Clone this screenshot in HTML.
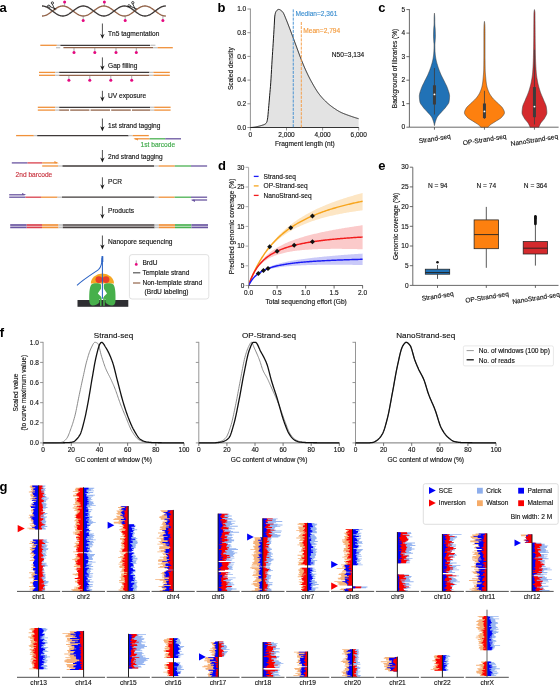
<!DOCTYPE html><html><head><meta charset="utf-8"><title>Figure</title><style>html,body{margin:0;padding:0;background:#fff;overflow:hidden;}svg{display:block;}</style></head><body><svg width="560" height="685" viewBox="0 0 560 685" font-family="Liberation Sans, Arial, sans-serif"><text x="-0.6" y="11.5" font-size="13" font-weight="bold" fill="#000">a</text>
<path d="M42,16 L42.48,16 L42.96,15.97 L43.43,15.91 L43.91,15.83 L44.39,15.72 L44.87,15.59 L45.35,15.43 L45.82,15.25 L46.3,15.05 L46.78,14.82 L47.26,14.58 L47.74,14.31 L48.21,14.03 L48.69,13.73 L49.17,13.42 L49.65,13.09 L50.13,12.76 L50.6,12.41 L51.08,12.06 L51.56,11.7 L52.04,11.33 L52.52,10.97 L52.99,10.6 L53.47,10.24 L53.95,9.88 L54.43,9.53 L54.91,9.18 L55.38,8.85 L55.86,8.53 L56.34,8.21 L56.82,7.92 L57.3,7.64 L57.77,7.38 L58.25,7.14 L58.73,6.91 L59.21,6.72 L59.69,6.54 L60.16,6.39 L60.64,6.26 L61.12,6.15 L61.6,6.08 L62.08,6.03 L62.55,6 L63.03,6 L63.51,6.03 L63.99,6.09 L64.47,6.17 L64.94,6.28 L65.42,6.41 L65.9,6.57 L66.38,6.75 L66.86,6.95 L67.33,7.18 L67.81,7.42 L68.29,7.69 L68.77,7.97 L69.25,8.27 L69.72,8.58 L70.2,8.91 L70.68,9.25 L71.16,9.59 L71.64,9.95 L72.11,10.31 L72.59,10.67 L73.07,11.03 L73.55,11.4 L74.03,11.76 L74.5,12.12 L74.98,12.47 L75.46,12.82 L75.94,13.15 L76.42,13.48 L76.89,13.79 L77.37,14.08 L77.85,14.36 L78.33,14.62 L78.81,14.87 L79.28,15.09 L79.76,15.29 L80.24,15.46 L80.72,15.62 L81.2,15.74 L81.67,15.85 L82.15,15.92 L82.63,15.97 L83.11,16 L83.59,16 L84.06,15.97 L84.54,15.91 L85.02,15.83 L85.5,15.72 L85.98,15.59 L86.45,15.43 L86.93,15.25 L87.41,15.05 L87.89,14.82 L88.37,14.57 L88.84,14.31 L89.32,14.03 L89.8,13.73 L90.28,13.42 L90.76,13.09 L91.23,12.75 L91.71,12.41 L92.19,12.05 L92.67,11.69 L93.15,11.33 L93.62,10.96 L94.1,10.6 L94.58,10.24 L95.06,9.88 L95.54,9.52 L96.01,9.18 L96.49,8.84 L96.97,8.52 L97.45,8.21 L97.93,7.91 L98.4,7.64 L98.88,7.37 L99.36,7.13 L99.84,6.91 L100.32,6.71 L100.79,6.54 L101.27,6.38 L101.75,6.26 L102.23,6.15 L102.71,6.08 L103.18,6.03 L103.66,6 L104.14,6 L104.62,6.03 L105.09,6.09 L105.57,6.17 L106.05,6.28 L106.53,6.41 L107.01,6.57 L107.48,6.75 L107.96,6.96 L108.44,7.18 L108.92,7.43 L109.4,7.69 L109.87,7.98 L110.35,8.27 L110.83,8.59 L111.31,8.91 L111.79,9.25 L112.26,9.6 L112.74,9.95 L113.22,10.31 L113.7,10.67 L114.18,11.04 L114.65,11.4 L115.13,11.77 L115.61,12.13 L116.09,12.48 L116.57,12.82 L117.04,13.16 L117.52,13.48 L118,13.79 L118.48,14.09 L118.96,14.37 L119.43,14.63 L119.91,14.87 L120.39,15.09 L120.87,15.29 L121.35,15.47 L121.82,15.62 L122.3,15.75 L122.78,15.85 L123.26,15.92 L123.74,15.97 L124.21,16 L124.69,15.99 L125.17,15.97 L125.65,15.91 L126.13,15.83 L126.6,15.72 L127.08,15.59 L127.56,15.43 L128.04,15.25 L128.52,15.04 L128.99,14.82 L129.47,14.57 L129.95,14.31 L130.43,14.02 L130.91,13.72 L131.38,13.41 L131.86,13.08 L132.34,12.75 L132.82,12.4 L133.3,12.05 L133.77,11.69 L134.25,11.32 L134.73,10.96 L135.21,10.59 L135.69,10.23 L136.16,9.87 L136.64,9.52 L137.12,9.17 L137.6,8.84 L138.08,8.52 L138.55,8.21 L139.03,7.91 L139.51,7.63 L139.99,7.37 L140.47,7.13 L140.94,6.91 L141.42,6.71 L141.9,6.53 L142.38,6.38 L142.86,6.25 L143.33,6.15 L143.81,6.08 L144.29,6.03 L144.77,6 L145.25,6.01 L145.72,6.03 L146.2,6.09 L146.68,6.17 L147.16,6.28 L147.64,6.42 L148.11,6.57 L148.59,6.76 L149.07,6.96 L149.55,7.19 L150.03,7.43 L150.5,7.7 L150.98,7.98 L151.46,8.28 L151.94,8.59 L152.42,8.92 L152.89,9.26 L153.37,9.6 L153.85,9.96 L154.33,10.32 L154.81,10.68 L155.28,11.05 L155.76,11.41 L156.24,11.77 L156.72,12.13 L157.2,12.48 L157.67,12.83 L158.15,13.16 L158.63,13.49 L159.11,13.8 L159.59,14.09 L160.06,14.37 L160.54,14.63 L161.02,14.87 L161.5,15.09 L161.98,15.29 L162.45,15.47 L162.93,15.62 L163.41,15.75 L163.89,15.85 L164.37,15.93 L164.84,15.97 L165.32,16 L165.8,15.99" fill="none" stroke="#93644a" stroke-width="1.35" />
<path d="M42,6 L42.48,6 L42.96,6.03 L43.43,6.09 L43.91,6.17 L44.39,6.28 L44.87,6.41 L45.35,6.57 L45.82,6.75 L46.3,6.95 L46.78,7.18 L47.26,7.42 L47.74,7.69 L48.21,7.97 L48.69,8.27 L49.17,8.58 L49.65,8.91 L50.13,9.24 L50.6,9.59 L51.08,9.94 L51.56,10.3 L52.04,10.67 L52.52,11.03 L52.99,11.4 L53.47,11.76 L53.95,12.12 L54.43,12.47 L54.91,12.82 L55.38,13.15 L55.86,13.47 L56.34,13.79 L56.82,14.08 L57.3,14.36 L57.77,14.62 L58.25,14.86 L58.73,15.09 L59.21,15.28 L59.69,15.46 L60.16,15.61 L60.64,15.74 L61.12,15.85 L61.6,15.92 L62.08,15.97 L62.55,16 L63.03,16 L63.51,15.97 L63.99,15.91 L64.47,15.83 L64.94,15.72 L65.42,15.59 L65.9,15.43 L66.38,15.25 L66.86,15.05 L67.33,14.82 L67.81,14.58 L68.29,14.31 L68.77,14.03 L69.25,13.73 L69.72,13.42 L70.2,13.09 L70.68,12.75 L71.16,12.41 L71.64,12.05 L72.11,11.69 L72.59,11.33 L73.07,10.97 L73.55,10.6 L74.03,10.24 L74.5,9.88 L74.98,9.53 L75.46,9.18 L75.94,8.85 L76.42,8.52 L76.89,8.21 L77.37,7.92 L77.85,7.64 L78.33,7.38 L78.81,7.13 L79.28,6.91 L79.76,6.71 L80.24,6.54 L80.72,6.38 L81.2,6.26 L81.67,6.15 L82.15,6.08 L82.63,6.03 L83.11,6 L83.59,6 L84.06,6.03 L84.54,6.09 L85.02,6.17 L85.5,6.28 L85.98,6.41 L86.45,6.57 L86.93,6.75 L87.41,6.95 L87.89,7.18 L88.37,7.43 L88.84,7.69 L89.32,7.97 L89.8,8.27 L90.28,8.58 L90.76,8.91 L91.23,9.25 L91.71,9.59 L92.19,9.95 L92.67,10.31 L93.15,10.67 L93.62,11.04 L94.1,11.4 L94.58,11.76 L95.06,12.12 L95.54,12.48 L96.01,12.82 L96.49,13.16 L96.97,13.48 L97.45,13.79 L97.93,14.09 L98.4,14.36 L98.88,14.63 L99.36,14.87 L99.84,15.09 L100.32,15.29 L100.79,15.46 L101.27,15.62 L101.75,15.74 L102.23,15.85 L102.71,15.92 L103.18,15.97 L103.66,16 L104.14,16 L104.62,15.97 L105.09,15.91 L105.57,15.83 L106.05,15.72 L106.53,15.59 L107.01,15.43 L107.48,15.25 L107.96,15.04 L108.44,14.82 L108.92,14.57 L109.4,14.31 L109.87,14.02 L110.35,13.73 L110.83,13.41 L111.31,13.09 L111.79,12.75 L112.26,12.4 L112.74,12.05 L113.22,11.69 L113.7,11.33 L114.18,10.96 L114.65,10.6 L115.13,10.23 L115.61,9.87 L116.09,9.52 L116.57,9.18 L117.04,8.84 L117.52,8.52 L118,8.21 L118.48,7.91 L118.96,7.63 L119.43,7.37 L119.91,7.13 L120.39,6.91 L120.87,6.71 L121.35,6.53 L121.82,6.38 L122.3,6.25 L122.78,6.15 L123.26,6.08 L123.74,6.03 L124.21,6 L124.69,6.01 L125.17,6.03 L125.65,6.09 L126.13,6.17 L126.6,6.28 L127.08,6.41 L127.56,6.57 L128.04,6.75 L128.52,6.96 L128.99,7.18 L129.47,7.43 L129.95,7.69 L130.43,7.98 L130.91,8.28 L131.38,8.59 L131.86,8.92 L132.34,9.25 L132.82,9.6 L133.3,9.95 L133.77,10.31 L134.25,10.68 L134.73,11.04 L135.21,11.41 L135.69,11.77 L136.16,12.13 L136.64,12.48 L137.12,12.83 L137.6,13.16 L138.08,13.48 L138.55,13.79 L139.03,14.09 L139.51,14.37 L139.99,14.63 L140.47,14.87 L140.94,15.09 L141.42,15.29 L141.9,15.47 L142.38,15.62 L142.86,15.75 L143.33,15.85 L143.81,15.92 L144.29,15.97 L144.77,16 L145.25,15.99 L145.72,15.97 L146.2,15.91 L146.68,15.83 L147.16,15.72 L147.64,15.58 L148.11,15.43 L148.59,15.24 L149.07,15.04 L149.55,14.81 L150.03,14.57 L150.5,14.3 L150.98,14.02 L151.46,13.72 L151.94,13.41 L152.42,13.08 L152.89,12.74 L153.37,12.4 L153.85,12.04 L154.33,11.68 L154.81,11.32 L155.28,10.95 L155.76,10.59 L156.24,10.23 L156.72,9.87 L157.2,9.52 L157.67,9.17 L158.15,8.84 L158.63,8.51 L159.11,8.2 L159.59,7.91 L160.06,7.63 L160.54,7.37 L161.02,7.13 L161.5,6.91 L161.98,6.71 L162.45,6.53 L162.93,6.38 L163.41,6.25 L163.89,6.15 L164.37,6.07 L164.84,6.03 L165.32,6 L165.8,6.01" fill="none" stroke="#3f3a39" stroke-width="1.35" />
<line x1="64.6" y1="6" x2="64.6" y2="1.9" stroke="#777" stroke-width="0.6" />
<circle cx="64.6" cy="1.9" r="1.5" fill="#e5087f" />
<line x1="104.4" y1="6" x2="104.4" y2="1.9" stroke="#777" stroke-width="0.6" />
<circle cx="104.4" cy="1.9" r="1.5" fill="#e5087f" />
<line x1="83.2" y1="16" x2="83.2" y2="20.4" stroke="#777" stroke-width="0.6" />
<circle cx="83.2" cy="20.4" r="1.5" fill="#e5087f" />
<line x1="125.2" y1="16" x2="125.2" y2="20.4" stroke="#777" stroke-width="0.6" />
<circle cx="125.2" cy="20.4" r="1.5" fill="#e5087f" />
<line x1="162.9" y1="16" x2="162.9" y2="20.4" stroke="#777" stroke-width="0.6" />
<circle cx="162.9" cy="20.4" r="1.5" fill="#e5087f" />
<g transform="translate(0,0)" stroke="#111" stroke-width="0.8" fill="none"><circle cx="52.4" cy="3.0" r="1.15"/><ellipse cx="48.9" cy="6.2" rx="1.5" ry="0.95" transform="rotate(18 48.9 6.2)"/><path d="M52.4,4.2 L55.0,10.2 M50.3,6.8 L56.4,9.2"/></g>
<g transform="translate(80.4,-0.3)" stroke="#111" stroke-width="0.8" fill="none"><circle cx="52.4" cy="3.0" r="1.15"/><ellipse cx="48.9" cy="6.2" rx="1.5" ry="0.95" transform="rotate(18 48.9 6.2)"/><path d="M52.4,4.2 L55.0,10.2 M50.3,6.8 L56.4,9.2"/></g>
<line x1="102.4" y1="23.5" x2="102.4" y2="35.8" stroke="#333" stroke-width="0.85" />
<path d="M100.2,33.8 L102.4,38.8 L104.6,33.8 L102.4,35.4 Z" fill="#151515" stroke="none" stroke-width="1" />
<text x="108" y="35.91" font-size="6.6" fill="#111" stroke="#111" stroke-width="0.13">Tn5 tagmentation</text>
<line x1="102.4" y1="57.4" x2="102.4" y2="67.4" stroke="#333" stroke-width="0.85" />
<path d="M100.2,65.4 L102.4,70.4 L104.6,65.4 L102.4,67 Z" fill="#151515" stroke="none" stroke-width="1" />
<text x="108" y="67.51" font-size="6.6" fill="#111" stroke="#111" stroke-width="0.13">Gap filling</text>
<line x1="102.4" y1="90.8" x2="102.4" y2="98.6" stroke="#333" stroke-width="0.85" />
<path d="M100.2,96.6 L102.4,101.6 L104.6,96.6 L102.4,98.2 Z" fill="#151515" stroke="none" stroke-width="1" />
<text x="108" y="98.01" font-size="6.6" fill="#111" stroke="#111" stroke-width="0.13">UV exposure</text>
<line x1="102.4" y1="118.5" x2="102.4" y2="128.2" stroke="#333" stroke-width="0.85" />
<path d="M100.2,126.2 L102.4,131.2 L104.6,126.2 L102.4,127.8 Z" fill="#151515" stroke="none" stroke-width="1" />
<text x="108" y="127.91" font-size="6.6" fill="#111" stroke="#111" stroke-width="0.13">1st strand tagging</text>
<line x1="102.4" y1="150" x2="102.4" y2="159.4" stroke="#333" stroke-width="0.85" />
<path d="M100.2,157.4 L102.4,162.4 L104.6,157.4 L102.4,159 Z" fill="#151515" stroke="none" stroke-width="1" />
<text x="108" y="159.11" font-size="6.6" fill="#111" stroke="#111" stroke-width="0.13">2nd strand tagging</text>
<line x1="102.4" y1="177.3" x2="102.4" y2="186.3" stroke="#333" stroke-width="0.85" />
<path d="M100.2,184.3 L102.4,189.3 L104.6,184.3 L102.4,185.9 Z" fill="#151515" stroke="none" stroke-width="1" />
<text x="108" y="184.21" font-size="6.6" fill="#111" stroke="#111" stroke-width="0.13">PCR</text>
<line x1="102.4" y1="206.2" x2="102.4" y2="215.8" stroke="#333" stroke-width="0.85" />
<path d="M100.2,213.8 L102.4,218.8 L104.6,213.8 L102.4,215.4 Z" fill="#151515" stroke="none" stroke-width="1" />
<text x="108" y="212.91" font-size="6.6" fill="#111" stroke="#111" stroke-width="0.13">Products</text>
<line x1="102.4" y1="235.5" x2="102.4" y2="246.5" stroke="#333" stroke-width="0.85" />
<path d="M100.2,244.5 L102.4,249.5 L104.6,244.5 L102.4,246.1 Z" fill="#151515" stroke="none" stroke-width="1" />
<text x="108" y="243.51" font-size="6.6" fill="#111" stroke="#111" stroke-width="0.13">Nanopore sequencing</text>
<line x1="40.3" y1="45.3" x2="56.8" y2="45.3" stroke="#f0913a" stroke-width="1.3" />
<line x1="56.8" y1="45.3" x2="60.4" y2="45.3" stroke="#c4c4c4" stroke-width="1.3" />
<line x1="60.4" y1="45.3" x2="150.2" y2="45.3" stroke="#3f3a39" stroke-width="1.3" />
<line x1="151" y1="45.3" x2="155.4" y2="45.3" stroke="#c4c4c4" stroke-width="1.3" />
<line x1="56" y1="47.7" x2="60.2" y2="47.7" stroke="#c4c4c4" stroke-width="1.3" />
<line x1="63.4" y1="47.7" x2="153.2" y2="47.7" stroke="#93644a" stroke-width="1.3" />
<line x1="153.2" y1="47.7" x2="157.6" y2="47.7" stroke="#c4c4c4" stroke-width="1.3" />
<line x1="157.6" y1="47.7" x2="172.8" y2="47.7" stroke="#f0913a" stroke-width="1.3" />
<line x1="74" y1="47.7" x2="74" y2="52.6" stroke="#777" stroke-width="0.6" />
<circle cx="74" cy="52.6" r="1.5" fill="#e5087f" />
<line x1="94.8" y1="47.7" x2="94.8" y2="52.6" stroke="#777" stroke-width="0.6" />
<circle cx="94.8" cy="52.6" r="1.5" fill="#e5087f" />
<line x1="116" y1="47.7" x2="116" y2="52.6" stroke="#777" stroke-width="0.6" />
<circle cx="116" cy="52.6" r="1.5" fill="#e5087f" />
<line x1="136.3" y1="47.7" x2="136.3" y2="52.6" stroke="#777" stroke-width="0.6" />
<circle cx="136.3" cy="52.6" r="1.5" fill="#e5087f" />
<line x1="39" y1="72.4" x2="55.2" y2="72.4" stroke="#f0913a" stroke-width="1.3" />
<line x1="55.2" y1="72.4" x2="59.2" y2="72.4" stroke="#c4c4c4" stroke-width="1.3" />
<line x1="59.2" y1="72.4" x2="149.4" y2="72.4" stroke="#3f3a39" stroke-width="1.3" />
<line x1="149.4" y1="72.4" x2="153.4" y2="72.4" stroke="#c4c4c4" stroke-width="1.3" />
<line x1="153.4" y1="72.4" x2="169.8" y2="72.4" stroke="#f0913a" stroke-width="1.3" />
<line x1="39" y1="75.3" x2="55.2" y2="75.3" stroke="#f0913a" stroke-width="1.3" />
<line x1="55.2" y1="75.3" x2="59.2" y2="75.3" stroke="#c4c4c4" stroke-width="1.3" />
<line x1="59.2" y1="75.3" x2="149.4" y2="75.3" stroke="#93644a" stroke-width="1.3" />
<line x1="149.4" y1="75.3" x2="153.4" y2="75.3" stroke="#c4c4c4" stroke-width="1.3" />
<line x1="153.4" y1="75.3" x2="169.8" y2="75.3" stroke="#f0913a" stroke-width="1.3" />
<line x1="68.9" y1="75.3" x2="68.9" y2="80.2" stroke="#777" stroke-width="0.6" />
<circle cx="68.9" cy="80.2" r="1.5" fill="#e5087f" />
<line x1="89.8" y1="75.3" x2="89.8" y2="80.2" stroke="#777" stroke-width="0.6" />
<circle cx="89.8" cy="80.2" r="1.5" fill="#e5087f" />
<line x1="110.8" y1="75.3" x2="110.8" y2="80.2" stroke="#777" stroke-width="0.6" />
<circle cx="110.8" cy="80.2" r="1.5" fill="#e5087f" />
<line x1="131.7" y1="75.3" x2="131.7" y2="80.2" stroke="#777" stroke-width="0.6" />
<circle cx="131.7" cy="80.2" r="1.5" fill="#e5087f" />
<line x1="37.8" y1="107.3" x2="55.2" y2="107.3" stroke="#f0913a" stroke-width="1.3" />
<line x1="55.2" y1="107.3" x2="59.2" y2="107.3" stroke="#c4c4c4" stroke-width="1.3" />
<line x1="59.2" y1="107.3" x2="150.2" y2="107.3" stroke="#3f3a39" stroke-width="1.3" />
<line x1="150.2" y1="107.3" x2="154.2" y2="107.3" stroke="#c4c4c4" stroke-width="1.3" />
<line x1="154.2" y1="107.3" x2="170.6" y2="107.3" stroke="#f0913a" stroke-width="1.3" />
<line x1="37.8" y1="110.1" x2="55.2" y2="110.1" stroke="#f0913a" stroke-width="1.3" />
<line x1="55.2" y1="110.1" x2="59.2" y2="110.1" stroke="#c4c4c4" stroke-width="1.3" />
<line x1="59.2" y1="110.1" x2="69" y2="110.1" stroke="#93644a" stroke-width="1.3" />
<line x1="70.2" y1="110.1" x2="89.4" y2="110.1" stroke="#93644a" stroke-width="1.3" />
<line x1="90.6" y1="110.1" x2="110" y2="110.1" stroke="#93644a" stroke-width="1.3" />
<line x1="111.2" y1="110.1" x2="130.8" y2="110.1" stroke="#93644a" stroke-width="1.3" />
<line x1="132" y1="110.1" x2="150.2" y2="110.1" stroke="#93644a" stroke-width="1.3" />
<line x1="150.2" y1="110.1" x2="154.2" y2="110.1" stroke="#c4c4c4" stroke-width="1.3" />
<line x1="154.2" y1="110.1" x2="170.6" y2="110.1" stroke="#f0913a" stroke-width="1.3" />
<line x1="16.1" y1="135.6" x2="33.8" y2="135.6" stroke="#f0913a" stroke-width="1.3" />
<line x1="33.8" y1="135.6" x2="37.2" y2="135.6" stroke="#c4c4c4" stroke-width="1.3" />
<line x1="37.2" y1="135.6" x2="128.6" y2="135.6" stroke="#3f3a39" stroke-width="1.3" />
<line x1="128.6" y1="135.6" x2="132.7" y2="135.6" stroke="#c4c4c4" stroke-width="1.3" />
<line x1="132.7" y1="135.6" x2="148.8" y2="135.6" stroke="#f0913a" stroke-width="1.3" />
<line x1="134.6" y1="138.8" x2="149.6" y2="138.8" stroke="#f0913a" stroke-width="1.3" />
<line x1="149.6" y1="138.8" x2="165.2" y2="138.8" stroke="#4bb152" stroke-width="1.3" />
<line x1="165.2" y1="138.8" x2="181" y2="138.8" stroke="#6a55a0" stroke-width="1.3" />
<path d="M133.4,138.5 L138,138.5 L138,140.6 Z" fill="#f0913a" stroke="none" stroke-width="1" />
<text x="140.6" y="146.91" font-size="6.6" fill="#3aa845" stroke="#3aa845" stroke-width="0.13">1st barcode</text>
<line x1="11.8" y1="162.9" x2="27.5" y2="162.9" stroke="#6a55a0" stroke-width="1.3" />
<line x1="27.5" y1="162.9" x2="42.2" y2="162.9" stroke="#d9414d" stroke-width="1.3" />
<line x1="42.2" y1="162.9" x2="57.2" y2="162.9" stroke="#f0913a" stroke-width="1.3" />
<path d="M58.8,163.2 L54.4,163.2 L54.4,161 Z" fill="#f0913a" stroke="none" stroke-width="1" />
<line x1="42.2" y1="166" x2="58" y2="166" stroke="#f0913a" stroke-width="1.3" />
<line x1="58" y1="166" x2="62.5" y2="166" stroke="#c4c4c4" stroke-width="1.3" />
<line x1="62.5" y1="166" x2="154" y2="166" stroke="#3f3a39" stroke-width="1.3" />
<line x1="154" y1="166" x2="158.6" y2="166" stroke="#c4c4c4" stroke-width="1.3" />
<line x1="158.6" y1="166" x2="174.8" y2="166" stroke="#f0913a" stroke-width="1.3" />
<line x1="174.8" y1="166" x2="191" y2="166" stroke="#4bb152" stroke-width="1.3" />
<line x1="191" y1="166" x2="207.1" y2="166" stroke="#6a55a0" stroke-width="1.3" />
<text x="15.6" y="177.41" font-size="6.6" fill="#c8303c" stroke="#c8303c" stroke-width="0.13">2nd barcode</text>
<line x1="9.2" y1="194.8" x2="24.6" y2="194.8" stroke="#6a55a0" stroke-width="1.3" />
<path d="M26.4,195.1 L22,195.1 L22,192.9 Z" fill="#6a55a0" stroke="none" stroke-width="1" />
<line x1="9.2" y1="197.2" x2="25.5" y2="197.2" stroke="#6a55a0" stroke-width="1.3" />
<line x1="25.5" y1="197.2" x2="41" y2="197.2" stroke="#d9414d" stroke-width="1.3" />
<line x1="41" y1="197.2" x2="57.5" y2="197.2" stroke="#f0913a" stroke-width="1.3" />
<line x1="57.5" y1="197.2" x2="62" y2="197.2" stroke="#c4c4c4" stroke-width="1.3" />
<line x1="62" y1="197.2" x2="154.4" y2="197.2" stroke="#3f3a39" stroke-width="1.3" />
<line x1="154.4" y1="197.2" x2="158.6" y2="197.2" stroke="#c4c4c4" stroke-width="1.3" />
<line x1="158.6" y1="197.2" x2="174.6" y2="197.2" stroke="#f0913a" stroke-width="1.3" />
<line x1="174.6" y1="197.2" x2="191" y2="197.2" stroke="#4bb152" stroke-width="1.3" />
<line x1="191" y1="197.2" x2="207.1" y2="197.2" stroke="#6a55a0" stroke-width="1.3" />
<line x1="192.4" y1="200" x2="207.1" y2="200" stroke="#6a55a0" stroke-width="1.3" />
<path d="M190.6,199.7 L195,199.7 L195,201.9 Z" fill="#6a55a0" stroke="none" stroke-width="1" />
<line x1="10.2" y1="225" x2="26.7" y2="225" stroke="#6a55a0" stroke-width="1.7" />
<line x1="26.7" y1="225" x2="42" y2="225" stroke="#d9414d" stroke-width="1.7" />
<line x1="42" y1="225" x2="58.5" y2="225" stroke="#f0913a" stroke-width="1.7" />
<line x1="58.5" y1="225" x2="62.8" y2="225" stroke="#c4c4c4" stroke-width="1.7" />
<line x1="62.8" y1="225" x2="154.6" y2="225" stroke="#4a4242" stroke-width="1.7" />
<line x1="154.6" y1="225" x2="158.8" y2="225" stroke="#c4c4c4" stroke-width="1.7" />
<line x1="158.8" y1="225" x2="175" y2="225" stroke="#f0913a" stroke-width="1.7" />
<line x1="175" y1="225" x2="191.4" y2="225" stroke="#4bb152" stroke-width="1.7" />
<line x1="191.4" y1="225" x2="208" y2="225" stroke="#6a55a0" stroke-width="1.7" />
<line x1="10.2" y1="227.4" x2="26.7" y2="227.4" stroke="#6a55a0" stroke-width="1.7" />
<line x1="26.7" y1="227.4" x2="42" y2="227.4" stroke="#d9414d" stroke-width="1.7" />
<line x1="42" y1="227.4" x2="58.5" y2="227.4" stroke="#f0913a" stroke-width="1.7" />
<line x1="58.5" y1="227.4" x2="62.8" y2="227.4" stroke="#c4c4c4" stroke-width="1.7" />
<line x1="62.8" y1="227.4" x2="154.6" y2="227.4" stroke="#4a4242" stroke-width="1.7" />
<line x1="154.6" y1="227.4" x2="158.8" y2="227.4" stroke="#c4c4c4" stroke-width="1.7" />
<line x1="158.8" y1="227.4" x2="175" y2="227.4" stroke="#f0913a" stroke-width="1.7" />
<line x1="175" y1="227.4" x2="191.4" y2="227.4" stroke="#4bb152" stroke-width="1.7" />
<line x1="191.4" y1="227.4" x2="208" y2="227.4" stroke="#6a55a0" stroke-width="1.7" />
<rect x="77.5" y="300" width="50.8" height="6.8" fill="#2e2e32" />
<path d="M90.8,283.6 A11.6,10 0 0 1 114,283.6 Z" fill="#f5a623"/>
<circle cx="98.9" cy="279.6" r="3.4" fill="#e8402a" />
<circle cx="106" cy="279.6" r="3.4" fill="#e8402a" />
<path d="M101.0,284.6 C99.6,282.8 93.6,282.6 91.4,284.6 C89.3,287 89.1,295 89.3,301 C89.5,304.3 90.8,305.4 92.8,305.4 C95.6,305.4 98.3,303.9 99.4,302.2 L99.4,299.4 L101.0,298 Z" fill="#47b04b"/>
<path d="M101.0,284.6 C99.6,282.8 93.6,282.6 91.4,284.6 C89.3,287 89.1,295 89.3,301 C89.5,304.3 90.8,305.4 92.8,305.4 C95.6,305.4 98.3,303.9 99.4,302.2 L99.4,299.4 L101.0,298 Z" fill="#47b04b" transform="translate(204.8,0) scale(-1,1)"/>
<path d="M102.4,286.6 L97.8,293.4 L102.4,298 L107,293.4 Z" fill="#fff" stroke="none" stroke-width="1" />
<rect x="100" y="297.4" width="1.6" height="8.4" fill="#47b04b" />
<rect x="103.2" y="297.4" width="1.6" height="8.4" fill="#47b04b" />
<line x1="102.4" y1="256.2" x2="102.4" y2="298.8" stroke="#2a62c4" stroke-width="1.05" />
<path d="M102.1,258 C102,263 101.6,267 98.5,269.6 C94,273 85,278.2 77,285.3" fill="none" stroke="#2a62c4" stroke-width="1.05" />
<line x1="102.4" y1="256.2" x2="102.4" y2="262" stroke="#2a62c4" stroke-width="1.8" />
<rect x="129.4" y="254.6" width="79.4" height="44.4" rx="2.6" fill="#fff" stroke="#d4d4d4" stroke-width="0.7"/>
<line x1="136.25" y1="260.4" x2="136.25" y2="263.2" stroke="#777" stroke-width="0.6" />
<circle cx="136.25" cy="264.4" r="1.4" fill="#e5087f" />
<text x="142.4" y="264.91" font-size="6.6" fill="#111" stroke="#111" stroke-width="0.13">BrdU</text>
<line x1="133" y1="272.8" x2="140.3" y2="272.8" stroke="#555" stroke-width="1.2" />
<text x="142.4" y="274.61" font-size="6.6" fill="#111" stroke="#111" stroke-width="0.13">Template strand</text>
<line x1="133" y1="283" x2="140.3" y2="283" stroke="#93644a" stroke-width="1.2" />
<text x="142.4" y="284.61" font-size="6.6" fill="#111" stroke="#111" stroke-width="0.13">Non-template strand</text>
<text x="144.6" y="294.31" font-size="6.6" fill="#111" stroke="#111" stroke-width="0.13">(BrdU labeling)</text>
<text x="217.6" y="11.6" font-size="13" font-weight="bold" fill="#000">b</text>
<path d="M250.4,127.5 L250.67,127.49 L250.94,127.48 L251.21,127.46 L251.48,127.45 L251.76,127.43 L252.03,127.4 L252.3,127.38 L252.57,127.36 L252.84,127.33 L253.11,127.3 L253.38,127.27 L253.65,127.24 L253.93,127.21 L254.2,127.18 L254.47,127.14 L254.74,127.1 L255.01,127.05 L255.28,127 L255.55,126.95 L255.82,126.89 L256.09,126.84 L256.37,126.78 L256.64,126.72 L256.91,126.65 L257.18,126.59 L257.45,126.53 L257.72,126.46 L257.99,126.4 L258.26,126.34 L258.54,126.27 L258.81,126.21 L259.08,126.14 L259.35,126.07 L259.62,126 L259.89,125.93 L260.16,125.86 L260.43,125.78 L260.7,125.7 L260.98,125.62 L261.25,125.54 L261.52,125.46 L261.79,125.37 L262.06,125.28 L262.33,125.19 L262.6,125.11 L262.87,125.02 L263.15,124.94 L263.42,124.85 L263.69,124.75 L263.96,124.65 L264.23,124.54 L264.5,124.42 L264.77,124.28 L265.04,124.13 L265.31,123.96 L265.59,123.76 L265.86,123.5 L266.13,123.17 L266.4,122.77 L266.67,122.27 L266.94,121.63 L267.21,120.58 L267.48,119.18 L267.76,117.37 L268.03,114.7 L268.3,111.53 L268.57,108.35 L268.84,105.3 L269.11,102.16 L269.38,98.97 L269.65,95.77 L269.92,92.67 L270.2,89.58 L270.47,86.36 L270.74,82.85 L271.01,78.86 L271.28,74.34 L271.55,69.53 L271.82,64.7 L272.09,60.09 L272.37,55.8 L272.64,51.64 L272.91,47.49 L273.18,43.24 L273.45,38.83 L273.72,34.34 L273.99,29.78 L274.26,25.21 L274.53,20.03 L274.81,16.06 L275.08,14.45 L275.35,13.27 L275.62,12.42 L275.89,11.82 L276.16,11.34 L276.43,10.93 L276.7,10.58 L276.98,10.3 L277.25,10.07 L277.52,9.89 L277.79,9.74 L278.06,9.6 L278.33,9.49 L278.6,9.42 L278.87,9.4 L279.14,9.44 L279.42,9.52 L279.69,9.63 L279.96,9.77 L280.23,9.92 L280.5,10.08 L280.77,10.24 L281.04,10.42 L281.31,10.62 L281.59,10.85 L281.86,11.11 L282.13,11.39 L282.4,11.69 L282.67,12.01 L282.94,12.35 L283.21,12.75 L283.48,13.21 L283.75,13.73 L284.03,14.3 L284.3,14.9 L284.57,15.54 L284.84,16.2 L285.11,16.87 L285.38,17.54 L285.65,18.22 L285.92,18.88 L286.2,19.53 L286.47,20.18 L286.74,20.84 L287.01,21.52 L287.28,22.21 L287.55,22.9 L287.82,23.6 L288.09,24.31 L288.36,25.02 L288.64,25.73 L288.91,26.45 L289.18,27.16 L289.45,27.87 L289.72,28.58 L289.99,29.29 L290.26,30 L290.53,30.72 L290.81,31.43 L291.08,32.15 L291.35,32.88 L291.62,33.6 L291.89,34.32 L292.16,35.05 L292.43,35.78 L292.7,36.5 L292.97,37.23 L293.25,37.96 L293.52,38.7 L293.79,39.43 L294.06,40.17 L294.33,40.91 L294.6,41.65 L294.87,42.39 L295.14,43.13 L295.42,43.88 L295.69,44.62 L295.96,45.36 L296.23,46.1 L296.5,46.84 L296.77,47.57 L297.04,48.31 L297.31,49.04 L297.58,49.77 L297.86,50.5 L298.13,51.24 L298.4,51.97 L298.67,52.71 L298.94,53.44 L299.21,54.17 L299.48,54.9 L299.75,55.63 L300.03,56.35 L300.3,57.06 L300.57,57.77 L300.84,58.47 L301.11,59.17 L301.38,59.85 L301.65,60.53 L301.92,61.21 L302.19,61.88 L302.47,62.55 L302.74,63.22 L303.01,63.88 L303.28,64.54 L303.55,65.19 L303.82,65.84 L304.09,66.48 L304.36,67.11 L304.64,67.74 L304.91,68.37 L305.18,68.98 L305.45,69.59 L305.72,70.19 L305.99,70.78 L306.26,71.37 L306.53,71.95 L306.81,72.53 L307.08,73.1 L307.35,73.67 L307.62,74.23 L307.89,74.79 L308.16,75.35 L308.43,75.9 L308.7,76.44 L308.97,76.98 L309.25,77.52 L309.52,78.05 L309.79,78.58 L310.06,79.1 L310.33,79.62 L310.6,80.13 L310.87,80.63 L311.14,81.13 L311.42,81.63 L311.69,82.12 L311.96,82.6 L312.23,83.08 L312.5,83.56 L312.77,84.04 L313.04,84.52 L313.31,84.99 L313.58,85.47 L313.86,85.94 L314.13,86.4 L314.4,86.86 L314.67,87.32 L314.94,87.78 L315.21,88.23 L315.48,88.68 L315.75,89.12 L316.03,89.55 L316.3,89.99 L316.57,90.41 L316.84,90.83 L317.11,91.25 L317.38,91.65 L317.65,92.05 L317.92,92.45 L318.19,92.83 L318.47,93.21 L318.74,93.58 L319.01,93.95 L319.28,94.3 L319.55,94.65 L319.82,95 L320.09,95.34 L320.36,95.67 L320.64,96 L320.91,96.33 L321.18,96.65 L321.45,96.97 L321.72,97.28 L321.99,97.59 L322.26,97.9 L322.53,98.2 L322.8,98.49 L323.08,98.79 L323.35,99.08 L323.62,99.36 L323.89,99.65 L324.16,99.93 L324.43,100.2 L324.7,100.47 L324.97,100.74 L325.25,101.01 L325.52,101.27 L325.79,101.53 L326.06,101.79 L326.33,102.04 L326.6,102.29 L326.87,102.54 L327.14,102.79 L327.41,103.03 L327.69,103.27 L327.96,103.51 L328.23,103.74 L328.5,103.97 L328.77,104.2 L329.04,104.43 L329.31,104.65 L329.58,104.88 L329.86,105.1 L330.13,105.31 L330.4,105.53 L330.67,105.74 L330.94,105.95 L331.21,106.16 L331.48,106.36 L331.75,106.57 L332.02,106.77 L332.3,106.97 L332.57,107.16 L332.84,107.36 L333.11,107.55 L333.38,107.74 L333.65,107.93 L333.92,108.12 L334.19,108.31 L334.47,108.49 L334.74,108.67 L335.01,108.86 L335.28,109.04 L335.55,109.22 L335.82,109.4 L336.09,109.58 L336.36,109.75 L336.63,109.93 L336.91,110.1 L337.18,110.27 L337.45,110.44 L337.72,110.6 L337.99,110.76 L338.26,110.93 L338.53,111.08 L338.8,111.24 L339.08,111.39 L339.35,111.55 L339.62,111.69 L339.89,111.84 L340.16,111.98 L340.43,112.12 L340.7,112.25 L340.97,112.39 L341.24,112.52 L341.52,112.64 L341.79,112.77 L342.06,112.89 L342.33,113.01 L342.6,113.13 L342.87,113.24 L343.14,113.36 L343.41,113.47 L343.69,113.58 L343.96,113.69 L344.23,113.79 L344.5,113.9 L344.77,114 L345.04,114.11 L345.31,114.21 L345.58,114.31 L345.85,114.41 L346.13,114.51 L346.4,114.61 L346.67,114.71 L346.94,114.81 L347.21,114.91 L347.48,115 L347.75,115.1 L348.02,115.2 L348.3,115.3 L348.57,115.4 L348.84,115.49 L349.11,115.59 L349.38,115.69 L349.65,115.79 L349.92,115.88 L350.19,115.98 L350.46,116.07 L350.74,116.17 L351.01,116.26 L351.28,116.36 L351.55,116.45 L351.82,116.54 L352.09,116.64 L352.36,116.73 L352.63,116.82 L352.91,116.91 L353.18,117 L353.45,117.09 L353.72,117.18 L353.99,117.27 L354.26,117.36 L354.53,117.45 L354.8,117.53 L355.07,117.62 L355.35,117.71 L355.62,117.79 L355.89,117.88 L356.16,117.96 L356.43,118.05 L356.7,118.13 L356.97,118.22 L357.24,118.3 L357.52,118.38 L357.79,118.46 L358.06,118.54 L358.33,118.62 L358.6,118.7 L358.6,127.5 L250.4,127.5 Z" fill="#e3e3e3" stroke="none" stroke-width="1" />
<line x1="250.4" y1="8.6" x2="250.4" y2="127.5" stroke="#777" stroke-width="0.8" />
<line x1="247.4" y1="127.5" x2="250.4" y2="127.5" stroke="#777" stroke-width="0.8" />
<text x="246.2" y="129.78" font-size="6.5" text-anchor="end" fill="#111" stroke="#111" stroke-width="0.13">0.0</text>
<line x1="247.4" y1="103.8" x2="250.4" y2="103.8" stroke="#777" stroke-width="0.8" />
<text x="246.2" y="106.08" font-size="6.5" text-anchor="end" fill="#111" stroke="#111" stroke-width="0.13">0.2</text>
<line x1="247.4" y1="80.1" x2="250.4" y2="80.1" stroke="#777" stroke-width="0.8" />
<text x="246.2" y="82.38" font-size="6.5" text-anchor="end" fill="#111" stroke="#111" stroke-width="0.13">0.4</text>
<line x1="247.4" y1="56.4" x2="250.4" y2="56.4" stroke="#777" stroke-width="0.8" />
<text x="246.2" y="58.68" font-size="6.5" text-anchor="end" fill="#111" stroke="#111" stroke-width="0.13">0.6</text>
<line x1="247.4" y1="32.7" x2="250.4" y2="32.7" stroke="#777" stroke-width="0.8" />
<text x="246.2" y="34.98" font-size="6.5" text-anchor="end" fill="#111" stroke="#111" stroke-width="0.13">0.8</text>
<line x1="247.4" y1="9" x2="250.4" y2="9" stroke="#777" stroke-width="0.8" />
<text x="246.2" y="11.28" font-size="6.5" text-anchor="end" fill="#111" stroke="#111" stroke-width="0.13">1.0</text>
<line x1="250.4" y1="127.5" x2="358.7" y2="127.5" stroke="#777" stroke-width="0.8" />
<line x1="250.4" y1="127.5" x2="250.4" y2="130.5" stroke="#777" stroke-width="0.8" />
<text x="250.4" y="136.97" font-size="6.5" text-anchor="middle" fill="#111" stroke="#111" stroke-width="0.13">0</text>
<line x1="286.5" y1="127.5" x2="286.5" y2="130.5" stroke="#777" stroke-width="0.8" />
<text x="286.5" y="136.97" font-size="6.5" text-anchor="middle" fill="#111" stroke="#111" stroke-width="0.13">2,000</text>
<line x1="322.6" y1="127.5" x2="322.6" y2="130.5" stroke="#777" stroke-width="0.8" />
<text x="322.6" y="136.97" font-size="6.5" text-anchor="middle" fill="#111" stroke="#111" stroke-width="0.13">4,000</text>
<line x1="358.7" y1="127.5" x2="358.7" y2="130.5" stroke="#777" stroke-width="0.8" />
<text x="358.7" y="136.97" font-size="6.5" text-anchor="middle" fill="#111" stroke="#111" stroke-width="0.13">6,000</text>
<line x1="250.4" y1="127.5" x2="358.7" y2="127.5" stroke="#2a2a2a" stroke-width="0.9" />
<path d="M250.4,127.5 L250.67,127.49 L250.94,127.48 L251.21,127.46 L251.48,127.45 L251.76,127.43 L252.03,127.4 L252.3,127.38 L252.57,127.36 L252.84,127.33 L253.11,127.3 L253.38,127.27 L253.65,127.24 L253.93,127.21 L254.2,127.18 L254.47,127.14 L254.74,127.1 L255.01,127.05 L255.28,127 L255.55,126.95 L255.82,126.89 L256.09,126.84 L256.37,126.78 L256.64,126.72 L256.91,126.65 L257.18,126.59 L257.45,126.53 L257.72,126.46 L257.99,126.4 L258.26,126.34 L258.54,126.27 L258.81,126.21 L259.08,126.14 L259.35,126.07 L259.62,126 L259.89,125.93 L260.16,125.86 L260.43,125.78 L260.7,125.7 L260.98,125.62 L261.25,125.54 L261.52,125.46 L261.79,125.37 L262.06,125.28 L262.33,125.19 L262.6,125.11 L262.87,125.02 L263.15,124.94 L263.42,124.85 L263.69,124.75 L263.96,124.65 L264.23,124.54 L264.5,124.42 L264.77,124.28 L265.04,124.13 L265.31,123.96 L265.59,123.76 L265.86,123.5 L266.13,123.17 L266.4,122.77 L266.67,122.27 L266.94,121.63 L267.21,120.58 L267.48,119.18 L267.76,117.37 L268.03,114.7 L268.3,111.53 L268.57,108.35 L268.84,105.3 L269.11,102.16 L269.38,98.97 L269.65,95.77 L269.92,92.67 L270.2,89.58 L270.47,86.36 L270.74,82.85 L271.01,78.86 L271.28,74.34 L271.55,69.53 L271.82,64.7 L272.09,60.09 L272.37,55.8 L272.64,51.64 L272.91,47.49 L273.18,43.24 L273.45,38.83 L273.72,34.34 L273.99,29.78 L274.26,25.21 L274.53,20.03 L274.81,16.06 L275.08,14.45 L275.35,13.27 L275.62,12.42 L275.89,11.82 L276.16,11.34 L276.43,10.93 L276.7,10.58 L276.98,10.3 L277.25,10.07 L277.52,9.89 L277.79,9.74 L278.06,9.6 L278.33,9.49 L278.6,9.42 L278.87,9.4 L279.14,9.44 L279.42,9.52 L279.69,9.63 L279.96,9.77 L280.23,9.92 L280.5,10.08 L280.77,10.24 L281.04,10.42 L281.31,10.62 L281.59,10.85 L281.86,11.11 L282.13,11.39 L282.4,11.69 L282.67,12.01 L282.94,12.35 L283.21,12.75 L283.48,13.21 L283.75,13.73 L284.03,14.3 L284.3,14.9 L284.57,15.54 L284.84,16.2 L285.11,16.87 L285.38,17.54 L285.65,18.22 L285.92,18.88 L286.2,19.53 L286.47,20.18 L286.74,20.84 L287.01,21.52 L287.28,22.21 L287.55,22.9 L287.82,23.6 L288.09,24.31 L288.36,25.02 L288.64,25.73 L288.91,26.45 L289.18,27.16 L289.45,27.87 L289.72,28.58 L289.99,29.29 L290.26,30 L290.53,30.72 L290.81,31.43 L291.08,32.15 L291.35,32.88 L291.62,33.6 L291.89,34.32 L292.16,35.05 L292.43,35.78 L292.7,36.5 L292.97,37.23 L293.25,37.96 L293.52,38.7 L293.79,39.43 L294.06,40.17 L294.33,40.91 L294.6,41.65 L294.87,42.39 L295.14,43.13 L295.42,43.88 L295.69,44.62 L295.96,45.36 L296.23,46.1 L296.5,46.84 L296.77,47.57 L297.04,48.31 L297.31,49.04 L297.58,49.77 L297.86,50.5 L298.13,51.24 L298.4,51.97 L298.67,52.71 L298.94,53.44 L299.21,54.17 L299.48,54.9 L299.75,55.63 L300.03,56.35 L300.3,57.06 L300.57,57.77 L300.84,58.47 L301.11,59.17 L301.38,59.85 L301.65,60.53 L301.92,61.21 L302.19,61.88 L302.47,62.55 L302.74,63.22 L303.01,63.88 L303.28,64.54 L303.55,65.19 L303.82,65.84 L304.09,66.48 L304.36,67.11 L304.64,67.74 L304.91,68.37 L305.18,68.98 L305.45,69.59 L305.72,70.19 L305.99,70.78 L306.26,71.37 L306.53,71.95 L306.81,72.53 L307.08,73.1 L307.35,73.67 L307.62,74.23 L307.89,74.79 L308.16,75.35 L308.43,75.9 L308.7,76.44 L308.97,76.98 L309.25,77.52 L309.52,78.05 L309.79,78.58 L310.06,79.1 L310.33,79.62 L310.6,80.13 L310.87,80.63 L311.14,81.13 L311.42,81.63 L311.69,82.12 L311.96,82.6 L312.23,83.08 L312.5,83.56 L312.77,84.04 L313.04,84.52 L313.31,84.99 L313.58,85.47 L313.86,85.94 L314.13,86.4 L314.4,86.86 L314.67,87.32 L314.94,87.78 L315.21,88.23 L315.48,88.68 L315.75,89.12 L316.03,89.55 L316.3,89.99 L316.57,90.41 L316.84,90.83 L317.11,91.25 L317.38,91.65 L317.65,92.05 L317.92,92.45 L318.19,92.83 L318.47,93.21 L318.74,93.58 L319.01,93.95 L319.28,94.3 L319.55,94.65 L319.82,95 L320.09,95.34 L320.36,95.67 L320.64,96 L320.91,96.33 L321.18,96.65 L321.45,96.97 L321.72,97.28 L321.99,97.59 L322.26,97.9 L322.53,98.2 L322.8,98.49 L323.08,98.79 L323.35,99.08 L323.62,99.36 L323.89,99.65 L324.16,99.93 L324.43,100.2 L324.7,100.47 L324.97,100.74 L325.25,101.01 L325.52,101.27 L325.79,101.53 L326.06,101.79 L326.33,102.04 L326.6,102.29 L326.87,102.54 L327.14,102.79 L327.41,103.03 L327.69,103.27 L327.96,103.51 L328.23,103.74 L328.5,103.97 L328.77,104.2 L329.04,104.43 L329.31,104.65 L329.58,104.88 L329.86,105.1 L330.13,105.31 L330.4,105.53 L330.67,105.74 L330.94,105.95 L331.21,106.16 L331.48,106.36 L331.75,106.57 L332.02,106.77 L332.3,106.97 L332.57,107.16 L332.84,107.36 L333.11,107.55 L333.38,107.74 L333.65,107.93 L333.92,108.12 L334.19,108.31 L334.47,108.49 L334.74,108.67 L335.01,108.86 L335.28,109.04 L335.55,109.22 L335.82,109.4 L336.09,109.58 L336.36,109.75 L336.63,109.93 L336.91,110.1 L337.18,110.27 L337.45,110.44 L337.72,110.6 L337.99,110.76 L338.26,110.93 L338.53,111.08 L338.8,111.24 L339.08,111.39 L339.35,111.55 L339.62,111.69 L339.89,111.84 L340.16,111.98 L340.43,112.12 L340.7,112.25 L340.97,112.39 L341.24,112.52 L341.52,112.64 L341.79,112.77 L342.06,112.89 L342.33,113.01 L342.6,113.13 L342.87,113.24 L343.14,113.36 L343.41,113.47 L343.69,113.58 L343.96,113.69 L344.23,113.79 L344.5,113.9 L344.77,114 L345.04,114.11 L345.31,114.21 L345.58,114.31 L345.85,114.41 L346.13,114.51 L346.4,114.61 L346.67,114.71 L346.94,114.81 L347.21,114.91 L347.48,115 L347.75,115.1 L348.02,115.2 L348.3,115.3 L348.57,115.4 L348.84,115.49 L349.11,115.59 L349.38,115.69 L349.65,115.79 L349.92,115.88 L350.19,115.98 L350.46,116.07 L350.74,116.17 L351.01,116.26 L351.28,116.36 L351.55,116.45 L351.82,116.54 L352.09,116.64 L352.36,116.73 L352.63,116.82 L352.91,116.91 L353.18,117 L353.45,117.09 L353.72,117.18 L353.99,117.27 L354.26,117.36 L354.53,117.45 L354.8,117.53 L355.07,117.62 L355.35,117.71 L355.62,117.79 L355.89,117.88 L356.16,117.96 L356.43,118.05 L356.7,118.13 L356.97,118.22 L357.24,118.3 L357.52,118.38 L357.79,118.46 L358.06,118.54 L358.33,118.62 L358.6,118.7" fill="none" stroke="#1a1a1a" stroke-width="1" />
<line x1="293.25" y1="9.4" x2="293.25" y2="127.5" stroke="#3a8ad0" stroke-width="0.9" stroke-dasharray="3,1.1"/>
<line x1="301.3" y1="22" x2="301.3" y2="127.5" stroke="#f5963a" stroke-width="0.9" stroke-dasharray="3,1.1"/>
<text x="295.4" y="15.61" font-size="6.6" fill="#3c8fd0" stroke="#3c8fd0" stroke-width="0.13">Median=2,361</text>
<text x="303.3" y="33.41" font-size="6.6" fill="#f39a3c" stroke="#f39a3c" stroke-width="0.13">Mean=2,794</text>
<text x="331.8" y="56.91" font-size="6.6" fill="#111" stroke="#111" stroke-width="0.13">N50=3,134</text>
<text x="304.8" y="145.71" font-size="6.6" text-anchor="middle" fill="#111" stroke="#111" stroke-width="0.13">Fragment length (nt)</text>
<text transform="translate(230.8,68.6) rotate(-90)" x="0" y="2.31" font-size="6.6" text-anchor="middle" fill="#111" stroke="#111" stroke-width="0.13">Scaled density</text>
<text x="378.3" y="11.5" font-size="13" font-weight="bold" fill="#000">c</text>
<line x1="409.4" y1="9.2" x2="409.4" y2="127.2" stroke="#444" stroke-width="0.8" />
<line x1="406.4" y1="127.2" x2="409.4" y2="127.2" stroke="#444" stroke-width="0.8" />
<text x="405.2" y="129.47" font-size="6.5" text-anchor="end" fill="#111" stroke="#111" stroke-width="0.13">0</text>
<line x1="406.4" y1="103.68" x2="409.4" y2="103.68" stroke="#444" stroke-width="0.8" />
<text x="405.2" y="105.96" font-size="6.5" text-anchor="end" fill="#111" stroke="#111" stroke-width="0.13">1</text>
<line x1="406.4" y1="80.16" x2="409.4" y2="80.16" stroke="#444" stroke-width="0.8" />
<text x="405.2" y="82.44" font-size="6.5" text-anchor="end" fill="#111" stroke="#111" stroke-width="0.13">2</text>
<line x1="406.4" y1="56.64" x2="409.4" y2="56.64" stroke="#444" stroke-width="0.8" />
<text x="405.2" y="58.91" font-size="6.5" text-anchor="end" fill="#111" stroke="#111" stroke-width="0.13">3</text>
<line x1="406.4" y1="33.12" x2="409.4" y2="33.12" stroke="#444" stroke-width="0.8" />
<text x="405.2" y="35.4" font-size="6.5" text-anchor="end" fill="#111" stroke="#111" stroke-width="0.13">4</text>
<line x1="406.4" y1="9.6" x2="409.4" y2="9.6" stroke="#444" stroke-width="0.8" />
<text x="405.2" y="11.88" font-size="6.5" text-anchor="end" fill="#111" stroke="#111" stroke-width="0.13">5</text>
<line x1="409.4" y1="127.2" x2="558.6" y2="127.2" stroke="#444" stroke-width="0.8" />
<line x1="434.45" y1="127.2" x2="434.45" y2="129.7" stroke="#444" stroke-width="0.8" />
<line x1="484.45" y1="127.2" x2="484.45" y2="129.7" stroke="#444" stroke-width="0.8" />
<line x1="534.45" y1="127.2" x2="534.45" y2="129.7" stroke="#444" stroke-width="0.8" />
<path d="M434.45,13.2 L434.51,13.91 L434.57,14.61 L434.62,15.32 L434.67,16.03 L434.71,16.73 L434.74,17.44 L434.75,18.15 L434.76,18.86 L434.77,19.56 L434.77,20.27 L434.78,20.98 L434.78,21.68 L434.79,22.39 L434.8,23.1 L434.82,23.8 L434.85,24.51 L434.9,25.22 L434.95,25.92 L435.01,26.63 L435.07,27.34 L435.13,28.05 L435.18,28.75 L435.23,29.46 L435.26,30.17 L435.28,30.87 L435.31,31.58 L435.33,32.29 L435.35,32.99 L435.37,33.7 L435.39,34.41 L435.4,35.11 L435.4,35.82 L435.4,36.53 L435.38,37.24 L435.34,37.94 L435.3,38.65 L435.26,39.36 L435.21,40.06 L435.16,40.77 L435.12,41.48 L435.05,42.18 L434.98,42.89 L434.92,43.6 L434.87,44.3 L434.85,45.01 L434.85,45.72 L434.86,46.43 L434.87,47.13 L434.89,47.84 L434.91,48.55 L434.93,49.25 L434.95,49.96 L434.98,50.67 L435.01,51.37 L435.06,52.08 L435.12,52.79 L435.18,53.49 L435.24,54.2 L435.31,54.91 L435.39,55.62 L435.49,56.32 L435.59,57.03 L435.7,57.74 L435.82,58.44 L435.95,59.15 L436.08,59.86 L436.23,60.56 L436.39,61.27 L436.56,61.98 L436.75,62.68 L436.94,63.39 L437.15,64.1 L437.36,64.81 L437.58,65.51 L437.8,66.22 L438.03,66.93 L438.26,67.63 L438.5,68.34 L438.75,69.05 L439.01,69.75 L439.27,70.46 L439.55,71.17 L439.83,71.87 L440.12,72.58 L440.42,73.29 L440.72,73.99 L441.03,74.7 L441.35,75.41 L441.69,76.12 L442.04,76.82 L442.4,77.53 L442.76,78.24 L443.13,78.94 L443.49,79.65 L443.84,80.36 L444.19,81.06 L444.53,81.77 L444.87,82.48 L445.22,83.18 L445.57,83.89 L445.92,84.6 L446.27,85.31 L446.6,86.01 L446.92,86.72 L447.21,87.43 L447.49,88.13 L447.73,88.84 L447.96,89.55 L448.2,90.25 L448.44,90.96 L448.67,91.67 L448.89,92.37 L449.09,93.08 L449.26,93.79 L449.4,94.5 L449.5,95.2 L449.55,95.91 L449.55,96.62 L449.52,97.32 L449.48,98.03 L449.43,98.74 L449.36,99.44 L449.27,100.15 L449.18,100.86 L449.07,101.56 L448.92,102.27 L448.64,102.98 L448.27,103.69 L447.82,104.39 L447.32,105.1 L446.79,105.81 L446.26,106.51 L445.74,107.22 L445.19,107.93 L444.6,108.63 L443.96,109.34 L443.3,110.05 L442.63,110.75 L441.96,111.46 L441.32,112.17 L440.7,112.88 L440.07,113.58 L439.42,114.29 L438.78,115 L438.18,115.7 L437.64,116.41 L437.19,117.12 L436.83,117.82 L436.51,118.53 L436.21,119.24 L435.95,119.94 L435.71,120.65 L435.48,121.36 L435.27,122.07 L435.08,122.77 L434.89,123.48 L434.73,124.19 L434.58,124.89 L434.45,125.6 L434.45,125.6 L434.32,124.89 L434.17,124.19 L434.01,123.48 L433.82,122.77 L433.63,122.07 L433.42,121.36 L433.19,120.65 L432.95,119.94 L432.69,119.24 L432.39,118.53 L432.07,117.82 L431.71,117.12 L431.26,116.41 L430.72,115.7 L430.12,115 L429.48,114.29 L428.83,113.58 L428.2,112.88 L427.58,112.17 L426.94,111.46 L426.27,110.75 L425.6,110.05 L424.94,109.34 L424.3,108.63 L423.71,107.93 L423.16,107.22 L422.64,106.51 L422.11,105.81 L421.58,105.1 L421.08,104.39 L420.63,103.69 L420.26,102.98 L419.98,102.27 L419.83,101.56 L419.72,100.86 L419.63,100.15 L419.54,99.44 L419.47,98.74 L419.42,98.03 L419.38,97.32 L419.35,96.62 L419.35,95.91 L419.4,95.2 L419.5,94.5 L419.64,93.79 L419.81,93.08 L420.01,92.37 L420.23,91.67 L420.46,90.96 L420.7,90.25 L420.94,89.55 L421.17,88.84 L421.41,88.13 L421.69,87.43 L421.98,86.72 L422.3,86.01 L422.63,85.31 L422.98,84.6 L423.33,83.89 L423.68,83.18 L424.03,82.48 L424.37,81.77 L424.71,81.06 L425.06,80.36 L425.41,79.65 L425.77,78.94 L426.14,78.24 L426.5,77.53 L426.86,76.82 L427.21,76.12 L427.55,75.41 L427.87,74.7 L428.18,73.99 L428.48,73.29 L428.78,72.58 L429.07,71.87 L429.35,71.17 L429.63,70.46 L429.89,69.75 L430.15,69.05 L430.4,68.34 L430.64,67.63 L430.87,66.93 L431.1,66.22 L431.32,65.51 L431.54,64.81 L431.75,64.1 L431.96,63.39 L432.15,62.68 L432.34,61.98 L432.51,61.27 L432.67,60.56 L432.82,59.86 L432.95,59.15 L433.08,58.44 L433.2,57.74 L433.31,57.03 L433.41,56.32 L433.51,55.62 L433.59,54.91 L433.66,54.2 L433.72,53.49 L433.78,52.79 L433.84,52.08 L433.89,51.37 L433.92,50.67 L433.95,49.96 L433.97,49.25 L433.99,48.55 L434.01,47.84 L434.03,47.13 L434.04,46.43 L434.05,45.72 L434.05,45.01 L434.03,44.3 L433.98,43.6 L433.92,42.89 L433.85,42.18 L433.78,41.48 L433.74,40.77 L433.69,40.06 L433.64,39.36 L433.6,38.65 L433.56,37.94 L433.52,37.24 L433.5,36.53 L433.5,35.82 L433.5,35.11 L433.51,34.41 L433.53,33.7 L433.55,32.99 L433.57,32.29 L433.59,31.58 L433.62,30.87 L433.64,30.17 L433.67,29.46 L433.72,28.75 L433.77,28.05 L433.83,27.34 L433.89,26.63 L433.95,25.92 L434,25.22 L434.05,24.51 L434.08,23.8 L434.1,23.1 L434.11,22.39 L434.12,21.68 L434.12,20.98 L434.13,20.27 L434.13,19.56 L434.14,18.86 L434.15,18.15 L434.16,17.44 L434.19,16.73 L434.23,16.03 L434.28,15.32 L434.33,14.61 L434.39,13.91 L434.45,13.2 Z" fill="#2172b6" stroke="#3a3a3a" stroke-width="0.55" />
<line x1="434.45" y1="68" x2="434.45" y2="114.5" stroke="#3c3c3c" stroke-width="0.8" />
<rect x="432.95" y="85.3" width="3" height="19.2" fill="#3c3c3c" />
<circle cx="434.45" cy="94.4" r="0.95" fill="#fff" />
<path d="M484.45,21.4 L484.54,22.07 L484.62,22.73 L484.7,23.4 L484.77,24.06 L484.83,24.73 L484.87,25.39 L484.9,26.06 L484.92,26.72 L484.94,27.39 L484.95,28.05 L484.96,28.72 L484.98,29.38 L484.98,30.05 L484.99,30.72 L485,31.38 L485,32.05 L485,32.71 L485,33.38 L485,34.04 L485,34.71 L485,35.37 L485,36.04 L485,36.7 L485,37.37 L485,38.04 L485,38.7 L485,39.37 L485,40.03 L485,40.7 L485,41.36 L485,42.03 L485,42.69 L485,43.36 L485,44.02 L485,44.69 L485,45.35 L485,46.02 L485,46.69 L485,47.35 L485,48.02 L485,48.68 L485,49.35 L485,50.01 L485,50.68 L485,51.34 L485,52.01 L485,52.67 L485,53.34 L485.01,54.01 L485.01,54.67 L485.01,55.34 L485.01,56 L485.02,56.67 L485.02,57.33 L485.03,58 L485.03,58.66 L485.04,59.33 L485.04,59.99 L485.05,60.66 L485.05,61.32 L485.06,61.99 L485.07,62.66 L485.07,63.32 L485.08,63.99 L485.09,64.65 L485.1,65.32 L485.11,65.98 L485.12,66.65 L485.13,67.31 L485.14,67.98 L485.15,68.64 L485.16,69.31 L485.18,69.97 L485.2,70.64 L485.23,71.31 L485.27,71.97 L485.31,72.64 L485.36,73.3 L485.41,73.97 L485.46,74.63 L485.52,75.3 L485.57,75.96 L485.63,76.63 L485.69,77.29 L485.75,77.96 L485.81,78.63 L485.87,79.29 L485.93,79.96 L486,80.62 L486.07,81.29 L486.15,81.95 L486.24,82.62 L486.33,83.28 L486.43,83.95 L486.53,84.61 L486.65,85.28 L486.78,85.94 L486.93,86.61 L487.1,87.28 L487.29,87.94 L487.49,88.61 L487.72,89.27 L487.96,89.94 L488.21,90.6 L488.48,91.27 L488.76,91.93 L489.05,92.6 L489.37,93.26 L489.72,93.93 L490.12,94.59 L490.55,95.26 L491,95.93 L491.49,96.59 L491.99,97.26 L492.51,97.92 L493.06,98.59 L493.67,99.25 L494.33,99.92 L495.03,100.58 L495.75,101.25 L496.48,101.91 L497.2,102.58 L497.89,103.25 L498.57,103.91 L499.3,104.58 L500.04,105.24 L500.77,105.91 L501.45,106.57 L502.05,107.24 L502.53,107.9 L502.91,108.57 L503.28,109.23 L503.63,109.9 L503.94,110.56 L504.19,111.23 L504.37,111.9 L504.45,112.56 L504.39,113.23 L504.18,113.89 L503.83,114.56 L503.39,115.22 L502.87,115.89 L502.31,116.55 L501.73,117.22 L501.05,117.88 L500.18,118.55 L499.17,119.22 L498.08,119.88 L496.96,120.55 L495.86,121.21 L494.84,121.88 L493.81,122.54 L492.74,123.21 L491.7,123.87 L490.72,124.54 L489.87,125.2 L489.17,125.87 L488.56,126.53 L488.05,127.2 L480.85,127.2 L480.34,126.53 L479.73,125.87 L479.03,125.2 L478.18,124.54 L477.2,123.87 L476.16,123.21 L475.09,122.54 L474.06,121.88 L473.04,121.21 L471.94,120.55 L470.82,119.88 L469.73,119.22 L468.72,118.55 L467.85,117.88 L467.17,117.22 L466.59,116.55 L466.03,115.89 L465.51,115.22 L465.07,114.56 L464.72,113.89 L464.51,113.23 L464.45,112.56 L464.53,111.9 L464.71,111.23 L464.96,110.56 L465.27,109.9 L465.62,109.23 L465.99,108.57 L466.37,107.9 L466.85,107.24 L467.45,106.57 L468.13,105.91 L468.86,105.24 L469.6,104.58 L470.33,103.91 L471.01,103.25 L471.7,102.58 L472.42,101.91 L473.15,101.25 L473.87,100.58 L474.57,99.92 L475.23,99.25 L475.84,98.59 L476.39,97.92 L476.91,97.26 L477.41,96.59 L477.9,95.93 L478.35,95.26 L478.78,94.59 L479.18,93.93 L479.53,93.26 L479.85,92.6 L480.14,91.93 L480.42,91.27 L480.69,90.6 L480.94,89.94 L481.18,89.27 L481.41,88.61 L481.61,87.94 L481.8,87.28 L481.97,86.61 L482.12,85.94 L482.25,85.28 L482.37,84.61 L482.47,83.95 L482.57,83.28 L482.66,82.62 L482.75,81.95 L482.83,81.29 L482.9,80.62 L482.97,79.96 L483.03,79.29 L483.09,78.63 L483.15,77.96 L483.21,77.29 L483.27,76.63 L483.33,75.96 L483.38,75.3 L483.44,74.63 L483.49,73.97 L483.54,73.3 L483.59,72.64 L483.63,71.97 L483.67,71.31 L483.7,70.64 L483.72,69.97 L483.74,69.31 L483.75,68.64 L483.76,67.98 L483.77,67.31 L483.78,66.65 L483.79,65.98 L483.8,65.32 L483.81,64.65 L483.82,63.99 L483.83,63.32 L483.83,62.66 L483.84,61.99 L483.85,61.32 L483.85,60.66 L483.86,59.99 L483.86,59.33 L483.87,58.66 L483.87,58 L483.88,57.33 L483.88,56.67 L483.89,56 L483.89,55.34 L483.89,54.67 L483.89,54.01 L483.9,53.34 L483.9,52.67 L483.9,52.01 L483.9,51.34 L483.9,50.68 L483.9,50.01 L483.9,49.35 L483.9,48.68 L483.9,48.02 L483.9,47.35 L483.9,46.69 L483.9,46.02 L483.9,45.35 L483.9,44.69 L483.9,44.02 L483.9,43.36 L483.9,42.69 L483.9,42.03 L483.9,41.36 L483.9,40.7 L483.9,40.03 L483.9,39.37 L483.9,38.7 L483.9,38.04 L483.9,37.37 L483.9,36.7 L483.9,36.04 L483.9,35.37 L483.9,34.71 L483.9,34.04 L483.9,33.38 L483.9,32.71 L483.9,32.05 L483.9,31.38 L483.91,30.72 L483.92,30.05 L483.92,29.38 L483.94,28.72 L483.95,28.05 L483.96,27.39 L483.98,26.72 L484,26.06 L484.03,25.39 L484.07,24.73 L484.13,24.06 L484.2,23.4 L484.28,22.73 L484.36,22.07 L484.45,21.4 Z" fill="#fd800f" stroke="#3a3a3a" stroke-width="0.55" />
<line x1="484.45" y1="90.8" x2="484.45" y2="119" stroke="#3c3c3c" stroke-width="0.8" />
<rect x="482.95" y="103.5" width="3" height="14.6" fill="#3c3c3c" />
<circle cx="484.45" cy="111.4" r="0.95" fill="#fff" />
<path d="M534.45,9.6 L534.59,10.34 L534.73,11.08 L534.85,11.82 L534.93,12.56 L534.96,13.3 L534.97,14.04 L534.98,14.78 L534.99,15.52 L535,16.26 L535.01,17 L535.01,17.74 L535.02,18.48 L535.02,19.22 L535.03,19.95 L535.03,20.69 L535.04,21.43 L535.04,22.17 L535.05,22.91 L535.05,23.65 L535.06,24.39 L535.07,25.13 L535.07,25.87 L535.08,26.61 L535.08,27.35 L535.09,28.09 L535.09,28.83 L535.1,29.57 L535.1,30.31 L535.11,31.05 L535.12,31.79 L535.12,32.53 L535.13,33.27 L535.13,34.01 L535.14,34.75 L535.14,35.49 L535.15,36.23 L535.16,36.97 L535.16,37.71 L535.17,38.45 L535.18,39.18 L535.18,39.92 L535.19,40.66 L535.2,41.4 L535.21,42.14 L535.22,42.88 L535.23,43.62 L535.24,44.36 L535.25,45.1 L535.26,45.84 L535.27,46.58 L535.28,47.32 L535.29,48.06 L535.3,48.8 L535.32,49.54 L535.33,50.28 L535.34,51.02 L535.36,51.76 L535.37,52.5 L535.39,53.24 L535.4,53.98 L535.42,54.72 L535.44,55.46 L535.46,56.2 L535.47,56.94 L535.49,57.68 L535.51,58.42 L535.53,59.15 L535.56,59.89 L535.58,60.63 L535.6,61.37 L535.63,62.11 L535.66,62.85 L535.69,63.59 L535.73,64.33 L535.76,65.07 L535.8,65.81 L535.84,66.55 L535.88,67.29 L535.93,68.03 L535.98,68.77 L536.03,69.51 L536.08,70.25 L536.13,70.99 L536.19,71.73 L536.25,72.47 L536.31,73.21 L536.39,73.95 L536.47,74.69 L536.56,75.43 L536.66,76.17 L536.76,76.91 L536.87,77.65 L536.99,78.38 L537.11,79.12 L537.24,79.86 L537.37,80.6 L537.5,81.34 L537.64,82.08 L537.79,82.82 L537.95,83.56 L538.12,84.3 L538.3,85.04 L538.49,85.78 L538.69,86.52 L538.89,87.26 L539.1,88 L539.32,88.74 L539.54,89.48 L539.77,90.22 L540,90.96 L540.25,91.7 L540.51,92.44 L540.79,93.18 L541.08,93.92 L541.38,94.66 L541.68,95.4 L542,96.14 L542.31,96.88 L542.62,97.62 L542.93,98.35 L543.23,99.09 L543.52,99.83 L543.83,100.57 L544.15,101.31 L544.49,102.05 L544.83,102.79 L545.17,103.53 L545.48,104.27 L545.77,105.01 L546.02,105.75 L546.22,106.49 L546.35,107.23 L546.46,107.97 L546.56,108.71 L546.64,109.45 L546.72,110.19 L546.78,110.93 L546.83,111.67 L546.85,112.41 L546.83,113.15 L546.69,113.89 L546.44,114.63 L546.12,115.37 L545.75,116.11 L545.34,116.85 L544.93,117.58 L544.52,118.32 L544.04,119.06 L543.46,119.8 L542.83,120.54 L542.19,121.28 L541.56,122.02 L540.99,122.76 L540.51,123.5 L540.11,124.24 L539.74,124.98 L539.4,125.72 L539.11,126.46 L538.85,127.2 L530.05,127.2 L529.79,126.46 L529.5,125.72 L529.16,124.98 L528.79,124.24 L528.39,123.5 L527.91,122.76 L527.34,122.02 L526.71,121.28 L526.07,120.54 L525.44,119.8 L524.86,119.06 L524.38,118.32 L523.97,117.58 L523.56,116.85 L523.15,116.11 L522.78,115.37 L522.46,114.63 L522.21,113.89 L522.07,113.15 L522.05,112.41 L522.07,111.67 L522.12,110.93 L522.18,110.19 L522.26,109.45 L522.34,108.71 L522.44,107.97 L522.55,107.23 L522.68,106.49 L522.88,105.75 L523.13,105.01 L523.42,104.27 L523.73,103.53 L524.07,102.79 L524.41,102.05 L524.75,101.31 L525.07,100.57 L525.38,99.83 L525.67,99.09 L525.97,98.35 L526.28,97.62 L526.59,96.88 L526.9,96.14 L527.22,95.4 L527.52,94.66 L527.82,93.92 L528.11,93.18 L528.39,92.44 L528.65,91.7 L528.9,90.96 L529.13,90.22 L529.36,89.48 L529.58,88.74 L529.8,88 L530.01,87.26 L530.21,86.52 L530.41,85.78 L530.6,85.04 L530.78,84.3 L530.95,83.56 L531.11,82.82 L531.26,82.08 L531.4,81.34 L531.53,80.6 L531.66,79.86 L531.79,79.12 L531.91,78.38 L532.03,77.65 L532.14,76.91 L532.24,76.17 L532.34,75.43 L532.43,74.69 L532.51,73.95 L532.59,73.21 L532.65,72.47 L532.71,71.73 L532.77,70.99 L532.82,70.25 L532.87,69.51 L532.92,68.77 L532.97,68.03 L533.02,67.29 L533.06,66.55 L533.1,65.81 L533.14,65.07 L533.17,64.33 L533.21,63.59 L533.24,62.85 L533.27,62.11 L533.3,61.37 L533.32,60.63 L533.34,59.89 L533.37,59.15 L533.39,58.42 L533.41,57.68 L533.43,56.94 L533.44,56.2 L533.46,55.46 L533.48,54.72 L533.5,53.98 L533.51,53.24 L533.53,52.5 L533.54,51.76 L533.56,51.02 L533.57,50.28 L533.58,49.54 L533.6,48.8 L533.61,48.06 L533.62,47.32 L533.63,46.58 L533.64,45.84 L533.65,45.1 L533.66,44.36 L533.67,43.62 L533.68,42.88 L533.69,42.14 L533.7,41.4 L533.71,40.66 L533.72,39.92 L533.72,39.18 L533.73,38.45 L533.74,37.71 L533.74,36.97 L533.75,36.23 L533.76,35.49 L533.76,34.75 L533.77,34.01 L533.77,33.27 L533.78,32.53 L533.78,31.79 L533.79,31.05 L533.8,30.31 L533.8,29.57 L533.81,28.83 L533.81,28.09 L533.82,27.35 L533.82,26.61 L533.83,25.87 L533.83,25.13 L533.84,24.39 L533.85,23.65 L533.85,22.91 L533.86,22.17 L533.86,21.43 L533.87,20.69 L533.87,19.95 L533.88,19.22 L533.88,18.48 L533.89,17.74 L533.89,17 L533.9,16.26 L533.91,15.52 L533.92,14.78 L533.93,14.04 L533.94,13.3 L533.97,12.56 L534.05,11.82 L534.17,11.08 L534.31,10.34 L534.45,9.6 Z" fill="#d42a2d" stroke="#3a3a3a" stroke-width="0.55" />
<line x1="534.45" y1="49.7" x2="534.45" y2="124.5" stroke="#3c3c3c" stroke-width="0.8" />
<rect x="532.95" y="87.1" width="3" height="30.1" fill="#3c3c3c" />
<circle cx="534.45" cy="106.6" r="0.95" fill="#fff" />
<text transform="translate(395,68.5) rotate(-90)" x="0" y="2.31" font-size="6.6" text-anchor="middle" fill="#111" stroke="#111" stroke-width="0.13">Background of libraries (%)</text>
<text transform="translate(434.7,138.5) rotate(-9)" x="0" y="2.31" font-size="6.6" text-anchor="middle" fill="#111" stroke="#111" stroke-width="0.13">Strand-seq</text>
<text transform="translate(484.6,139.5) rotate(-9)" x="0" y="2.31" font-size="6.6" text-anchor="middle" fill="#111" stroke="#111" stroke-width="0.13">OP-Strand-seq</text>
<text transform="translate(534.3,140) rotate(-9)" x="0" y="2.31" font-size="6.6" text-anchor="middle" fill="#111" stroke="#111" stroke-width="0.13">NanoStrand-seq</text>
<text x="217.9" y="169.6" font-size="13" font-weight="bold" fill="#000">d</text>
<path d="M248.6,285.5 L249.56,282.92 L250.52,280.45 L251.47,278.08 L252.43,275.82 L253.39,273.65 L254.35,271.56 L255.31,269.56 L256.26,267.64 L257.22,265.79 L258.18,264.01 L259.14,262.29 L260.1,260.64 L261.05,259.04 L262.01,257.5 L262.97,256.02 L263.93,254.58 L264.89,253.19 L265.84,251.78 L266.8,250.25 L267.76,248.82 L268.72,247.45 L269.68,246.12 L270.63,244.84 L271.59,243.6 L272.55,242.4 L273.51,241.23 L274.47,240.09 L275.42,238.99 L276.38,237.92 L277.34,236.87 L278.3,235.86 L279.26,234.86 L280.21,233.9 L281.17,232.96 L282.13,232.04 L283.09,231.14 L284.05,230.27 L285,229.41 L285.96,228.58 L286.92,227.76 L287.88,226.96 L288.84,226.18 L289.79,225.42 L290.75,224.67 L291.71,223.94 L292.67,223.22 L293.63,222.52 L294.58,221.83 L295.54,221.16 L296.5,220.49 L297.46,219.85 L298.42,219.21 L299.37,218.59 L300.33,217.98 L301.29,217.38 L302.25,216.79 L303.21,216.21 L304.16,215.64 L305.12,215.08 L306.08,214.53 L307.04,213.99 L307.99,213.47 L308.95,212.94 L309.91,212.43 L310.87,211.93 L311.83,211.43 L312.78,210.95 L313.74,210.47 L314.7,209.99 L315.66,209.53 L316.62,209.07 L317.57,208.62 L318.53,208.18 L319.49,207.74 L320.45,207.31 L321.41,206.89 L322.36,206.47 L323.32,206.06 L324.28,205.65 L325.24,205.25 L326.2,204.86 L327.15,204.47 L328.11,204.08 L329.07,203.7 L330.03,203.33 L330.99,202.96 L331.94,202.6 L332.9,202.24 L333.86,201.88 L334.82,201.54 L335.78,201.19 L336.73,200.85 L337.69,200.51 L338.65,200.18 L339.61,199.85 L340.57,199.53 L341.52,199.21 L342.48,198.89 L343.44,198.57 L344.4,198.27 L345.36,197.96 L346.31,197.66 L347.27,197.36 L348.23,197.06 L349.19,196.77 L350.15,196.48 L351.1,196.2 L352.06,195.91 L353.02,195.63 L353.98,195.36 L354.94,195.08 L355.89,194.81 L356.85,194.54 L357.81,194.28 L358.77,194.02 L359.73,193.76 L360.68,193.5 L361.64,193.24 L362.6,192.99 L362.6,210.33 L361.64,210.45 L360.68,210.58 L359.73,210.7 L358.77,210.83 L357.81,210.97 L356.85,211.1 L355.89,211.24 L354.94,211.38 L353.98,211.52 L353.02,211.67 L352.06,211.81 L351.1,211.96 L350.15,212.12 L349.19,212.27 L348.23,212.43 L347.27,212.59 L346.31,212.76 L345.36,212.93 L344.4,213.1 L343.44,213.27 L342.48,213.45 L341.52,213.63 L340.57,213.81 L339.61,214 L338.65,214.19 L337.69,214.38 L336.73,214.58 L335.78,214.78 L334.82,214.99 L333.86,215.2 L332.9,215.41 L331.94,215.63 L330.99,215.85 L330.03,216.08 L329.07,216.31 L328.11,216.55 L327.15,216.79 L326.2,217.03 L325.24,217.28 L324.28,217.54 L323.32,217.8 L322.36,218.06 L321.41,218.33 L320.45,218.61 L319.49,218.89 L318.53,219.18 L317.57,219.47 L316.62,219.77 L315.66,220.08 L314.7,220.39 L313.74,220.71 L312.78,221.04 L311.83,221.37 L310.87,221.71 L309.91,222.06 L308.95,222.41 L307.99,222.77 L307.04,223.15 L306.08,223.52 L305.12,223.91 L304.16,224.31 L303.21,224.72 L302.25,225.13 L301.29,225.56 L300.33,225.99 L299.37,226.43 L298.42,226.89 L297.46,227.36 L296.5,227.83 L295.54,228.32 L294.58,228.82 L293.63,229.34 L292.67,229.86 L291.71,230.4 L290.75,230.95 L289.79,231.52 L288.84,232.1 L287.88,232.7 L286.92,233.31 L285.96,233.94 L285,234.58 L284.05,235.24 L283.09,235.92 L282.13,236.62 L281.17,237.34 L280.21,238.07 L279.26,238.83 L278.3,239.61 L277.34,240.41 L276.38,241.23 L275.42,242.08 L274.47,242.95 L273.51,243.85 L272.55,244.77 L271.59,245.72 L270.63,246.7 L269.68,247.7 L268.72,248.73 L267.76,249.79 L266.8,250.86 L265.84,251.91 L264.89,253.19 L263.93,254.58 L262.97,256.02 L262.01,257.5 L261.05,259.04 L260.1,260.64 L259.14,262.29 L258.18,264.01 L257.22,265.79 L256.26,267.64 L255.31,269.56 L254.35,271.56 L253.39,273.65 L252.43,275.82 L251.47,278.08 L250.52,280.45 L249.56,282.92 L248.6,285.5 Z" fill="#fde6c4" stroke="none" stroke-width="1" />
<path d="M248.6,285.5 L249.56,282.69 L250.52,280.14 L251.47,277.83 L252.43,275.72 L253.39,273.79 L254.35,272.01 L255.31,270.36 L256.26,268.53 L257.22,266.88 L258.18,265.36 L259.14,263.94 L260.1,262.61 L261.05,261.37 L262.01,260.19 L262.97,259.09 L263.93,258.04 L264.89,257.04 L265.84,256.1 L266.8,255.2 L267.76,254.34 L268.72,253.52 L269.68,252.74 L270.63,251.99 L271.59,251.27 L272.55,250.58 L273.51,249.91 L274.47,249.28 L275.42,248.66 L276.38,248.07 L277.34,247.5 L278.3,246.94 L279.26,246.41 L280.21,245.89 L281.17,245.39 L282.13,244.9 L283.09,244.43 L284.05,243.98 L285,243.53 L285.96,243.1 L286.92,242.68 L287.88,242.27 L288.84,241.87 L289.79,241.49 L290.75,241.11 L291.71,240.74 L292.67,240.38 L293.63,240.03 L294.58,239.68 L295.54,239.35 L296.5,239.02 L297.46,238.7 L298.42,238.38 L299.37,238.07 L300.33,237.77 L301.29,237.48 L302.25,237.19 L303.21,236.9 L304.16,236.62 L305.12,236.35 L306.08,236.08 L307.04,235.82 L307.99,235.56 L308.95,235.3 L309.91,235.05 L310.87,234.8 L311.83,234.56 L312.78,234.32 L313.74,234.09 L314.7,233.86 L315.66,233.63 L316.62,233.4 L317.57,233.18 L318.53,232.96 L319.49,232.75 L320.45,232.54 L321.41,232.33 L322.36,232.12 L323.32,231.92 L324.28,231.72 L325.24,231.52 L326.2,231.32 L327.15,231.13 L328.11,230.94 L329.07,230.75 L330.03,230.56 L330.99,230.38 L331.94,230.2 L332.9,230.02 L333.86,229.84 L334.82,229.66 L335.78,229.49 L336.73,229.32 L337.69,229.15 L338.65,228.98 L339.61,228.81 L340.57,228.64 L341.52,228.48 L342.48,228.32 L343.44,228.16 L344.4,228 L345.36,227.84 L346.31,227.68 L347.27,227.53 L348.23,227.38 L349.19,227.22 L350.15,227.07 L351.1,226.92 L352.06,226.78 L353.02,226.63 L353.98,226.48 L354.94,226.34 L355.89,226.2 L356.85,226.05 L357.81,225.91 L358.77,225.77 L359.73,225.63 L360.68,225.5 L361.64,225.36 L362.6,225.22 L362.6,249.26 L361.64,249.23 L360.68,249.21 L359.73,249.18 L358.77,249.16 L357.81,249.14 L356.85,249.11 L355.89,249.09 L354.94,249.07 L353.98,249.05 L353.02,249.03 L352.06,249.02 L351.1,249 L350.15,248.98 L349.19,248.97 L348.23,248.95 L347.27,248.94 L346.31,248.92 L345.36,248.91 L344.4,248.9 L343.44,248.89 L342.48,248.88 L341.52,248.87 L340.57,248.87 L339.61,248.86 L338.65,248.86 L337.69,248.85 L336.73,248.85 L335.78,248.85 L334.82,248.85 L333.86,248.86 L332.9,248.86 L331.94,248.86 L330.99,248.87 L330.03,248.88 L329.07,248.89 L328.11,248.9 L327.15,248.91 L326.2,248.93 L325.24,248.95 L324.28,248.96 L323.32,248.98 L322.36,249.01 L321.41,249.03 L320.45,249.06 L319.49,249.09 L318.53,249.12 L317.57,249.15 L316.62,249.19 L315.66,249.23 L314.7,249.27 L313.74,249.31 L312.78,249.36 L311.83,249.41 L310.87,249.46 L309.91,249.52 L308.95,249.58 L307.99,249.64 L307.04,249.71 L306.08,249.78 L305.12,249.85 L304.16,249.93 L303.21,250.01 L302.25,250.1 L301.29,250.19 L300.33,250.29 L299.37,250.39 L298.42,250.49 L297.46,250.61 L296.5,250.72 L295.54,250.85 L294.58,250.98 L293.63,251.11 L292.67,251.25 L291.71,251.4 L290.75,251.56 L289.79,251.72 L288.84,251.9 L287.88,252.08 L286.92,252.27 L285.96,252.47 L285,252.68 L284.05,252.9 L283.09,253.13 L282.13,253.38 L281.17,253.63 L280.21,253.9 L279.26,254.19 L278.3,254.49 L277.34,254.8 L276.38,255.13 L275.42,255.48 L274.47,255.85 L273.51,256.24 L272.55,256.65 L271.59,257.08 L270.63,257.54 L269.68,258.03 L268.72,258.54 L267.76,259.08 L266.8,259.66 L265.84,260.28 L264.89,260.93 L263.93,261.62 L262.97,262.37 L262.01,263.16 L261.05,264 L260.1,264.9 L259.14,265.86 L258.18,266.89 L257.22,267.99 L256.26,269.16 L255.31,270.36 L254.35,272.01 L253.39,273.79 L252.43,275.72 L251.47,277.83 L250.52,280.14 L249.56,282.69 L248.6,285.5 Z" fill="#fbcaca" stroke="none" stroke-width="1" />
<path d="M248.6,285.5 L249.56,283.65 L250.52,282.03 L251.47,280.58 L252.43,279.29 L253.39,278.12 L254.35,277.07 L255.31,276.11 L256.26,275.08 L257.22,274.17 L258.18,273.33 L259.14,272.55 L260.1,271.84 L261.05,271.17 L262.01,270.55 L262.97,269.96 L263.93,269.41 L264.89,268.9 L265.84,268.41 L266.8,267.94 L267.76,267.51 L268.72,267.09 L269.68,266.69 L270.63,266.32 L271.59,265.95 L272.55,265.61 L273.51,265.28 L274.47,264.96 L275.42,264.66 L276.38,264.37 L277.34,264.09 L278.3,263.82 L279.26,263.56 L280.21,263.3 L281.17,263.06 L282.13,262.83 L283.09,262.6 L284.05,262.38 L285,262.16 L285.96,261.96 L286.92,261.76 L287.88,261.56 L288.84,261.37 L289.79,261.19 L290.75,261.01 L291.71,260.83 L292.67,260.66 L293.63,260.49 L294.58,260.33 L295.54,260.17 L296.5,260.02 L297.46,259.86 L298.42,259.72 L299.37,259.57 L300.33,259.43 L301.29,259.29 L302.25,259.15 L303.21,259.02 L304.16,258.89 L305.12,258.76 L306.08,258.63 L307.04,258.51 L307.99,258.39 L308.95,258.27 L309.91,258.15 L310.87,258.04 L311.83,257.92 L312.78,257.81 L313.74,257.7 L314.7,257.59 L315.66,257.49 L316.62,257.38 L317.57,257.28 L318.53,257.18 L319.49,257.08 L320.45,256.98 L321.41,256.88 L322.36,256.79 L323.32,256.69 L324.28,256.6 L325.24,256.51 L326.2,256.41 L327.15,256.32 L328.11,256.24 L329.07,256.15 L330.03,256.06 L330.99,255.98 L331.94,255.89 L332.9,255.81 L333.86,255.72 L334.82,255.64 L335.78,255.56 L336.73,255.48 L337.69,255.4 L338.65,255.32 L339.61,255.25 L340.57,255.17 L341.52,255.09 L342.48,255.02 L343.44,254.94 L344.4,254.87 L345.36,254.8 L346.31,254.72 L347.27,254.65 L348.23,254.58 L349.19,254.51 L350.15,254.44 L351.1,254.37 L352.06,254.3 L353.02,254.23 L353.98,254.16 L354.94,254.1 L355.89,254.03 L356.85,253.96 L357.81,253.9 L358.77,253.83 L359.73,253.77 L360.68,253.71 L361.64,253.64 L362.6,253.58 L362.6,265 L361.64,264.99 L360.68,264.98 L359.73,264.96 L358.77,264.95 L357.81,264.94 L356.85,264.93 L355.89,264.92 L354.94,264.91 L353.98,264.89 L353.02,264.88 L352.06,264.87 L351.1,264.86 L350.15,264.85 L349.19,264.84 L348.23,264.84 L347.27,264.83 L346.31,264.82 L345.36,264.81 L344.4,264.81 L343.44,264.8 L342.48,264.79 L341.52,264.79 L340.57,264.78 L339.61,264.78 L338.65,264.77 L337.69,264.77 L336.73,264.77 L335.78,264.77 L334.82,264.77 L333.86,264.76 L332.9,264.76 L331.94,264.76 L330.99,264.77 L330.03,264.77 L329.07,264.77 L328.11,264.77 L327.15,264.78 L326.2,264.78 L325.24,264.79 L324.28,264.8 L323.32,264.8 L322.36,264.81 L321.41,264.82 L320.45,264.83 L319.49,264.85 L318.53,264.86 L317.57,264.87 L316.62,264.89 L315.66,264.9 L314.7,264.92 L313.74,264.94 L312.78,264.96 L311.83,264.98 L310.87,265.01 L309.91,265.03 L308.95,265.06 L307.99,265.08 L307.04,265.11 L306.08,265.15 L305.12,265.18 L304.16,265.21 L303.21,265.25 L302.25,265.29 L301.29,265.33 L300.33,265.38 L299.37,265.42 L298.42,265.47 L297.46,265.53 L296.5,265.58 L295.54,265.64 L294.58,265.7 L293.63,265.76 L292.67,265.83 L291.71,265.9 L290.75,265.97 L289.79,266.05 L288.84,266.14 L287.88,266.22 L286.92,266.32 L285.96,266.41 L285,266.51 L284.05,266.62 L283.09,266.73 L282.13,266.85 L281.17,266.98 L280.21,267.11 L279.26,267.25 L278.3,267.4 L277.34,267.56 L276.38,267.73 L275.42,267.9 L274.47,268.09 L273.51,268.29 L272.55,268.5 L271.59,268.72 L270.63,268.96 L269.68,269.21 L268.72,269.48 L267.76,269.76 L266.8,270.07 L265.84,270.39 L264.89,270.74 L263.93,271.12 L262.97,271.52 L262.01,271.95 L261.05,272.42 L260.1,272.92 L259.14,273.47 L258.18,274.06 L257.22,274.7 L256.26,275.38 L255.31,276.11 L254.35,277.07 L253.39,278.12 L252.43,279.29 L251.47,280.58 L250.52,282.03 L249.56,283.65 L248.6,285.5 Z" fill="#c9c9f9" stroke="none" stroke-width="1" />
<path d="M248.6,285.5 L249.56,282.92 L250.52,280.45 L251.47,278.08 L252.43,275.82 L253.39,273.65 L254.35,271.56 L255.31,269.56 L256.26,267.64 L257.22,265.79 L258.18,264.01 L259.14,262.29 L260.1,260.64 L261.05,259.04 L262.01,257.5 L262.97,256.02 L263.93,254.58 L264.89,253.19 L265.84,251.84 L266.8,250.54 L267.76,249.28 L268.72,248.06 L269.68,246.88 L270.63,245.73 L271.59,244.61 L272.55,243.53 L273.51,242.48 L274.47,241.46 L275.42,240.47 L276.38,239.5 L277.34,238.56 L278.3,237.65 L279.26,236.76 L280.21,235.89 L281.17,235.05 L282.13,234.22 L283.09,233.42 L284.05,232.64 L285,231.88 L285.96,231.13 L286.92,230.41 L287.88,229.7 L288.84,229.01 L289.79,228.33 L290.75,227.67 L291.71,227.02 L292.67,226.39 L293.63,225.77 L294.58,225.17 L295.54,224.58 L296.5,224 L297.46,223.43 L298.42,222.88 L299.37,222.33 L300.33,221.8 L301.29,221.28 L302.25,220.77 L303.21,220.27 L304.16,219.78 L305.12,219.3 L306.08,218.82 L307.04,218.36 L307.99,217.91 L308.95,217.46 L309.91,217.03 L310.87,216.6 L311.83,216.18 L312.78,215.76 L313.74,215.36 L314.7,214.96 L315.66,214.56 L316.62,214.18 L317.57,213.8 L318.53,213.43 L319.49,213.06 L320.45,212.7 L321.41,212.35 L322.36,212 L323.32,211.66 L324.28,211.32 L325.24,210.99 L326.2,210.67 L327.15,210.35 L328.11,210.03 L329.07,209.72 L330.03,209.42 L330.99,209.12 L331.94,208.82 L332.9,208.53 L333.86,208.24 L334.82,207.96 L335.78,207.68 L336.73,207.4 L337.69,207.13 L338.65,206.87 L339.61,206.6 L340.57,206.34 L341.52,206.09 L342.48,205.84 L343.44,205.59 L344.4,205.34 L345.36,205.1 L346.31,204.86 L347.27,204.63 L348.23,204.4 L349.19,204.17 L350.15,203.94 L351.1,203.72 L352.06,203.5 L353.02,203.29 L353.98,203.07 L354.94,202.86 L355.89,202.65 L356.85,202.45 L357.81,202.24 L358.77,202.04 L359.73,201.84 L360.68,201.65 L361.64,201.46 L362.6,201.27" fill="none" stroke="#f7a51d" stroke-width="1.45" />
<path d="M248.6,285.5 L249.56,282.69 L250.52,280.14 L251.47,277.83 L252.43,275.72 L253.39,273.79 L254.35,272.01 L255.31,270.36 L256.26,268.84 L257.22,267.43 L258.18,266.11 L259.14,264.89 L260.1,263.74 L261.05,262.66 L262.01,261.65 L262.97,260.7 L263.93,259.8 L264.89,258.95 L265.84,258.15 L266.8,257.39 L267.76,256.67 L268.72,255.99 L269.68,255.34 L270.63,254.72 L271.59,254.13 L272.55,253.56 L273.51,253.02 L274.47,252.51 L275.42,252.01 L276.38,251.54 L277.34,251.09 L278.3,250.65 L279.26,250.23 L280.21,249.83 L281.17,249.44 L282.13,249.07 L283.09,248.71 L284.05,248.37 L285,248.03 L285.96,247.71 L286.92,247.4 L287.88,247.09 L288.84,246.8 L289.79,246.52 L290.75,246.25 L291.71,245.98 L292.67,245.73 L293.63,245.48 L294.58,245.24 L295.54,245 L296.5,244.78 L297.46,244.55 L298.42,244.34 L299.37,244.13 L300.33,243.93 L301.29,243.73 L302.25,243.54 L303.21,243.35 L304.16,243.17 L305.12,242.99 L306.08,242.82 L307.04,242.65 L307.99,242.48 L308.95,242.32 L309.91,242.17 L310.87,242.01 L311.83,241.86 L312.78,241.72 L313.74,241.58 L314.7,241.44 L315.66,241.3 L316.62,241.17 L317.57,241.04 L318.53,240.91 L319.49,240.78 L320.45,240.66 L321.41,240.54 L322.36,240.43 L323.32,240.31 L324.28,240.2 L325.24,240.09 L326.2,239.98 L327.15,239.88 L328.11,239.77 L329.07,239.67 L330.03,239.57 L330.99,239.47 L331.94,239.38 L332.9,239.28 L333.86,239.19 L334.82,239.1 L335.78,239.01 L336.73,238.92 L337.69,238.84 L338.65,238.75 L339.61,238.67 L340.57,238.59 L341.52,238.51 L342.48,238.43 L343.44,238.35 L344.4,238.28 L345.36,238.2 L346.31,238.13 L347.27,238.06 L348.23,237.99 L349.19,237.92 L350.15,237.85 L351.1,237.78 L352.06,237.71 L353.02,237.65 L353.98,237.58 L354.94,237.52 L355.89,237.46 L356.85,237.4 L357.81,237.33 L358.77,237.28 L359.73,237.22 L360.68,237.16 L361.64,237.1 L362.6,237.04" fill="none" stroke="#f21c1c" stroke-width="1.45" />
<path d="M248.6,285.5 L249.56,283.65 L250.52,282.03 L251.47,280.58 L252.43,279.29 L253.39,278.12 L254.35,277.07 L255.31,276.11 L256.26,275.23 L257.22,274.43 L258.18,273.69 L259.14,273.01 L260.1,272.38 L261.05,271.8 L262.01,271.25 L262.97,270.74 L263.93,270.27 L264.89,269.82 L265.84,269.4 L266.8,269.01 L267.76,268.63 L268.72,268.28 L269.68,267.95 L270.63,267.64 L271.59,267.34 L272.55,267.05 L273.51,266.78 L274.47,266.53 L275.42,266.28 L276.38,266.05 L277.34,265.82 L278.3,265.61 L279.26,265.41 L280.21,265.21 L281.17,265.02 L282.13,264.84 L283.09,264.67 L284.05,264.5 L285,264.34 L285.96,264.18 L286.92,264.04 L287.88,263.89 L288.84,263.75 L289.79,263.62 L290.75,263.49 L291.71,263.36 L292.67,263.24 L293.63,263.13 L294.58,263.01 L295.54,262.9 L296.5,262.8 L297.46,262.69 L298.42,262.59 L299.37,262.5 L300.33,262.4 L301.29,262.31 L302.25,262.22 L303.21,262.14 L304.16,262.05 L305.12,261.97 L306.08,261.89 L307.04,261.81 L307.99,261.74 L308.95,261.66 L309.91,261.59 L310.87,261.52 L311.83,261.45 L312.78,261.39 L313.74,261.32 L314.7,261.26 L315.66,261.2 L316.62,261.13 L317.57,261.08 L318.53,261.02 L319.49,260.96 L320.45,260.91 L321.41,260.85 L322.36,260.8 L323.32,260.75 L324.28,260.7 L325.24,260.65 L326.2,260.6 L327.15,260.55 L328.11,260.5 L329.07,260.46 L330.03,260.41 L330.99,260.37 L331.94,260.33 L332.9,260.29 L333.86,260.24 L334.82,260.2 L335.78,260.16 L336.73,260.12 L337.69,260.09 L338.65,260.05 L339.61,260.01 L340.57,259.98 L341.52,259.94 L342.48,259.91 L343.44,259.87 L344.4,259.84 L345.36,259.8 L346.31,259.77 L347.27,259.74 L348.23,259.71 L349.19,259.68 L350.15,259.65 L351.1,259.62 L352.06,259.59 L353.02,259.56 L353.98,259.53 L354.94,259.5 L355.89,259.47 L356.85,259.45 L357.81,259.42 L358.77,259.39 L359.73,259.37 L360.68,259.34 L361.64,259.32 L362.6,259.29" fill="none" stroke="#1c1cf5" stroke-width="1.45" />
<path d="M269.69,244.36 L272.19,246.86 L269.69,249.36 L267.19,246.86 Z" fill="#111" stroke="none" stroke-width="1" />
<path d="M290.78,225.15 L293.28,227.65 L290.78,230.15 L288.28,227.65 Z" fill="#111" stroke="none" stroke-width="1" />
<path d="M312.44,213.41 L314.94,215.91 L312.44,218.41 L309.94,215.91 Z" fill="#111" stroke="none" stroke-width="1" />
<path d="M277.1,248.7 L279.6,251.2 L277.1,253.7 L274.6,251.2 Z" fill="#111" stroke="none" stroke-width="1" />
<path d="M294.2,242.83 L296.7,245.33 L294.2,247.83 L291.7,245.33 Z" fill="#111" stroke="none" stroke-width="1" />
<path d="M312.44,239.27 L314.94,241.77 L312.44,244.27 L309.94,241.77 Z" fill="#111" stroke="none" stroke-width="1" />
<path d="M258.29,271.11 L260.79,273.61 L258.29,276.11 L255.79,273.61 Z" fill="#111" stroke="none" stroke-width="1" />
<path d="M263.42,268.01 L265.92,270.51 L263.42,273.01 L260.92,270.51 Z" fill="#111" stroke="none" stroke-width="1" />
<path d="M267.98,266.05 L270.48,268.55 L267.98,271.05 L265.48,268.55 Z" fill="#111" stroke="none" stroke-width="1" />
<line x1="248.6" y1="167.3" x2="248.6" y2="285.5" stroke="#a8a8a8" stroke-width="1" />
<line x1="245.6" y1="285.5" x2="248.6" y2="285.5" stroke="#a8a8a8" stroke-width="1" />
<text x="244.4" y="287.77" font-size="6.5" text-anchor="end" fill="#111" stroke="#111" stroke-width="0.13">0</text>
<line x1="245.6" y1="265.8" x2="248.6" y2="265.8" stroke="#a8a8a8" stroke-width="1" />
<text x="244.4" y="268.07" font-size="6.5" text-anchor="end" fill="#111" stroke="#111" stroke-width="0.13">5</text>
<line x1="245.6" y1="246.1" x2="248.6" y2="246.1" stroke="#a8a8a8" stroke-width="1" />
<text x="244.4" y="248.38" font-size="6.5" text-anchor="end" fill="#111" stroke="#111" stroke-width="0.13">10</text>
<line x1="245.6" y1="226.4" x2="248.6" y2="226.4" stroke="#a8a8a8" stroke-width="1" />
<text x="244.4" y="228.68" font-size="6.5" text-anchor="end" fill="#111" stroke="#111" stroke-width="0.13">15</text>
<line x1="245.6" y1="206.7" x2="248.6" y2="206.7" stroke="#a8a8a8" stroke-width="1" />
<text x="244.4" y="208.97" font-size="6.5" text-anchor="end" fill="#111" stroke="#111" stroke-width="0.13">20</text>
<line x1="245.6" y1="187" x2="248.6" y2="187" stroke="#a8a8a8" stroke-width="1" />
<text x="244.4" y="189.28" font-size="6.5" text-anchor="end" fill="#111" stroke="#111" stroke-width="0.13">25</text>
<line x1="245.6" y1="167.3" x2="248.6" y2="167.3" stroke="#a8a8a8" stroke-width="1" />
<text x="244.4" y="169.58" font-size="6.5" text-anchor="end" fill="#111" stroke="#111" stroke-width="0.13">30</text>
<line x1="248.6" y1="285.5" x2="362.8" y2="285.5" stroke="#444" stroke-width="0.8" />
<line x1="248.6" y1="285.5" x2="248.6" y2="288.5" stroke="#444" stroke-width="0.8" />
<text x="248.6" y="294.97" font-size="6.5" text-anchor="middle" fill="#111" stroke="#111" stroke-width="0.13">0.0</text>
<line x1="277.1" y1="285.5" x2="277.1" y2="288.5" stroke="#444" stroke-width="0.8" />
<text x="277.1" y="294.97" font-size="6.5" text-anchor="middle" fill="#111" stroke="#111" stroke-width="0.13">0.5</text>
<line x1="305.6" y1="285.5" x2="305.6" y2="288.5" stroke="#444" stroke-width="0.8" />
<text x="305.6" y="294.97" font-size="6.5" text-anchor="middle" fill="#111" stroke="#111" stroke-width="0.13">1.0</text>
<line x1="334.1" y1="285.5" x2="334.1" y2="288.5" stroke="#444" stroke-width="0.8" />
<text x="334.1" y="294.97" font-size="6.5" text-anchor="middle" fill="#111" stroke="#111" stroke-width="0.13">1.5</text>
<line x1="362.6" y1="285.5" x2="362.6" y2="288.5" stroke="#444" stroke-width="0.8" />
<text x="362.6" y="294.97" font-size="6.5" text-anchor="middle" fill="#111" stroke="#111" stroke-width="0.13">2.0</text>
<text x="306.2" y="303.71" font-size="6.6" text-anchor="middle" fill="#111" stroke="#111" stroke-width="0.13">Total sequencing effort (Gb)</text>
<text transform="translate(231.2,226.4) rotate(-90)" x="0" y="2.31" font-size="6.6" text-anchor="middle" fill="#111" stroke="#111" stroke-width="0.13">Predicted genomic coverage (%)</text>
<line x1="253.8" y1="176.4" x2="258.6" y2="176.4" stroke="#1c1cf5" stroke-width="1.3" />
<text x="263.6" y="178.71" font-size="6.6" fill="#111" stroke="#111" stroke-width="0.13">Strand-seq</text>
<line x1="253.8" y1="185.9" x2="258.6" y2="185.9" stroke="#f7a51d" stroke-width="1.3" />
<text x="263.6" y="188.21" font-size="6.6" fill="#111" stroke="#111" stroke-width="0.13">OP-Strand-seq</text>
<line x1="253.8" y1="195.4" x2="258.6" y2="195.4" stroke="#f21c1c" stroke-width="1.3" />
<text x="263.6" y="197.71" font-size="6.6" fill="#111" stroke="#111" stroke-width="0.13">NanoStrand-seq</text>
<text x="378.3" y="169.6" font-size="13" font-weight="bold" fill="#000">e</text>
<line x1="412.8" y1="167.3" x2="412.8" y2="285.4" stroke="#444" stroke-width="0.8" />
<line x1="409.8" y1="285.4" x2="412.8" y2="285.4" stroke="#444" stroke-width="0.8" />
<text x="408.6" y="287.67" font-size="6.5" text-anchor="end" fill="#111" stroke="#111" stroke-width="0.13">0</text>
<line x1="409.8" y1="265.7" x2="412.8" y2="265.7" stroke="#444" stroke-width="0.8" />
<text x="408.6" y="267.97" font-size="6.5" text-anchor="end" fill="#111" stroke="#111" stroke-width="0.13">5</text>
<line x1="409.8" y1="246" x2="412.8" y2="246" stroke="#444" stroke-width="0.8" />
<text x="408.6" y="248.27" font-size="6.5" text-anchor="end" fill="#111" stroke="#111" stroke-width="0.13">10</text>
<line x1="409.8" y1="226.3" x2="412.8" y2="226.3" stroke="#444" stroke-width="0.8" />
<text x="408.6" y="228.57" font-size="6.5" text-anchor="end" fill="#111" stroke="#111" stroke-width="0.13">15</text>
<line x1="409.8" y1="206.6" x2="412.8" y2="206.6" stroke="#444" stroke-width="0.8" />
<text x="408.6" y="208.87" font-size="6.5" text-anchor="end" fill="#111" stroke="#111" stroke-width="0.13">20</text>
<line x1="409.8" y1="186.9" x2="412.8" y2="186.9" stroke="#444" stroke-width="0.8" />
<text x="408.6" y="189.17" font-size="6.5" text-anchor="end" fill="#111" stroke="#111" stroke-width="0.13">25</text>
<line x1="409.8" y1="167.2" x2="412.8" y2="167.2" stroke="#444" stroke-width="0.8" />
<text x="408.6" y="169.47" font-size="6.5" text-anchor="end" fill="#111" stroke="#111" stroke-width="0.13">30</text>
<line x1="412.8" y1="285.4" x2="558.5" y2="285.4" stroke="#444" stroke-width="0.8" />
<line x1="437.5" y1="285.4" x2="437.5" y2="287.9" stroke="#444" stroke-width="0.8" />
<line x1="486.3" y1="285.4" x2="486.3" y2="287.9" stroke="#444" stroke-width="0.8" />
<line x1="535.4" y1="285.4" x2="535.4" y2="287.9" stroke="#444" stroke-width="0.8" />
<line x1="437.5" y1="265" x2="437.5" y2="269.2" stroke="#222" stroke-width="0.75" />
<line x1="437.5" y1="274.2" x2="437.5" y2="278.9" stroke="#222" stroke-width="0.75" />
<line x1="434.3" y1="265" x2="440.7" y2="265" stroke="#222" stroke-width="0" />
<rect x="425.3" y="269.2" width="24.4" height="5" fill="#2172b6" stroke="#222" stroke-width="0.75"/>
<line x1="425.3" y1="272.5" x2="449.7" y2="272.5" stroke="#222" stroke-width="0.9" />
<line x1="486.3" y1="206.9" x2="486.3" y2="219.9" stroke="#222" stroke-width="0.75" />
<line x1="486.3" y1="248.7" x2="486.3" y2="267.8" stroke="#222" stroke-width="0.75" />
<line x1="483.1" y1="206.9" x2="489.5" y2="206.9" stroke="#222" stroke-width="0" />
<rect x="474.1" y="219.9" width="24.4" height="28.8" fill="#fd800f" stroke="#222" stroke-width="0.75"/>
<line x1="474.1" y1="234.6" x2="498.5" y2="234.6" stroke="#222" stroke-width="0.9" />
<line x1="535.4" y1="224.4" x2="535.4" y2="241.5" stroke="#222" stroke-width="0.75" />
<line x1="535.4" y1="254" x2="535.4" y2="265.6" stroke="#222" stroke-width="0.75" />
<line x1="532.2" y1="224.4" x2="538.6" y2="224.4" stroke="#222" stroke-width="0" />
<rect x="523.2" y="241.5" width="24.4" height="12.5" fill="#d42a2d" stroke="#222" stroke-width="0.75"/>
<line x1="523.2" y1="248.2" x2="547.6" y2="248.2" stroke="#222" stroke-width="0.9" />
<circle cx="437.5" cy="262.3" r="1.3" fill="#111" />
<circle cx="535.4" cy="216.2" r="1.3" fill="#111" />
<circle cx="535.4" cy="217.17" r="1.3" fill="#111" />
<circle cx="535.4" cy="218.15" r="1.3" fill="#111" />
<circle cx="535.4" cy="219.12" r="1.3" fill="#111" />
<circle cx="535.4" cy="220.1" r="1.3" fill="#111" />
<circle cx="535.4" cy="221.07" r="1.3" fill="#111" />
<circle cx="535.4" cy="222.05" r="1.3" fill="#111" />
<circle cx="535.4" cy="223.03" r="1.3" fill="#111" />
<circle cx="535.4" cy="224" r="1.3" fill="#111" />
<text x="437.7" y="187.51" font-size="6.6" text-anchor="middle" fill="#111" stroke="#111" stroke-width="0.13">N = 94</text>
<text x="486.3" y="187.51" font-size="6.6" text-anchor="middle" fill="#111" stroke="#111" stroke-width="0.13">N = 74</text>
<text x="535.5" y="187.51" font-size="6.6" text-anchor="middle" fill="#111" stroke="#111" stroke-width="0.13">N = 364</text>
<text transform="translate(395.4,226.4) rotate(-90)" x="0" y="2.31" font-size="6.6" text-anchor="middle" fill="#111" stroke="#111" stroke-width="0.13">Genomic coverage (%)</text>
<text transform="translate(437.7,296) rotate(-9)" x="0" y="2.31" font-size="6.6" text-anchor="middle" fill="#111" stroke="#111" stroke-width="0.13">Strand-seq</text>
<text transform="translate(487,297) rotate(-9)" x="0" y="2.31" font-size="6.6" text-anchor="middle" fill="#111" stroke="#111" stroke-width="0.13">OP-Strand-seq</text>
<text transform="translate(536,298) rotate(-9)" x="0" y="2.31" font-size="6.6" text-anchor="middle" fill="#111" stroke="#111" stroke-width="0.13">NanoStrand-seq</text>
<text x="-0.3" y="336.5" font-size="13" font-weight="bold" fill="#000">f</text>
<line x1="43.1" y1="341.9" x2="43.1" y2="442.9" stroke="#8a8a8a" stroke-width="0.9" />
<line x1="40.1" y1="442.9" x2="43.1" y2="442.9" stroke="#8a8a8a" stroke-width="0.9" />
<text x="38.9" y="445.17" font-size="6.5" text-anchor="end" fill="#111" stroke="#111" stroke-width="0.13">0.0</text>
<line x1="40.1" y1="422.78" x2="43.1" y2="422.78" stroke="#8a8a8a" stroke-width="0.9" />
<text x="38.9" y="425.05" font-size="6.5" text-anchor="end" fill="#111" stroke="#111" stroke-width="0.13">0.2</text>
<line x1="40.1" y1="402.66" x2="43.1" y2="402.66" stroke="#8a8a8a" stroke-width="0.9" />
<text x="38.9" y="404.93" font-size="6.5" text-anchor="end" fill="#111" stroke="#111" stroke-width="0.13">0.4</text>
<line x1="40.1" y1="382.54" x2="43.1" y2="382.54" stroke="#8a8a8a" stroke-width="0.9" />
<text x="38.9" y="384.81" font-size="6.5" text-anchor="end" fill="#111" stroke="#111" stroke-width="0.13">0.6</text>
<line x1="40.1" y1="362.42" x2="43.1" y2="362.42" stroke="#8a8a8a" stroke-width="0.9" />
<text x="38.9" y="364.69" font-size="6.5" text-anchor="end" fill="#111" stroke="#111" stroke-width="0.13">0.8</text>
<line x1="40.1" y1="342.3" x2="43.1" y2="342.3" stroke="#8a8a8a" stroke-width="0.9" />
<text x="38.9" y="344.57" font-size="6.5" text-anchor="end" fill="#111" stroke="#111" stroke-width="0.13">1.0</text>
<line x1="43.1" y1="442.9" x2="184" y2="442.9" stroke="#555" stroke-width="0.8" />
<line x1="43.1" y1="442.9" x2="43.1" y2="445.9" stroke="#555" stroke-width="0.8" />
<text x="43.1" y="452.47" font-size="6.5" text-anchor="middle" fill="#111" stroke="#111" stroke-width="0.13">0</text>
<line x1="71.28" y1="442.9" x2="71.28" y2="445.9" stroke="#555" stroke-width="0.8" />
<text x="71.28" y="452.47" font-size="6.5" text-anchor="middle" fill="#111" stroke="#111" stroke-width="0.13">20</text>
<line x1="99.46" y1="442.9" x2="99.46" y2="445.9" stroke="#555" stroke-width="0.8" />
<text x="99.46" y="452.47" font-size="6.5" text-anchor="middle" fill="#111" stroke="#111" stroke-width="0.13">40</text>
<line x1="127.64" y1="442.9" x2="127.64" y2="445.9" stroke="#555" stroke-width="0.8" />
<text x="127.64" y="452.47" font-size="6.5" text-anchor="middle" fill="#111" stroke="#111" stroke-width="0.13">60</text>
<line x1="155.82" y1="442.9" x2="155.82" y2="445.9" stroke="#555" stroke-width="0.8" />
<text x="155.82" y="452.47" font-size="6.5" text-anchor="middle" fill="#111" stroke="#111" stroke-width="0.13">80</text>
<line x1="184" y1="442.9" x2="184" y2="445.9" stroke="#555" stroke-width="0.8" />
<text x="184" y="452.47" font-size="6.5" text-anchor="middle" fill="#111" stroke="#111" stroke-width="0.13">100</text>
<path d="M43.1,442.9 L43.57,442.9 L44.04,442.9 L44.51,442.9 L44.98,442.9 L45.46,442.9 L45.93,442.9 L46.4,442.9 L46.87,442.9 L47.34,442.9 L47.81,442.9 L48.28,442.9 L48.75,442.9 L49.23,442.9 L49.7,442.9 L50.17,442.9 L50.64,442.9 L51.11,442.9 L51.58,442.9 L52.05,442.9 L52.52,442.9 L53,442.9 L53.47,442.9 L53.94,442.9 L54.41,442.9 L54.88,442.9 L55.35,442.89 L55.82,442.88 L56.29,442.86 L56.77,442.84 L57.24,442.81 L57.71,442.78 L58.18,442.75 L58.65,442.72 L59.12,442.68 L59.59,442.64 L60.06,442.59 L60.54,442.53 L61.01,442.44 L61.48,442.33 L61.95,442.2 L62.42,442.04 L62.89,441.87 L63.36,441.65 L63.83,441.36 L64.31,441.01 L64.78,440.6 L65.25,440.15 L65.72,439.64 L66.19,439.1 L66.66,438.51 L67.13,437.85 L67.6,437.03 L68.08,436.06 L68.55,434.98 L69.02,433.8 L69.49,432.56 L69.96,431.27 L70.43,429.98 L70.9,428.69 L71.37,427.4 L71.85,426.06 L72.32,424.67 L72.79,423.22 L73.26,421.71 L73.73,420.14 L74.2,418.49 L74.67,416.77 L75.14,414.94 L75.62,412.93 L76.09,410.75 L76.56,408.44 L77.03,406.05 L77.5,403.61 L77.97,401.18 L78.44,398.8 L78.91,396.5 L79.39,394.26 L79.86,392.02 L80.33,389.78 L80.8,387.56 L81.27,385.35 L81.74,383.15 L82.21,380.97 L82.68,378.82 L83.16,376.69 L83.63,374.54 L84.1,372.36 L84.57,370.19 L85.04,368.06 L85.51,365.99 L85.98,364 L86.45,362.12 L86.93,360.39 L87.4,358.74 L87.87,357.13 L88.34,355.57 L88.81,354.07 L89.28,352.65 L89.75,351.32 L90.22,350.1 L90.69,348.99 L91.17,348.01 L91.64,347.03 L92.11,346.03 L92.58,345.08 L93.05,344.2 L93.52,343.44 L93.99,342.84 L94.46,342.45 L94.94,342.3 L95.41,342.34 L95.88,342.44 L96.35,342.61 L96.82,342.83 L97.29,343.1 L97.76,343.42 L98.23,344.17 L98.71,345.4 L99.18,346.98 L99.65,348.81 L100.12,350.77 L100.59,352.74 L101.06,354.61 L101.53,356.26 L102,357.74 L102.48,359.22 L102.95,360.7 L103.42,362.16 L103.89,363.59 L104.36,364.97 L104.83,366.3 L105.3,367.56 L105.77,368.74 L106.25,369.84 L106.72,370.88 L107.19,371.88 L107.66,372.84 L108.13,373.77 L108.6,374.68 L109.07,375.59 L109.54,376.51 L110.02,377.44 L110.49,378.4 L110.96,379.4 L111.43,380.43 L111.9,381.46 L112.37,382.5 L112.84,383.56 L113.31,384.63 L113.79,385.73 L114.26,386.85 L114.73,388 L115.2,389.19 L115.67,390.44 L116.14,391.73 L116.61,393.07 L117.08,394.44 L117.56,395.82 L118.03,397.2 L118.5,398.59 L118.97,399.95 L119.44,401.29 L119.91,402.6 L120.38,403.85 L120.85,405.07 L121.33,406.27 L121.8,407.45 L122.27,408.62 L122.74,409.77 L123.21,410.91 L123.68,412.04 L124.15,413.16 L124.62,414.28 L125.1,415.39 L125.57,416.51 L126.04,417.63 L126.51,418.78 L126.98,419.95 L127.45,421.14 L127.92,422.32 L128.39,423.51 L128.87,424.67 L129.34,425.81 L129.81,426.92 L130.28,427.98 L130.75,429 L131.22,429.95 L131.69,430.83 L132.16,431.63 L132.64,432.37 L133.11,433.1 L133.58,433.82 L134.05,434.52 L134.52,435.2 L134.99,435.86 L135.46,436.49 L135.93,437.08 L136.41,437.64 L136.88,438.16 L137.35,438.63 L137.82,439.05 L138.29,439.41 L138.76,439.72 L139.23,439.97 L139.7,440.2 L140.17,440.42 L140.65,440.64 L141.12,440.84 L141.59,441.03 L142.06,441.21 L142.53,441.38 L143,441.54 L143.47,441.69 L143.94,441.83 L144.42,441.95 L144.89,442.06 L145.36,442.16 L145.83,442.24 L146.3,442.31 L146.77,442.37 L147.24,442.41 L147.71,442.45 L148.19,442.48 L148.66,442.52 L149.13,442.55 L149.6,442.58 L150.07,442.61 L150.54,442.63 L151.01,442.66 L151.48,442.68 L151.96,442.7 L152.43,442.72 L152.9,442.74 L153.37,442.75 L153.84,442.77 L154.31,442.78 L154.78,442.79 L155.25,442.79 L155.73,442.8 L156.2,442.8 L156.67,442.81 L157.14,442.81 L157.61,442.81 L158.08,442.82 L158.55,442.82 L159.02,442.82 L159.5,442.83 L159.97,442.83 L160.44,442.83 L160.91,442.83 L161.38,442.84 L161.85,442.84 L162.32,442.84 L162.79,442.85 L163.27,442.85 L163.74,442.85 L164.21,442.85 L164.68,442.86 L165.15,442.86 L165.62,442.86 L166.09,442.86 L166.56,442.86 L167.04,442.87 L167.51,442.87 L167.98,442.87 L168.45,442.87 L168.92,442.87 L169.39,442.88 L169.86,442.88 L170.33,442.88 L170.81,442.88 L171.28,442.88 L171.75,442.88 L172.22,442.88 L172.69,442.89 L173.16,442.89 L173.63,442.89 L174.1,442.89 L174.58,442.89 L175.05,442.89 L175.52,442.89 L175.99,442.89 L176.46,442.89 L176.93,442.89 L177.4,442.9 L177.87,442.9 L178.35,442.9 L178.82,442.9 L179.29,442.9 L179.76,442.9 L180.23,442.9 L180.7,442.9 L181.17,442.9 L181.64,442.9 L182.12,442.9 L182.59,442.9 L183.06,442.9 L183.53,442.9 L184,442.9" fill="none" stroke="#858585" stroke-width="0.95" stroke-linejoin="round"/>
<path d="M43.1,442.9 L43.57,442.9 L44.04,442.9 L44.51,442.9 L44.98,442.9 L45.46,442.9 L45.93,442.9 L46.4,442.9 L46.87,442.9 L47.34,442.9 L47.81,442.9 L48.28,442.9 L48.75,442.9 L49.23,442.9 L49.7,442.9 L50.17,442.9 L50.64,442.9 L51.11,442.9 L51.58,442.9 L52.05,442.9 L52.52,442.9 L53,442.9 L53.47,442.9 L53.94,442.9 L54.41,442.9 L54.88,442.9 L55.35,442.9 L55.82,442.9 L56.29,442.9 L56.77,442.9 L57.24,442.9 L57.71,442.9 L58.18,442.9 L58.65,442.89 L59.12,442.88 L59.59,442.88 L60.06,442.87 L60.54,442.86 L61.01,442.85 L61.48,442.83 L61.95,442.82 L62.42,442.8 L62.89,442.79 L63.36,442.77 L63.83,442.76 L64.31,442.74 L64.78,442.73 L65.25,442.71 L65.72,442.7 L66.19,442.68 L66.66,442.66 L67.13,442.65 L67.6,442.63 L68.08,442.61 L68.55,442.58 L69.02,442.56 L69.49,442.53 L69.96,442.49 L70.43,442.44 L70.9,442.37 L71.37,442.29 L71.85,442.19 L72.32,442.07 L72.79,441.94 L73.26,441.79 L73.73,441.62 L74.2,441.37 L74.67,441.04 L75.14,440.65 L75.62,440.21 L76.09,439.74 L76.56,439.25 L77.03,438.76 L77.5,438.24 L77.97,437.7 L78.44,437.1 L78.91,436.44 L79.39,435.72 L79.86,434.91 L80.33,434 L80.8,432.9 L81.27,431.6 L81.74,430.14 L82.21,428.54 L82.68,426.83 L83.16,425.04 L83.63,423.2 L84.1,421.34 L84.57,419.45 L85.04,417.42 L85.51,415.28 L85.98,413.03 L86.45,410.7 L86.93,408.3 L87.4,405.84 L87.87,403.36 L88.34,400.84 L88.81,398.22 L89.28,395.48 L89.75,392.65 L90.22,389.78 L90.69,386.89 L91.17,384.01 L91.64,381.19 L92.11,378.45 L92.58,375.77 L93.05,373.05 L93.52,370.31 L93.99,367.59 L94.46,364.94 L94.94,362.4 L95.41,360.01 L95.88,357.82 L96.35,355.86 L96.82,353.95 L97.29,352.05 L97.76,350.21 L98.23,348.48 L98.71,346.9 L99.18,345.52 L99.65,344.39 L100.12,343.55 L100.59,342.98 L101.06,342.52 L101.53,342.3 L102,342.39 L102.48,342.69 L102.95,343.16 L103.42,343.75 L103.89,344.45 L104.36,345.21 L104.83,345.99 L105.3,346.77 L105.77,347.51 L106.25,348.26 L106.72,349.04 L107.19,349.87 L107.66,350.74 L108.13,351.65 L108.6,352.6 L109.07,353.58 L109.54,354.61 L110.02,355.68 L110.49,356.8 L110.96,357.95 L111.43,359.14 L111.9,360.38 L112.37,361.66 L112.84,363.07 L113.31,364.61 L113.79,366.28 L114.26,368.04 L114.73,369.87 L115.2,371.76 L115.67,373.68 L116.14,375.61 L116.61,377.53 L117.08,379.41 L117.56,381.23 L118.03,383.01 L118.5,384.82 L118.97,386.65 L119.44,388.48 L119.91,390.32 L120.38,392.14 L120.85,393.95 L121.33,395.73 L121.8,397.47 L122.27,399.17 L122.74,400.81 L123.21,402.39 L123.68,403.94 L124.15,405.47 L124.62,406.98 L125.1,408.46 L125.57,409.91 L126.04,411.33 L126.51,412.71 L126.98,414.06 L127.45,415.37 L127.92,416.65 L128.39,417.88 L128.87,419.08 L129.34,420.27 L129.81,421.44 L130.28,422.59 L130.75,423.71 L131.22,424.79 L131.69,425.84 L132.16,426.85 L132.64,427.82 L133.11,428.74 L133.58,429.61 L134.05,430.44 L134.52,431.27 L134.99,432.09 L135.46,432.91 L135.93,433.71 L136.41,434.48 L136.88,435.23 L137.35,435.95 L137.82,436.62 L138.29,437.25 L138.76,437.83 L139.23,438.34 L139.7,438.8 L140.17,439.18 L140.65,439.5 L141.12,439.78 L141.59,440.06 L142.06,440.33 L142.53,440.58 L143,440.81 L143.47,441.03 L143.94,441.23 L144.42,441.42 L144.89,441.59 L145.36,441.73 L145.83,441.86 L146.3,441.97 L146.77,442.05 L147.24,442.11 L147.71,442.17 L148.19,442.22 L148.66,442.27 L149.13,442.32 L149.6,442.36 L150.07,442.41 L150.54,442.45 L151.01,442.48 L151.48,442.52 L151.96,442.55 L152.43,442.58 L152.9,442.6 L153.37,442.62 L153.84,442.64 L154.31,442.66 L154.78,442.68 L155.25,442.69 L155.73,442.7 L156.2,442.7 L156.67,442.71 L157.14,442.72 L157.61,442.72 L158.08,442.73 L158.55,442.74 L159.02,442.74 L159.5,442.75 L159.97,442.76 L160.44,442.76 L160.91,442.77 L161.38,442.77 L161.85,442.78 L162.32,442.78 L162.79,442.79 L163.27,442.79 L163.74,442.8 L164.21,442.8 L164.68,442.81 L165.15,442.81 L165.62,442.82 L166.09,442.82 L166.56,442.83 L167.04,442.83 L167.51,442.83 L167.98,442.84 L168.45,442.84 L168.92,442.85 L169.39,442.85 L169.86,442.85 L170.33,442.86 L170.81,442.86 L171.28,442.86 L171.75,442.86 L172.22,442.87 L172.69,442.87 L173.16,442.87 L173.63,442.87 L174.1,442.88 L174.58,442.88 L175.05,442.88 L175.52,442.88 L175.99,442.89 L176.46,442.89 L176.93,442.89 L177.4,442.89 L177.87,442.89 L178.35,442.89 L178.82,442.89 L179.29,442.89 L179.76,442.9 L180.23,442.9 L180.7,442.9 L181.17,442.9 L181.64,442.9 L182.12,442.9 L182.59,442.9 L183.06,442.9 L183.53,442.9 L184,442.9" fill="none" stroke="#111" stroke-width="1.3" stroke-linejoin="round"/>
<text x="113.55" y="461.71" font-size="6.6" text-anchor="middle" fill="#111" stroke="#111" stroke-width="0.13">GC content of window (%)</text>
<text x="113.55" y="338.13" font-size="8.1" text-anchor="middle" fill="#111" stroke="#111" stroke-width="0.13">Strand-seq</text>
<line x1="198.8" y1="341.9" x2="198.8" y2="442.9" stroke="#8a8a8a" stroke-width="0.9" />
<line x1="195.8" y1="442.9" x2="198.8" y2="442.9" stroke="#8a8a8a" stroke-width="0.9" />
<line x1="195.8" y1="422.78" x2="198.8" y2="422.78" stroke="#8a8a8a" stroke-width="0.9" />
<line x1="195.8" y1="402.66" x2="198.8" y2="402.66" stroke="#8a8a8a" stroke-width="0.9" />
<line x1="195.8" y1="382.54" x2="198.8" y2="382.54" stroke="#8a8a8a" stroke-width="0.9" />
<line x1="195.8" y1="362.42" x2="198.8" y2="362.42" stroke="#8a8a8a" stroke-width="0.9" />
<line x1="195.8" y1="342.3" x2="198.8" y2="342.3" stroke="#8a8a8a" stroke-width="0.9" />
<line x1="198.8" y1="442.9" x2="339.3" y2="442.9" stroke="#555" stroke-width="0.8" />
<line x1="198.8" y1="442.9" x2="198.8" y2="445.9" stroke="#555" stroke-width="0.8" />
<text x="198.8" y="452.47" font-size="6.5" text-anchor="middle" fill="#111" stroke="#111" stroke-width="0.13">0</text>
<line x1="226.9" y1="442.9" x2="226.9" y2="445.9" stroke="#555" stroke-width="0.8" />
<text x="226.9" y="452.47" font-size="6.5" text-anchor="middle" fill="#111" stroke="#111" stroke-width="0.13">20</text>
<line x1="255" y1="442.9" x2="255" y2="445.9" stroke="#555" stroke-width="0.8" />
<text x="255" y="452.47" font-size="6.5" text-anchor="middle" fill="#111" stroke="#111" stroke-width="0.13">40</text>
<line x1="283.1" y1="442.9" x2="283.1" y2="445.9" stroke="#555" stroke-width="0.8" />
<text x="283.1" y="452.47" font-size="6.5" text-anchor="middle" fill="#111" stroke="#111" stroke-width="0.13">60</text>
<line x1="311.2" y1="442.9" x2="311.2" y2="445.9" stroke="#555" stroke-width="0.8" />
<text x="311.2" y="452.47" font-size="6.5" text-anchor="middle" fill="#111" stroke="#111" stroke-width="0.13">80</text>
<line x1="339.3" y1="442.9" x2="339.3" y2="445.9" stroke="#555" stroke-width="0.8" />
<text x="339.3" y="452.47" font-size="6.5" text-anchor="middle" fill="#111" stroke="#111" stroke-width="0.13">100</text>
<path d="M198.8,442.9 L199.27,442.9 L199.74,442.9 L200.21,442.9 L200.68,442.9 L201.15,442.9 L201.62,442.9 L202.09,442.9 L202.56,442.9 L203.03,442.9 L203.5,442.9 L203.97,442.9 L204.44,442.9 L204.91,442.9 L205.38,442.9 L205.85,442.9 L206.32,442.9 L206.79,442.9 L207.26,442.9 L207.73,442.9 L208.2,442.9 L208.67,442.9 L209.14,442.9 L209.61,442.9 L210.08,442.9 L210.55,442.9 L211.02,442.88 L211.49,442.86 L211.96,442.84 L212.43,442.81 L212.9,442.77 L213.37,442.73 L213.84,442.69 L214.31,442.64 L214.78,442.59 L215.25,442.54 L215.72,442.49 L216.19,442.43 L216.66,442.37 L217.13,442.29 L217.6,442.21 L218.07,442.11 L218.54,442.01 L219.01,441.89 L219.48,441.77 L219.95,441.63 L220.42,441.49 L220.89,441.33 L221.36,441.15 L221.83,440.94 L222.29,440.69 L222.76,440.42 L223.23,440.11 L223.7,439.77 L224.17,439.4 L224.64,438.99 L225.11,438.55 L225.58,438.07 L226.05,437.54 L226.52,436.86 L226.99,436.04 L227.46,435.09 L227.93,434.02 L228.4,432.86 L228.87,431.61 L229.34,430.29 L229.81,428.91 L230.28,427.49 L230.75,426.05 L231.22,424.52 L231.69,422.82 L232.16,420.95 L232.63,418.95 L233.1,416.85 L233.57,414.68 L234.04,412.46 L234.51,410.22 L234.98,408 L235.45,405.77 L235.92,403.46 L236.39,401.07 L236.86,398.64 L237.33,396.17 L237.8,393.67 L238.27,391.16 L238.74,388.65 L239.21,386.17 L239.68,383.72 L240.15,381.31 L240.62,378.87 L241.09,376.35 L241.56,373.79 L242.03,371.22 L242.5,368.67 L242.97,366.19 L243.44,363.8 L243.91,361.54 L244.38,359.44 L244.85,357.53 L245.32,355.85 L245.79,354.27 L246.26,352.77 L246.73,351.35 L247.2,350.01 L247.67,348.77 L248.14,347.61 L248.61,346.56 L249.08,345.62 L249.55,344.73 L250.02,343.82 L250.49,343.02 L250.96,342.46 L251.43,342.31 L251.9,342.64 L252.37,343.37 L252.84,344.38 L253.31,345.55 L253.78,346.77 L254.25,347.92 L254.72,348.93 L255.19,349.93 L255.66,350.95 L256.13,351.98 L256.6,353.03 L257.07,354.1 L257.54,355.19 L258.01,356.31 L258.48,357.45 L258.95,358.63 L259.42,359.83 L259.89,361.09 L260.36,362.48 L260.83,363.97 L261.3,365.49 L261.77,367 L262.24,368.43 L262.71,369.73 L263.18,370.85 L263.65,371.85 L264.12,372.76 L264.59,373.61 L265.06,374.43 L265.53,375.22 L266,376.01 L266.47,376.83 L266.94,377.68 L267.41,378.6 L267.88,379.57 L268.35,380.58 L268.82,381.61 L269.28,382.66 L269.75,383.73 L270.22,384.8 L270.69,385.88 L271.16,386.95 L271.63,388.01 L272.1,389.06 L272.57,390.11 L273.04,391.16 L273.51,392.2 L273.98,393.24 L274.45,394.29 L274.92,395.34 L275.39,396.4 L275.86,397.47 L276.33,398.55 L276.8,399.64 L277.27,400.74 L277.74,401.86 L278.21,403 L278.68,404.17 L279.15,405.35 L279.62,406.59 L280.09,407.86 L280.56,409.16 L281.03,410.49 L281.5,411.83 L281.97,413.18 L282.44,414.54 L282.91,415.88 L283.38,417.22 L283.85,418.53 L284.32,419.81 L284.79,421.06 L285.26,422.28 L285.73,423.51 L286.2,424.77 L286.67,426.04 L287.14,427.3 L287.61,428.52 L288.08,429.7 L288.55,430.81 L289.02,431.85 L289.49,432.78 L289.96,433.59 L290.43,434.3 L290.9,434.97 L291.37,435.61 L291.84,436.23 L292.31,436.82 L292.78,437.37 L293.25,437.88 L293.72,438.35 L294.19,438.78 L294.66,439.17 L295.13,439.51 L295.6,439.8 L296.07,440.05 L296.54,440.29 L297.01,440.52 L297.48,440.74 L297.95,440.95 L298.42,441.14 L298.89,441.33 L299.36,441.5 L299.83,441.66 L300.3,441.8 L300.77,441.93 L301.24,442.04 L301.71,442.14 L302.18,442.22 L302.65,442.28 L303.12,442.33 L303.59,442.38 L304.06,442.42 L304.53,442.46 L305,442.5 L305.47,442.54 L305.94,442.58 L306.41,442.61 L306.88,442.64 L307.35,442.67 L307.82,442.7 L308.29,442.72 L308.76,442.74 L309.23,442.76 L309.7,442.77 L310.17,442.78 L310.64,442.79 L311.11,442.8 L311.58,442.8 L312.05,442.81 L312.52,442.81 L312.99,442.81 L313.46,442.82 L313.93,442.82 L314.4,442.82 L314.87,442.83 L315.34,442.83 L315.81,442.83 L316.27,442.84 L316.74,442.84 L317.21,442.84 L317.68,442.84 L318.15,442.85 L318.62,442.85 L319.09,442.85 L319.56,442.85 L320.03,442.86 L320.5,442.86 L320.97,442.86 L321.44,442.86 L321.91,442.87 L322.38,442.87 L322.85,442.87 L323.32,442.87 L323.79,442.87 L324.26,442.87 L324.73,442.88 L325.2,442.88 L325.67,442.88 L326.14,442.88 L326.61,442.88 L327.08,442.88 L327.55,442.88 L328.02,442.89 L328.49,442.89 L328.96,442.89 L329.43,442.89 L329.9,442.89 L330.37,442.89 L330.84,442.89 L331.31,442.89 L331.78,442.89 L332.25,442.89 L332.72,442.9 L333.19,442.9 L333.66,442.9 L334.13,442.9 L334.6,442.9 L335.07,442.9 L335.54,442.9 L336.01,442.9 L336.48,442.9 L336.95,442.9 L337.42,442.9 L337.89,442.9 L338.36,442.9 L338.83,442.9 L339.3,442.9" fill="none" stroke="#858585" stroke-width="0.95" stroke-linejoin="round"/>
<path d="M198.8,442.9 L199.27,442.9 L199.74,442.9 L200.21,442.9 L200.68,442.9 L201.15,442.9 L201.62,442.9 L202.09,442.9 L202.56,442.9 L203.03,442.9 L203.5,442.9 L203.97,442.9 L204.44,442.9 L204.91,442.9 L205.38,442.9 L205.85,442.9 L206.32,442.9 L206.79,442.9 L207.26,442.9 L207.73,442.9 L208.2,442.9 L208.67,442.9 L209.14,442.9 L209.61,442.9 L210.08,442.9 L210.55,442.9 L211.02,442.9 L211.49,442.9 L211.96,442.9 L212.43,442.9 L212.9,442.9 L213.37,442.9 L213.84,442.88 L214.31,442.86 L214.78,442.84 L215.25,442.81 L215.72,442.77 L216.19,442.73 L216.66,442.68 L217.13,442.64 L217.6,442.59 L218.07,442.54 L218.54,442.49 L219.01,442.44 L219.48,442.37 L219.95,442.3 L220.42,442.22 L220.89,442.13 L221.36,442.03 L221.83,441.92 L222.29,441.8 L222.76,441.67 L223.23,441.52 L223.7,441.36 L224.17,441.17 L224.64,440.96 L225.11,440.73 L225.58,440.47 L226.05,440.19 L226.52,439.88 L226.99,439.54 L227.46,439.17 L227.93,438.77 L228.4,438.33 L228.87,437.86 L229.34,437.26 L229.81,436.43 L230.28,435.41 L230.75,434.22 L231.22,432.89 L231.69,431.45 L232.16,429.91 L232.63,428.31 L233.1,426.67 L233.57,425.02 L234.04,423.37 L234.51,421.62 L234.98,419.72 L235.45,417.69 L235.92,415.55 L236.39,413.33 L236.86,411.04 L237.33,408.7 L237.8,406.32 L238.27,403.94 L238.74,401.56 L239.21,399.2 L239.68,396.79 L240.15,394.28 L240.62,391.72 L241.09,389.1 L241.56,386.47 L242.03,383.84 L242.5,381.24 L242.97,378.68 L243.44,376.2 L243.91,373.81 L244.38,371.52 L244.85,369.2 L245.32,366.85 L245.79,364.5 L246.26,362.18 L246.73,359.94 L247.2,357.78 L247.67,355.76 L248.14,353.9 L248.61,352.23 L249.08,350.78 L249.55,349.53 L250.02,348.26 L250.49,347.02 L250.96,345.84 L251.43,344.76 L251.9,343.83 L252.37,343.08 L252.84,342.56 L253.31,342.32 L253.78,342.3 L254.25,342.3 L254.72,342.3 L255.19,342.3 L255.66,342.34 L256.13,342.6 L256.6,343.1 L257.07,343.79 L257.54,344.63 L258.01,345.59 L258.48,346.63 L258.95,347.72 L259.42,348.8 L259.89,349.86 L260.36,350.85 L260.83,351.74 L261.3,352.59 L261.77,353.44 L262.24,354.28 L262.71,355.12 L263.18,355.98 L263.65,356.85 L264.12,357.75 L264.59,358.69 L265.06,359.66 L265.53,360.69 L266,361.78 L266.47,362.93 L266.94,364.17 L267.41,365.58 L267.88,367.13 L268.35,368.81 L268.82,370.57 L269.28,372.38 L269.75,374.23 L270.22,376.07 L270.69,377.87 L271.16,379.61 L271.63,381.25 L272.1,382.8 L272.57,384.3 L273.04,385.77 L273.51,387.21 L273.98,388.64 L274.45,390.05 L274.92,391.47 L275.39,392.89 L275.86,394.32 L276.33,395.78 L276.8,397.26 L277.27,398.79 L277.74,400.36 L278.21,401.98 L278.68,403.62 L279.15,405.29 L279.62,406.97 L280.09,408.65 L280.56,410.33 L281.03,411.99 L281.5,413.62 L281.97,415.23 L282.44,416.79 L282.91,418.3 L283.38,419.74 L283.85,421.12 L284.32,422.43 L284.79,423.73 L285.26,425.02 L285.73,426.29 L286.2,427.52 L286.67,428.72 L287.14,429.85 L287.61,430.93 L288.08,431.93 L288.55,432.84 L289.02,433.65 L289.49,434.39 L289.96,435.09 L290.43,435.77 L290.9,436.42 L291.37,437.04 L291.84,437.61 L292.31,438.15 L292.78,438.64 L293.25,439.08 L293.72,439.46 L294.19,439.79 L294.66,440.07 L295.13,440.34 L295.6,440.59 L296.07,440.83 L296.54,441.06 L297.01,441.27 L297.48,441.46 L297.95,441.64 L298.42,441.78 L298.89,441.91 L299.36,442.01 L299.83,442.08 L300.3,442.13 L300.77,442.18 L301.24,442.22 L301.71,442.26 L302.18,442.3 L302.65,442.34 L303.12,442.37 L303.59,442.4 L304.06,442.43 L304.53,442.46 L305,442.49 L305.47,442.52 L305.94,442.54 L306.41,442.56 L306.88,442.58 L307.35,442.6 L307.82,442.62 L308.29,442.63 L308.76,442.65 L309.23,442.66 L309.7,442.67 L310.17,442.68 L310.64,442.69 L311.11,442.7 L311.58,442.7 L312.05,442.71 L312.52,442.72 L312.99,442.72 L313.46,442.73 L313.93,442.74 L314.4,442.74 L314.87,442.75 L315.34,442.75 L315.81,442.76 L316.27,442.76 L316.74,442.77 L317.21,442.78 L317.68,442.78 L318.15,442.79 L318.62,442.79 L319.09,442.8 L319.56,442.8 L320.03,442.8 L320.5,442.81 L320.97,442.81 L321.44,442.82 L321.91,442.82 L322.38,442.83 L322.85,442.83 L323.32,442.83 L323.79,442.84 L324.26,442.84 L324.73,442.85 L325.2,442.85 L325.67,442.85 L326.14,442.86 L326.61,442.86 L327.08,442.86 L327.55,442.86 L328.02,442.87 L328.49,442.87 L328.96,442.87 L329.43,442.87 L329.9,442.88 L330.37,442.88 L330.84,442.88 L331.31,442.88 L331.78,442.89 L332.25,442.89 L332.72,442.89 L333.19,442.89 L333.66,442.89 L334.13,442.89 L334.6,442.89 L335.07,442.9 L335.54,442.9 L336.01,442.9 L336.48,442.9 L336.95,442.9 L337.42,442.9 L337.89,442.9 L338.36,442.9 L338.83,442.9 L339.3,442.9" fill="none" stroke="#111" stroke-width="1.3" stroke-linejoin="round"/>
<text x="269.05" y="461.71" font-size="6.6" text-anchor="middle" fill="#111" stroke="#111" stroke-width="0.13">GC content of window (%)</text>
<text x="269.05" y="338.13" font-size="8.1" text-anchor="middle" fill="#111" stroke="#111" stroke-width="0.13">OP-Strand-seq</text>
<line x1="355.5" y1="341.9" x2="355.5" y2="442.9" stroke="#8a8a8a" stroke-width="0.9" />
<line x1="352.5" y1="442.9" x2="355.5" y2="442.9" stroke="#8a8a8a" stroke-width="0.9" />
<line x1="352.5" y1="422.78" x2="355.5" y2="422.78" stroke="#8a8a8a" stroke-width="0.9" />
<line x1="352.5" y1="402.66" x2="355.5" y2="402.66" stroke="#8a8a8a" stroke-width="0.9" />
<line x1="352.5" y1="382.54" x2="355.5" y2="382.54" stroke="#8a8a8a" stroke-width="0.9" />
<line x1="352.5" y1="362.42" x2="355.5" y2="362.42" stroke="#8a8a8a" stroke-width="0.9" />
<line x1="352.5" y1="342.3" x2="355.5" y2="342.3" stroke="#8a8a8a" stroke-width="0.9" />
<line x1="355.5" y1="442.9" x2="496" y2="442.9" stroke="#555" stroke-width="0.8" />
<line x1="355.5" y1="442.9" x2="355.5" y2="445.9" stroke="#555" stroke-width="0.8" />
<text x="355.5" y="452.47" font-size="6.5" text-anchor="middle" fill="#111" stroke="#111" stroke-width="0.13">0</text>
<line x1="383.6" y1="442.9" x2="383.6" y2="445.9" stroke="#555" stroke-width="0.8" />
<text x="383.6" y="452.47" font-size="6.5" text-anchor="middle" fill="#111" stroke="#111" stroke-width="0.13">20</text>
<line x1="411.7" y1="442.9" x2="411.7" y2="445.9" stroke="#555" stroke-width="0.8" />
<text x="411.7" y="452.47" font-size="6.5" text-anchor="middle" fill="#111" stroke="#111" stroke-width="0.13">40</text>
<line x1="439.8" y1="442.9" x2="439.8" y2="445.9" stroke="#555" stroke-width="0.8" />
<text x="439.8" y="452.47" font-size="6.5" text-anchor="middle" fill="#111" stroke="#111" stroke-width="0.13">60</text>
<line x1="467.9" y1="442.9" x2="467.9" y2="445.9" stroke="#555" stroke-width="0.8" />
<text x="467.9" y="452.47" font-size="6.5" text-anchor="middle" fill="#111" stroke="#111" stroke-width="0.13">80</text>
<line x1="496" y1="442.9" x2="496" y2="445.9" stroke="#555" stroke-width="0.8" />
<text x="496" y="452.47" font-size="6.5" text-anchor="middle" fill="#111" stroke="#111" stroke-width="0.13">100</text>
<path d="M355.5,442.9 L355.97,442.9 L356.44,442.9 L356.91,442.9 L357.38,442.9 L357.85,442.9 L358.32,442.9 L358.79,442.9 L359.26,442.9 L359.73,442.9 L360.2,442.9 L360.67,442.9 L361.14,442.9 L361.61,442.9 L362.08,442.9 L362.55,442.9 L363.02,442.9 L363.49,442.9 L363.96,442.9 L364.43,442.9 L364.9,442.9 L365.37,442.9 L365.84,442.9 L366.31,442.9 L366.78,442.9 L367.25,442.9 L367.72,442.89 L368.19,442.87 L368.66,442.85 L369.13,442.82 L369.6,442.79 L370.07,442.75 L370.54,442.71 L371.01,442.67 L371.48,442.62 L371.95,442.56 L372.42,442.51 L372.89,442.43 L373.36,442.31 L373.83,442.15 L374.3,441.95 L374.77,441.72 L375.24,441.45 L375.71,441.17 L376.18,440.86 L376.65,440.54 L377.12,440.2 L377.59,439.86 L378.06,439.5 L378.53,439.09 L378.99,438.64 L379.46,438.14 L379.93,437.6 L380.4,437.02 L380.87,436.38 L381.34,435.7 L381.81,434.96 L382.28,434.18 L382.75,433.32 L383.22,432.3 L383.69,431.13 L384.16,429.81 L384.63,428.38 L385.1,426.83 L385.57,425.19 L386.04,423.48 L386.51,421.72 L386.98,419.9 L387.45,418.07 L387.92,416.16 L388.39,414.07 L388.86,411.83 L389.33,409.46 L389.8,407 L390.27,404.47 L390.74,401.89 L391.21,399.3 L391.68,396.72 L392.15,394.18 L392.62,391.7 L393.09,389.16 L393.56,386.55 L394.03,383.9 L394.5,381.22 L394.97,378.56 L395.44,375.93 L395.91,373.37 L396.38,370.89 L396.85,368.52 L397.32,366.29 L397.79,364.18 L398.26,362.04 L398.73,359.89 L399.2,357.76 L399.67,355.68 L400.14,353.7 L400.61,351.85 L401.08,350.17 L401.55,348.68 L402.02,347.43 L402.49,346.46 L402.96,345.68 L403.43,344.92 L403.9,344.22 L404.37,343.59 L404.84,343.05 L405.31,342.64 L405.78,342.38 L406.25,342.3 L406.72,342.37 L407.19,342.56 L407.66,342.86 L408.13,343.23 L408.6,343.69 L409.07,344.19 L409.54,344.74 L410.01,345.31 L410.48,346.06 L410.95,347.12 L411.42,348.42 L411.89,349.93 L412.36,351.56 L412.83,353.28 L413.3,355.02 L413.77,356.72 L414.24,358.33 L414.71,359.78 L415.18,361.06 L415.65,362.27 L416.12,363.45 L416.59,364.59 L417.06,365.71 L417.53,366.79 L418,367.85 L418.47,368.9 L418.94,369.92 L419.41,370.88 L419.88,371.8 L420.35,372.68 L420.82,373.54 L421.29,374.4 L421.76,375.27 L422.23,376.17 L422.7,377.11 L423.17,378.1 L423.64,379.17 L424.11,380.33 L424.58,381.63 L425.05,383.03 L425.52,384.51 L425.98,386.04 L426.45,387.6 L426.92,389.16 L427.39,390.7 L427.86,392.18 L428.33,393.59 L428.8,394.89 L429.27,396.12 L429.74,397.29 L430.21,398.43 L430.68,399.53 L431.15,400.61 L431.62,401.68 L432.09,402.73 L432.56,403.79 L433.03,404.86 L433.5,405.95 L433.97,407.06 L434.44,408.22 L434.91,409.41 L435.38,410.68 L435.85,412.04 L436.32,413.48 L436.79,414.98 L437.26,416.51 L437.73,418.05 L438.2,419.59 L438.67,421.09 L439.14,422.55 L439.61,423.93 L440.08,425.23 L440.55,426.4 L441.02,427.44 L441.49,428.36 L441.96,429.23 L442.43,430.06 L442.9,430.86 L443.37,431.63 L443.84,432.37 L444.31,433.07 L444.78,433.73 L445.25,434.36 L445.72,434.95 L446.19,435.5 L446.66,436.02 L447.13,436.49 L447.6,436.93 L448.07,437.35 L448.54,437.76 L449.01,438.17 L449.48,438.57 L449.95,438.95 L450.42,439.32 L450.89,439.67 L451.36,440 L451.83,440.31 L452.3,440.6 L452.77,440.86 L453.24,441.1 L453.71,441.3 L454.18,441.48 L454.65,441.62 L455.12,441.72 L455.59,441.82 L456.06,441.91 L456.53,441.99 L457,442.07 L457.47,442.14 L457.94,442.21 L458.41,442.28 L458.88,442.34 L459.35,442.39 L459.82,442.44 L460.29,442.48 L460.76,442.52 L461.23,442.55 L461.7,442.58 L462.17,442.59 L462.64,442.61 L463.11,442.62 L463.58,442.63 L464.05,442.65 L464.52,442.66 L464.99,442.67 L465.46,442.68 L465.93,442.69 L466.4,442.7 L466.87,442.71 L467.34,442.71 L467.81,442.72 L468.28,442.73 L468.75,442.74 L469.22,442.74 L469.69,442.75 L470.16,442.75 L470.63,442.76 L471.1,442.77 L471.57,442.77 L472.04,442.77 L472.51,442.78 L472.97,442.78 L473.44,442.79 L473.91,442.79 L474.38,442.8 L474.85,442.8 L475.32,442.8 L475.79,442.81 L476.26,442.81 L476.73,442.81 L477.2,442.82 L477.67,442.82 L478.14,442.82 L478.61,442.83 L479.08,442.83 L479.55,442.83 L480.02,442.84 L480.49,442.84 L480.96,442.84 L481.43,442.85 L481.9,442.85 L482.37,442.85 L482.84,442.86 L483.31,442.86 L483.78,442.86 L484.25,442.86 L484.72,442.87 L485.19,442.87 L485.66,442.87 L486.13,442.87 L486.6,442.88 L487.07,442.88 L487.54,442.88 L488.01,442.88 L488.48,442.88 L488.95,442.89 L489.42,442.89 L489.89,442.89 L490.36,442.89 L490.83,442.89 L491.3,442.89 L491.77,442.89 L492.24,442.9 L492.71,442.9 L493.18,442.9 L493.65,442.9 L494.12,442.9 L494.59,442.9 L495.06,442.9 L495.53,442.9 L496,442.9" fill="none" stroke="#858585" stroke-width="0.95" stroke-linejoin="round"/>
<path d="M355.5,442.9 L355.97,442.9 L356.44,442.9 L356.91,442.9 L357.38,442.9 L357.85,442.9 L358.32,442.9 L358.79,442.9 L359.26,442.9 L359.73,442.9 L360.2,442.9 L360.67,442.9 L361.14,442.9 L361.61,442.9 L362.08,442.9 L362.55,442.9 L363.02,442.9 L363.49,442.9 L363.96,442.9 L364.43,442.9 L364.9,442.9 L365.37,442.9 L365.84,442.9 L366.31,442.9 L366.78,442.9 L367.25,442.9 L367.72,442.89 L368.19,442.87 L368.66,442.85 L369.13,442.82 L369.6,442.79 L370.07,442.75 L370.54,442.71 L371.01,442.67 L371.48,442.62 L371.95,442.56 L372.42,442.51 L372.89,442.43 L373.36,442.31 L373.83,442.15 L374.3,441.95 L374.77,441.72 L375.24,441.45 L375.71,441.17 L376.18,440.86 L376.65,440.54 L377.12,440.2 L377.59,439.86 L378.06,439.5 L378.53,439.09 L378.99,438.64 L379.46,438.14 L379.93,437.6 L380.4,437.02 L380.87,436.38 L381.34,435.7 L381.81,434.96 L382.28,434.18 L382.75,433.32 L383.22,432.3 L383.69,431.13 L384.16,429.81 L384.63,428.38 L385.1,426.83 L385.57,425.19 L386.04,423.48 L386.51,421.72 L386.98,419.9 L387.45,418.07 L387.92,416.16 L388.39,414.07 L388.86,411.83 L389.33,409.46 L389.8,407 L390.27,404.47 L390.74,401.89 L391.21,399.3 L391.68,396.72 L392.15,394.18 L392.62,391.7 L393.09,389.16 L393.56,386.55 L394.03,383.9 L394.5,381.22 L394.97,378.56 L395.44,375.93 L395.91,373.37 L396.38,370.89 L396.85,368.52 L397.32,366.29 L397.79,364.18 L398.26,362.04 L398.73,359.89 L399.2,357.76 L399.67,355.68 L400.14,353.7 L400.61,351.85 L401.08,350.17 L401.55,348.68 L402.02,347.43 L402.49,346.46 L402.96,345.68 L403.43,344.92 L403.9,344.22 L404.37,343.59 L404.84,343.05 L405.31,342.64 L405.78,342.38 L406.25,342.3 L406.72,342.37 L407.19,342.56 L407.66,342.86 L408.13,343.23 L408.6,343.69 L409.07,344.19 L409.54,344.74 L410.01,345.31 L410.48,346.06 L410.95,347.12 L411.42,348.42 L411.89,349.93 L412.36,351.56 L412.83,353.28 L413.3,355.02 L413.77,356.72 L414.24,358.33 L414.71,359.78 L415.18,361.06 L415.65,362.27 L416.12,363.45 L416.59,364.59 L417.06,365.71 L417.53,366.79 L418,367.85 L418.47,368.9 L418.94,369.92 L419.41,370.88 L419.88,371.8 L420.35,372.68 L420.82,373.54 L421.29,374.4 L421.76,375.27 L422.23,376.17 L422.7,377.11 L423.17,378.1 L423.64,379.17 L424.11,380.33 L424.58,381.63 L425.05,383.03 L425.52,384.51 L425.98,386.04 L426.45,387.6 L426.92,389.16 L427.39,390.7 L427.86,392.18 L428.33,393.59 L428.8,394.89 L429.27,396.12 L429.74,397.29 L430.21,398.43 L430.68,399.53 L431.15,400.61 L431.62,401.68 L432.09,402.73 L432.56,403.79 L433.03,404.86 L433.5,405.95 L433.97,407.06 L434.44,408.22 L434.91,409.41 L435.38,410.68 L435.85,412.04 L436.32,413.48 L436.79,414.98 L437.26,416.51 L437.73,418.05 L438.2,419.59 L438.67,421.09 L439.14,422.55 L439.61,423.93 L440.08,425.23 L440.55,426.4 L441.02,427.44 L441.49,428.36 L441.96,429.23 L442.43,430.06 L442.9,430.86 L443.37,431.63 L443.84,432.37 L444.31,433.07 L444.78,433.73 L445.25,434.36 L445.72,434.95 L446.19,435.5 L446.66,436.02 L447.13,436.49 L447.6,436.93 L448.07,437.35 L448.54,437.76 L449.01,438.17 L449.48,438.57 L449.95,438.95 L450.42,439.32 L450.89,439.67 L451.36,440 L451.83,440.31 L452.3,440.6 L452.77,440.86 L453.24,441.1 L453.71,441.3 L454.18,441.48 L454.65,441.62 L455.12,441.72 L455.59,441.82 L456.06,441.91 L456.53,441.99 L457,442.07 L457.47,442.14 L457.94,442.21 L458.41,442.28 L458.88,442.34 L459.35,442.39 L459.82,442.44 L460.29,442.48 L460.76,442.52 L461.23,442.55 L461.7,442.58 L462.17,442.59 L462.64,442.61 L463.11,442.62 L463.58,442.63 L464.05,442.65 L464.52,442.66 L464.99,442.67 L465.46,442.68 L465.93,442.69 L466.4,442.7 L466.87,442.71 L467.34,442.71 L467.81,442.72 L468.28,442.73 L468.75,442.74 L469.22,442.74 L469.69,442.75 L470.16,442.75 L470.63,442.76 L471.1,442.77 L471.57,442.77 L472.04,442.77 L472.51,442.78 L472.97,442.78 L473.44,442.79 L473.91,442.79 L474.38,442.8 L474.85,442.8 L475.32,442.8 L475.79,442.81 L476.26,442.81 L476.73,442.81 L477.2,442.82 L477.67,442.82 L478.14,442.82 L478.61,442.83 L479.08,442.83 L479.55,442.83 L480.02,442.84 L480.49,442.84 L480.96,442.84 L481.43,442.85 L481.9,442.85 L482.37,442.85 L482.84,442.86 L483.31,442.86 L483.78,442.86 L484.25,442.86 L484.72,442.87 L485.19,442.87 L485.66,442.87 L486.13,442.87 L486.6,442.88 L487.07,442.88 L487.54,442.88 L488.01,442.88 L488.48,442.88 L488.95,442.89 L489.42,442.89 L489.89,442.89 L490.36,442.89 L490.83,442.89 L491.3,442.89 L491.77,442.89 L492.24,442.9 L492.71,442.9 L493.18,442.9 L493.65,442.9 L494.12,442.9 L494.59,442.9 L495.06,442.9 L495.53,442.9 L496,442.9" fill="none" stroke="#111" stroke-width="1.3" stroke-linejoin="round"/>
<text x="425.75" y="461.71" font-size="6.6" text-anchor="middle" fill="#111" stroke="#111" stroke-width="0.13">GC content of window (%)</text>
<text x="425.75" y="338.13" font-size="8.1" text-anchor="middle" fill="#111" stroke="#111" stroke-width="0.13">NanoStrand-seq</text>
<text transform="translate(15.4,392.5) rotate(-90)" x="0" y="2.31" font-size="6.6" text-anchor="middle" fill="#111" stroke="#111" stroke-width="0.13">Scaled value</text>
<text transform="translate(23.6,392.7) rotate(-90)" x="0" y="2.31" font-size="6.6" text-anchor="middle" fill="#111" stroke="#111" stroke-width="0.13">(to curve maximum value)</text>
<rect x="463.4" y="345.9" width="90" height="20" rx="1.5" fill="#fff" stroke="#d8d8d8" stroke-width="0.6"/>
<line x1="466.6" y1="350.6" x2="473.8" y2="350.6" stroke="#8c8c8c" stroke-width="0.9" />
<line x1="466.6" y1="359.8" x2="473.8" y2="359.8" stroke="#111" stroke-width="1.3" />
<text x="478.8" y="353.31" font-size="6.6" fill="#111" stroke="#111" stroke-width="0.13">No. of windows (100 bp)</text>
<text x="478.8" y="362.61" font-size="6.6" fill="#111" stroke="#111" stroke-width="0.13">No. of reads</text>
<text x="-0.4" y="490.8" font-size="13" font-weight="bold" fill="#000">g</text>
<path d="M30.25,485.6h8.35v0.86h-8.35zM29.66,486.46h8.94v0.86h-8.94zM30.54,487.32h8.06v0.86h-8.06zM31.74,488.18h6.86v0.86h-6.86zM30.98,489.04h7.62v0.86h-7.62zM32.24,489.9h6.36v0.86h-6.36zM30.69,490.76h7.91v0.86h-7.91zM28.85,491.62h9.75v0.86h-9.75zM31.87,492.48h6.73v0.86h-6.73zM31.67,493.34h6.93v0.86h-6.93zM30.25,494.2h8.35v0.86h-8.35zM30.53,495.06h8.07v0.86h-8.07zM30.82,495.92h7.78v0.86h-7.78zM32.63,496.78h5.97v0.86h-5.97zM31.18,497.64h7.42v0.86h-7.42zM30.01,498.5h8.59v0.86h-8.59zM33.16,499.36h5.44v0.86h-5.44zM31.86,500.22h6.74v0.86h-6.74zM33.93,501.08h4.67v0.86h-4.67zM32.87,501.94h5.73v0.86h-5.73zM33.94,502.8h4.66v0.86h-4.66zM30.62,503.66h7.98v0.86h-7.98zM32.25,504.52h6.35v0.86h-6.35zM29.86,505.38h8.74v0.86h-8.74zM30.24,506.24h8.36v0.86h-8.36zM30.96,507.1h7.64v0.86h-7.64zM34.62,507.96h3.98v0.86h-3.98zM31.65,508.82h6.95v0.86h-6.95zM30.82,509.68h7.78v0.86h-7.78zM30.99,510.54h7.61v0.86h-7.61zM33.25,511.4h5.35v0.86h-5.35zM31.37,512.26h7.23v0.86h-7.23zM32.25,513.12h6.35v0.86h-6.35zM31.81,513.98h6.79v0.86h-6.79zM28.88,514.84h9.72v0.86h-9.72zM31.37,515.7h7.23v0.86h-7.23zM30.14,516.56h8.46v0.86h-8.46zM28.46,517.42h10.14v0.86h-10.14zM31.32,518.28h7.28v0.86h-7.28zM30.64,519.14h7.96v0.86h-7.96zM30.65,520h7.95v0.86h-7.95zM31.31,520.86h7.29v0.86h-7.29zM33.35,521.72h5.25v0.86h-5.25zM31.71,522.58h6.89v0.86h-6.89zM29.64,523.44h8.96v0.86h-8.96zM33.88,524.3h4.72v0.86h-4.72zM29.97,525.16h8.63v0.86h-8.63zM31.36,526.02h7.24v0.86h-7.24zM32.15,526.88h6.45v0.86h-6.45zM27.41,527.74h11.19v0.86h-11.19zM29.35,528.6h9.25v0.86h-9.25zM32.79,539.6h5.81v0.86h-5.81zM33.31,540.46h5.29v0.86h-5.29zM30.23,541.32h8.37v0.86h-8.37zM32.12,542.18h6.48v0.86h-6.48zM29.38,543.04h9.22v0.86h-9.22zM33.23,543.9h5.37v0.86h-5.37zM31.39,544.76h7.21v0.86h-7.21zM32.15,545.62h6.45v0.86h-6.45zM32.29,546.48h6.31v0.86h-6.31zM29.78,547.34h8.82v0.86h-8.82zM30.93,548.2h7.67v0.86h-7.67zM29.92,549.06h8.68v0.86h-8.68zM30.9,549.92h7.7v0.86h-7.7zM32.37,550.78h6.23v0.86h-6.23zM31.02,551.64h7.58v0.86h-7.58zM30.79,552.5h7.81v0.86h-7.81zM29.9,553.36h8.7v0.86h-8.7zM32.99,554.22h5.61v0.86h-5.61zM31.67,555.08h6.93v0.86h-6.93zM34.01,555.94h4.59v0.86h-4.59zM30.44,556.8h8.16v0.86h-8.16zM33.09,557.66h5.51v0.86h-5.51zM34.23,558.52h4.37v0.86h-4.37zM31.62,559.38h6.98v0.86h-6.98zM29.75,560.24h8.85v0.86h-8.85zM33.81,561.1h4.79v0.86h-4.79zM33.13,561.96h5.47v0.86h-5.47zM32.94,562.82h5.66v0.86h-5.66zM33.48,563.68h5.12v0.86h-5.12zM31.32,564.54h7.28v0.86h-7.28zM33.05,565.4h5.55v0.86h-5.55zM32.93,566.26h5.67v0.86h-5.67zM31.27,567.12h7.33v0.86h-7.33zM33.33,567.98h5.27v0.86h-5.27zM31.5,568.84h7.1v0.86h-7.1zM33.37,569.7h5.23v0.86h-5.23zM33.84,570.56h4.76v0.86h-4.76zM34.58,571.42h4.02v0.86h-4.02zM29.06,572.28h9.54v0.86h-9.54zM32.36,573.14h6.24v0.86h-6.24zM31.19,574h7.41v0.86h-7.41zM31.6,574.86h7v0.86h-7zM31.59,575.72h7.01v0.86h-7.01zM31.68,576.58h6.92v0.86h-6.92zM28.75,577.44h9.85v0.86h-9.85zM33.16,578.3h5.44v0.86h-5.44zM33.83,579.16h4.77v0.86h-4.77zM32.84,580.02h5.76v0.86h-5.76zM33.56,580.88h5.04v0.86h-5.04zM30.33,581.74h8.27v0.86h-8.27zM29.92,582.6h8.68v0.86h-8.68zM32.6,583.46h6v0.86h-6zM33.2,584.32h5.4v0.86h-5.4zM31.74,585.18h6.86v0.86h-6.86zM29.06,586.04h9.54v0.86h-9.54zM35.42,586.9h3.18v0.86h-3.18zM29.92,587.76h8.68v0.86h-8.68zM32.4,588.62h6.2v0.86h-6.2zM29.56,589.48h9.04v0.86h-9.04zM32.71,590.34h5.89v0.86h-5.89z" fill="#f6b37a"/>
<path d="M38.6,485.6h6.84v0.86h-6.84zM38.6,486.46h5.95v0.86h-5.95zM38.6,487.32h4.69v0.86h-4.69zM38.6,488.18h7.22v0.86h-7.22zM38.6,489.04h6.46v0.86h-6.46zM38.6,489.9h6.94v0.86h-6.94zM38.6,490.76h5.13v0.86h-5.13zM38.6,491.62h6.17v0.86h-6.17zM38.6,492.48h5.64v0.86h-5.64zM38.6,493.34h6.1v0.86h-6.1zM38.6,494.2h7.5v0.86h-7.5zM38.6,495.06h6.26v0.86h-6.26zM38.6,495.92h7.56v0.86h-7.56zM38.6,496.78h7.88v0.86h-7.88zM38.6,497.64h10.21v0.86h-10.21zM38.6,498.5h5.51v0.86h-5.51zM38.6,499.36h8.85v0.86h-8.85zM38.6,500.22h7.2v0.86h-7.2zM38.6,501.08h7.45v0.86h-7.45zM38.6,501.94h5.46v0.86h-5.46zM38.6,502.8h7.16v0.86h-7.16zM38.6,503.66h8.57v0.86h-8.57zM38.6,504.52h7.51v0.86h-7.51zM38.6,505.38h7.67v0.86h-7.67zM38.6,506.24h7v0.86h-7zM38.6,507.1h8.91v0.86h-8.91zM38.6,507.96h7.09v0.86h-7.09zM38.6,508.82h4.38v0.86h-4.38zM38.6,509.68h6.64v0.86h-6.64zM38.6,510.54h4.84v0.86h-4.84zM38.6,511.4h2.68v0.86h-2.68zM38.6,512.26h6.19v0.86h-6.19zM38.6,513.12h8.81v0.86h-8.81zM38.6,513.98h7.28v0.86h-7.28zM38.6,514.84h5.61v0.86h-5.61zM38.6,515.7h5.58v0.86h-5.58zM38.6,516.56h8.36v0.86h-8.36zM38.6,517.42h6.99v0.86h-6.99zM38.6,518.28h6.6v0.86h-6.6zM38.6,519.14h6.63v0.86h-6.63zM38.6,520h6.6v0.86h-6.6zM38.6,520.86h7.68v0.86h-7.68zM38.6,521.72h7.26v0.86h-7.26zM38.6,522.58h6.94v0.86h-6.94zM38.6,523.44h5.5v0.86h-5.5zM38.6,524.3h7.61v0.86h-7.61zM38.6,525.16h6.12v0.86h-6.12zM38.6,526.02h8.7v0.86h-8.7zM38.6,526.88h5.54v0.86h-5.54zM38.6,527.74h6.77v0.86h-6.77zM38.6,528.6h7.19v0.86h-7.19zM38.6,539.6h8.51v0.86h-8.51zM38.6,540.46h7.18v0.86h-7.18zM38.6,541.32h8.59v0.86h-8.59zM38.6,542.18h10.09v0.86h-10.09zM38.6,543.04h6.9v0.86h-6.9zM38.6,543.9h7.06v0.86h-7.06zM38.6,544.76h9.05v0.86h-9.05zM38.6,545.62h7.92v0.86h-7.92zM38.6,546.48h8.28v0.86h-8.28zM38.6,547.34h6.95v0.86h-6.95zM38.6,548.2h9.82v0.86h-9.82zM38.6,549.06h9.34v0.86h-9.34zM38.6,549.92h7.6v0.86h-7.6zM38.6,550.78h7.59v0.86h-7.59zM38.6,551.64h4.03v0.86h-4.03zM38.6,552.5h8.03v0.86h-8.03zM38.6,553.36h6.66v0.86h-6.66zM38.6,554.22h7.4v0.86h-7.4zM38.6,555.08h8.07v0.86h-8.07zM38.6,555.94h6.63v0.86h-6.63zM38.6,556.8h4.94v0.86h-4.94zM38.6,557.66h7.53v0.86h-7.53zM38.6,558.52h5.45v0.86h-5.45zM38.6,559.38h5.68v0.86h-5.68zM38.6,560.24h5.31v0.86h-5.31zM38.6,561.1h5.41v0.86h-5.41zM38.6,561.96h2.77v0.86h-2.77zM38.6,562.82h7.92v0.86h-7.92zM38.6,563.68h6.77v0.86h-6.77zM38.6,564.54h8.12v0.86h-8.12zM38.6,565.4h9.44v0.86h-9.44zM38.6,566.26h6.61v0.86h-6.61zM38.6,567.12h4.16v0.86h-4.16zM38.6,567.98h5.33v0.86h-5.33zM38.6,568.84h4.9v0.86h-4.9zM38.6,569.7h5.7v0.86h-5.7zM38.6,570.56h5.83v0.86h-5.83zM38.6,571.42h3.08v0.86h-3.08zM38.6,572.28h6.65v0.86h-6.65zM38.6,573.14h4.26v0.86h-4.26zM38.6,574h7v0.86h-7zM38.6,574.86h6.79v0.86h-6.79zM38.6,575.72h6.42v0.86h-6.42zM38.6,576.58h7.13v0.86h-7.13zM38.6,577.44h6.93v0.86h-6.93zM38.6,578.3h6.77v0.86h-6.77zM38.6,579.16h5.37v0.86h-5.37zM38.6,580.02h7.34v0.86h-7.34zM38.6,580.88h9.93v0.86h-9.93zM38.6,581.74h9.95v0.86h-9.95zM38.6,582.6h9.05v0.86h-9.05zM38.6,583.46h7.68v0.86h-7.68zM38.6,584.32h5.97v0.86h-5.97zM38.6,585.18h8.9v0.86h-8.9zM38.6,586.04h6.48v0.86h-6.48zM38.6,586.9h6.41v0.86h-6.41zM38.6,587.76h6.07v0.86h-6.07zM38.6,588.62h6.65v0.86h-6.65zM38.6,589.48h5.72v0.86h-5.72zM38.6,590.34h6.5v0.86h-6.5z" fill="#97b5f0"/>
<path d="M32.14,485.6h6.46v0.86h-6.46zM32.47,486.46h6.13v0.86h-6.13zM35.24,487.32h3.36v0.86h-3.36zM33.45,488.18h5.15v0.86h-5.15zM33.32,489.04h5.28v0.86h-5.28zM34.95,489.9h3.65v0.86h-3.65zM32.79,490.76h5.81v0.86h-5.81zM34.85,491.62h3.75v0.86h-3.75zM31.87,492.48h6.73v0.86h-6.73zM33.08,493.34h5.52v0.86h-5.52zM33.08,494.2h5.52v0.86h-5.52zM34.22,495.06h4.38v0.86h-4.38zM33.47,495.92h5.13v0.86h-5.13zM36.47,496.78h2.13v0.86h-2.13zM34.84,497.64h3.76v0.86h-3.76zM32.36,498.5h6.24v0.86h-6.24zM36.49,499.36h2.11v0.86h-2.11zM31.86,500.22h6.74v0.86h-6.74zM35.68,501.08h2.92v0.86h-2.92zM32.87,501.94h5.73v0.86h-5.73zM34.03,502.8h4.57v0.86h-4.57zM31.49,503.66h7.11v0.86h-7.11zM32.82,504.52h5.78v0.86h-5.78zM35.24,505.38h3.36v0.86h-3.36zM30.7,506.24h7.9v0.86h-7.9zM30.96,507.1h7.64v0.86h-7.64zM34.62,507.96h3.98v0.86h-3.98zM33.19,508.82h5.41v0.86h-5.41zM32.95,509.68h5.65v0.86h-5.65zM33.99,510.54h4.61v0.86h-4.61zM33.25,511.4h5.35v0.86h-5.35zM33.09,512.26h5.51v0.86h-5.51zM32.66,513.12h5.94v0.86h-5.94zM33.67,513.98h4.93v0.86h-4.93zM33.41,514.84h5.19v0.86h-5.19zM34.42,515.7h4.18v0.86h-4.18zM30.28,516.56h8.32v0.86h-8.32zM32.41,517.42h6.19v0.86h-6.19zM31.32,518.28h7.28v0.86h-7.28zM32.75,519.14h5.85v0.86h-5.85zM33.54,520h5.06v0.86h-5.06zM33.25,520.86h5.35v0.86h-5.35zM33.69,521.72h4.91v0.86h-4.91zM32.81,522.58h5.79v0.86h-5.79zM33.95,523.44h4.65v0.86h-4.65zM34.39,524.3h4.21v0.86h-4.21zM35.86,525.16h2.74v0.86h-2.74zM34.7,526.02h3.9v0.86h-3.9zM32.15,526.88h6.45v0.86h-6.45zM34.49,527.74h4.11v0.86h-4.11zM35.22,528.6h3.38v0.86h-3.38zM32.79,539.6h5.81v0.86h-5.81zM33.31,540.46h5.29v0.86h-5.29zM35.57,541.32h3.03v0.86h-3.03zM32.12,542.18h6.48v0.86h-6.48zM33.94,543.04h4.66v0.86h-4.66zM37.27,543.9h1.33v0.86h-1.33zM33.51,544.76h5.09v0.86h-5.09zM35.98,545.62h2.62v0.86h-2.62zM35.89,546.48h2.71v0.86h-2.71zM34.84,547.34h3.76v0.86h-3.76zM32.31,548.2h6.29v0.86h-6.29zM34.59,549.06h4.01v0.86h-4.01zM33.6,549.92h5v0.86h-5zM32.37,550.78h6.23v0.86h-6.23zM31.64,551.64h6.96v0.86h-6.96zM33.69,552.5h4.91v0.86h-4.91zM33.79,553.36h4.81v0.86h-4.81zM35.41,554.22h3.19v0.86h-3.19zM34.69,555.08h3.91v0.86h-3.91zM34.01,555.94h4.59v0.86h-4.59zM33.23,556.8h5.37v0.86h-5.37zM33.71,557.66h4.89v0.86h-4.89zM34.23,558.52h4.37v0.86h-4.37zM35.13,559.38h3.47v0.86h-3.47zM34.09,560.24h4.51v0.86h-4.51zM33.81,561.1h4.79v0.86h-4.79zM33.13,561.96h5.47v0.86h-5.47zM32.94,562.82h5.66v0.86h-5.66zM33.48,563.68h5.12v0.86h-5.12zM33.94,564.54h4.66v0.86h-4.66zM33.05,565.4h5.55v0.86h-5.55zM34.49,566.26h4.11v0.86h-4.11zM35.27,567.12h3.33v0.86h-3.33zM33.33,567.98h5.27v0.86h-5.27zM32.99,568.84h5.61v0.86h-5.61zM33.37,569.7h5.23v0.86h-5.23zM35.41,570.56h3.19v0.86h-3.19zM34.58,571.42h4.02v0.86h-4.02zM34.55,572.28h4.05v0.86h-4.05zM35.13,573.14h3.47v0.86h-3.47zM37.21,574h1.39v0.86h-1.39zM34.75,574.86h3.85v0.86h-3.85zM33.18,575.72h5.42v0.86h-5.42zM33.76,576.58h4.84v0.86h-4.84zM35.07,577.44h3.53v0.86h-3.53zM34.26,578.3h4.34v0.86h-4.34zM33.83,579.16h4.77v0.86h-4.77zM37.6,580.02h1v0.86h-1zM33.98,580.88h4.62v0.86h-4.62zM33.22,581.74h5.38v0.86h-5.38zM33.07,582.6h5.53v0.86h-5.53zM32.6,583.46h6v0.86h-6zM33.2,584.32h5.4v0.86h-5.4zM33.61,585.18h4.99v0.86h-4.99zM33.63,586.04h4.97v0.86h-4.97zM35.42,586.9h3.18v0.86h-3.18zM34.64,587.76h3.96v0.86h-3.96zM34.13,588.62h4.47v0.86h-4.47zM32.86,589.48h5.74v0.86h-5.74zM32.71,590.34h5.89v0.86h-5.89z" fill="#0000fa"/>
<path d="M38.6,485.6h3.83v0.86h-3.83zM38.6,486.46h4.01v0.86h-4.01zM38.6,487.32h3.01v0.86h-3.01zM38.6,488.18h4.63v0.86h-4.63zM38.6,489.04h2.61v0.86h-2.61zM38.6,489.9h2.49v0.86h-2.49zM38.6,490.76h5.13v0.86h-5.13zM38.6,491.62h2.71v0.86h-2.71zM38.6,492.48h4.9v0.86h-4.9zM38.6,493.34h5.53v0.86h-5.53zM38.6,494.2h3.96v0.86h-3.96zM38.6,495.06h4.24v0.86h-4.24zM38.6,495.92h5.97v0.86h-5.97zM38.6,496.78h3.77v0.86h-3.77zM38.6,497.64h3.19v0.86h-3.19zM38.6,498.5h2.48v0.86h-2.48zM38.6,499.36h4.04v0.86h-4.04zM38.6,500.22h5.4v0.86h-5.4zM38.6,501.08h4.91v0.86h-4.91zM38.6,501.94h2.95v0.86h-2.95zM38.6,502.8h3.08v0.86h-3.08zM38.6,503.66h3.23v0.86h-3.23zM38.6,504.52h4.31v0.86h-4.31zM38.6,505.38h3.7v0.86h-3.7zM38.6,506.24h4.3v0.86h-4.3zM38.6,507.1h4.48v0.86h-4.48zM38.6,507.96h3.88v0.86h-3.88zM38.6,508.82h3.96v0.86h-3.96zM38.6,509.68h4.46v0.86h-4.46zM38.6,510.54h4.33v0.86h-4.33zM38.6,511.4h2.68v0.86h-2.68zM38.6,512.26h6.19v0.86h-6.19zM38.6,513.12h4.85v0.86h-4.85zM38.6,513.98h4.1v0.86h-4.1zM38.6,514.84h2.14v0.86h-2.14zM38.6,515.7h4.7v0.86h-4.7zM38.6,516.56h1.67v0.86h-1.67zM38.6,517.42h2.41v0.86h-2.41zM38.6,518.28h4.8v0.86h-4.8zM38.6,519.14h4.59v0.86h-4.59zM38.6,520h3.56v0.86h-3.56zM38.6,520.86h1.95v0.86h-1.95zM38.6,521.72h3.48v0.86h-3.48zM38.6,522.58h2.97v0.86h-2.97zM38.6,523.44h4.49v0.86h-4.49zM38.6,524.3h6.16v0.86h-6.16zM38.6,525.16h3.72v0.86h-3.72zM38.6,526.02h2.58v0.86h-2.58zM38.6,526.88h2.19v0.86h-2.19zM38.6,527.74h3.59v0.86h-3.59zM38.6,528.6h3.29v0.86h-3.29zM38.6,539.6h4.81v0.86h-4.81zM38.6,540.46h3.25v0.86h-3.25zM38.6,541.32h4.07v0.86h-4.07zM38.6,542.18h5.21v0.86h-5.21zM38.6,543.04h6.51v0.86h-6.51zM38.6,543.9h2.92v0.86h-2.92zM38.6,544.76h3.42v0.86h-3.42zM38.6,545.62h3.01v0.86h-3.01zM38.6,546.48h4.93v0.86h-4.93zM38.6,547.34h2.79v0.86h-2.79zM38.6,548.2h3.74v0.86h-3.74zM38.6,549.06h4.62v0.86h-4.62zM38.6,549.92h3.51v0.86h-3.51zM38.6,550.78h3.54v0.86h-3.54zM38.6,551.64h4.03v0.86h-4.03zM38.6,552.5h2.33v0.86h-2.33zM38.6,553.36h3.4v0.86h-3.4zM38.6,554.22h4.33v0.86h-4.33zM38.6,555.08h4.84v0.86h-4.84zM38.6,555.94h4.21v0.86h-4.21zM38.6,556.8h2.53v0.86h-2.53zM38.6,557.66h4.01v0.86h-4.01zM38.6,558.52h5.4v0.86h-5.4zM38.6,559.38h5.13v0.86h-5.13zM38.6,560.24h4.29v0.86h-4.29zM38.6,561.1h3.5v0.86h-3.5zM38.6,561.96h2.77v0.86h-2.77zM38.6,562.82h3.74v0.86h-3.74zM38.6,563.68h2.64v0.86h-2.64zM38.6,564.54h3.15v0.86h-3.15zM38.6,565.4h5.96v0.86h-5.96zM38.6,566.26h4.5v0.86h-4.5zM38.6,567.12h4.16v0.86h-4.16zM38.6,567.98h3.72v0.86h-3.72zM38.6,568.84h4.9v0.86h-4.9zM38.6,569.7h3.44v0.86h-3.44zM38.6,570.56h4.19v0.86h-4.19zM38.6,571.42h3.08v0.86h-3.08zM38.6,572.28h5.07v0.86h-5.07zM38.6,573.14h3.7v0.86h-3.7zM38.6,574h4.1v0.86h-4.1zM38.6,574.86h4.34v0.86h-4.34zM38.6,575.72h5.58v0.86h-5.58zM38.6,576.58h3.65v0.86h-3.65zM38.6,577.44h2.05v0.86h-2.05zM38.6,578.3h3.59v0.86h-3.59zM38.6,579.16h4.21v0.86h-4.21zM38.6,580.02h4.32v0.86h-4.32zM38.6,580.88h5.76v0.86h-5.76zM38.6,581.74h4.76v0.86h-4.76zM38.6,582.6h5.28v0.86h-5.28zM38.6,583.46h2.96v0.86h-2.96zM38.6,584.32h5.47v0.86h-5.47zM38.6,585.18h6.51v0.86h-6.51zM38.6,586.04h5.23v0.86h-5.23zM38.6,586.9h4.42v0.86h-4.42zM38.6,587.76h4.36v0.86h-4.36zM38.6,588.62h6.24v0.86h-6.24zM38.6,589.48h2.9v0.86h-2.9zM38.6,590.34h3.88v0.86h-3.88z" fill="#fa0000"/>
<line x1="38.6" y1="485.4" x2="38.6" y2="591.4" stroke="#161616" stroke-width="0.95" />
<path d="M75.75,487.8h7.75v0.86h-7.75zM75.11,488.66h8.39v0.86h-8.39zM74.92,489.52h8.58v0.86h-8.58zM75.78,490.38h7.72v0.86h-7.72zM72.87,491.24h10.63v0.86h-10.63zM77.69,492.1h5.81v0.86h-5.81zM74.8,492.96h8.7v0.86h-8.7zM76.66,493.82h6.84v0.86h-6.84zM73.16,494.68h10.34v0.86h-10.34zM73.16,495.54h10.34v0.86h-10.34zM79.05,496.4h4.45v0.86h-4.45zM77.41,497.26h6.09v0.86h-6.09zM74.81,498.12h8.69v0.86h-8.69zM74.87,498.98h8.63v0.86h-8.63zM75.05,499.84h8.45v0.86h-8.45zM76.4,500.7h7.1v0.86h-7.1zM75.03,501.56h8.47v0.86h-8.47zM74.86,502.42h8.64v0.86h-8.64zM75.42,503.28h8.08v0.86h-8.08zM73.2,504.14h10.3v0.86h-10.3zM78.77,505h4.73v0.86h-4.73zM73.92,505.86h9.58v0.86h-9.58zM75.88,506.72h7.62v0.86h-7.62zM72.72,507.58h10.78v0.86h-10.78zM74.63,508.44h8.87v0.86h-8.87zM75.57,509.3h7.93v0.86h-7.93zM74.14,510.16h9.36v0.86h-9.36zM76.72,511.02h6.78v0.86h-6.78zM76.52,511.88h6.98v0.86h-6.98zM77.46,512.74h6.04v0.86h-6.04zM75.66,513.6h7.84v0.86h-7.84zM75.09,514.46h8.41v0.86h-8.41zM74.57,515.32h8.93v0.86h-8.93zM76.38,516.18h7.12v0.86h-7.12zM74.57,517.04h8.93v0.86h-8.93zM76.2,517.9h7.3v0.86h-7.3zM76.03,518.76h7.47v0.86h-7.47zM75.05,519.62h8.45v0.86h-8.45zM74.09,520.48h9.41v0.86h-9.41zM76.13,521.34h7.37v0.86h-7.37zM75.7,522.2h7.8v0.86h-7.8zM75.59,523.06h7.91v0.86h-7.91zM75.08,523.92h8.42v0.86h-8.42zM76.43,524.78h7.07v0.86h-7.07zM73.84,525.64h9.66v0.86h-9.66zM75.89,526.5h7.61v0.86h-7.61zM74.62,527.36h8.88v0.86h-8.88zM76.9,528.22h6.6v0.86h-6.6zM75.15,529.08h8.35v0.86h-8.35zM75.22,529.94h8.28v0.86h-8.28zM76.4,530.8h7.1v0.86h-7.1zM72.85,531.66h10.65v0.86h-10.65zM74.98,532.52h8.52v0.86h-8.52zM73.22,533.38h10.28v0.86h-10.28zM75.02,534.24h8.48v0.86h-8.48zM77.58,535.1h5.92v0.86h-5.92zM77.47,535.96h6.03v0.86h-6.03zM76.03,536.82h7.47v0.86h-7.47zM76.43,537.68h7.07v0.86h-7.07zM76.15,538.54h7.35v0.86h-7.35zM77.22,539.4h6.28v0.86h-6.28zM79.63,540.26h3.87v0.86h-3.87zM76.24,541.12h7.26v0.86h-7.26zM79.17,541.98h4.33v0.86h-4.33zM74.63,542.84h8.87v0.86h-8.87zM76.13,543.7h7.37v0.86h-7.37zM75.81,544.56h7.69v0.86h-7.69zM74.88,545.42h8.62v0.86h-8.62zM73.78,546.28h9.72v0.86h-9.72zM76.24,547.14h7.26v0.86h-7.26zM76.99,548h6.51v0.86h-6.51zM76.11,548.86h7.39v0.86h-7.39zM77.89,549.72h5.61v0.86h-5.61zM76.41,550.58h7.09v0.86h-7.09zM73.09,551.44h10.41v0.86h-10.41zM77.58,553.16h5.92v0.86h-5.92zM74.89,554.02h8.61v0.86h-8.61zM77.66,554.88h5.84v0.86h-5.84zM75.33,555.74h8.17v0.86h-8.17zM76.21,556.6h7.29v0.86h-7.29zM75.6,557.46h7.9v0.86h-7.9zM74.52,558.32h8.98v0.86h-8.98zM72.21,559.18h11.29v0.86h-11.29zM74.77,560.04h8.73v0.86h-8.73zM75.08,560.9h8.42v0.86h-8.42zM77.69,561.76h5.81v0.86h-5.81zM75.24,562.62h8.26v0.86h-8.26zM76.41,563.48h7.09v0.86h-7.09zM74.66,564.34h8.84v0.86h-8.84zM76.36,565.2h7.14v0.86h-7.14zM73.84,566.06h9.66v0.86h-9.66zM79.63,566.92h3.87v0.86h-3.87zM76.67,567.78h6.83v0.86h-6.83zM74.57,568.64h8.93v0.86h-8.93zM76.38,569.5h7.12v0.86h-7.12zM77.59,570.36h5.91v0.86h-5.91zM77.02,571.22h6.48v0.86h-6.48zM78.21,572.08h5.29v0.86h-5.29zM76.23,572.94h7.27v0.86h-7.27zM72.63,573.8h10.87v0.86h-10.87zM74.75,574.66h8.75v0.86h-8.75zM78.27,575.52h5.23v0.86h-5.23zM78.02,576.38h5.48v0.86h-5.48zM76.89,577.24h6.61v0.86h-6.61zM74.41,578.1h9.09v0.86h-9.09zM77.67,578.96h5.83v0.86h-5.83zM77.4,579.82h6.1v0.86h-6.1zM74.86,580.68h8.64v0.86h-8.64zM75.13,581.54h8.37v0.86h-8.37zM77.13,582.4h6.37v0.86h-6.37zM78.08,583.26h5.42v0.86h-5.42zM78.61,584.12h4.89v0.86h-4.89zM77.07,584.98h6.43v0.86h-6.43zM79.58,585.84h3.92v0.86h-3.92zM74.25,586.7h9.25v0.86h-9.25zM76.15,587.56h7.35v0.86h-7.35zM73.96,588.42h9.54v0.86h-9.54zM71.34,589.28h12.16v0.86h-12.16zM72.52,590.14h10.98v0.86h-10.98zM76.38,591h7.12v0.86h-7.12z" fill="#f6b37a"/>
<path d="M83.5,487.8h10.72v0.86h-10.72zM83.5,488.66h9.49v0.86h-9.49zM83.5,489.52h7.59v0.86h-7.59zM83.5,490.38h10.44v0.86h-10.44zM83.5,491.24h5.29v0.86h-5.29zM83.5,492.1h9.69v0.86h-9.69zM83.5,492.96h6.24v0.86h-6.24zM83.5,493.82h3.16v0.86h-3.16zM83.5,494.68h11.49v0.86h-11.49zM83.5,495.54h9.73v0.86h-9.73zM83.5,496.4h5.9v0.86h-5.9zM83.5,497.26h8.1v0.86h-8.1zM83.5,498.12h7.49v0.86h-7.49zM83.5,498.98h8.85v0.86h-8.85zM83.5,499.84h6.77v0.86h-6.77zM83.5,500.7h7.79v0.86h-7.79zM83.5,501.56h9.88v0.86h-9.88zM83.5,502.42h9.5v0.86h-9.5zM83.5,503.28h10.58v0.86h-10.58zM83.5,504.14h8.68v0.86h-8.68zM83.5,505h12.23v0.86h-12.23zM83.5,505.86h6.46v0.86h-6.46zM83.5,506.72h7.82v0.86h-7.82zM83.5,507.58h4.39v0.86h-4.39zM83.5,508.44h5.17v0.86h-5.17zM83.5,509.3h8.8v0.86h-8.8zM83.5,510.16h5.32v0.86h-5.32zM83.5,511.02h7.63v0.86h-7.63zM83.5,511.88h6.75v0.86h-6.75zM83.5,512.74h5.38v0.86h-5.38zM83.5,513.6h6.66v0.86h-6.66zM83.5,514.46h6.19v0.86h-6.19zM83.5,515.32h6.28v0.86h-6.28zM83.5,516.18h8.91v0.86h-8.91zM83.5,517.04h8.67v0.86h-8.67zM83.5,517.9h6.62v0.86h-6.62zM83.5,518.76h6.31v0.86h-6.31zM83.5,519.62h8.36v0.86h-8.36zM83.5,520.48h7.55v0.86h-7.55zM83.5,521.34h9.66v0.86h-9.66zM83.5,522.2h12.28v0.86h-12.28zM83.5,523.06h8.86v0.86h-8.86zM83.5,523.92h7.44v0.86h-7.44zM83.5,524.78h7.12v0.86h-7.12zM83.5,525.64h5.55v0.86h-5.55zM83.5,526.5h5.36v0.86h-5.36zM83.5,527.36h5.09v0.86h-5.09zM83.5,528.22h6.07v0.86h-6.07zM83.5,529.08h5.59v0.86h-5.59zM83.5,529.94h7.96v0.86h-7.96zM83.5,530.8h6.43v0.86h-6.43zM83.5,531.66h6.81v0.86h-6.81zM83.5,532.52h5.46v0.86h-5.46zM83.5,533.38h10.55v0.86h-10.55zM83.5,534.24h9.01v0.86h-9.01zM83.5,535.1h10.83v0.86h-10.83zM83.5,535.96h9.45v0.86h-9.45zM83.5,536.82h10.31v0.86h-10.31zM83.5,537.68h7.53v0.86h-7.53zM83.5,538.54h9.41v0.86h-9.41zM83.5,539.4h12.28v0.86h-12.28zM83.5,540.26h5.72v0.86h-5.72zM83.5,541.12h9.69v0.86h-9.69zM83.5,541.98h10.55v0.86h-10.55zM83.5,542.84h8.59v0.86h-8.59zM83.5,543.7h9.11v0.86h-9.11zM83.5,544.56h9.68v0.86h-9.68zM83.5,545.42h6.28v0.86h-6.28zM83.5,546.28h8.66v0.86h-8.66zM83.5,547.14h6.55v0.86h-6.55zM83.5,548h6.5v0.86h-6.5zM83.5,548.86h6.58v0.86h-6.58zM83.5,549.72h7.27v0.86h-7.27zM83.5,550.58h8.11v0.86h-8.11zM83.5,551.44h8.83v0.86h-8.83zM83.5,553.16h6.36v0.86h-6.36zM83.5,554.02h11.45v0.86h-11.45zM83.5,554.88h10.51v0.86h-10.51zM83.5,555.74h9.99v0.86h-9.99zM83.5,556.6h8.49v0.86h-8.49zM83.5,557.46h8.65v0.86h-8.65zM83.5,558.32h9.51v0.86h-9.51zM83.5,559.18h9.23v0.86h-9.23zM83.5,560.04h5.34v0.86h-5.34zM83.5,560.9h8.75v0.86h-8.75zM83.5,561.76h12.16v0.86h-12.16zM83.5,562.62h4.28v0.86h-4.28zM83.5,563.48h8.67v0.86h-8.67zM83.5,564.34h7.91v0.86h-7.91zM83.5,565.2h7.11v0.86h-7.11zM83.5,566.06h9.62v0.86h-9.62zM83.5,566.92h5.25v0.86h-5.25zM83.5,567.78h7.7v0.86h-7.7zM83.5,568.64h9.69v0.86h-9.69zM83.5,569.5h7.1v0.86h-7.1zM83.5,570.36h6.76v0.86h-6.76zM83.5,571.22h7.55v0.86h-7.55zM83.5,572.08h6.51v0.86h-6.51zM83.5,572.94h9.65v0.86h-9.65zM83.5,573.8h6.19v0.86h-6.19zM83.5,574.66h9.06v0.86h-9.06zM83.5,575.52h5.87v0.86h-5.87zM83.5,576.38h9.15v0.86h-9.15zM83.5,577.24h7.87v0.86h-7.87zM83.5,578.1h4.13v0.86h-4.13zM83.5,578.96h8.19v0.86h-8.19zM83.5,579.82h6.1v0.86h-6.1zM83.5,580.68h6.58v0.86h-6.58zM83.5,581.54h9.95v0.86h-9.95zM83.5,582.4h5.22v0.86h-5.22zM83.5,583.26h5.02v0.86h-5.02zM83.5,584.12h9.21v0.86h-9.21zM83.5,584.98h6.42v0.86h-6.42zM83.5,585.84h9.16v0.86h-9.16zM83.5,586.7h7.25v0.86h-7.25zM83.5,587.56h5.42v0.86h-5.42zM83.5,588.42h6.75v0.86h-6.75zM83.5,589.28h8.68v0.86h-8.68zM83.5,590.14h8.02v0.86h-8.02zM83.5,591h6.25v0.86h-6.25z" fill="#97b5f0"/>
<path d="M83.5,487.8h5.08v0.86h-5.08zM83.5,488.66h4.97v0.86h-4.97zM83.5,489.52h2.91v0.86h-2.91zM83.5,490.38h3.12v0.86h-3.12zM83.5,491.24h3.07v0.86h-3.07zM83.5,492.1h4.41v0.86h-4.41zM83.5,492.96h1.82v0.86h-1.82zM83.5,493.82h3.16v0.86h-3.16zM83.5,494.68h3.03v0.86h-3.03zM83.5,495.54h2.71v0.86h-2.71zM83.5,496.4h4.01v0.86h-4.01zM83.5,497.26h4.8v0.86h-4.8zM83.5,498.12h3.89v0.86h-3.89zM83.5,498.98h4.86v0.86h-4.86zM83.5,499.84h3.75v0.86h-3.75zM83.5,500.7h5.13v0.86h-5.13zM83.5,501.56h5.04v0.86h-5.04zM83.5,502.42h3.45v0.86h-3.45zM83.5,503.28h5.24v0.86h-5.24zM83.5,504.14h3.68v0.86h-3.68zM83.5,505h3.73v0.86h-3.73zM83.5,505.86h2.65v0.86h-2.65zM83.5,506.72h3.5v0.86h-3.5zM83.5,507.58h4.39v0.86h-4.39zM83.5,508.44h2.71v0.86h-2.71zM83.5,509.3h4.92v0.86h-4.92zM83.5,510.16h4.65v0.86h-4.65zM83.5,511.02h4.71v0.86h-4.71zM83.5,511.88h2.05v0.86h-2.05zM83.5,512.74h4.29v0.86h-4.29zM83.5,513.6h5.15v0.86h-5.15zM83.5,514.46h3.49v0.86h-3.49zM83.5,515.32h4.56v0.86h-4.56zM83.5,516.18h1.97v0.86h-1.97zM83.5,517.04h5.31v0.86h-5.31zM83.5,517.9h3.81v0.86h-3.81zM83.5,518.76h5.43v0.86h-5.43zM83.5,519.62h2.5v0.86h-2.5zM83.5,520.48h5.15v0.86h-5.15zM83.5,521.34h4.21v0.86h-4.21zM83.5,522.2h5.29v0.86h-5.29zM83.5,523.06h3.4v0.86h-3.4zM83.5,523.92h3.69v0.86h-3.69zM83.5,524.78h6.2v0.86h-6.2zM83.5,525.64h3.6v0.86h-3.6zM83.5,526.5h3.59v0.86h-3.59zM83.5,527.36h3.99v0.86h-3.99zM83.5,528.22h2.88v0.86h-2.88zM83.5,529.08h5.34v0.86h-5.34zM83.5,529.94h6.07v0.86h-6.07zM83.5,530.8h3.38v0.86h-3.38zM83.5,531.66h2.37v0.86h-2.37zM83.5,532.52h5.28v0.86h-5.28zM83.5,533.38h5.28v0.86h-5.28zM83.5,534.24h5.17v0.86h-5.17zM83.5,535.1h5.82v0.86h-5.82zM83.5,535.96h3.52v0.86h-3.52zM83.5,536.82h4.13v0.86h-4.13zM83.5,537.68h2.78v0.86h-2.78zM83.5,538.54h2.52v0.86h-2.52zM83.5,539.4h5.32v0.86h-5.32zM83.5,540.26h3.4v0.86h-3.4zM83.5,541.12h6.2v0.86h-6.2zM83.5,541.98h3.77v0.86h-3.77zM83.5,542.84h3.11v0.86h-3.11zM83.5,543.7h4.6v0.86h-4.6zM83.5,544.56h5.55v0.86h-5.55zM83.5,545.42h4.35v0.86h-4.35zM83.5,546.28h2.47v0.86h-2.47zM83.5,547.14h4.39v0.86h-4.39zM83.5,548h5.93v0.86h-5.93zM83.5,548.86h3.71v0.86h-3.71zM83.5,549.72h3.43v0.86h-3.43zM83.5,550.58h5.46v0.86h-5.46zM83.5,551.44h4.61v0.86h-4.61zM83.5,553.16h3.05v0.86h-3.05zM83.5,554.02h3.83v0.86h-3.83zM83.5,554.88h3.42v0.86h-3.42zM83.5,555.74h4.46v0.86h-4.46zM83.5,556.6h4.29v0.86h-4.29zM83.5,557.46h5.33v0.86h-5.33zM83.5,558.32h4.9v0.86h-4.9zM83.5,559.18h2.27v0.86h-2.27zM83.5,560.04h4.43v0.86h-4.43zM83.5,560.9h4.97v0.86h-4.97zM83.5,561.76h4.29v0.86h-4.29zM83.5,562.62h4.28v0.86h-4.28zM83.5,563.48h3.09v0.86h-3.09zM83.5,564.34h2.89v0.86h-2.89zM83.5,565.2h5.11v0.86h-5.11zM83.5,566.06h3.02v0.86h-3.02zM83.5,566.92h1.84v0.86h-1.84zM83.5,567.78h5.66v0.86h-5.66zM83.5,568.64h3.8v0.86h-3.8zM83.5,569.5h4.27v0.86h-4.27zM83.5,570.36h3.14v0.86h-3.14zM83.5,571.22h3.04v0.86h-3.04zM83.5,572.08h3.24v0.86h-3.24zM83.5,572.94h4.08v0.86h-4.08zM83.5,573.8h5.13v0.86h-5.13zM83.5,574.66h1.81v0.86h-1.81zM83.5,575.52h5.26v0.86h-5.26zM83.5,576.38h3v0.86h-3zM83.5,577.24h3.29v0.86h-3.29zM83.5,578.1h4.13v0.86h-4.13zM83.5,578.96h4.17v0.86h-4.17zM83.5,579.82h2.64v0.86h-2.64zM83.5,580.68h6.2v0.86h-6.2zM83.5,581.54h3.28v0.86h-3.28zM83.5,582.4h4.4v0.86h-4.4zM83.5,583.26h4.31v0.86h-4.31zM83.5,584.12h5.48v0.86h-5.48zM83.5,584.98h3.41v0.86h-3.41zM83.5,585.84h5.02v0.86h-5.02zM83.5,586.7h2.88v0.86h-2.88zM83.5,587.56h4.79v0.86h-4.79zM83.5,588.42h2.72v0.86h-2.72zM83.5,589.28h3.26v0.86h-3.26zM83.5,590.14h6.11v0.86h-6.11zM83.5,591h4.12v0.86h-4.12z" fill="#0000fa"/>
<path d="M79.61,487.8h3.89v0.86h-3.89zM77.7,488.66h5.8v0.86h-5.8zM78.73,489.52h4.77v0.86h-4.77zM78.12,490.38h5.38v0.86h-5.38zM79.88,491.24h3.62v0.86h-3.62zM78.62,492.1h4.88v0.86h-4.88zM77.49,492.96h6.01v0.86h-6.01zM76.66,493.82h6.84v0.86h-6.84zM75.88,494.68h7.62v0.86h-7.62zM77.45,495.54h6.05v0.86h-6.05zM79.05,496.4h4.45v0.86h-4.45zM79.1,497.26h4.4v0.86h-4.4zM77.21,498.12h6.29v0.86h-6.29zM78.32,498.98h5.18v0.86h-5.18zM77.05,499.84h6.45v0.86h-6.45zM76.4,500.7h7.1v0.86h-7.1zM78.38,501.56h5.12v0.86h-5.12zM80.4,502.42h3.1v0.86h-3.1zM79.51,503.28h3.99v0.86h-3.99zM80.65,504.14h2.85v0.86h-2.85zM80.57,505h2.93v0.86h-2.93zM76.92,505.86h6.58v0.86h-6.58zM78.89,506.72h4.61v0.86h-4.61zM81.62,507.58h1.88v0.86h-1.88zM78.38,508.44h5.12v0.86h-5.12zM77.45,509.3h6.05v0.86h-6.05zM79.73,510.16h3.77v0.86h-3.77zM79.72,511.02h3.78v0.86h-3.78zM79.24,511.88h4.26v0.86h-4.26zM78.33,512.74h5.17v0.86h-5.17zM77.38,513.6h6.12v0.86h-6.12zM76.39,514.46h7.11v0.86h-7.11zM76.15,515.32h7.35v0.86h-7.35zM76.38,516.18h7.12v0.86h-7.12zM75.81,517.04h7.69v0.86h-7.69zM77.34,517.9h6.16v0.86h-6.16zM80.62,518.76h2.88v0.86h-2.88zM78.36,519.62h5.14v0.86h-5.14zM77.77,520.48h5.73v0.86h-5.73zM79,521.34h4.5v0.86h-4.5zM77.14,522.2h6.36v0.86h-6.36zM79.24,523.06h4.26v0.86h-4.26zM79.96,523.92h3.54v0.86h-3.54zM76.43,524.78h7.07v0.86h-7.07zM77.19,525.64h6.31v0.86h-6.31zM77.83,526.5h5.67v0.86h-5.67zM77.07,527.36h6.43v0.86h-6.43zM76.9,528.22h6.6v0.86h-6.6zM77.59,529.08h5.91v0.86h-5.91zM81.98,529.94h1.52v0.86h-1.52zM79.69,530.8h3.81v0.86h-3.81zM79.31,531.66h4.19v0.86h-4.19zM80.09,532.52h3.41v0.86h-3.41zM78.15,533.38h5.35v0.86h-5.35zM76.71,534.24h6.79v0.86h-6.79zM78.81,535.1h4.69v0.86h-4.69zM80.02,535.96h3.48v0.86h-3.48zM76.03,536.82h7.47v0.86h-7.47zM78.26,537.68h5.24v0.86h-5.24zM79.25,538.54h4.25v0.86h-4.25zM77.22,539.4h6.28v0.86h-6.28zM79.63,540.26h3.87v0.86h-3.87zM78.53,541.12h4.97v0.86h-4.97zM79.17,541.98h4.33v0.86h-4.33zM78.9,542.84h4.6v0.86h-4.6zM79.28,543.7h4.22v0.86h-4.22zM77.7,544.56h5.8v0.86h-5.8zM76.68,545.42h6.82v0.86h-6.82zM78.96,546.28h4.54v0.86h-4.54zM77.11,547.14h6.39v0.86h-6.39zM77.61,548h5.89v0.86h-5.89zM76.11,548.86h7.39v0.86h-7.39zM77.89,549.72h5.61v0.86h-5.61zM76.41,550.58h7.09v0.86h-7.09zM77.57,551.44h5.93v0.86h-5.93zM78.28,553.16h5.22v0.86h-5.22zM77.11,554.02h6.39v0.86h-6.39zM77.66,554.88h5.84v0.86h-5.84zM76.87,555.74h6.63v0.86h-6.63zM78.55,556.6h4.95v0.86h-4.95zM79.97,557.46h3.53v0.86h-3.53zM79.41,558.32h4.09v0.86h-4.09zM77.6,559.18h5.9v0.86h-5.9zM77.18,560.04h6.32v0.86h-6.32zM75.51,560.9h7.99v0.86h-7.99zM77.69,561.76h5.81v0.86h-5.81zM76.05,562.62h7.45v0.86h-7.45zM76.41,563.48h7.09v0.86h-7.09zM77.41,564.34h6.09v0.86h-6.09zM80.24,565.2h3.26v0.86h-3.26zM80.16,566.06h3.34v0.86h-3.34zM80.53,566.92h2.97v0.86h-2.97zM76.67,567.78h6.83v0.86h-6.83zM79.57,568.64h3.93v0.86h-3.93zM76.38,569.5h7.12v0.86h-7.12zM77.59,570.36h5.91v0.86h-5.91zM77.02,571.22h6.48v0.86h-6.48zM78.21,572.08h5.29v0.86h-5.29zM78.34,572.94h5.16v0.86h-5.16zM78.16,573.8h5.34v0.86h-5.34zM77.9,574.66h5.6v0.86h-5.6zM78.27,575.52h5.23v0.86h-5.23zM78.75,576.38h4.75v0.86h-4.75zM77.92,577.24h5.58v0.86h-5.58zM75.14,578.1h8.36v0.86h-8.36zM79.92,578.96h3.58v0.86h-3.58zM77.4,579.82h6.1v0.86h-6.1zM79.16,580.68h4.34v0.86h-4.34zM77.66,581.54h5.84v0.86h-5.84zM77.13,582.4h6.37v0.86h-6.37zM78.34,583.26h5.16v0.86h-5.16zM78.61,584.12h4.89v0.86h-4.89zM81.01,584.98h2.49v0.86h-2.49zM79.58,585.84h3.92v0.86h-3.92zM79.76,586.7h3.74v0.86h-3.74zM77.99,587.56h5.51v0.86h-5.51zM78.5,588.42h5v0.86h-5zM82.42,589.28h1.08v0.86h-1.08zM79.93,590.14h3.57v0.86h-3.57zM78.53,591h4.97v0.86h-4.97z" fill="#fa0000"/>
<line x1="83.5" y1="487.3" x2="83.5" y2="591.4" stroke="#161616" stroke-width="0.95" />
<path d="M120.1,506.2h8.1v0.86h-8.1zM118.04,507.06h10.16v0.86h-10.16zM120.92,507.92h7.28v0.86h-7.28zM118.89,508.78h9.31v0.86h-9.31zM120.08,509.64h8.12v0.86h-8.12zM116.52,510.5h11.68v0.86h-11.68zM117.4,511.36h10.8v0.86h-10.8zM117.84,512.22h10.36v0.86h-10.36zM116.48,513.08h11.72v0.86h-11.72zM117.39,513.94h10.81v0.86h-10.81zM120.45,514.8h7.75v0.86h-7.75zM116.09,515.66h12.11v0.86h-12.11zM116.77,516.52h11.43v0.86h-11.43zM117.47,517.38h10.73v0.86h-10.73zM114.54,518.24h13.66v0.86h-13.66zM113.41,519.1h14.79v0.86h-14.79zM118.96,519.96h9.24v0.86h-9.24zM118.52,520.82h9.68v0.86h-9.68zM113.65,521.68h14.55v0.86h-14.55zM113.85,522.54h14.35v0.86h-14.35zM118.57,523.4h9.63v0.86h-9.63zM122.45,524.2h5.75v0.86h-5.75zM122.48,525.06h5.72v0.86h-5.72zM119.69,525.92h8.51v0.86h-8.51zM122.61,526.78h5.59v0.86h-5.59zM121.59,527.64h6.61v0.86h-6.61zM120.54,528.5h7.66v0.86h-7.66zM119.24,529.36h8.96v0.86h-8.96zM121.77,530.22h6.43v0.86h-6.43zM120.26,531.08h7.94v0.86h-7.94zM121.24,531.94h6.96v0.86h-6.96zM122.06,532.8h6.14v0.86h-6.14zM121.72,533.66h6.48v0.86h-6.48zM122.13,534.52h6.07v0.86h-6.07zM123.66,535.38h4.54v0.86h-4.54zM120.66,536.24h7.54v0.86h-7.54zM123.65,537.1h4.55v0.86h-4.55zM120.01,537.96h8.19v0.86h-8.19zM120.05,538.82h8.15v0.86h-8.15zM121.78,539.68h6.42v0.86h-6.42zM122.39,540.54h5.81v0.86h-5.81zM121.86,541.4h6.34v0.86h-6.34zM120.99,542.26h7.21v0.86h-7.21zM120.9,543.12h7.3v0.86h-7.3zM122.06,543.98h6.14v0.86h-6.14zM120.87,544.84h7.33v0.86h-7.33zM122.45,545.7h5.75v0.86h-5.75zM121.4,546.56h6.8v0.86h-6.8zM123.86,547.42h4.34v0.86h-4.34zM120.42,548.28h7.78v0.86h-7.78zM121.25,549.14h6.95v0.86h-6.95zM121.82,550h6.38v0.86h-6.38zM119.43,550.86h8.77v0.86h-8.77zM120.3,552.58h7.9v0.86h-7.9zM125.23,553.44h2.97v0.86h-2.97zM121.48,554.3h6.72v0.86h-6.72zM123.64,555.16h4.56v0.86h-4.56zM120.17,556.02h8.03v0.86h-8.03zM118.12,556.88h10.08v0.86h-10.08zM122.16,557.74h6.04v0.86h-6.04zM121.14,558.6h7.06v0.86h-7.06zM121.43,559.46h6.77v0.86h-6.77zM120.89,560.32h7.31v0.86h-7.31zM119.99,561.18h8.21v0.86h-8.21zM119.57,562.04h8.63v0.86h-8.63zM122.47,562.9h5.73v0.86h-5.73zM118.42,563.76h9.78v0.86h-9.78zM121.7,564.62h6.5v0.86h-6.5zM120.02,565.48h8.18v0.86h-8.18zM119.1,566.34h9.1v0.86h-9.1zM119.81,567.2h8.39v0.86h-8.39zM122.36,568.06h5.84v0.86h-5.84zM121.77,568.92h6.43v0.86h-6.43zM121.53,569.78h6.67v0.86h-6.67zM121.55,570.64h6.65v0.86h-6.65zM120.12,571.5h8.08v0.86h-8.08zM124.02,572.36h4.18v0.86h-4.18zM121.37,573.22h6.83v0.86h-6.83zM121.13,574.08h7.07v0.86h-7.07zM121.18,574.94h7.02v0.86h-7.02zM121.33,575.8h6.87v0.86h-6.87zM119.71,576.66h8.49v0.86h-8.49zM121.21,577.52h6.99v0.86h-6.99zM120.87,578.38h7.33v0.86h-7.33zM121.07,579.24h7.13v0.86h-7.13zM119.12,580.1h9.08v0.86h-9.08zM123.81,580.96h4.39v0.86h-4.39zM119.25,581.82h8.95v0.86h-8.95zM121.37,582.68h6.83v0.86h-6.83zM121.83,583.54h6.37v0.86h-6.37zM122.35,584.4h5.85v0.86h-5.85zM123.56,585.26h4.64v0.86h-4.64zM121.09,586.12h7.11v0.86h-7.11zM121.47,586.98h6.73v0.86h-6.73zM120.23,587.84h7.97v0.86h-7.97zM122.87,588.7h5.33v0.86h-5.33zM118.6,589.56h9.6v0.86h-9.6zM119.82,590.42h8.38v0.86h-8.38z" fill="#f6b37a"/>
<path d="M128.2,524.2h6.3v0.86h-6.3zM128.2,525.06h7.27v0.86h-7.27zM128.2,525.92h7.42v0.86h-7.42zM128.2,526.78h3.23v0.86h-3.23zM128.2,527.64h6.83v0.86h-6.83zM128.2,528.5h6.27v0.86h-6.27zM128.2,529.36h8.98v0.86h-8.98zM128.2,530.22h6.48v0.86h-6.48zM128.2,531.08h5.37v0.86h-5.37zM128.2,531.94h5.98v0.86h-5.98zM128.2,532.8h6.73v0.86h-6.73zM128.2,533.66h5.22v0.86h-5.22zM128.2,534.52h6.08v0.86h-6.08zM128.2,535.38h4.24v0.86h-4.24zM128.2,536.24h5.63v0.86h-5.63zM128.2,537.1h7.65v0.86h-7.65zM128.2,537.96h9.17v0.86h-9.17zM128.2,538.82h7.94v0.86h-7.94zM128.2,539.68h7.51v0.86h-7.51zM128.2,540.54h9.13v0.86h-9.13zM128.2,541.4h9.03v0.86h-9.03zM128.2,542.26h9.7v0.86h-9.7zM128.2,543.12h9.15v0.86h-9.15zM128.2,543.98h7.42v0.86h-7.42zM128.2,544.84h7.94v0.86h-7.94zM128.2,545.7h7.05v0.86h-7.05zM128.2,546.56h7.52v0.86h-7.52zM128.2,547.42h7.35v0.86h-7.35zM128.2,548.28h5.68v0.86h-5.68zM128.2,549.14h3.83v0.86h-3.83zM128.2,550h5.61v0.86h-5.61zM128.2,550.86h3.37v0.86h-3.37zM128.2,552.58h6.24v0.86h-6.24zM128.2,553.44h6.39v0.86h-6.39zM128.2,554.3h3.72v0.86h-3.72zM128.2,555.16h7.24v0.86h-7.24zM128.2,556.02h7.51v0.86h-7.51zM128.2,556.88h6.48v0.86h-6.48zM128.2,557.74h9.05v0.86h-9.05zM128.2,558.6h9.38v0.86h-9.38zM128.2,559.46h5.29v0.86h-5.29zM128.2,560.32h8.29v0.86h-8.29zM128.2,561.18h7.66v0.86h-7.66zM128.2,562.04h7.5v0.86h-7.5zM128.2,562.9h8.3v0.86h-8.3zM128.2,563.76h5.69v0.86h-5.69zM128.2,564.62h5.77v0.86h-5.77zM128.2,565.48h5.51v0.86h-5.51zM128.2,566.34h5.7v0.86h-5.7zM128.2,567.2h6.75v0.86h-6.75zM128.2,568.06h4.54v0.86h-4.54zM128.2,568.92h5.19v0.86h-5.19zM128.2,569.78h7.55v0.86h-7.55zM128.2,570.64h6.8v0.86h-6.8zM128.2,571.5h7.62v0.86h-7.62zM128.2,572.36h4.59v0.86h-4.59zM128.2,573.22h5.92v0.86h-5.92zM128.2,574.08h6.28v0.86h-6.28zM128.2,574.94h7.09v0.86h-7.09zM128.2,575.8h5.99v0.86h-5.99zM128.2,576.66h7.91v0.86h-7.91zM128.2,577.52h6.95v0.86h-6.95zM128.2,578.38h7.11v0.86h-7.11zM128.2,579.24h7.11v0.86h-7.11zM128.2,580.1h8.43v0.86h-8.43zM128.2,580.96h6.78v0.86h-6.78zM128.2,581.82h9.18v0.86h-9.18zM128.2,582.68h8.52v0.86h-8.52zM128.2,583.54h8.19v0.86h-8.19zM128.2,584.4h8.2v0.86h-8.2zM128.2,585.26h8.62v0.86h-8.62zM128.2,586.12h9.12v0.86h-9.12zM128.2,586.98h8.97v0.86h-8.97zM128.2,587.84h8.12v0.86h-8.12zM128.2,588.7h8.68v0.86h-8.68zM128.2,589.56h6.9v0.86h-6.9zM128.2,590.42h8.59v0.86h-8.59z" fill="#97b5f0"/>
<path d="M121.18,506.2h7.02v0.86h-7.02zM124.68,507.06h3.52v0.86h-3.52zM122.25,507.92h5.95v0.86h-5.95zM121.21,508.78h6.99v0.86h-6.99zM123.64,509.64h4.56v0.86h-4.56zM122.65,510.5h5.55v0.86h-5.55zM121.53,511.36h6.67v0.86h-6.67zM120.77,512.22h7.43v0.86h-7.43zM121.78,513.08h6.42v0.86h-6.42zM122.83,513.94h5.37v0.86h-5.37zM120.45,514.8h7.75v0.86h-7.75zM122.8,515.66h5.4v0.86h-5.4zM122.64,516.52h5.56v0.86h-5.56zM124.27,517.38h3.93v0.86h-3.93zM123.76,518.24h4.44v0.86h-4.44zM120.86,519.1h7.34v0.86h-7.34zM124.9,519.96h3.3v0.86h-3.3zM122.57,520.82h5.63v0.86h-5.63zM120.63,521.68h7.57v0.86h-7.57zM122.24,522.54h5.96v0.86h-5.96zM121.38,523.4h6.82v0.86h-6.82z" fill="#0000fa"/>
<path d="M128.2,524.2h5.77v0.86h-5.77zM128.2,525.06h5.97v0.86h-5.97zM128.2,525.92h6.82v0.86h-6.82zM128.2,526.78h3.23v0.86h-3.23zM128.2,527.64h5.91v0.86h-5.91zM128.2,528.5h3.83v0.86h-3.83zM128.2,529.36h3.91v0.86h-3.91zM128.2,530.22h5.61v0.86h-5.61zM128.2,531.08h4.87v0.86h-4.87zM128.2,531.94h2.6v0.86h-2.6zM128.2,532.8h4.67v0.86h-4.67zM128.2,533.66h4.31v0.86h-4.31zM128.2,534.52h3.81v0.86h-3.81zM128.2,535.38h4.24v0.86h-4.24zM128.2,536.24h4.38v0.86h-4.38zM128.2,537.1h2.97v0.86h-2.97zM128.2,537.96h3.34v0.86h-3.34zM128.2,538.82h6.82v0.86h-6.82zM128.2,539.68h2.58v0.86h-2.58zM128.2,540.54h4.26v0.86h-4.26zM128.2,541.4h4.62v0.86h-4.62zM128.2,542.26h4.45v0.86h-4.45zM128.2,543.12h2.09v0.86h-2.09zM128.2,543.98h3.12v0.86h-3.12zM128.2,544.84h3.87v0.86h-3.87zM128.2,545.7h4.75v0.86h-4.75zM128.2,546.56h3.23v0.86h-3.23zM128.2,547.42h2.8v0.86h-2.8zM128.2,548.28h5.45v0.86h-5.45zM128.2,549.14h3.83v0.86h-3.83zM128.2,550h4.87v0.86h-4.87zM128.2,550.86h3.37v0.86h-3.37zM128.2,552.58h5.45v0.86h-5.45zM128.2,553.44h5.05v0.86h-5.05zM128.2,554.3h3.72v0.86h-3.72zM128.2,555.16h3.03v0.86h-3.03zM128.2,556.02h4.52v0.86h-4.52zM128.2,556.88h4.01v0.86h-4.01zM128.2,557.74h3.1v0.86h-3.1zM128.2,558.6h4.47v0.86h-4.47zM128.2,559.46h4.04v0.86h-4.04zM128.2,560.32h3.63v0.86h-3.63zM128.2,561.18h4.64v0.86h-4.64zM128.2,562.04h2.4v0.86h-2.4zM128.2,562.9h4.24v0.86h-4.24zM128.2,563.76h4.83v0.86h-4.83zM128.2,564.62h4.62v0.86h-4.62zM128.2,565.48h5.46v0.86h-5.46zM128.2,566.34h2.95v0.86h-2.95zM128.2,567.2h2.38v0.86h-2.38zM128.2,568.06h4.54v0.86h-4.54zM128.2,568.92h5v0.86h-5zM128.2,569.78h6.82v0.86h-6.82zM128.2,570.64h5.29v0.86h-5.29zM128.2,571.5h3.24v0.86h-3.24zM128.2,572.36h4.59v0.86h-4.59zM128.2,573.22h3.26v0.86h-3.26zM128.2,574.08h2.39v0.86h-2.39zM128.2,574.94h6.82v0.86h-6.82zM128.2,575.8h4.56v0.86h-4.56zM128.2,576.66h4.98v0.86h-4.98zM128.2,577.52h4.99v0.86h-4.99zM128.2,578.38h6.76v0.86h-6.76zM128.2,579.24h4.64v0.86h-4.64zM128.2,580.1h5.9v0.86h-5.9zM128.2,580.96h3.36v0.86h-3.36zM128.2,581.82h2.72v0.86h-2.72zM128.2,582.68h6.16v0.86h-6.16zM128.2,583.54h6v0.86h-6zM128.2,584.4h4.6v0.86h-4.6zM128.2,585.26h4.25v0.86h-4.25zM128.2,586.12h4.35v0.86h-4.35zM128.2,586.98h2.96v0.86h-2.96zM128.2,587.84h5.57v0.86h-5.57zM128.2,588.7h4.73v0.86h-4.73zM128.2,589.56h4.63v0.86h-4.63zM128.2,590.42h4.6v0.86h-4.6z" fill="#0000fa"/>
<path d="M126.51,506.2h1.69v0.86h-1.69zM126.31,507.06h1.89v0.86h-1.89zM125.33,507.92h2.87v0.86h-2.87zM125.92,508.78h2.28v0.86h-2.28zM125.95,509.64h2.25v0.86h-2.25zM123.77,510.5h4.43v0.86h-4.43zM124.45,511.36h3.75v0.86h-3.75zM124.54,512.22h3.66v0.86h-3.66zM124.83,513.08h3.37v0.86h-3.37zM124.7,513.94h3.5v0.86h-3.5zM123.56,514.8h4.64v0.86h-4.64zM125.12,515.66h3.08v0.86h-3.08zM123.55,516.52h4.65v0.86h-4.65zM125.92,517.38h2.28v0.86h-2.28zM125.31,518.24h2.89v0.86h-2.89zM126.13,519.1h2.07v0.86h-2.07zM125.15,519.96h3.05v0.86h-3.05zM124.42,520.82h3.78v0.86h-3.78zM123.82,521.68h4.38v0.86h-4.38zM125.47,522.54h2.73v0.86h-2.73zM124.91,523.4h3.29v0.86h-3.29zM122.45,524.2h5.75v0.86h-5.75zM123.52,525.06h4.68v0.86h-4.68zM124.16,525.92h4.04v0.86h-4.04zM122.99,526.78h5.21v0.86h-5.21zM123.36,527.64h4.84v0.86h-4.84zM124.66,528.5h3.54v0.86h-3.54zM125.71,529.36h2.49v0.86h-2.49zM124.91,530.22h3.29v0.86h-3.29zM121.87,531.08h6.33v0.86h-6.33zM121.55,531.94h6.65v0.86h-6.65zM123.36,532.8h4.84v0.86h-4.84zM122.94,533.66h5.26v0.86h-5.26zM125.06,534.52h3.14v0.86h-3.14zM124.52,535.38h3.68v0.86h-3.68zM123.81,536.24h4.39v0.86h-4.39zM125.4,537.1h2.8v0.86h-2.8zM124.99,537.96h3.21v0.86h-3.21zM123.52,538.82h4.68v0.86h-4.68zM123.96,539.68h4.24v0.86h-4.24zM124.81,540.54h3.39v0.86h-3.39zM123.4,541.4h4.8v0.86h-4.8zM124.09,542.26h4.11v0.86h-4.11zM122.64,543.12h5.56v0.86h-5.56zM123.93,543.98h4.27v0.86h-4.27zM124.56,544.84h3.64v0.86h-3.64zM124.07,545.7h4.13v0.86h-4.13zM124.34,546.56h3.86v0.86h-3.86zM124.77,547.42h3.43v0.86h-3.43zM123.85,548.28h4.35v0.86h-4.35zM122.48,549.14h5.72v0.86h-5.72zM122.64,550h5.56v0.86h-5.56zM122.14,550.86h6.06v0.86h-6.06zM125.69,552.58h2.51v0.86h-2.51zM125.23,553.44h2.97v0.86h-2.97zM123.96,554.3h4.24v0.86h-4.24zM123.64,555.16h4.56v0.86h-4.56zM124.39,556.02h3.81v0.86h-3.81zM124.36,556.88h3.84v0.86h-3.84zM122.7,557.74h5.5v0.86h-5.5zM123.3,558.6h4.9v0.86h-4.9zM125.09,559.46h3.11v0.86h-3.11zM122.22,560.32h5.98v0.86h-5.98zM122.62,561.18h5.58v0.86h-5.58zM124.38,562.04h3.82v0.86h-3.82zM122.7,562.9h5.5v0.86h-5.5zM124.62,563.76h3.58v0.86h-3.58zM122.39,564.62h5.81v0.86h-5.81zM123.92,565.48h4.28v0.86h-4.28zM124.74,566.34h3.46v0.86h-3.46zM124.13,567.2h4.07v0.86h-4.07zM124.76,568.06h3.44v0.86h-3.44zM123.79,568.92h4.41v0.86h-4.41zM123.67,569.78h4.53v0.86h-4.53zM123.95,570.64h4.25v0.86h-4.25zM124.55,571.5h3.65v0.86h-3.65zM127.32,572.36h0.88v0.86h-0.88zM123.96,573.22h4.24v0.86h-4.24zM126.56,574.08h1.64v0.86h-1.64zM123.94,574.94h4.26v0.86h-4.26zM122.77,575.8h5.43v0.86h-5.43zM124.08,576.66h4.12v0.86h-4.12zM124.68,577.52h3.52v0.86h-3.52zM124.53,578.38h3.67v0.86h-3.67zM124.48,579.24h3.72v0.86h-3.72zM124.84,580.1h3.36v0.86h-3.36zM124.73,580.96h3.47v0.86h-3.47zM125.18,581.82h3.02v0.86h-3.02zM122.48,582.68h5.72v0.86h-5.72zM123.75,583.54h4.45v0.86h-4.45zM122.64,584.4h5.56v0.86h-5.56zM124.15,585.26h4.05v0.86h-4.05zM123.93,586.12h4.27v0.86h-4.27zM124.16,586.98h4.04v0.86h-4.04zM123.37,587.84h4.83v0.86h-4.83zM122.87,588.7h5.33v0.86h-5.33zM123.68,589.56h4.52v0.86h-4.52zM124.81,590.42h3.39v0.86h-3.39z" fill="#fa0000"/>
<line x1="128.2" y1="506" x2="128.2" y2="591.4" stroke="#161616" stroke-width="0.95" />
<path d="M160.47,510.2h12.83v0.86h-12.83zM161.38,511.06h11.92v0.86h-11.92zM162.67,511.92h10.63v0.86h-10.63zM165.03,512.78h8.27v0.86h-8.27zM164.33,513.64h8.97v0.86h-8.97zM162.8,514.5h10.5v0.86h-10.5zM161.73,515.36h11.57v0.86h-11.57zM159.61,516.22h13.69v0.86h-13.69zM159.27,517.08h14.03v0.86h-14.03zM160.6,517.94h12.7v0.86h-12.7zM160.78,518.8h12.52v0.86h-12.52zM163.79,519.66h9.51v0.86h-9.51zM166.29,520.52h7.01v0.86h-7.01zM162.53,521.38h10.77v0.86h-10.77zM162.79,522.24h10.51v0.86h-10.51zM162.3,523.1h11v0.86h-11zM161.51,523.96h11.79v0.86h-11.79zM163.26,524.82h10.04v0.86h-10.04zM162.5,525.68h10.8v0.86h-10.8zM160.29,526.54h13.01v0.86h-13.01zM159.71,527.4h13.59v0.86h-13.59zM161.63,528.26h11.67v0.86h-11.67zM159.64,529.12h13.66v0.86h-13.66zM162.19,529.98h11.11v0.86h-11.11zM163.71,530.84h9.59v0.86h-9.59zM162.28,531.7h11.02v0.86h-11.02zM157.98,532.56h15.32v0.86h-15.32zM164.35,533.42h8.95v0.86h-8.95zM160.44,534.28h12.86v0.86h-12.86zM159.65,535.14h13.65v0.86h-13.65zM159.06,536h14.24v0.86h-14.24zM163.67,536.86h9.63v0.86h-9.63zM156.7,537.72h16.6v0.86h-16.6zM160.5,538.58h12.8v0.86h-12.8zM161.32,539.44h11.98v0.86h-11.98zM161.19,540.3h12.11v0.86h-12.11zM158.64,541.16h14.66v0.86h-14.66zM159.84,542.02h13.46v0.86h-13.46zM160.63,542.88h12.67v0.86h-12.67zM157.36,543.74h15.94v0.86h-15.94zM162.77,544.6h10.53v0.86h-10.53zM163.59,545.46h9.71v0.86h-9.71zM159.35,546.32h13.95v0.86h-13.95zM159.54,547.18h13.76v0.86h-13.76zM159.08,548.04h14.22v0.86h-14.22zM164.07,548.9h9.23v0.86h-9.23zM159.32,549.76h13.98v0.86h-13.98zM160.93,550.62h12.37v0.86h-12.37zM157.33,551.48h15.97v0.86h-15.97zM165.49,552.34h7.81v0.86h-7.81zM162.34,553.2h10.96v0.86h-10.96zM163.14,554.06h10.16v0.86h-10.16zM166.58,554.92h6.72v0.86h-6.72zM163.87,555.78h9.43v0.86h-9.43zM159.76,556.64h13.54v0.86h-13.54zM162.9,557.5h10.4v0.86h-10.4zM163.51,558.36h9.79v0.86h-9.79zM158.51,559.22h14.79v0.86h-14.79zM158.06,560.08h15.24v0.86h-15.24zM158.18,560.94h15.12v0.86h-15.12zM162.18,561.8h11.12v0.86h-11.12zM161.02,562.66h12.28v0.86h-12.28zM157.93,563.52h15.37v0.86h-15.37zM162.53,564.38h10.77v0.86h-10.77zM162.94,565.24h10.36v0.86h-10.36zM159.83,566.1h13.47v0.86h-13.47zM158.12,566.96h15.18v0.86h-15.18zM164.68,567.82h8.62v0.86h-8.62zM168.29,568.68h5.01v0.86h-5.01zM165.43,570.4h7.87v0.86h-7.87zM163.9,571.26h9.4v0.86h-9.4zM162.21,572.12h11.09v0.86h-11.09zM160.75,572.98h12.55v0.86h-12.55zM162.46,573.84h10.84v0.86h-10.84zM163.89,574.7h9.41v0.86h-9.41zM161.87,575.56h11.43v0.86h-11.43zM164.33,576.42h8.97v0.86h-8.97zM162.21,577.28h11.09v0.86h-11.09zM163.98,578.14h9.32v0.86h-9.32zM155.2,579h18.1v0.86h-18.1zM159.66,579.86h13.64v0.86h-13.64zM163.08,580.72h10.22v0.86h-10.22zM163.43,581.58h9.87v0.86h-9.87zM162.28,582.44h11.02v0.86h-11.02zM165.32,583.3h7.98v0.86h-7.98zM163.26,584.16h10.04v0.86h-10.04zM162.73,585.02h10.57v0.86h-10.57zM158.48,585.88h14.82v0.86h-14.82zM161.17,586.74h12.13v0.86h-12.13zM162.24,587.6h11.06v0.86h-11.06zM163.45,588.46h9.85v0.86h-9.85zM162.77,589.32h10.53v0.86h-10.53zM159.74,590.18h13.56v0.86h-13.56zM159.8,591.04h13.5v0.86h-13.5z" fill="#f6b37a"/>
<path d="M167.62,510.2h5.68v0.86h-5.68zM167.49,511.06h5.81v0.86h-5.81zM163.63,511.92h9.67v0.86h-9.67zM165.76,512.78h7.54v0.86h-7.54zM167.03,513.64h6.27v0.86h-6.27zM164.19,514.5h9.11v0.86h-9.11zM167.08,515.36h6.22v0.86h-6.22zM167.17,516.22h6.13v0.86h-6.13zM167.15,517.08h6.15v0.86h-6.15zM169.98,517.94h3.32v0.86h-3.32zM164.56,518.8h8.74v0.86h-8.74zM168.42,519.66h4.88v0.86h-4.88zM166.94,520.52h6.36v0.86h-6.36zM167.54,521.38h5.76v0.86h-5.76zM164.88,522.24h8.42v0.86h-8.42zM166.08,523.1h7.22v0.86h-7.22zM165.74,523.96h7.56v0.86h-7.56zM169.21,524.82h4.09v0.86h-4.09zM166.32,525.68h6.98v0.86h-6.98zM168.83,526.54h4.47v0.86h-4.47zM165.75,527.4h7.55v0.86h-7.55zM165.94,528.26h7.36v0.86h-7.36zM166.12,529.12h7.18v0.86h-7.18zM162.34,529.98h10.96v0.86h-10.96zM165.17,530.84h8.13v0.86h-8.13zM164.49,531.7h8.81v0.86h-8.81zM165.34,532.56h7.96v0.86h-7.96zM165.96,533.42h7.34v0.86h-7.34zM163.46,534.28h9.84v0.86h-9.84zM162.7,535.14h10.6v0.86h-10.6zM167.54,536h5.76v0.86h-5.76zM163.67,536.86h9.63v0.86h-9.63zM164.41,537.72h8.89v0.86h-8.89zM163.42,538.58h9.88v0.86h-9.88zM164.19,539.44h9.11v0.86h-9.11zM167.69,540.3h5.61v0.86h-5.61zM167.81,541.16h5.49v0.86h-5.49zM162.36,542.02h10.94v0.86h-10.94zM165.52,542.88h7.78v0.86h-7.78zM168.75,543.74h4.55v0.86h-4.55zM165.66,544.6h7.64v0.86h-7.64zM167.31,545.46h5.99v0.86h-5.99zM170.16,546.32h3.14v0.86h-3.14zM170.61,547.18h2.69v0.86h-2.69zM169.19,548.04h4.11v0.86h-4.11zM165.34,548.9h7.96v0.86h-7.96zM165.83,549.76h7.47v0.86h-7.47zM165.5,550.62h7.8v0.86h-7.8zM164.11,551.48h9.19v0.86h-9.19zM165.49,552.34h7.81v0.86h-7.81zM168.61,553.2h4.69v0.86h-4.69zM166,554.06h7.3v0.86h-7.3zM167.01,554.92h6.29v0.86h-6.29zM168.15,555.78h5.15v0.86h-5.15zM166.47,556.64h6.83v0.86h-6.83zM166.58,557.5h6.72v0.86h-6.72zM166.67,558.36h6.63v0.86h-6.63zM169.04,559.22h4.26v0.86h-4.26zM166.98,560.08h6.32v0.86h-6.32zM162.25,560.94h11.05v0.86h-11.05zM167.94,561.8h5.36v0.86h-5.36zM169.22,562.66h4.08v0.86h-4.08zM165.8,563.52h7.5v0.86h-7.5zM164.9,564.38h8.4v0.86h-8.4zM165.75,565.24h7.55v0.86h-7.55zM168.48,566.1h4.82v0.86h-4.82zM164.52,566.96h8.78v0.86h-8.78zM167.24,567.82h6.06v0.86h-6.06zM168.29,568.68h5.01v0.86h-5.01zM166.45,570.4h6.85v0.86h-6.85zM165.65,571.26h7.65v0.86h-7.65zM164.4,572.12h8.9v0.86h-8.9zM164.62,572.98h8.68v0.86h-8.68zM165.75,573.84h7.55v0.86h-7.55zM163.96,574.7h9.34v0.86h-9.34zM165.65,575.56h7.65v0.86h-7.65zM164.41,576.42h8.89v0.86h-8.89zM168.93,577.28h4.37v0.86h-4.37zM169.24,578.14h4.06v0.86h-4.06zM164.64,579h8.66v0.86h-8.66zM168.55,579.86h4.75v0.86h-4.75zM166.36,580.72h6.94v0.86h-6.94zM166.07,581.58h7.23v0.86h-7.23zM166.94,582.44h6.36v0.86h-6.36zM167.05,583.3h6.25v0.86h-6.25zM163.74,584.16h9.56v0.86h-9.56zM170.95,585.02h2.35v0.86h-2.35zM164.34,585.88h8.96v0.86h-8.96zM162.14,586.74h11.16v0.86h-11.16zM166.27,587.6h7.03v0.86h-7.03zM166.46,588.46h6.84v0.86h-6.84zM165.16,589.32h8.14v0.86h-8.14zM162.58,590.18h10.72v0.86h-10.72zM168.01,591.04h5.29v0.86h-5.29z" fill="#0000fa"/>
<path d="M170.45,510.2h2.85v0.86h-2.85zM169.62,511.06h3.68v0.86h-3.68zM168.3,511.92h5v0.86h-5zM169.88,512.78h3.42v0.86h-3.42zM171.22,513.64h2.08v0.86h-2.08zM170.67,514.5h2.63v0.86h-2.63zM169.34,515.36h3.96v0.86h-3.96zM169.25,516.22h4.05v0.86h-4.05zM169.85,517.08h3.45v0.86h-3.45zM169.98,517.94h3.32v0.86h-3.32zM168.68,518.8h4.62v0.86h-4.62zM169.28,519.66h4.02v0.86h-4.02zM169.66,520.52h3.64v0.86h-3.64zM170.05,521.38h3.25v0.86h-3.25zM169.15,522.24h4.15v0.86h-4.15zM168.41,523.1h4.89v0.86h-4.89zM169.32,523.96h3.98v0.86h-3.98zM169.21,524.82h4.09v0.86h-4.09zM169.74,525.68h3.56v0.86h-3.56zM171.1,526.54h2.2v0.86h-2.2zM170.35,527.4h2.95v0.86h-2.95zM168.08,528.26h5.22v0.86h-5.22zM168.43,529.12h4.87v0.86h-4.87zM167.26,529.98h6.04v0.86h-6.04zM169.12,530.84h4.18v0.86h-4.18zM168.23,531.7h5.07v0.86h-5.07zM167.97,532.56h5.33v0.86h-5.33zM168.3,533.42h5v0.86h-5zM170.34,534.28h2.96v0.86h-2.96zM169.9,535.14h3.4v0.86h-3.4zM169.53,536h3.77v0.86h-3.77zM170.77,536.86h2.53v0.86h-2.53zM169.02,537.72h4.28v0.86h-4.28zM168.36,538.58h4.94v0.86h-4.94zM169.83,539.44h3.47v0.86h-3.47zM167.69,540.3h5.61v0.86h-5.61zM169.44,541.16h3.86v0.86h-3.86zM169.51,542.02h3.79v0.86h-3.79zM169.58,542.88h3.72v0.86h-3.72zM170.21,543.74h3.09v0.86h-3.09zM168.85,544.6h4.45v0.86h-4.45zM169.07,545.46h4.23v0.86h-4.23zM170.16,546.32h3.14v0.86h-3.14zM170.61,547.18h2.69v0.86h-2.69zM169.19,548.04h4.11v0.86h-4.11zM169.49,548.9h3.81v0.86h-3.81zM170.83,549.76h2.47v0.86h-2.47zM169.23,550.62h4.07v0.86h-4.07zM170.19,551.48h3.11v0.86h-3.11zM168.4,552.34h4.9v0.86h-4.9zM169.53,553.2h3.77v0.86h-3.77zM167.68,554.06h5.62v0.86h-5.62zM168.81,554.92h4.49v0.86h-4.49zM168.71,555.78h4.59v0.86h-4.59zM169.26,556.64h4.04v0.86h-4.04zM169.37,557.5h3.93v0.86h-3.93zM168.89,558.36h4.41v0.86h-4.41zM169.04,559.22h4.26v0.86h-4.26zM170.3,560.08h3v0.86h-3zM168.67,560.94h4.63v0.86h-4.63zM167.94,561.8h5.36v0.86h-5.36zM169.29,562.66h4.01v0.86h-4.01zM169.67,563.52h3.63v0.86h-3.63zM170.42,564.38h2.88v0.86h-2.88zM171.28,565.24h2.02v0.86h-2.02zM168.48,566.1h4.82v0.86h-4.82zM169.51,566.96h3.79v0.86h-3.79zM169.37,567.82h3.93v0.86h-3.93zM168.29,568.68h5.01v0.86h-5.01zM167.26,570.4h6.04v0.86h-6.04zM170.77,571.26h2.53v0.86h-2.53zM168.38,572.12h4.92v0.86h-4.92zM168.9,572.98h4.4v0.86h-4.4zM169.07,573.84h4.23v0.86h-4.23zM169.09,574.7h4.21v0.86h-4.21zM169.73,575.56h3.57v0.86h-3.57zM167.7,576.42h5.6v0.86h-5.6zM168.93,577.28h4.37v0.86h-4.37zM169.29,578.14h4.01v0.86h-4.01zM168.13,579h5.17v0.86h-5.17zM168.55,579.86h4.75v0.86h-4.75zM168.93,580.72h4.37v0.86h-4.37zM169.04,581.58h4.26v0.86h-4.26zM167.35,582.44h5.95v0.86h-5.95zM168.76,583.3h4.54v0.86h-4.54zM169.7,584.16h3.6v0.86h-3.6zM170.95,585.02h2.35v0.86h-2.35zM169.82,585.88h3.48v0.86h-3.48zM170.63,586.74h2.67v0.86h-2.67zM169.29,587.6h4.01v0.86h-4.01zM168.99,588.46h4.31v0.86h-4.31zM171.65,589.32h1.65v0.86h-1.65zM169.32,590.18h3.98v0.86h-3.98zM168.54,591.04h4.76v0.86h-4.76z" fill="#fa0000"/>
<line x1="173.3" y1="509.9" x2="173.3" y2="591.4" stroke="#161616" stroke-width="0.95" />
<path d="M218.1,513.8h11.12v0.86h-11.12zM218.1,514.66h9.87v0.86h-9.87zM218.1,515.52h13.65v0.86h-13.65zM218.1,516.38h10.92v0.86h-10.92zM218.1,517.24h9.97v0.86h-9.97zM218.1,518.1h13.59v0.86h-13.59zM218.1,518.96h14.57v0.86h-14.57zM218.1,519.82h9.14v0.86h-9.14zM218.1,520.68h17.42v0.86h-17.42zM218.1,521.54h13.22v0.86h-13.22zM218.1,522.4h13.07v0.86h-13.07zM218.1,523.26h16.55v0.86h-16.55zM218.1,524.12h14.14v0.86h-14.14zM218.1,524.98h11.73v0.86h-11.73zM218.1,525.84h19.7v0.86h-19.7zM218.1,526.7h10.16v0.86h-10.16zM218.1,527.56h13.57v0.86h-13.57zM218.1,528.42h16.7v0.86h-16.7zM218.1,529.28h11v0.86h-11zM218.1,530.14h12.89v0.86h-12.89zM218.1,531h14.89v0.86h-14.89zM218.1,531.86h21.01v0.86h-21.01zM218.1,532.72h11.44v0.86h-11.44zM218.1,533.58h13.46v0.86h-13.46zM218.1,534.44h15.61v0.86h-15.61zM218.1,535.3h13.93v0.86h-13.93zM218.1,536.16h10.08v0.86h-10.08zM218.1,537.02h14.62v0.86h-14.62zM218.1,537.88h13.21v0.86h-13.21zM218.1,538.74h13.56v0.86h-13.56zM218.1,539.6h16.03v0.86h-16.03zM218.1,540.46h15.95v0.86h-15.95zM218.1,541.32h13.47v0.86h-13.47zM218.1,542.18h13.47v0.86h-13.47zM218.1,543.04h9.86v0.86h-9.86zM218.1,543.9h12.36v0.86h-12.36zM218.1,544.76h13.31v0.86h-13.31zM218.1,545.62h12.15v0.86h-12.15zM218.1,546.48h13.82v0.86h-13.82zM218.1,547.34h11.39v0.86h-11.39zM218.1,548.2h18.16v0.86h-18.16zM218.1,549.06h19.86v0.86h-19.86zM218.1,549.92h13.68v0.86h-13.68zM218.1,550.78h16.11v0.86h-16.11zM218.1,551.64h15.12v0.86h-15.12zM218.1,552.5h19.19v0.86h-19.19zM218.1,553.36h16.79v0.86h-16.79zM218.1,554.22h15.71v0.86h-15.71zM218.1,555.08h15.02v0.86h-15.02zM218.1,555.94h16.01v0.86h-16.01zM218.1,556.8h12.52v0.86h-12.52zM218.1,557.66h16.32v0.86h-16.32zM218.1,558.52h11.2v0.86h-11.2zM218.1,559.38h14.21v0.86h-14.21zM218.1,560.24h13.42v0.86h-13.42zM218.1,561.96h16.49v0.86h-16.49zM218.1,562.82h12.67v0.86h-12.67zM218.1,563.68h15.68v0.86h-15.68zM218.1,564.54h10.24v0.86h-10.24zM218.1,565.4h15.09v0.86h-15.09zM218.1,566.26h13.67v0.86h-13.67zM218.1,567.12h14.37v0.86h-14.37zM218.1,567.98h13.53v0.86h-13.53zM218.1,568.84h14.81v0.86h-14.81zM218.1,569.7h6.93v0.86h-6.93zM218.1,572.28h12.22v0.86h-12.22zM218.1,573.14h7.66v0.86h-7.66zM218.1,574h14.86v0.86h-14.86zM218.1,574.86h6.43v0.86h-6.43zM218.1,575.72h9.48v0.86h-9.48zM218.1,576.58h7.65v0.86h-7.65zM218.1,577.44h17.53v0.86h-17.53zM218.1,578.3h9.79v0.86h-9.79zM218.1,579.16h14.49v0.86h-14.49zM218.1,580.02h12.69v0.86h-12.69zM218.1,580.88h8.87v0.86h-8.87zM218.1,581.74h12.49v0.86h-12.49zM218.1,582.6h15.09v0.86h-15.09zM218.1,583.46h12.92v0.86h-12.92zM218.1,584.32h16.17v0.86h-16.17zM218.1,585.18h13.43v0.86h-13.43zM218.1,586.04h14.06v0.86h-14.06zM218.1,586.9h12.75v0.86h-12.75zM218.1,587.76h14.26v0.86h-14.26zM218.1,588.62h18.42v0.86h-18.42zM218.1,589.48h14.07v0.86h-14.07zM218.1,590.34h12.93v0.86h-12.93z" fill="#97b5f0"/>
<path d="M218.1,513.8h9.51v0.86h-9.51zM218.1,514.66h6.12v0.86h-6.12zM218.1,515.52h6.9v0.86h-6.9zM218.1,516.38h5.54v0.86h-5.54zM218.1,517.24h9.38v0.86h-9.38zM218.1,518.1h4.27v0.86h-4.27zM218.1,518.96h6.82v0.86h-6.82zM218.1,519.82h9.14v0.86h-9.14zM218.1,520.68h7.79v0.86h-7.79zM218.1,521.54h9.14v0.86h-9.14zM218.1,522.4h7.13v0.86h-7.13zM218.1,523.26h5.05v0.86h-5.05zM218.1,524.12h7.25v0.86h-7.25zM218.1,524.98h8.12v0.86h-8.12zM218.1,525.84h5.32v0.86h-5.32zM218.1,526.7h8.44v0.86h-8.44zM218.1,527.56h10.75v0.86h-10.75zM218.1,528.42h9.93v0.86h-9.93zM218.1,529.28h4.94v0.86h-4.94zM218.1,530.14h6.63v0.86h-6.63zM218.1,531h5.85v0.86h-5.85zM218.1,531.86h11.77v0.86h-11.77zM218.1,532.72h10.25v0.86h-10.25zM218.1,533.58h10.87v0.86h-10.87zM218.1,534.44h7.18v0.86h-7.18zM218.1,535.3h6.66v0.86h-6.66zM218.1,536.16h9.11v0.86h-9.11zM218.1,537.02h8.64v0.86h-8.64zM218.1,537.88h6.37v0.86h-6.37zM218.1,538.74h8.98v0.86h-8.98zM218.1,539.6h10.51v0.86h-10.51zM218.1,540.46h9.13v0.86h-9.13zM218.1,541.32h6.41v0.86h-6.41zM218.1,542.18h3.84v0.86h-3.84zM218.1,543.04h8.23v0.86h-8.23zM218.1,543.9h9.78v0.86h-9.78zM218.1,544.76h8.84v0.86h-8.84zM218.1,545.62h8.58v0.86h-8.58zM218.1,546.48h8.01v0.86h-8.01zM218.1,547.34h10.74v0.86h-10.74zM218.1,548.2h9.06v0.86h-9.06zM218.1,549.06h9.57v0.86h-9.57zM218.1,549.92h6.85v0.86h-6.85zM218.1,550.78h7.31v0.86h-7.31zM218.1,551.64h8.55v0.86h-8.55zM218.1,552.5h5.62v0.86h-5.62zM218.1,553.36h5.05v0.86h-5.05zM218.1,554.22h8.17v0.86h-8.17zM218.1,555.08h11.32v0.86h-11.32zM218.1,555.94h8.86v0.86h-8.86zM218.1,556.8h12.09v0.86h-12.09zM218.1,557.66h8.3v0.86h-8.3zM218.1,558.52h8.73v0.86h-8.73zM218.1,559.38h6.4v0.86h-6.4zM218.1,560.24h7.89v0.86h-7.89zM218.1,561.96h12.39v0.86h-12.39zM218.1,562.82h10.42v0.86h-10.42zM218.1,563.68h11.22v0.86h-11.22zM218.1,564.54h10.24v0.86h-10.24zM218.1,565.4h9.69v0.86h-9.69zM218.1,566.26h9.1v0.86h-9.1zM218.1,567.12h9.74v0.86h-9.74zM218.1,567.98h10.83v0.86h-10.83zM218.1,568.84h10.23v0.86h-10.23zM218.1,569.7h6.93v0.86h-6.93zM218.1,572.28h10.2v0.86h-10.2zM218.1,573.14h7.66v0.86h-7.66zM218.1,574h9.53v0.86h-9.53zM218.1,574.86h6.43v0.86h-6.43zM218.1,575.72h9.48v0.86h-9.48zM218.1,576.58h5.17v0.86h-5.17zM218.1,577.44h9.16v0.86h-9.16zM218.1,578.3h9.79v0.86h-9.79zM218.1,579.16h7.47v0.86h-7.47zM218.1,580.02h5.28v0.86h-5.28zM218.1,580.88h7.66v0.86h-7.66zM218.1,581.74h11.33v0.86h-11.33zM218.1,582.6h8.32v0.86h-8.32zM218.1,583.46h10.04v0.86h-10.04zM218.1,584.32h9.21v0.86h-9.21zM218.1,585.18h7.9v0.86h-7.9zM218.1,586.04h13.64v0.86h-13.64zM218.1,586.9h8.89v0.86h-8.89zM218.1,587.76h7.85v0.86h-7.85zM218.1,588.62h7.48v0.86h-7.48zM218.1,589.48h9v0.86h-9zM218.1,590.34h9.17v0.86h-9.17z" fill="#fa0000"/>
<path d="M218.1,513.8h3.5v0.86h-3.5zM218.1,514.66h3.26v0.86h-3.26zM218.1,515.52h2.19v0.86h-2.19zM218.1,516.38h2.28v0.86h-2.28zM218.1,517.24h3.05v0.86h-3.05zM218.1,518.1h3.93v0.86h-3.93zM218.1,518.96h2.42v0.86h-2.42zM218.1,519.82h2.18v0.86h-2.18zM218.1,520.68h4.36v0.86h-4.36zM218.1,521.54h2.5v0.86h-2.5zM218.1,522.4h4.26v0.86h-4.26zM218.1,523.26h3.66v0.86h-3.66zM218.1,524.12h4.28v0.86h-4.28zM218.1,524.98h4.96v0.86h-4.96zM218.1,525.84h4.06v0.86h-4.06zM218.1,526.7h3.87v0.86h-3.87zM218.1,527.56h2.43v0.86h-2.43zM218.1,528.42h2.66v0.86h-2.66zM218.1,529.28h4.07v0.86h-4.07zM218.1,530.14h4.79v0.86h-4.79zM218.1,531h4.67v0.86h-4.67zM218.1,531.86h4.96v0.86h-4.96zM218.1,532.72h3.44v0.86h-3.44zM218.1,533.58h3.61v0.86h-3.61zM218.1,534.44h4.2v0.86h-4.2zM218.1,535.3h3.21v0.86h-3.21zM218.1,536.16h3.27v0.86h-3.27zM218.1,537.02h2.4v0.86h-2.4zM218.1,537.88h4.27v0.86h-4.27zM218.1,538.74h2.08v0.86h-2.08zM218.1,539.6h3.75v0.86h-3.75zM218.1,540.46h1.85v0.86h-1.85zM218.1,541.32h4.31v0.86h-4.31zM218.1,542.18h2.2v0.86h-2.2zM218.1,543.04h3.77v0.86h-3.77zM218.1,543.9h1.25v0.86h-1.25zM218.1,544.76h2.4v0.86h-2.4zM218.1,545.62h4.19v0.86h-4.19zM218.1,546.48h2.36v0.86h-2.36zM218.1,547.34h3.08v0.86h-3.08zM218.1,548.2h2.59v0.86h-2.59zM218.1,549.06h0.99v0.86h-0.99zM218.1,549.92h3.53v0.86h-3.53zM218.1,550.78h3.74v0.86h-3.74zM218.1,551.64h2.43v0.86h-2.43zM218.1,552.5h3.99v0.86h-3.99zM218.1,553.36h2.67v0.86h-2.67zM218.1,554.22h2.49v0.86h-2.49zM218.1,555.08h3.45v0.86h-3.45zM218.1,555.94h2.58v0.86h-2.58zM218.1,556.8h4.96v0.86h-4.96zM218.1,557.66h1.91v0.86h-1.91zM218.1,558.52h4.11v0.86h-4.11zM218.1,559.38h4.43v0.86h-4.43zM218.1,560.24h1.57v0.86h-1.57zM218.1,561.96h1.85v0.86h-1.85zM218.1,562.82h3.99v0.86h-3.99zM218.1,563.68h3.13v0.86h-3.13zM218.1,564.54h4.02v0.86h-4.02zM218.1,565.4h4.57v0.86h-4.57zM218.1,566.26h3.01v0.86h-3.01zM218.1,567.12h2.16v0.86h-2.16zM218.1,567.98h0.64v0.86h-0.64zM218.1,568.84h3.06v0.86h-3.06zM218.1,569.7h1.88v0.86h-1.88zM218.1,572.28h2.97v0.86h-2.97zM218.1,573.14h2.94v0.86h-2.94zM218.1,574h1.44v0.86h-1.44zM218.1,574.86h4.36v0.86h-4.36zM218.1,575.72h3.93v0.86h-3.93zM218.1,576.58h3.97v0.86h-3.97zM218.1,577.44h2.07v0.86h-2.07zM218.1,578.3h3.07v0.86h-3.07zM218.1,579.16h3.1v0.86h-3.1zM218.1,580.02h3.12v0.86h-3.12zM218.1,580.88h2.5v0.86h-2.5zM218.1,581.74h3.85v0.86h-3.85zM218.1,582.6h3.48v0.86h-3.48zM218.1,583.46h3.49v0.86h-3.49zM218.1,584.32h2.75v0.86h-2.75zM218.1,585.18h4.33v0.86h-4.33zM218.1,586.04h3.22v0.86h-3.22zM218.1,586.9h0.64v0.86h-0.64zM218.1,587.76h2.6v0.86h-2.6zM218.1,588.62h3.35v0.86h-3.35zM218.1,589.48h4.52v0.86h-4.52zM218.1,590.34h3.27v0.86h-3.27z" fill="#0000fa"/>
<line x1="218.1" y1="513.6" x2="218.1" y2="591.4" stroke="#161616" stroke-width="0.95" />
<path d="M254.3,537.2h8.5v0.86h-8.5zM254.6,538.06h8.2v0.86h-8.2zM254.66,538.92h8.14v0.86h-8.14zM254.92,539.78h7.88v0.86h-7.88zM253.19,540.64h9.61v0.86h-9.61zM253.7,541.5h9.1v0.86h-9.1zM253.33,542.36h9.47v0.86h-9.47zM252.99,543.22h9.81v0.86h-9.81zM254.77,544.08h8.03v0.86h-8.03zM255.4,544.94h7.4v0.86h-7.4zM253.17,545.8h9.63v0.86h-9.63zM253.58,546.66h9.22v0.86h-9.22zM254.43,547.52h8.37v0.86h-8.37zM254.39,548.38h8.41v0.86h-8.41zM250.35,549.24h12.45v0.86h-12.45zM255.42,550.1h7.38v0.86h-7.38zM254.5,550.96h8.3v0.86h-8.3zM253.66,551.82h9.14v0.86h-9.14zM256.31,552.68h6.49v0.86h-6.49zM254.09,553.54h8.71v0.86h-8.71zM251.64,554.4h11.16v0.86h-11.16zM253.09,555.26h9.71v0.86h-9.71zM253.43,556.12h9.37v0.86h-9.37zM253.84,556.98h8.96v0.86h-8.96zM254.04,557.84h8.76v0.86h-8.76zM252.84,558.7h9.96v0.86h-9.96zM254.14,559.56h8.66v0.86h-8.66zM254.69,560.42h8.11v0.86h-8.11zM253.77,561.28h9.03v0.86h-9.03zM252.28,562.14h10.52v0.86h-10.52zM253.1,563h9.7v0.86h-9.7zM251.91,563.86h10.89v0.86h-10.89zM257,564.72h5.8v0.86h-5.8zM251.56,565.58h11.24v0.86h-11.24zM250.25,567.3h12.55v0.86h-12.55zM251.82,568.16h10.98v0.86h-10.98zM254.64,569.02h8.16v0.86h-8.16zM255.83,569.88h6.97v0.86h-6.97zM253.72,570.74h9.08v0.86h-9.08zM256.49,571.6h6.31v0.86h-6.31zM253.37,572.46h9.43v0.86h-9.43zM255.75,573.32h7.05v0.86h-7.05zM253.03,574.18h9.77v0.86h-9.77zM252.45,575.04h10.35v0.86h-10.35zM257.84,575.9h4.96v0.86h-4.96zM254.24,576.76h8.56v0.86h-8.56zM256.07,577.62h6.73v0.86h-6.73zM256.58,578.48h6.22v0.86h-6.22zM255.4,579.34h7.4v0.86h-7.4zM254.58,580.2h8.22v0.86h-8.22zM253.13,581.06h9.67v0.86h-9.67zM257.11,581.92h5.69v0.86h-5.69zM252.85,582.78h9.95v0.86h-9.95zM251.32,583.64h11.48v0.86h-11.48zM253.52,584.5h9.28v0.86h-9.28zM254.29,585.36h8.51v0.86h-8.51zM255.52,586.22h7.28v0.86h-7.28zM257.72,587.08h5.08v0.86h-5.08zM254.74,587.94h8.06v0.86h-8.06zM255.05,588.8h7.75v0.86h-7.75zM254.7,589.66h8.1v0.86h-8.1zM251.61,590.52h11.19v0.86h-11.19z" fill="#f6b37a"/>
<path d="M262.8,518.5h14.89v0.86h-14.89zM262.8,519.36h13.23v0.86h-13.23zM262.8,520.22h12.88v0.86h-12.88zM262.8,521.08h19.46v0.86h-19.46zM262.8,521.94h13.27v0.86h-13.27zM262.8,522.8h10.86v0.86h-10.86zM262.8,523.66h14.81v0.86h-14.81zM262.8,524.52h19.7v0.86h-19.7zM262.8,525.38h14.4v0.86h-14.4zM262.8,526.24h17.54v0.86h-17.54zM262.8,527.1h12.46v0.86h-12.46zM262.8,527.96h11.96v0.86h-11.96zM262.8,528.82h10.98v0.86h-10.98zM262.8,529.68h13.21v0.86h-13.21zM262.8,530.54h18.83v0.86h-18.83zM262.8,531.4h9.98v0.86h-9.98zM262.8,532.26h18.2v0.86h-18.2zM262.8,533.12h11.83v0.86h-11.83zM262.8,533.98h14.45v0.86h-14.45zM262.8,534.84h17.82v0.86h-17.82zM262.8,535.7h17.32v0.86h-17.32zM262.8,536.56h15.61v0.86h-15.61zM262.8,537.2h7.33v0.86h-7.33zM262.8,538.06h8.6v0.86h-8.6zM262.8,538.92h8.36v0.86h-8.36zM262.8,539.78h7.51v0.86h-7.51zM262.8,540.64h8.94v0.86h-8.94zM262.8,541.5h7.9v0.86h-7.9zM262.8,542.36h8.27v0.86h-8.27zM262.8,543.22h8.37v0.86h-8.37zM262.8,544.08h6.67v0.86h-6.67zM262.8,544.94h6.29v0.86h-6.29zM262.8,545.8h6.78v0.86h-6.78zM262.8,546.66h5.88v0.86h-5.88zM262.8,547.52h7.58v0.86h-7.58zM262.8,548.38h8.83v0.86h-8.83zM262.8,549.24h9.11v0.86h-9.11zM262.8,550.1h7.45v0.86h-7.45zM262.8,550.96h6.25v0.86h-6.25zM262.8,551.82h8.65v0.86h-8.65zM262.8,552.68h8.46v0.86h-8.46zM262.8,553.54h10.21v0.86h-10.21zM262.8,554.4h7.94v0.86h-7.94zM262.8,555.26h8.21v0.86h-8.21zM262.8,556.12h9.5v0.86h-9.5zM262.8,556.98h7.61v0.86h-7.61zM262.8,557.84h8.41v0.86h-8.41zM262.8,558.7h10.83v0.86h-10.83zM262.8,559.56h10.56v0.86h-10.56zM262.8,560.42h9.08v0.86h-9.08zM262.8,561.28h8.2v0.86h-8.2zM262.8,562.14h5.93v0.86h-5.93zM262.8,563h8.59v0.86h-8.59zM262.8,563.86h7.75v0.86h-7.75zM262.8,564.72h7.64v0.86h-7.64zM262.8,565.58h6.76v0.86h-6.76zM262.8,567.3h7.32v0.86h-7.32zM262.8,568.16h7.31v0.86h-7.31zM262.8,569.02h8.19v0.86h-8.19zM262.8,569.88h10.16v0.86h-10.16zM262.8,570.74h7.75v0.86h-7.75zM262.8,571.6h4.38v0.86h-4.38zM262.8,572.46h5.75v0.86h-5.75zM262.8,573.32h4.85v0.86h-4.85zM262.8,574.18h6.62v0.86h-6.62zM262.8,575.04h8.46v0.86h-8.46zM262.8,575.9h8.21v0.86h-8.21zM262.8,576.76h6.43v0.86h-6.43zM262.8,577.62h8.26v0.86h-8.26zM262.8,578.48h6.8v0.86h-6.8zM262.8,579.34h5.79v0.86h-5.79zM262.8,580.2h5.62v0.86h-5.62zM262.8,581.06h6.27v0.86h-6.27zM262.8,581.92h9.9v0.86h-9.9zM262.8,582.78h5.12v0.86h-5.12zM262.8,583.64h9.46v0.86h-9.46zM262.8,584.5h9.54v0.86h-9.54zM262.8,585.36h6.71v0.86h-6.71zM262.8,586.22h6.59v0.86h-6.59zM262.8,587.08h5.83v0.86h-5.83zM262.8,587.94h7.06v0.86h-7.06zM262.8,588.8h8.62v0.86h-8.62zM262.8,589.66h8.07v0.86h-8.07zM262.8,590.52h9.12v0.86h-9.12z" fill="#97b5f0"/>
<path d="M262.8,518.5h9.92v0.86h-9.92zM262.8,519.36h5.02v0.86h-5.02zM262.8,520.22h9.43v0.86h-9.43zM262.8,521.08h4.58v0.86h-4.58zM262.8,521.94h4.95v0.86h-4.95zM262.8,522.8h3.16v0.86h-3.16zM262.8,523.66h10.68v0.86h-10.68zM262.8,524.52h7.05v0.86h-7.05zM262.8,525.38h7.31v0.86h-7.31zM262.8,526.24h5.59v0.86h-5.59zM262.8,527.1h9.23v0.86h-9.23zM262.8,527.96h3.36v0.86h-3.36zM262.8,528.82h7.69v0.86h-7.69zM262.8,529.68h11.78v0.86h-11.78zM262.8,530.54h7.48v0.86h-7.48zM262.8,531.4h8.34v0.86h-8.34zM262.8,532.26h9.3v0.86h-9.3zM262.8,533.12h5.94v0.86h-5.94zM262.8,533.98h7.72v0.86h-7.72zM262.8,534.84h9.44v0.86h-9.44zM262.8,535.7h8.23v0.86h-8.23zM262.8,536.56h8.31v0.86h-8.31z" fill="#fa0000"/>
<path d="M262.8,518.5h4.05v0.86h-4.05zM262.8,519.36h3.96v0.86h-3.96zM262.8,520.22h2.43v0.86h-2.43zM262.8,521.08h3.02v0.86h-3.02zM262.8,521.94h4.95v0.86h-4.95zM262.8,522.8h2.04v0.86h-2.04zM262.8,523.66h2.98v0.86h-2.98zM262.8,524.52h4.56v0.86h-4.56zM262.8,525.38h3.16v0.86h-3.16zM262.8,526.24h2.47v0.86h-2.47zM262.8,527.1h1.88v0.86h-1.88zM262.8,527.96h3.36v0.86h-3.36zM262.8,528.82h4.13v0.86h-4.13zM262.8,529.68h4.65v0.86h-4.65zM262.8,530.54h3.24v0.86h-3.24zM262.8,531.4h4.43v0.86h-4.43zM262.8,532.26h2.32v0.86h-2.32zM262.8,533.12h3.75v0.86h-3.75zM262.8,533.98h2.87v0.86h-2.87zM262.8,534.84h3.95v0.86h-3.95zM262.8,535.7h4.63v0.86h-4.63zM262.8,536.56h4.91v0.86h-4.91zM260.31,537.2h2.49v0.86h-2.49zM261.08,538.06h1.72v0.86h-1.72zM261.23,538.92h1.57v0.86h-1.57zM258.15,539.78h4.65v0.86h-4.65zM262.12,540.64h0.68v0.86h-0.68zM260.25,541.5h2.55v0.86h-2.55zM258.85,542.36h3.95v0.86h-3.95zM259.6,543.22h3.2v0.86h-3.2zM260.51,544.08h2.29v0.86h-2.29zM259.74,544.94h3.06v0.86h-3.06zM258.67,545.8h4.13v0.86h-4.13zM258.32,546.66h4.48v0.86h-4.48zM260.52,547.52h2.28v0.86h-2.28zM259.14,548.38h3.66v0.86h-3.66zM259.54,549.24h3.26v0.86h-3.26zM258.73,550.1h4.07v0.86h-4.07zM258.63,550.96h4.17v0.86h-4.17zM260.31,551.82h2.49v0.86h-2.49zM261.52,552.68h1.28v0.86h-1.28zM259.6,553.54h3.2v0.86h-3.2zM258.2,554.4h4.6v0.86h-4.6zM259.02,555.26h3.78v0.86h-3.78zM259.42,556.12h3.38v0.86h-3.38zM257.56,556.98h5.24v0.86h-5.24zM260.75,557.84h2.05v0.86h-2.05zM258.79,558.7h4.01v0.86h-4.01zM260.19,559.56h2.61v0.86h-2.61zM259.6,560.42h3.2v0.86h-3.2zM259.36,561.28h3.44v0.86h-3.44zM258.14,562.14h4.66v0.86h-4.66zM260.4,563h2.4v0.86h-2.4zM259.77,563.86h3.03v0.86h-3.03zM260.79,564.72h2.01v0.86h-2.01zM258.9,565.58h3.9v0.86h-3.9zM259.81,567.3h2.99v0.86h-2.99zM258.96,568.16h3.84v0.86h-3.84zM260.51,569.02h2.29v0.86h-2.29zM259.79,569.88h3.01v0.86h-3.01zM258.46,570.74h4.34v0.86h-4.34zM259.62,571.6h3.18v0.86h-3.18zM258.72,572.46h4.08v0.86h-4.08zM258.87,573.32h3.93v0.86h-3.93zM259.6,574.18h3.2v0.86h-3.2zM260.78,575.04h2.02v0.86h-2.02zM258.34,575.9h4.46v0.86h-4.46zM259.12,576.76h3.68v0.86h-3.68zM258.41,577.62h4.39v0.86h-4.39zM261.43,578.48h1.37v0.86h-1.37zM261.34,579.34h1.46v0.86h-1.46zM261.67,580.2h1.13v0.86h-1.13zM260.52,581.06h2.28v0.86h-2.28zM258.66,581.92h4.14v0.86h-4.14zM259.28,582.78h3.52v0.86h-3.52zM259.87,583.64h2.93v0.86h-2.93zM259.75,584.5h3.05v0.86h-3.05zM259.21,585.36h3.59v0.86h-3.59zM259.99,586.22h2.81v0.86h-2.81zM259.36,587.08h3.44v0.86h-3.44zM259.51,587.94h3.29v0.86h-3.29zM261.88,588.8h0.92v0.86h-0.92zM260.05,589.66h2.75v0.86h-2.75zM258.51,590.52h4.29v0.86h-4.29z" fill="#0000fa"/>
<path d="M262.8,537.2h4.6v0.86h-4.6zM262.8,538.06h4.74v0.86h-4.74zM262.8,538.92h4.93v0.86h-4.93zM262.8,539.78h4.23v0.86h-4.23zM262.8,540.64h6.33v0.86h-6.33zM262.8,541.5h5.75v0.86h-5.75zM262.8,542.36h4.25v0.86h-4.25zM262.8,543.22h3.33v0.86h-3.33zM262.8,544.08h6.51v0.86h-6.51zM262.8,544.94h3.39v0.86h-3.39zM262.8,545.8h5.31v0.86h-5.31zM262.8,546.66h5.88v0.86h-5.88zM262.8,547.52h2.7v0.86h-2.7zM262.8,548.38h4.47v0.86h-4.47zM262.8,549.24h3.89v0.86h-3.89zM262.8,550.1h4.78v0.86h-4.78zM262.8,550.96h4.85v0.86h-4.85zM262.8,551.82h6.51v0.86h-6.51zM262.8,552.68h5.01v0.86h-5.01zM262.8,553.54h4.25v0.86h-4.25zM262.8,554.4h5.74v0.86h-5.74zM262.8,555.26h3.86v0.86h-3.86zM262.8,556.12h3.77v0.86h-3.77zM262.8,556.98h6.51v0.86h-6.51zM262.8,557.84h3.1v0.86h-3.1zM262.8,558.7h3.34v0.86h-3.34zM262.8,559.56h4.23v0.86h-4.23zM262.8,560.42h3.15v0.86h-3.15zM262.8,561.28h1.79v0.86h-1.79zM262.8,562.14h5.3v0.86h-5.3zM262.8,563h2.97v0.86h-2.97zM262.8,563.86h3.33v0.86h-3.33zM262.8,564.72h3.44v0.86h-3.44zM262.8,565.58h2.94v0.86h-2.94zM262.8,567.3h2.71v0.86h-2.71zM262.8,568.16h4.31v0.86h-4.31zM262.8,569.02h6.51v0.86h-6.51zM262.8,569.88h5.47v0.86h-5.47zM262.8,570.74h5.35v0.86h-5.35zM262.8,571.6h2.52v0.86h-2.52zM262.8,572.46h4.28v0.86h-4.28zM262.8,573.32h2.61v0.86h-2.61zM262.8,574.18h4.77v0.86h-4.77zM262.8,575.04h3.6v0.86h-3.6zM262.8,575.9h3.93v0.86h-3.93zM262.8,576.76h3.49v0.86h-3.49zM262.8,577.62h2.98v0.86h-2.98zM262.8,578.48h1.71v0.86h-1.71zM262.8,579.34h4.2v0.86h-4.2zM262.8,580.2h2.25v0.86h-2.25zM262.8,581.06h2.66v0.86h-2.66zM262.8,581.92h3.49v0.86h-3.49zM262.8,582.78h3.09v0.86h-3.09zM262.8,583.64h4.54v0.86h-4.54zM262.8,584.5h5.33v0.86h-5.33zM262.8,585.36h4.75v0.86h-4.75zM262.8,586.22h4.54v0.86h-4.54zM262.8,587.08h4.05v0.86h-4.05zM262.8,587.94h5.02v0.86h-5.02zM262.8,588.8h1.94v0.86h-1.94zM262.8,589.66h4.46v0.86h-4.46zM262.8,590.52h2.65v0.86h-2.65z" fill="#fa0000"/>
<line x1="262.8" y1="518.3" x2="262.8" y2="591.4" stroke="#161616" stroke-width="0.95" />
<path d="M298.82,523h8.78v0.86h-8.78zM297.54,523.86h10.06v0.86h-10.06zM300.5,524.72h7.1v0.86h-7.1zM302.87,525.58h4.73v0.86h-4.73zM297.84,526.44h9.76v0.86h-9.76zM298.68,527.3h8.92v0.86h-8.92zM298.34,528.16h9.26v0.86h-9.26zM299.31,529.02h8.29v0.86h-8.29zM296.23,529.88h11.37v0.86h-11.37zM299.5,530.74h8.1v0.86h-8.1zM299.25,531.6h8.35v0.86h-8.35zM302.69,532.46h4.91v0.86h-4.91zM300.7,533.32h6.9v0.86h-6.9zM299.91,534.18h7.69v0.86h-7.69zM298.91,535.04h8.69v0.86h-8.69zM298.43,535.9h9.17v0.86h-9.17zM300.29,536.76h7.31v0.86h-7.31zM296.29,537.62h11.31v0.86h-11.31zM300.75,538.48h6.85v0.86h-6.85zM299.95,539.34h7.65v0.86h-7.65zM299.04,540.2h8.56v0.86h-8.56zM302.48,541.06h5.12v0.86h-5.12zM299.48,541.92h8.12v0.86h-8.12zM299.17,542.78h8.43v0.86h-8.43zM300.51,543.64h7.09v0.86h-7.09zM297.44,544.5h10.16v0.86h-10.16zM300.2,545.36h7.4v0.86h-7.4zM300.02,546.22h7.58v0.86h-7.58zM301.92,547.08h5.68v0.86h-5.68zM302.64,547.94h4.96v0.86h-4.96zM301.28,548.8h6.32v0.86h-6.32zM300.97,549.66h6.63v0.86h-6.63zM301.18,550.52h6.42v0.86h-6.42zM299.09,551.38h8.51v0.86h-8.51zM304.01,552.24h3.59v0.86h-3.59zM301.77,553.1h5.83v0.86h-5.83zM302.62,553.96h4.98v0.86h-4.98zM297.56,554.82h10.04v0.86h-10.04zM300.69,555.68h6.91v0.86h-6.91zM300.74,556.54h6.86v0.86h-6.86zM301.24,557.4h6.36v0.86h-6.36zM297.83,558.26h9.77v0.86h-9.77zM299.87,559.12h7.73v0.86h-7.73zM298.98,559.98h8.62v0.86h-8.62zM302.74,560.84h4.86v0.86h-4.86zM297.79,561.7h9.81v0.86h-9.81zM299.08,562.56h8.52v0.86h-8.52zM298.62,563.42h8.98v0.86h-8.98zM297.92,564.28h9.68v0.86h-9.68zM300.01,567.72h7.59v0.86h-7.59zM299.56,568.58h8.04v0.86h-8.04zM298.12,569.44h9.48v0.86h-9.48zM298.7,570.3h8.9v0.86h-8.9zM299.77,571.16h7.83v0.86h-7.83zM299,572.02h8.6v0.86h-8.6zM300.22,572.88h7.38v0.86h-7.38zM298.22,573.74h9.38v0.86h-9.38zM298.67,574.6h8.93v0.86h-8.93zM300.36,575.46h7.24v0.86h-7.24zM297.71,576.32h9.89v0.86h-9.89zM303.22,577.18h4.38v0.86h-4.38zM301.57,578.04h6.03v0.86h-6.03zM298.9,578.9h8.7v0.86h-8.7zM301.87,579.76h5.73v0.86h-5.73zM303.57,580.62h4.03v0.86h-4.03zM298.69,581.48h8.91v0.86h-8.91zM300.09,582.34h7.51v0.86h-7.51zM302.34,583.2h5.26v0.86h-5.26zM299.43,584.06h8.17v0.86h-8.17zM302.49,584.92h5.11v0.86h-5.11zM302.61,585.78h4.99v0.86h-4.99zM300.74,586.64h6.86v0.86h-6.86zM301.21,587.5h6.39v0.86h-6.39zM302.17,588.36h5.43v0.86h-5.43zM301.06,589.22h6.54v0.86h-6.54zM302.33,590.08h5.27v0.86h-5.27zM300.13,590.94h7.47v0.86h-7.47z" fill="#f6b37a"/>
<path d="M307.6,523h6.84v0.86h-6.84zM307.6,523.86h9.51v0.86h-9.51zM307.6,524.72h8.86v0.86h-8.86zM307.6,525.58h7.56v0.86h-7.56zM307.6,526.44h7.29v0.86h-7.29zM307.6,527.3h8.62v0.86h-8.62zM307.6,528.16h9.17v0.86h-9.17zM307.6,529.02h9.01v0.86h-9.01zM307.6,529.88h7.7v0.86h-7.7zM307.6,530.74h8.69v0.86h-8.69zM307.6,531.6h9.38v0.86h-9.38zM307.6,532.46h9.14v0.86h-9.14zM307.6,533.32h3.43v0.86h-3.43zM307.6,534.18h6.86v0.86h-6.86zM307.6,535.04h7.11v0.86h-7.11zM307.6,535.9h8.01v0.86h-8.01zM307.6,536.76h8.51v0.86h-8.51zM307.6,537.62h9.23v0.86h-9.23zM307.6,538.48h8.78v0.86h-8.78zM307.6,539.34h7.61v0.86h-7.61zM307.6,540.2h7.56v0.86h-7.56zM307.6,541.06h10.16v0.86h-10.16zM307.6,541.92h6.27v0.86h-6.27zM307.6,542.78h7.86v0.86h-7.86zM307.6,543.64h9.49v0.86h-9.49zM307.6,544.5h7.93v0.86h-7.93zM307.6,545.36h4.61v0.86h-4.61zM307.6,546.22h8.26v0.86h-8.26zM307.6,547.08h6.94v0.86h-6.94zM307.6,547.94h7.47v0.86h-7.47zM307.6,548.8h9.56v0.86h-9.56zM307.6,549.66h8.47v0.86h-8.47zM307.6,550.52h7.74v0.86h-7.74zM307.6,551.38h9.53v0.86h-9.53zM307.6,552.24h8.61v0.86h-8.61zM307.6,553.1h7.98v0.86h-7.98zM307.6,553.96h8.5v0.86h-8.5zM307.6,554.82h8.35v0.86h-8.35zM307.6,555.68h7.25v0.86h-7.25zM307.6,556.54h7.24v0.86h-7.24zM307.6,557.4h7.83v0.86h-7.83zM307.6,558.26h6.16v0.86h-6.16zM307.6,559.12h5.62v0.86h-5.62zM307.6,559.98h9.63v0.86h-9.63zM307.6,560.84h7.07v0.86h-7.07zM307.6,561.7h7.29v0.86h-7.29zM307.6,562.56h6.94v0.86h-6.94zM307.6,563.42h7.03v0.86h-7.03zM307.6,564.28h6.89v0.86h-6.89zM307.6,567.72h6.96v0.86h-6.96zM307.6,568.58h5.45v0.86h-5.45zM307.6,569.44h8.14v0.86h-8.14zM307.6,570.3h6.08v0.86h-6.08zM307.6,571.16h8.51v0.86h-8.51zM307.6,572.02h4.21v0.86h-4.21zM307.6,572.88h5.32v0.86h-5.32zM307.6,573.74h8.84v0.86h-8.84zM307.6,574.6h7.07v0.86h-7.07zM307.6,575.46h6.38v0.86h-6.38zM307.6,576.32h7.84v0.86h-7.84zM307.6,577.18h5.59v0.86h-5.59zM307.6,578.04h7.62v0.86h-7.62zM307.6,578.9h4.47v0.86h-4.47zM307.6,579.76h7.42v0.86h-7.42zM307.6,580.62h6.94v0.86h-6.94zM307.6,581.48h9.07v0.86h-9.07zM307.6,582.34h9.46v0.86h-9.46zM307.6,583.2h7.17v0.86h-7.17zM307.6,584.06h11.09v0.86h-11.09zM307.6,584.92h7.97v0.86h-7.97zM307.6,585.78h5.25v0.86h-5.25zM307.6,586.64h4.88v0.86h-4.88zM307.6,587.5h10.73v0.86h-10.73zM307.6,588.36h7.92v0.86h-7.92zM307.6,589.22h7.75v0.86h-7.75zM307.6,590.08h7.37v0.86h-7.37zM307.6,590.94h6.65v0.86h-6.65z" fill="#97b5f0"/>
<path d="M307.6,523h3.94v0.86h-3.94zM307.6,523.86h4.49v0.86h-4.49zM307.6,524.72h4.21v0.86h-4.21zM307.6,525.58h5.14v0.86h-5.14zM307.6,526.44h5.38v0.86h-5.38zM307.6,527.3h2.66v0.86h-2.66zM307.6,528.16h3.41v0.86h-3.41zM307.6,529.02h2.99v0.86h-2.99zM307.6,529.88h4.19v0.86h-4.19zM307.6,530.74h5.17v0.86h-5.17zM307.6,531.6h4.21v0.86h-4.21zM307.6,532.46h2.19v0.86h-2.19zM307.6,533.32h2.9v0.86h-2.9zM307.6,534.18h4.09v0.86h-4.09zM307.6,535.04h2.52v0.86h-2.52zM307.6,535.9h2.76v0.86h-2.76zM307.6,536.76h3.1v0.86h-3.1zM307.6,537.62h1.17v0.86h-1.17zM307.6,538.48h3.78v0.86h-3.78zM307.6,539.34h3.4v0.86h-3.4zM307.6,540.2h3.77v0.86h-3.77zM307.6,541.06h2.26v0.86h-2.26zM307.6,541.92h2.5v0.86h-2.5zM307.6,542.78h2.9v0.86h-2.9zM307.6,543.64h3.83v0.86h-3.83zM307.6,544.5h3.66v0.86h-3.66zM307.6,545.36h3.82v0.86h-3.82zM307.6,546.22h5.58v0.86h-5.58zM307.6,547.08h5.43v0.86h-5.43zM307.6,547.94h3.38v0.86h-3.38zM307.6,548.8h3.5v0.86h-3.5zM307.6,549.66h5.58v0.86h-5.58zM307.6,550.52h3.71v0.86h-3.71zM307.6,551.38h5.39v0.86h-5.39zM307.6,552.24h5.58v0.86h-5.58zM307.6,553.1h3.22v0.86h-3.22zM307.6,553.96h3.3v0.86h-3.3zM307.6,554.82h3.53v0.86h-3.53zM307.6,555.68h2.54v0.86h-2.54zM307.6,556.54h2.11v0.86h-2.11zM307.6,557.4h2.99v0.86h-2.99zM307.6,558.26h4.37v0.86h-4.37zM307.6,559.12h3.17v0.86h-3.17zM307.6,559.98h3.52v0.86h-3.52zM307.6,560.84h3.38v0.86h-3.38zM307.6,561.7h2.75v0.86h-2.75zM307.6,562.56h5.58v0.86h-5.58zM307.6,563.42h2.21v0.86h-2.21zM307.6,564.28h3.59v0.86h-3.59zM307.6,567.72h4.71v0.86h-4.71zM307.6,568.58h2.56v0.86h-2.56zM307.6,569.44h4.43v0.86h-4.43zM307.6,570.3h4.88v0.86h-4.88zM307.6,571.16h2.66v0.86h-2.66zM307.6,572.02h3.74v0.86h-3.74zM307.6,572.88h2.19v0.86h-2.19zM307.6,573.74h4.08v0.86h-4.08zM307.6,574.6h3.76v0.86h-3.76zM307.6,575.46h3.9v0.86h-3.9zM307.6,576.32h5.13v0.86h-5.13zM307.6,577.18h4.34v0.86h-4.34zM307.6,578.04h5.27v0.86h-5.27zM307.6,578.9h4.41v0.86h-4.41zM307.6,579.76h2.59v0.86h-2.59zM307.6,580.62h3.92v0.86h-3.92zM307.6,581.48h3.8v0.86h-3.8zM307.6,582.34h1.91v0.86h-1.91zM307.6,583.2h4.87v0.86h-4.87zM307.6,584.06h3.63v0.86h-3.63zM307.6,584.92h3.91v0.86h-3.91zM307.6,585.78h2.72v0.86h-2.72zM307.6,586.64h3.88v0.86h-3.88zM307.6,587.5h4.09v0.86h-4.09zM307.6,588.36h3.58v0.86h-3.58zM307.6,589.22h3.95v0.86h-3.95zM307.6,590.08h1.61v0.86h-1.61zM307.6,590.94h5.22v0.86h-5.22z" fill="#0000fa"/>
<path d="M303.92,523h3.68v0.86h-3.68zM304.89,523.86h2.71v0.86h-2.71zM304.54,524.72h3.06v0.86h-3.06zM302.87,525.58h4.73v0.86h-4.73zM303.08,526.44h4.52v0.86h-4.52zM305.05,527.3h2.55v0.86h-2.55zM304.82,528.16h2.78v0.86h-2.78zM304.11,529.02h3.49v0.86h-3.49zM302.87,529.88h4.73v0.86h-4.73zM305.01,530.74h2.59v0.86h-2.59zM303.87,531.6h3.73v0.86h-3.73zM306.24,532.46h1.36v0.86h-1.36zM304.84,533.32h2.76v0.86h-2.76zM302.85,534.18h4.75v0.86h-4.75zM302.46,535.04h5.14v0.86h-5.14zM304.76,535.9h2.84v0.86h-2.84zM304.61,536.76h2.99v0.86h-2.99zM302.75,537.62h4.85v0.86h-4.85zM304.28,538.48h3.32v0.86h-3.32zM304.42,539.34h3.18v0.86h-3.18zM303.17,540.2h4.43v0.86h-4.43zM303.53,541.06h4.07v0.86h-4.07zM302.36,541.92h5.24v0.86h-5.24zM302.65,542.78h4.95v0.86h-4.95zM304,543.64h3.6v0.86h-3.6zM303.38,544.5h4.22v0.86h-4.22zM303.48,545.36h4.12v0.86h-4.12zM305.06,546.22h2.54v0.86h-2.54zM304.62,547.08h2.98v0.86h-2.98zM302.64,547.94h4.96v0.86h-4.96zM305.21,548.8h2.39v0.86h-2.39zM302.49,549.66h5.11v0.86h-5.11zM303.23,550.52h4.37v0.86h-4.37zM303.91,551.38h3.69v0.86h-3.69zM304.01,552.24h3.59v0.86h-3.59zM303.03,553.1h4.57v0.86h-4.57zM302.62,553.96h4.98v0.86h-4.98zM304.29,554.82h3.31v0.86h-3.31zM304.16,555.68h3.44v0.86h-3.44zM304.2,556.54h3.4v0.86h-3.4zM301.55,557.4h6.05v0.86h-6.05zM302.38,558.26h5.22v0.86h-5.22zM304.4,559.12h3.2v0.86h-3.2zM303.67,559.98h3.93v0.86h-3.93zM303.9,560.84h3.7v0.86h-3.7zM302.98,561.7h4.62v0.86h-4.62zM302.52,562.56h5.08v0.86h-5.08zM301.09,563.42h6.51v0.86h-6.51zM304.8,564.28h2.8v0.86h-2.8zM301.48,567.72h6.12v0.86h-6.12zM302.33,568.58h5.27v0.86h-5.27zM304.08,569.44h3.52v0.86h-3.52zM303.7,570.3h3.9v0.86h-3.9zM304.2,571.16h3.4v0.86h-3.4zM303.62,572.02h3.98v0.86h-3.98zM302.83,572.88h4.77v0.86h-4.77zM305.65,573.74h1.95v0.86h-1.95zM302.19,574.6h5.41v0.86h-5.41zM304.22,575.46h3.38v0.86h-3.38zM301.44,576.32h6.16v0.86h-6.16zM303.22,577.18h4.38v0.86h-4.38zM301.57,578.04h6.03v0.86h-6.03zM302.31,578.9h5.29v0.86h-5.29zM301.87,579.76h5.73v0.86h-5.73zM303.57,580.62h4.03v0.86h-4.03zM304.06,581.48h3.54v0.86h-3.54zM302.23,582.34h5.37v0.86h-5.37zM302.41,583.2h5.19v0.86h-5.19zM301.09,584.06h6.51v0.86h-6.51zM305.65,584.92h1.95v0.86h-1.95zM303.26,585.78h4.34v0.86h-4.34zM301.88,586.64h5.72v0.86h-5.72zM304.68,587.5h2.92v0.86h-2.92zM303.45,588.36h4.15v0.86h-4.15zM301.09,589.22h6.51v0.86h-6.51zM302.33,590.08h5.27v0.86h-5.27zM303.9,590.94h3.7v0.86h-3.7z" fill="#fa0000"/>
<line x1="307.6" y1="522.8" x2="307.6" y2="591.4" stroke="#161616" stroke-width="0.95" />
<path d="M345.39,529.2h7.11v0.86h-7.11zM347.15,530.06h5.35v0.86h-5.35zM347.02,530.92h5.48v0.86h-5.48zM346.2,531.78h6.3v0.86h-6.3zM343.87,532.64h8.63v0.86h-8.63zM345.18,533.5h7.32v0.86h-7.32zM345.64,534.36h6.86v0.86h-6.86zM346.55,535.22h5.95v0.86h-5.95zM344.22,536.08h8.28v0.86h-8.28zM344.95,536.94h7.55v0.86h-7.55zM344.76,537.8h7.74v0.86h-7.74zM344.49,538.66h8.01v0.86h-8.01zM341.98,539.52h10.52v0.86h-10.52zM344.74,540.38h7.76v0.86h-7.76zM342.3,541.24h10.2v0.86h-10.2zM342.85,542.1h9.65v0.86h-9.65zM344.58,542.96h7.92v0.86h-7.92zM343.49,543.82h9.01v0.86h-9.01zM345.28,544.68h7.22v0.86h-7.22zM345.98,545.54h6.52v0.86h-6.52zM345.02,546.4h7.48v0.86h-7.48zM346.15,547.26h6.35v0.86h-6.35zM343.82,548.12h8.68v0.86h-8.68zM344.12,548.98h8.38v0.86h-8.38zM343.56,549.84h8.94v0.86h-8.94zM343.03,550.7h9.47v0.86h-9.47zM348.8,551.56h3.7v0.86h-3.7zM343.91,552.42h8.59v0.86h-8.59zM347.13,553.28h5.37v0.86h-5.37zM344.14,554.14h8.36v0.86h-8.36zM345.57,555h6.93v0.86h-6.93zM344.34,555.86h8.16v0.86h-8.16zM342.3,556.72h10.2v0.86h-10.2zM346.84,557.58h5.66v0.86h-5.66zM344.23,558.44h8.27v0.86h-8.27zM344.74,559.3h7.76v0.86h-7.76zM347.56,560.16h4.94v0.86h-4.94zM344.07,561.02h8.43v0.86h-8.43zM344.98,561.88h7.52v0.86h-7.52zM345.69,562.74h6.81v0.86h-6.81zM345.62,563.6h6.88v0.86h-6.88zM341.04,564.46h11.46v0.86h-11.46zM343.63,564.8h8.87v0.86h-8.87zM342.89,565.66h9.61v0.86h-9.61zM342.15,566.52h10.35v0.86h-10.35zM344.2,567.38h8.3v0.86h-8.3zM336.62,568.24h15.88v0.86h-15.88zM344.2,569.1h8.3v0.86h-8.3zM343.2,569.96h9.3v0.86h-9.3zM342.1,570.82h10.4v0.86h-10.4zM341.37,572.54h11.13v0.86h-11.13zM339.12,573.4h13.38v0.86h-13.38zM338.45,574.26h14.05v0.86h-14.05zM341.11,575.12h11.39v0.86h-11.39zM341.4,575.98h11.1v0.86h-11.1zM340.4,576.84h12.1v0.86h-12.1zM337.72,577.7h14.78v0.86h-14.78zM338.32,578.56h14.18v0.86h-14.18zM340.99,579.42h11.51v0.86h-11.51zM345.41,580.28h7.09v0.86h-7.09zM334.3,581.14h18.2v0.86h-18.2zM337.36,582h15.14v0.86h-15.14zM338.63,582.86h13.87v0.86h-13.87zM337.61,583.72h14.89v0.86h-14.89zM339.48,584.58h13.02v0.86h-13.02zM340.88,588.4h11.62v0.86h-11.62zM339.77,589.26h12.73v0.86h-12.73zM343.15,590.12h9.35v0.86h-9.35zM339.88,590.98h12.62v0.86h-12.62z" fill="#f6b37a"/>
<path d="M352.5,529.2h10.06v0.86h-10.06zM352.5,530.06h7.12v0.86h-7.12zM352.5,530.92h7.07v0.86h-7.07zM352.5,531.78h5.53v0.86h-5.53zM352.5,532.64h8.95v0.86h-8.95zM352.5,533.5h7.84v0.86h-7.84zM352.5,534.36h6.67v0.86h-6.67zM352.5,535.22h8.66v0.86h-8.66zM352.5,536.08h8.4v0.86h-8.4zM352.5,536.94h4.4v0.86h-4.4zM352.5,537.8h8.63v0.86h-8.63zM352.5,538.66h7.62v0.86h-7.62zM352.5,539.52h6.66v0.86h-6.66zM352.5,540.38h6.34v0.86h-6.34zM352.5,541.24h9.8v0.86h-9.8zM352.5,542.1h9.48v0.86h-9.48zM352.5,542.96h10.27v0.86h-10.27zM352.5,543.82h5.52v0.86h-5.52zM352.5,544.68h6.38v0.86h-6.38zM352.5,545.54h8.87v0.86h-8.87zM352.5,546.4h5.57v0.86h-5.57zM352.5,547.26h6.75v0.86h-6.75zM352.5,548.12h5.03v0.86h-5.03zM352.5,548.98h10.57v0.86h-10.57zM352.5,549.84h9.67v0.86h-9.67zM352.5,550.7h8.51v0.86h-8.51zM352.5,551.56h7.91v0.86h-7.91zM352.5,552.42h7.13v0.86h-7.13zM352.5,553.28h6.7v0.86h-6.7zM352.5,554.14h8.49v0.86h-8.49zM352.5,555h5.96v0.86h-5.96zM352.5,555.86h9.15v0.86h-9.15zM352.5,556.72h5.91v0.86h-5.91zM352.5,557.58h5.71v0.86h-5.71zM352.5,558.44h9.41v0.86h-9.41zM352.5,559.3h7v0.86h-7zM352.5,560.16h8.35v0.86h-8.35zM352.5,561.02h7.12v0.86h-7.12zM352.5,561.88h4.48v0.86h-4.48zM352.5,562.74h8.68v0.86h-8.68zM352.5,563.6h6.08v0.86h-6.08zM352.5,564.46h10.21v0.86h-10.21zM352.5,586.6h14.96v0.86h-14.96zM352.5,587.46h13.58v0.86h-13.58z" fill="#97b5f0"/>
<path d="M344.54,564.8h7.96v0.86h-7.96zM344.44,565.66h8.06v0.86h-8.06zM345.25,566.52h7.25v0.86h-7.25zM345.86,567.38h6.64v0.86h-6.64zM345.41,568.24h7.09v0.86h-7.09zM344.2,569.1h8.3v0.86h-8.3zM345.6,569.96h6.9v0.86h-6.9zM346.27,570.82h6.23v0.86h-6.23zM346.08,572.54h6.42v0.86h-6.42zM345.54,573.4h6.96v0.86h-6.96zM344.54,574.26h7.96v0.86h-7.96zM347.04,575.12h5.46v0.86h-5.46zM349.07,575.98h3.43v0.86h-3.43zM344.77,576.84h7.73v0.86h-7.73zM348.29,577.7h4.21v0.86h-4.21zM344.68,578.56h7.82v0.86h-7.82zM345.08,579.42h7.42v0.86h-7.42zM345.41,580.28h7.09v0.86h-7.09zM342.38,581.14h10.12v0.86h-10.12zM344.68,582h7.82v0.86h-7.82zM346.25,582.86h6.25v0.86h-6.25zM347.57,583.72h4.93v0.86h-4.93zM347,584.58h5.5v0.86h-5.5zM345.77,588.4h6.73v0.86h-6.73zM343.98,589.26h8.52v0.86h-8.52zM344.69,590.12h7.81v0.86h-7.81zM344.87,590.98h7.63v0.86h-7.63z" fill="#0000fa"/>
<path d="M352.5,586.6h8.88v0.86h-8.88zM352.5,587.46h8.34v0.86h-8.34z" fill="#fa0000"/>
<path d="M352.5,529.2h6.18v0.86h-6.18zM352.5,530.06h3.29v0.86h-3.29zM352.5,530.92h5.52v0.86h-5.52zM352.5,531.78h5.45v0.86h-5.45zM352.5,532.64h4v0.86h-4zM352.5,533.5h4.32v0.86h-4.32zM352.5,534.36h0.8v0.86h-0.8zM352.5,535.22h3.37v0.86h-3.37zM352.5,536.08h6.2v0.86h-6.2zM352.5,536.94h2.2v0.86h-2.2zM352.5,537.8h3.66v0.86h-3.66zM352.5,538.66h4.33v0.86h-4.33zM352.5,539.52h4.57v0.86h-4.57zM352.5,540.38h5.88v0.86h-5.88zM352.5,541.24h2.32v0.86h-2.32zM352.5,542.1h4.32v0.86h-4.32zM352.5,542.96h5.13v0.86h-5.13zM352.5,543.82h2.57v0.86h-2.57zM352.5,544.68h3.94v0.86h-3.94zM352.5,545.54h6.2v0.86h-6.2zM352.5,546.4h5.57v0.86h-5.57zM352.5,547.26h4.7v0.86h-4.7zM352.5,548.12h1.03v0.86h-1.03zM352.5,548.98h3.83v0.86h-3.83zM352.5,549.84h4.3v0.86h-4.3zM352.5,550.7h3.72v0.86h-3.72zM352.5,551.56h3.78v0.86h-3.78zM352.5,552.42h6.2v0.86h-6.2zM352.5,553.28h3.87v0.86h-3.87zM352.5,554.14h2.84v0.86h-2.84zM352.5,555h4.29v0.86h-4.29zM352.5,555.86h3.74v0.86h-3.74zM352.5,556.72h3.8v0.86h-3.8zM352.5,557.58h4.23v0.86h-4.23zM352.5,558.44h5.25v0.86h-5.25zM352.5,559.3h4.52v0.86h-4.52zM352.5,560.16h3.03v0.86h-3.03zM352.5,561.02h4.1v0.86h-4.1zM352.5,561.88h4.48v0.86h-4.48zM352.5,562.74h3.55v0.86h-3.55zM352.5,563.6h5.43v0.86h-5.43zM352.5,564.46h4.66v0.86h-4.66zM352.5,586.6h3.03v0.86h-3.03zM352.5,587.46h2.66v0.86h-2.66z" fill="#0000fa"/>
<path d="M345.77,529.2h6.73v0.86h-6.73zM348.74,530.06h3.76v0.86h-3.76zM347.81,530.92h4.69v0.86h-4.69zM346.2,531.78h6.3v0.86h-6.3zM349.4,532.64h3.1v0.86h-3.1zM346.84,533.5h5.66v0.86h-5.66zM347.56,534.36h4.94v0.86h-4.94zM348.01,535.22h4.49v0.86h-4.49zM349.09,536.08h3.41v0.86h-3.41zM347.23,536.94h5.27v0.86h-5.27zM348.48,537.8h4.02v0.86h-4.02zM346.6,538.66h5.9v0.86h-5.9zM346.45,539.52h6.05v0.86h-6.05zM349.76,540.38h2.74v0.86h-2.74zM348.6,541.24h3.9v0.86h-3.9zM348.56,542.1h3.94v0.86h-3.94zM349.61,542.96h2.89v0.86h-2.89zM349.6,543.82h2.9v0.86h-2.9zM348.03,544.68h4.47v0.86h-4.47zM348.1,545.54h4.4v0.86h-4.4zM350.04,546.4h2.46v0.86h-2.46zM348.99,547.26h3.51v0.86h-3.51zM347.76,548.12h4.74v0.86h-4.74zM349.89,548.98h2.61v0.86h-2.61zM349.37,549.84h3.13v0.86h-3.13zM346.04,550.7h6.46v0.86h-6.46zM348.8,551.56h3.7v0.86h-3.7zM350.1,552.42h2.4v0.86h-2.4zM349.64,553.28h2.86v0.86h-2.86zM347.41,554.14h5.09v0.86h-5.09zM349.36,555h3.14v0.86h-3.14zM348.05,555.86h4.45v0.86h-4.45zM348.35,556.72h4.15v0.86h-4.15zM347,557.58h5.5v0.86h-5.5zM351.23,558.44h1.27v0.86h-1.27zM350.58,559.3h1.92v0.86h-1.92zM349.21,560.16h3.29v0.86h-3.29zM346.24,561.02h6.26v0.86h-6.26zM347.85,561.88h4.65v0.86h-4.65zM350.15,562.74h2.35v0.86h-2.35zM347.51,563.6h4.99v0.86h-4.99zM347.35,564.46h5.15v0.86h-5.15zM349.61,564.8h2.89v0.86h-2.89zM349.52,565.66h2.98v0.86h-2.98zM348.99,566.52h3.51v0.86h-3.51zM347.56,567.38h4.94v0.86h-4.94zM350.74,568.24h1.76v0.86h-1.76zM348.95,569.1h3.55v0.86h-3.55zM351.31,569.96h1.19v0.86h-1.19zM349.88,570.82h2.62v0.86h-2.62zM349.31,572.54h3.19v0.86h-3.19zM351,573.4h1.5v0.86h-1.5zM350.54,574.26h1.96v0.86h-1.96zM348.36,575.12h4.14v0.86h-4.14zM349.07,575.98h3.43v0.86h-3.43zM348.38,576.84h4.12v0.86h-4.12zM349.02,577.7h3.48v0.86h-3.48zM346.92,578.56h5.58v0.86h-5.58zM348.25,579.42h4.25v0.86h-4.25zM348.99,580.28h3.51v0.86h-3.51zM346.92,581.14h5.58v0.86h-5.58zM347.51,582h4.99v0.86h-4.99zM348.62,582.86h3.88v0.86h-3.88zM347.57,583.72h4.93v0.86h-4.93zM348.12,584.58h4.38v0.86h-4.38zM349.33,588.4h3.17v0.86h-3.17zM347.29,589.26h5.21v0.86h-5.21zM348.55,590.12h3.95v0.86h-3.95zM347.78,590.98h4.72v0.86h-4.72z" fill="#fa0000"/>
<line x1="352.5" y1="529" x2="352.5" y2="591.4" stroke="#161616" stroke-width="0.95" />
<path d="M397.4,532.2h13.64v0.86h-13.64zM397.4,533.06h13.92v0.86h-13.92zM397.4,533.92h9.97v0.86h-9.97zM397.4,534.78h12.64v0.86h-12.64zM397.4,535.64h8.43v0.86h-8.43zM397.4,536.5h14.98v0.86h-14.98zM397.4,537.36h9.79v0.86h-9.79zM397.4,538.22h11.52v0.86h-11.52zM397.4,539.08h10.94v0.86h-10.94zM397.4,539.94h10.9v0.86h-10.9zM397.4,540.8h9.82v0.86h-9.82zM397.4,541.66h8.16v0.86h-8.16zM397.4,542.52h17.66v0.86h-17.66zM397.4,543.38h14.27v0.86h-14.27zM397.4,544.24h14.99v0.86h-14.99zM397.4,545.1h18v0.86h-18zM397.4,545.96h12.48v0.86h-12.48zM397.4,546.82h14.64v0.86h-14.64zM397.4,547.68h14.06v0.86h-14.06zM397.4,548.54h17.13v0.86h-17.13zM397.4,549.4h14.29v0.86h-14.29zM397.4,550.26h13.85v0.86h-13.85zM397.4,551.12h11.79v0.86h-11.79zM397.4,551.98h13.62v0.86h-13.62zM397.4,552.84h15.55v0.86h-15.55zM397.4,553.7h7.27v0.86h-7.27zM397.4,554.56h11.98v0.86h-11.98zM397.4,555.42h11.48v0.86h-11.48zM397.4,556.28h12.02v0.86h-12.02zM397.4,557.14h8.41v0.86h-8.41zM397.4,558h15.13v0.86h-15.13zM397.4,558.86h11.71v0.86h-11.71zM397.4,559.72h13v0.86h-13zM397.4,560.58h12.38v0.86h-12.38zM397.4,561.44h9.14v0.86h-9.14zM397.4,562.3h12.33v0.86h-12.33zM397.4,574.4h11.42v0.86h-11.42zM397.4,575.26h11.92v0.86h-11.92zM397.4,576.12h14.15v0.86h-14.15zM397.4,576.98h13.48v0.86h-13.48zM397.4,577.84h11.73v0.86h-11.73zM397.4,578.7h12.24v0.86h-12.24zM397.4,579.56h12.81v0.86h-12.81zM397.4,580.42h12.73v0.86h-12.73zM397.4,581.28h16.21v0.86h-16.21zM397.4,582.14h7.05v0.86h-7.05zM397.4,583h11.73v0.86h-11.73zM397.4,583.86h12.1v0.86h-12.1zM397.4,584.72h13.92v0.86h-13.92zM397.4,585.58h9.13v0.86h-9.13zM397.4,586.44h11.52v0.86h-11.52zM397.4,587.3h13.06v0.86h-13.06zM397.4,588.16h9.96v0.86h-9.96zM397.4,589.02h6.35v0.86h-6.35zM397.4,589.88h10.48v0.86h-10.48zM397.4,590.74h8.93v0.86h-8.93z" fill="#97b5f0"/>
<path d="M397.4,532.2h9.62v0.86h-9.62zM397.4,533.06h9.92v0.86h-9.92zM397.4,533.92h5.19v0.86h-5.19zM397.4,534.78h11.85v0.86h-11.85zM397.4,535.64h8.43v0.86h-8.43zM397.4,536.5h9.12v0.86h-9.12zM397.4,537.36h9.61v0.86h-9.61zM397.4,538.22h10.14v0.86h-10.14zM397.4,539.08h10.94v0.86h-10.94zM397.4,539.94h10.41v0.86h-10.41zM397.4,540.8h8.92v0.86h-8.92zM397.4,541.66h7.72v0.86h-7.72zM397.4,542.52h5.74v0.86h-5.74zM397.4,543.38h7.67v0.86h-7.67zM397.4,544.24h9.34v0.86h-9.34zM397.4,545.1h8.45v0.86h-8.45zM397.4,545.96h8.72v0.86h-8.72zM397.4,546.82h9.81v0.86h-9.81zM397.4,547.68h9.26v0.86h-9.26zM397.4,548.54h8.66v0.86h-8.66zM397.4,549.4h9.14v0.86h-9.14zM397.4,550.26h8.06v0.86h-8.06zM397.4,551.12h7.9v0.86h-7.9zM397.4,551.98h8.91v0.86h-8.91zM397.4,552.84h4.02v0.86h-4.02zM397.4,553.7h7.27v0.86h-7.27zM397.4,554.56h5.75v0.86h-5.75zM397.4,555.42h11.13v0.86h-11.13zM397.4,556.28h9.5v0.86h-9.5zM397.4,557.14h8.41v0.86h-8.41zM397.4,558h8.96v0.86h-8.96zM397.4,558.86h6.48v0.86h-6.48zM397.4,559.72h11.27v0.86h-11.27zM397.4,560.58h9.36v0.86h-9.36zM397.4,561.44h8.65v0.86h-8.65zM397.4,562.3h8.68v0.86h-8.68zM397.4,574.4h6.77v0.86h-6.77zM397.4,575.26h11.62v0.86h-11.62zM397.4,576.12h7.47v0.86h-7.47zM397.4,576.98h6.18v0.86h-6.18zM397.4,577.84h8.8v0.86h-8.8zM397.4,578.7h8.41v0.86h-8.41zM397.4,579.56h3.18v0.86h-3.18zM397.4,580.42h7.31v0.86h-7.31zM397.4,581.28h4.18v0.86h-4.18zM397.4,582.14h4.92v0.86h-4.92zM397.4,583h7.95v0.86h-7.95zM397.4,583.86h5.46v0.86h-5.46zM397.4,584.72h8.28v0.86h-8.28zM397.4,585.58h6.74v0.86h-6.74zM397.4,586.44h11.52v0.86h-11.52zM397.4,587.3h8.44v0.86h-8.44zM397.4,588.16h6.01v0.86h-6.01zM397.4,589.02h6.35v0.86h-6.35zM397.4,589.88h7.24v0.86h-7.24zM397.4,590.74h8.83v0.86h-8.83z" fill="#fa0000"/>
<path d="M397.4,532.2h2.99v0.86h-2.99zM397.4,533.06h3.63v0.86h-3.63zM397.4,533.92h3.12v0.86h-3.12zM397.4,534.78h2.71v0.86h-2.71zM397.4,535.64h3.7v0.86h-3.7zM397.4,536.5h2.54v0.86h-2.54zM397.4,537.36h1.8v0.86h-1.8zM397.4,538.22h2.27v0.86h-2.27zM397.4,539.08h2.82v0.86h-2.82zM397.4,539.94h1.91v0.86h-1.91zM397.4,540.8h4.09v0.86h-4.09zM397.4,541.66h1.94v0.86h-1.94zM397.4,542.52h4.65v0.86h-4.65zM397.4,543.38h3.97v0.86h-3.97zM397.4,544.24h2.23v0.86h-2.23zM397.4,545.1h3.32v0.86h-3.32zM397.4,545.96h4.23v0.86h-4.23zM397.4,546.82h3.11v0.86h-3.11zM397.4,547.68h2.29v0.86h-2.29zM397.4,548.54h3.49v0.86h-3.49zM397.4,549.4h4.65v0.86h-4.65zM397.4,550.26h1.89v0.86h-1.89zM397.4,551.12h3.81v0.86h-3.81zM397.4,551.98h3.4v0.86h-3.4zM397.4,552.84h3.17v0.86h-3.17zM397.4,553.7h2.89v0.86h-2.89zM397.4,554.56h2.96v0.86h-2.96zM397.4,555.42h4.16v0.86h-4.16zM397.4,556.28h3.87v0.86h-3.87zM397.4,557.14h2.6v0.86h-2.6zM397.4,558h4.65v0.86h-4.65zM397.4,558.86h2.02v0.86h-2.02zM397.4,559.72h3.79v0.86h-3.79zM397.4,560.58h3.33v0.86h-3.33zM397.4,561.44h4.07v0.86h-4.07zM397.4,562.3h3.27v0.86h-3.27zM397.4,574.4h1.63v0.86h-1.63zM397.4,575.26h0.9v0.86h-0.9zM397.4,576.12h1.53v0.86h-1.53zM397.4,576.98h2.06v0.86h-2.06zM397.4,577.84h1.53v0.86h-1.53zM397.4,578.7h1.33v0.86h-1.33zM397.4,579.56h2.25v0.86h-2.25zM397.4,580.42h1.01v0.86h-1.01zM397.4,581.28h2.14v0.86h-2.14zM397.4,582.14h1.39v0.86h-1.39zM397.4,583h1.67v0.86h-1.67zM397.4,583.86h1.64v0.86h-1.64zM397.4,584.72h1.77v0.86h-1.77zM397.4,585.58h1.68v0.86h-1.68zM397.4,586.44h1.44v0.86h-1.44zM397.4,587.3h1.55v0.86h-1.55zM397.4,588.16h2.14v0.86h-2.14zM397.4,589.02h1.89v0.86h-1.89zM397.4,589.88h1.41v0.86h-1.41zM397.4,590.74h1.61v0.86h-1.61z" fill="#0000fa"/>
<line x1="397.4" y1="532" x2="397.4" y2="591.4" stroke="#161616" stroke-width="0.95" />
<path d="M442.4,534.2h19.17v0.86h-19.17zM442.4,535.06h10.07v0.86h-10.07zM442.4,535.92h14.49v0.86h-14.49zM442.4,536.78h14.75v0.86h-14.75zM442.4,537.64h13.33v0.86h-13.33zM442.4,538.5h10.6v0.86h-10.6zM442.4,539.36h12.16v0.86h-12.16zM442.4,540.22h10.81v0.86h-10.81zM442.4,541.08h9.35v0.86h-9.35zM442.4,541.94h11.62v0.86h-11.62zM442.4,542.8h10.79v0.86h-10.79zM442.4,543.66h10.32v0.86h-10.32zM442.4,544.52h13.72v0.86h-13.72zM442.4,545.38h9.67v0.86h-9.67zM442.4,546.24h13.25v0.86h-13.25zM442.4,547.1h10.99v0.86h-10.99zM442.4,547.96h13.64v0.86h-13.64zM442.4,548.82h12.34v0.86h-12.34zM442.4,549.68h12.48v0.86h-12.48zM442.4,550.54h9.39v0.86h-9.39zM442.4,551.4h9.56v0.86h-9.56zM442.4,552.26h8.69v0.86h-8.69zM442.4,553.12h12.38v0.86h-12.38zM442.4,553.98h13.52v0.86h-13.52zM442.4,554.84h14.36v0.86h-14.36zM442.4,555.7h10.56v0.86h-10.56zM442.4,556.56h12.61v0.86h-12.61zM442.4,557.42h8.33v0.86h-8.33zM442.4,558.28h7.29v0.86h-7.29zM442.4,559.14h10.19v0.86h-10.19zM442.4,560h10.72v0.86h-10.72zM442.4,560.86h8.59v0.86h-8.59zM442.4,561.72h7.53v0.86h-7.53zM442.4,562.58h14.21v0.86h-14.21zM442.4,563.44h10.09v0.86h-10.09zM442.4,564.3h8.13v0.86h-8.13zM442.4,565.16h17.99v0.86h-17.99zM442.4,566.02h13.83v0.86h-13.83zM442.4,566.88h12.33v0.86h-12.33zM442.4,567.74h14.38v0.86h-14.38zM442.4,568.6h11.07v0.86h-11.07zM442.4,569.46h16.68v0.86h-16.68zM442.4,570.32h9.5v0.86h-9.5zM442.4,571.18h9.81v0.86h-9.81zM442.4,572.04h12.69v0.86h-12.69zM442.4,574.62h10.71v0.86h-10.71zM442.4,575.48h16.53v0.86h-16.53zM442.4,576.34h9.22v0.86h-9.22zM442.4,577.2h11.07v0.86h-11.07zM442.4,578.06h13.09v0.86h-13.09zM442.4,578.92h13.99v0.86h-13.99zM442.4,579.78h15.01v0.86h-15.01zM442.4,580.64h13.36v0.86h-13.36zM442.4,581.5h17.45v0.86h-17.45zM442.4,582.36h10.8v0.86h-10.8zM442.4,583.22h12.01v0.86h-12.01zM442.4,584.08h14.12v0.86h-14.12zM442.4,584.94h11.19v0.86h-11.19zM442.4,585.8h10.37v0.86h-10.37zM442.4,586.66h9.69v0.86h-9.69zM442.4,587.52h9.46v0.86h-9.46zM442.4,588.38h9.19v0.86h-9.19zM442.4,589.24h11.01v0.86h-11.01zM442.4,590.1h8.95v0.86h-8.95zM442.4,590.96h14.17v0.86h-14.17z" fill="#97b5f0"/>
<path d="M442.4,534.2h7.25v0.86h-7.25zM442.4,535.06h6.37v0.86h-6.37zM442.4,535.92h12.24v0.86h-12.24zM442.4,536.78h7.37v0.86h-7.37zM442.4,537.64h7.95v0.86h-7.95zM442.4,538.5h7.37v0.86h-7.37zM442.4,539.36h7.42v0.86h-7.42zM442.4,540.22h6.47v0.86h-6.47zM442.4,541.08h9.35v0.86h-9.35zM442.4,541.94h11.38v0.86h-11.38zM442.4,542.8h7.89v0.86h-7.89zM442.4,543.66h5.59v0.86h-5.59zM442.4,544.52h9.24v0.86h-9.24zM442.4,545.38h5.4v0.86h-5.4zM442.4,546.24h7.56v0.86h-7.56zM442.4,547.1h10.99v0.86h-10.99zM442.4,547.96h13.64v0.86h-13.64zM442.4,548.82h10.7v0.86h-10.7zM442.4,549.68h7.56v0.86h-7.56zM442.4,550.54h9.39v0.86h-9.39zM442.4,551.4h4.93v0.86h-4.93zM442.4,552.26h8.26v0.86h-8.26zM442.4,553.12h12.38v0.86h-12.38zM442.4,553.98h11.54v0.86h-11.54zM442.4,554.84h6.59v0.86h-6.59zM442.4,555.7h5.5v0.86h-5.5zM442.4,556.56h10.91v0.86h-10.91zM442.4,557.42h8.33v0.86h-8.33zM442.4,558.28h7.24v0.86h-7.24zM442.4,559.14h10.17v0.86h-10.17zM442.4,560h7.63v0.86h-7.63zM442.4,560.86h4.58v0.86h-4.58zM442.4,561.72h7.53v0.86h-7.53zM442.4,562.58h7.52v0.86h-7.52zM442.4,563.44h6.78v0.86h-6.78zM442.4,564.3h5.98v0.86h-5.98zM442.4,565.16h9.79v0.86h-9.79zM442.4,566.02h7.08v0.86h-7.08zM442.4,566.88h10.36v0.86h-10.36zM442.4,567.74h7.77v0.86h-7.77zM442.4,568.6h10.53v0.86h-10.53zM442.4,569.46h7.56v0.86h-7.56zM442.4,570.32h6.95v0.86h-6.95zM442.4,571.18h4.06v0.86h-4.06zM442.4,572.04h5.95v0.86h-5.95zM442.4,574.62h9.82v0.86h-9.82zM442.4,575.48h13.95v0.86h-13.95zM442.4,576.34h5.91v0.86h-5.91zM442.4,577.2h6.26v0.86h-6.26zM442.4,578.06h9.02v0.86h-9.02zM442.4,578.92h9.48v0.86h-9.48zM442.4,579.78h6.87v0.86h-6.87zM442.4,580.64h8.41v0.86h-8.41zM442.4,581.5h4.84v0.86h-4.84zM442.4,582.36h7.93v0.86h-7.93zM442.4,583.22h10.35v0.86h-10.35zM442.4,584.08h12.09v0.86h-12.09zM442.4,584.94h8.21v0.86h-8.21zM442.4,585.8h8.21v0.86h-8.21zM442.4,586.66h9.69v0.86h-9.69zM442.4,587.52h9.46v0.86h-9.46zM442.4,588.38h9.19v0.86h-9.19zM442.4,589.24h7.62v0.86h-7.62zM442.4,590.1h8.95v0.86h-8.95zM442.4,590.96h12.13v0.86h-12.13z" fill="#fa0000"/>
<path d="M442.4,534.2h4.89v0.86h-4.89zM442.4,535.06h2.09v0.86h-2.09zM442.4,535.92h3.92v0.86h-3.92zM442.4,536.78h2.91v0.86h-2.91zM442.4,537.64h2.8v0.86h-2.8zM442.4,538.5h4.17v0.86h-4.17zM442.4,539.36h3.8v0.86h-3.8zM442.4,540.22h1.95v0.86h-1.95zM442.4,541.08h2.7v0.86h-2.7zM442.4,541.94h3.24v0.86h-3.24zM442.4,542.8h1.7v0.86h-1.7zM442.4,543.66h4.23v0.86h-4.23zM442.4,544.52h3.15v0.86h-3.15zM442.4,545.38h3.38v0.86h-3.38zM442.4,546.24h3.72v0.86h-3.72zM442.4,547.1h5.15v0.86h-5.15zM442.4,547.96h3.33v0.86h-3.33zM442.4,548.82h2.87v0.86h-2.87zM442.4,549.68h4.93v0.86h-4.93zM442.4,550.54h2.68v0.86h-2.68zM442.4,551.4h2.86v0.86h-2.86zM442.4,552.26h1.98v0.86h-1.98zM442.4,553.12h4.37v0.86h-4.37zM442.4,553.98h3.55v0.86h-3.55zM442.4,554.84h3.82v0.86h-3.82zM442.4,555.7h3.33v0.86h-3.33zM442.4,556.56h2.96v0.86h-2.96zM442.4,557.42h2.15v0.86h-2.15zM442.4,558.28h2.23v0.86h-2.23zM442.4,559.14h3.67v0.86h-3.67zM442.4,560h3.54v0.86h-3.54zM442.4,560.86h4.58v0.86h-4.58zM442.4,561.72h2.71v0.86h-2.71zM442.4,562.58h3.26v0.86h-3.26zM442.4,563.44h2.73v0.86h-2.73zM442.4,564.3h5.27v0.86h-5.27zM442.4,565.16h2.48v0.86h-2.48zM442.4,566.02h4.31v0.86h-4.31zM442.4,566.88h4.87v0.86h-4.87zM442.4,567.74h3.37v0.86h-3.37zM442.4,568.6h4.28v0.86h-4.28zM442.4,569.46h1.52v0.86h-1.52zM442.4,570.32h3.55v0.86h-3.55zM442.4,571.18h2.1v0.86h-2.1zM442.4,572.04h4.02v0.86h-4.02zM442.4,574.62h3.83v0.86h-3.83zM442.4,575.48h2.99v0.86h-2.99zM442.4,576.34h4.5v0.86h-4.5zM442.4,577.2h3.9v0.86h-3.9zM442.4,578.06h2.9v0.86h-2.9zM442.4,578.92h2.74v0.86h-2.74zM442.4,579.78h1.92v0.86h-1.92zM442.4,580.64h3.22v0.86h-3.22zM442.4,581.5h4.84v0.86h-4.84zM442.4,582.36h2.81v0.86h-2.81zM442.4,583.22h4.06v0.86h-4.06zM442.4,584.08h3.08v0.86h-3.08zM442.4,584.94h4.41v0.86h-4.41zM442.4,585.8h3.83v0.86h-3.83zM442.4,586.66h3.2v0.86h-3.2zM442.4,587.52h1.8v0.86h-1.8zM442.4,588.38h3.09v0.86h-3.09zM442.4,589.24h4.67v0.86h-4.67zM442.4,590.1h3.29v0.86h-3.29zM442.4,590.96h4.14v0.86h-4.14z" fill="#0000fa"/>
<line x1="442.4" y1="534" x2="442.4" y2="591.4" stroke="#161616" stroke-width="0.95" />
<path d="M475.56,533.6h11.34v0.86h-11.34zM472.11,534.46h14.79v0.86h-14.79zM472.55,535.32h14.35v0.86h-14.35zM470.48,536.18h16.42v0.86h-16.42zM470.85,537.04h16.05v0.86h-16.05zM472.04,537.9h14.86v0.86h-14.86zM476.64,538.76h10.26v0.86h-10.26zM473.72,539.62h13.18v0.86h-13.18zM470.24,540.48h16.66v0.86h-16.66zM470.24,541.34h16.66v0.86h-16.66zM474.57,542.2h12.33v0.86h-12.33zM474.67,543.06h12.23v0.86h-12.23zM472.63,543.92h14.27v0.86h-14.27zM478.49,544.78h8.41v0.86h-8.41zM478.56,545.64h8.34v0.86h-8.34zM475.06,546.5h11.84v0.86h-11.84zM473.99,547.36h12.91v0.86h-12.91zM475.99,548.22h10.91v0.86h-10.91zM480.9,549.08h6v0.86h-6zM474.15,549.94h12.75v0.86h-12.75zM477.31,550.8h9.59v0.86h-9.59zM472.26,551.66h14.64v0.86h-14.64zM474.9,552.52h12v0.86h-12zM474.01,553.38h12.89v0.86h-12.89zM472.81,554.24h14.09v0.86h-14.09zM476.34,555.1h10.56v0.86h-10.56zM472.7,555.96h14.2v0.86h-14.2zM472.11,556.82h14.79v0.86h-14.79zM474.62,557.68h12.28v0.86h-12.28zM472.04,558.54h14.86v0.86h-14.86zM476.83,559.4h10.07v0.86h-10.07zM472.78,560.26h14.12v0.86h-14.12zM474.8,561.12h12.1v0.86h-12.1zM477.45,561.98h9.45v0.86h-9.45zM474.23,562.84h12.67v0.86h-12.67zM475.92,563.7h10.98v0.86h-10.98zM475.69,564.56h11.21v0.86h-11.21zM474.36,565.42h12.54v0.86h-12.54zM471.27,566.28h15.63v0.86h-15.63zM474.65,567.14h12.25v0.86h-12.25zM474.15,568.86h12.75v0.86h-12.75zM477.81,569.72h9.09v0.86h-9.09zM475.12,570.58h11.78v0.86h-11.78zM471.68,571.44h15.22v0.86h-15.22zM473.05,572.3h13.85v0.86h-13.85zM474.22,573.16h12.68v0.86h-12.68zM477.32,574.02h9.58v0.86h-9.58zM478.04,574.88h8.86v0.86h-8.86zM474.59,575.74h12.31v0.86h-12.31zM478.49,576.6h8.41v0.86h-8.41zM477.65,577.46h9.25v0.86h-9.25zM472.15,578.32h14.75v0.86h-14.75zM476.42,579.18h10.48v0.86h-10.48zM468.98,580.04h17.92v0.86h-17.92zM476.9,580.9h10v0.86h-10zM472.63,581.76h14.27v0.86h-14.27zM477.11,582.62h9.79v0.86h-9.79zM473.35,583.48h13.55v0.86h-13.55zM476.63,584.34h10.27v0.86h-10.27zM474,585.2h12.9v0.86h-12.9zM473.93,586.06h12.97v0.86h-12.97zM474.91,586.92h11.99v0.86h-11.99zM472.38,587.78h14.52v0.86h-14.52zM469.52,588.64h17.38v0.86h-17.38zM474.45,589.5h12.45v0.86h-12.45zM471.5,590.36h15.4v0.86h-15.4z" fill="#f6b37a"/>
<path d="M478.73,533.6h8.17v0.86h-8.17zM480.84,534.46h6.06v0.86h-6.06zM477.88,535.32h9.02v0.86h-9.02zM473.57,536.18h13.33v0.86h-13.33zM477.67,537.04h9.23v0.86h-9.23zM481.45,537.9h5.45v0.86h-5.45zM479.51,538.76h7.39v0.86h-7.39zM475.42,539.62h11.48v0.86h-11.48zM481.42,540.48h5.48v0.86h-5.48zM478.49,541.34h8.41v0.86h-8.41zM479.19,542.2h7.71v0.86h-7.71zM474.67,543.06h12.23v0.86h-12.23zM478.5,543.92h8.4v0.86h-8.4zM478.49,544.78h8.41v0.86h-8.41zM479.14,545.64h7.76v0.86h-7.76zM479.84,546.5h7.06v0.86h-7.06zM475.81,547.36h11.09v0.86h-11.09zM477.08,548.22h9.82v0.86h-9.82zM482.09,549.08h4.81v0.86h-4.81zM477.07,549.94h9.83v0.86h-9.83zM477.31,550.8h9.59v0.86h-9.59zM480.31,551.66h6.59v0.86h-6.59zM478.61,552.52h8.29v0.86h-8.29zM477.98,553.38h8.92v0.86h-8.92zM479.89,554.24h7.01v0.86h-7.01zM480.38,555.1h6.52v0.86h-6.52zM479.97,555.96h6.93v0.86h-6.93zM478.83,556.82h8.07v0.86h-8.07zM480.85,557.68h6.05v0.86h-6.05zM478.01,558.54h8.89v0.86h-8.89zM481.53,559.4h5.37v0.86h-5.37zM478.18,560.26h8.72v0.86h-8.72zM478.63,561.12h8.27v0.86h-8.27zM480.02,561.98h6.88v0.86h-6.88zM476.34,562.84h10.56v0.86h-10.56zM475.92,563.7h10.98v0.86h-10.98zM475.78,564.56h11.12v0.86h-11.12zM481.73,565.42h5.17v0.86h-5.17zM475.92,566.28h10.98v0.86h-10.98zM478.25,567.14h8.65v0.86h-8.65zM478.69,568.86h8.21v0.86h-8.21zM480.34,569.72h6.56v0.86h-6.56zM478.99,570.58h7.91v0.86h-7.91zM475.93,571.44h10.97v0.86h-10.97zM477.22,572.3h9.68v0.86h-9.68zM479.18,573.16h7.72v0.86h-7.72zM479.8,574.02h7.1v0.86h-7.1zM479.31,574.88h7.59v0.86h-7.59zM476.68,575.74h10.22v0.86h-10.22zM478.49,576.6h8.41v0.86h-8.41zM480.45,577.46h6.45v0.86h-6.45zM478.24,578.32h8.66v0.86h-8.66zM479.35,579.18h7.55v0.86h-7.55zM480.06,580.04h6.84v0.86h-6.84zM477.45,580.9h9.45v0.86h-9.45zM477.17,581.76h9.73v0.86h-9.73zM481.65,582.62h5.25v0.86h-5.25zM480.42,583.48h6.48v0.86h-6.48zM476.63,584.34h10.27v0.86h-10.27zM476.93,585.2h9.97v0.86h-9.97zM476.65,586.06h10.25v0.86h-10.25zM479.07,586.92h7.83v0.86h-7.83zM478.39,587.78h8.51v0.86h-8.51zM476.75,588.64h10.15v0.86h-10.15zM479.1,589.5h7.8v0.86h-7.8zM481.15,590.36h5.75v0.86h-5.75z" fill="#0000fa"/>
<path d="M484.58,533.6h2.32v0.86h-2.32zM484.93,534.46h1.97v0.86h-1.97zM482.99,535.32h3.91v0.86h-3.91zM484.32,536.18h2.58v0.86h-2.58zM483.74,537.04h3.16v0.86h-3.16zM483.51,537.9h3.39v0.86h-3.39zM483.95,538.76h2.95v0.86h-2.95zM481.65,539.62h5.25v0.86h-5.25zM483.63,540.48h3.27v0.86h-3.27zM482.91,541.34h3.99v0.86h-3.99zM484.57,542.2h2.33v0.86h-2.33zM483.58,543.06h3.32v0.86h-3.32zM483.41,543.92h3.49v0.86h-3.49zM483.31,544.78h3.59v0.86h-3.59zM483.67,545.64h3.23v0.86h-3.23zM483.05,546.5h3.85v0.86h-3.85zM481.6,547.36h5.3v0.86h-5.3zM483.43,548.22h3.47v0.86h-3.47zM483.28,549.08h3.62v0.86h-3.62zM483.67,549.94h3.23v0.86h-3.23zM481.32,550.8h5.58v0.86h-5.58zM481.7,551.66h5.2v0.86h-5.2zM482.83,552.52h4.07v0.86h-4.07zM482.42,553.38h4.48v0.86h-4.48zM483.79,554.24h3.11v0.86h-3.11zM483.34,555.1h3.56v0.86h-3.56zM483.01,555.96h3.89v0.86h-3.89zM483.14,556.82h3.76v0.86h-3.76zM484.24,557.68h2.66v0.86h-2.66zM484.49,558.54h2.41v0.86h-2.41zM483.2,559.4h3.7v0.86h-3.7zM483.48,560.26h3.42v0.86h-3.42zM486.17,561.12h0.73v0.86h-0.73zM483.68,561.98h3.22v0.86h-3.22zM482.56,562.84h4.34v0.86h-4.34zM484.57,563.7h2.33v0.86h-2.33zM483.57,564.56h3.33v0.86h-3.33zM485.33,565.42h1.57v0.86h-1.57zM482.92,566.28h3.98v0.86h-3.98zM484.98,567.14h1.92v0.86h-1.92zM485.07,568.86h1.83v0.86h-1.83zM484.2,569.72h2.7v0.86h-2.7zM481.32,570.58h5.58v0.86h-5.58zM484.32,571.44h2.58v0.86h-2.58zM484.81,572.3h2.09v0.86h-2.09zM482.92,573.16h3.98v0.86h-3.98zM482.94,574.02h3.96v0.86h-3.96zM481.32,574.88h5.58v0.86h-5.58zM484.37,575.74h2.53v0.86h-2.53zM484.48,576.6h2.42v0.86h-2.42zM483.37,577.46h3.53v0.86h-3.53zM482.56,578.32h4.34v0.86h-4.34zM482.76,579.18h4.14v0.86h-4.14zM482.09,580.04h4.81v0.86h-4.81zM484.8,580.9h2.1v0.86h-2.1zM484.2,581.76h2.7v0.86h-2.7zM483.35,582.62h3.55v0.86h-3.55zM482.35,583.48h4.55v0.86h-4.55zM482.49,584.34h4.41v0.86h-4.41zM483.65,585.2h3.25v0.86h-3.25zM484.33,586.06h2.57v0.86h-2.57zM482.13,586.92h4.77v0.86h-4.77zM482.1,587.78h4.8v0.86h-4.8zM481.32,588.64h5.58v0.86h-5.58zM483.55,589.5h3.35v0.86h-3.35zM481.68,590.36h5.22v0.86h-5.22z" fill="#fa0000"/>
<line x1="486.9" y1="533.4" x2="486.9" y2="591.4" stroke="#161616" stroke-width="0.95" />
<path d="M520.74,534.5h11.26v0.86h-11.26zM521.06,535.36h10.94v0.86h-10.94zM526.02,536.22h5.98v0.86h-5.98zM524.88,537.08h7.12v0.86h-7.12zM526,537.94h6v0.86h-6zM526.1,538.8h5.9v0.86h-5.9zM523.38,539.66h8.62v0.86h-8.62zM526.09,540.52h5.91v0.86h-5.91zM525.73,541.38h6.27v0.86h-6.27zM524.58,542.24h7.42v0.86h-7.42z" fill="#f6b37a"/>
<path d="M532,542.8h9.19v0.86h-9.19zM532,543.66h12.69v0.86h-12.69zM532,544.52h12.62v0.86h-12.62zM532,545.38h16.15v0.86h-16.15zM532,546.24h15.04v0.86h-15.04zM532,547.1h14.95v0.86h-14.95zM532,547.96h12.68v0.86h-12.68zM532,548.82h13.86v0.86h-13.86zM532,549.68h14.01v0.86h-14.01zM532,550.54h16.12v0.86h-16.12zM532,551.4h13.58v0.86h-13.58zM532,552.26h16.88v0.86h-16.88zM532,553.12h8.11v0.86h-8.11zM532,553.98h15.65v0.86h-15.65zM532,554.84h12.07v0.86h-12.07zM532,555.7h15.43v0.86h-15.43zM532,556.56h11.8v0.86h-11.8zM532,557.42h14.47v0.86h-14.47zM532,558.28h16.5v0.86h-16.5zM532,559.14h10.21v0.86h-10.21zM532,560h12.9v0.86h-12.9zM532,560.86h12.45v0.86h-12.45zM532,561.72h13.29v0.86h-13.29zM532,562.58h8.55v0.86h-8.55zM532,563.44h12.8v0.86h-12.8zM532,564.3h12.44v0.86h-12.44zM532,565.16h11.32v0.86h-11.32zM532,566.02h13.63v0.86h-13.63zM532,566.88h9.29v0.86h-9.29zM532,567.74h18.24v0.86h-18.24zM532,568.6h15.33v0.86h-15.33zM532,569.46h19.84v0.86h-19.84zM532,570.32h12.2v0.86h-12.2zM532,571.18h11.39v0.86h-11.39zM532,572.04h15.39v0.86h-15.39zM532,572.9h9.13v0.86h-9.13zM532,573.76h14.86v0.86h-14.86zM532,574.62h11.45v0.86h-11.45zM532,576.34h12.94v0.86h-12.94zM532,577.2h14.92v0.86h-14.92zM532,578.06h14.54v0.86h-14.54zM532,578.92h19.86v0.86h-19.86zM532,579.78h16.02v0.86h-16.02zM532,580.64h10.94v0.86h-10.94zM532,581.5h16.74v0.86h-16.74zM532,582.36h9.99v0.86h-9.99zM532,583.22h13.94v0.86h-13.94zM532,584.08h9.78v0.86h-9.78zM532,584.94h10.06v0.86h-10.06zM532,585.8h16.41v0.86h-16.41zM532,586.66h11.25v0.86h-11.25zM532,587.52h11.18v0.86h-11.18zM532,588.38h11.48v0.86h-11.48zM532,589.24h13.04v0.86h-13.04zM532,590.1h17.57v0.86h-17.57zM532,590.96h10.09v0.86h-10.09z" fill="#97b5f0"/>
<path d="M527.74,534.5h4.26v0.86h-4.26zM526,535.36h6v0.86h-6zM526.02,536.22h5.98v0.86h-5.98zM525.84,537.08h6.16v0.86h-6.16zM526,537.94h6v0.86h-6zM527.07,538.8h4.93v0.86h-4.93zM524.54,539.66h7.46v0.86h-7.46zM526.09,540.52h5.91v0.86h-5.91zM528.09,541.38h3.91v0.86h-3.91zM524.98,542.24h7.02v0.86h-7.02z" fill="#0000fa"/>
<path d="M532,542.8h4.24v0.86h-4.24zM532,543.66h9.54v0.86h-9.54zM532,544.52h9.58v0.86h-9.58zM532,545.38h9.63v0.86h-9.63zM532,546.24h7.36v0.86h-7.36zM532,547.1h8.25v0.86h-8.25zM532,547.96h5.39v0.86h-5.39zM532,548.82h8.38v0.86h-8.38zM532,549.68h9.18v0.86h-9.18zM532,550.54h6.4v0.86h-6.4zM532,551.4h6.01v0.86h-6.01zM532,552.26h7.24v0.86h-7.24zM532,553.12h8.11v0.86h-8.11zM532,553.98h8.87v0.86h-8.87zM532,554.84h9.02v0.86h-9.02zM532,555.7h9.64v0.86h-9.64zM532,556.56h6.36v0.86h-6.36zM532,557.42h2.82v0.86h-2.82zM532,558.28h10.45v0.86h-10.45zM532,559.14h10.21v0.86h-10.21zM532,560h6.25v0.86h-6.25zM532,560.86h8.26v0.86h-8.26zM532,561.72h10.27v0.86h-10.27zM532,562.58h8.55v0.86h-8.55zM532,563.44h11.25v0.86h-11.25zM532,564.3h12.44v0.86h-12.44zM532,565.16h9.68v0.86h-9.68zM532,566.02h9.92v0.86h-9.92zM532,566.88h9.29v0.86h-9.29zM532,567.74h7.2v0.86h-7.2zM532,568.6h10.91v0.86h-10.91zM532,569.46h9.56v0.86h-9.56zM532,570.32h10.22v0.86h-10.22zM532,571.18h6.69v0.86h-6.69zM532,572.04h9.96v0.86h-9.96zM532,572.9h5.33v0.86h-5.33zM532,573.76h8.56v0.86h-8.56zM532,574.62h1.93v0.86h-1.93zM532,576.34h5.85v0.86h-5.85zM532,577.2h10.24v0.86h-10.24zM532,578.06h7.5v0.86h-7.5zM532,578.92h8.7v0.86h-8.7zM532,579.78h4.8v0.86h-4.8zM532,580.64h10.94v0.86h-10.94zM532,581.5h10.09v0.86h-10.09zM532,582.36h8.19v0.86h-8.19zM532,583.22h9.55v0.86h-9.55zM532,584.08h8.88v0.86h-8.88zM532,584.94h10.06v0.86h-10.06zM532,585.8h8.81v0.86h-8.81zM532,586.66h4.95v0.86h-4.95zM532,587.52h7.78v0.86h-7.78zM532,588.38h11.48v0.86h-11.48zM532,589.24h10.3v0.86h-10.3zM532,590.1h7.4v0.86h-7.4zM532,590.96h9.85v0.86h-9.85z" fill="#fa0000"/>
<path d="M532,542.8h3.16v0.86h-3.16zM532,543.66h1.91v0.86h-1.91zM532,544.52h2.7v0.86h-2.7zM532,545.38h2.66v0.86h-2.66zM532,546.24h2.93v0.86h-2.93zM532,547.1h2.45v0.86h-2.45zM532,547.96h2.33v0.86h-2.33zM532,548.82h2.96v0.86h-2.96zM532,549.68h2.66v0.86h-2.66zM532,550.54h3.28v0.86h-3.28zM532,551.4h2.93v0.86h-2.93zM532,552.26h1.14v0.86h-1.14zM532,553.12h2.91v0.86h-2.91zM532,553.98h4.31v0.86h-4.31zM532,554.84h3.3v0.86h-3.3zM532,555.7h3.58v0.86h-3.58zM532,556.56h3.38v0.86h-3.38zM532,557.42h2.45v0.86h-2.45zM532,558.28h1.75v0.86h-1.75zM532,559.14h3.47v0.86h-3.47zM532,560h3.78v0.86h-3.78zM532,560.86h3.36v0.86h-3.36zM532,561.72h3.26v0.86h-3.26zM532,562.58h3.21v0.86h-3.21zM532,563.44h3.05v0.86h-3.05zM532,564.3h3.37v0.86h-3.37zM532,565.16h3.11v0.86h-3.11zM532,566.02h3.42v0.86h-3.42zM532,566.88h2.38v0.86h-2.38zM532,567.74h2.58v0.86h-2.58zM532,568.6h3.65v0.86h-3.65zM532,569.46h2.83v0.86h-2.83zM532,570.32h0.8v0.86h-0.8zM532,571.18h3.01v0.86h-3.01zM532,572.04h0.97v0.86h-0.97zM532,572.9h4.65v0.86h-4.65zM532,573.76h3.44v0.86h-3.44zM532,574.62h1.93v0.86h-1.93zM532,576.34h2.14v0.86h-2.14zM532,577.2h1.74v0.86h-1.74zM532,578.06h2.57v0.86h-2.57zM532,578.92h2.66v0.86h-2.66zM532,579.78h1.96v0.86h-1.96zM532,580.64h2.76v0.86h-2.76zM532,581.5h3.21v0.86h-3.21zM532,582.36h3.12v0.86h-3.12zM532,583.22h1.84v0.86h-1.84zM532,584.08h0.9v0.86h-0.9zM532,584.94h2.7v0.86h-2.7zM532,585.8h2.34v0.86h-2.34zM532,586.66h3.3v0.86h-3.3zM532,587.52h4.36v0.86h-4.36zM532,588.38h4.37v0.86h-4.37zM532,589.24h3.11v0.86h-3.11zM532,590.1h3.72v0.86h-3.72zM532,590.96h4.28v0.86h-4.28z" fill="#0000fa"/>
<path d="M527.74,534.5h4.26v0.86h-4.26zM528.12,535.36h3.88v0.86h-3.88zM526.03,536.22h5.97v0.86h-5.97zM525.84,537.08h6.16v0.86h-6.16zM526.16,537.94h5.84v0.86h-5.84zM527.07,538.8h4.93v0.86h-4.93zM524.6,539.66h7.4v0.86h-7.4zM528.76,540.52h3.24v0.86h-3.24zM528.09,541.38h3.91v0.86h-3.91zM525.53,542.24h6.47v0.86h-6.47z" fill="#fa0000"/>
<line x1="532" y1="534.3" x2="532" y2="591.4" stroke="#161616" stroke-width="0.95" />
<path d="M30.67,628h7.93v0.86h-7.93zM29.4,628.86h9.2v0.86h-9.2zM31.47,629.72h7.13v0.86h-7.13zM31.92,630.58h6.68v0.86h-6.68zM31.93,631.44h6.67v0.86h-6.67zM28.66,632.3h9.94v0.86h-9.94zM34.43,633.16h4.17v0.86h-4.17zM31.45,634.02h7.15v0.86h-7.15zM31.07,634.88h7.53v0.86h-7.53zM31.38,635.74h7.22v0.86h-7.22zM28.18,636.6h10.42v0.86h-10.42zM29.78,637.46h8.82v0.86h-8.82zM30.23,638.32h8.37v0.86h-8.37zM32.51,639.18h6.09v0.86h-6.09zM30.31,640.04h8.29v0.86h-8.29zM31.14,640.9h7.46v0.86h-7.46zM30.79,641.76h7.81v0.86h-7.81zM30.77,642.62h7.83v0.86h-7.83zM31.89,643.48h6.71v0.86h-6.71zM30.34,644.34h8.26v0.86h-8.26zM28.71,645.2h9.89v0.86h-9.89zM29.39,646.06h9.21v0.86h-9.21zM30.98,646.92h7.62v0.86h-7.62zM34.11,647.78h4.49v0.86h-4.49zM29.84,648.64h8.76v0.86h-8.76zM29.61,649.5h8.99v0.86h-8.99zM31.25,650.36h7.35v0.86h-7.35zM31.51,651.22h7.09v0.86h-7.09zM30.28,652.08h8.32v0.86h-8.32zM32.43,652.94h6.17v0.86h-6.17zM29.85,653.8h8.75v0.86h-8.75zM32.58,654.66h6.02v0.86h-6.02zM32.28,655.52h6.32v0.86h-6.32zM31.09,656.38h7.51v0.86h-7.51zM33.37,657.24h5.23v0.86h-5.23zM31.31,658.1h7.29v0.86h-7.29zM30.62,658.96h7.98v0.86h-7.98zM33.36,659.82h5.24v0.86h-5.24zM30.1,660.68h8.5v0.86h-8.5zM32.37,661.54h6.23v0.86h-6.23zM30.87,662.4h7.73v0.86h-7.73zM31.6,663.26h7v0.86h-7zM32.21,664.12h6.39v0.86h-6.39zM32.39,664.98h6.21v0.86h-6.21zM34,665.84h4.6v0.86h-4.6zM32.43,666.7h6.17v0.86h-6.17zM32.98,667.56h5.62v0.86h-5.62zM29.29,668.42h9.31v0.86h-9.31z" fill="#f6b37a"/>
<path d="M38.6,628h7.12v0.86h-7.12zM38.6,628.86h8.84v0.86h-8.84zM38.6,629.72h8.14v0.86h-8.14zM38.6,630.58h7.49v0.86h-7.49zM38.6,631.44h5.47v0.86h-5.47zM38.6,632.3h4.27v0.86h-4.27zM38.6,633.16h6.44v0.86h-6.44zM38.6,634.02h6.24v0.86h-6.24zM38.6,634.88h6v0.86h-6zM38.6,635.74h6.63v0.86h-6.63zM38.6,636.6h5.05v0.86h-5.05zM38.6,637.46h9.37v0.86h-9.37zM38.6,638.32h5.65v0.86h-5.65zM38.6,639.18h6.51v0.86h-6.51zM38.6,640.04h8.1v0.86h-8.1zM38.6,640.9h5.15v0.86h-5.15zM38.6,641.76h8.68v0.86h-8.68zM38.6,642.62h8.99v0.86h-8.99zM38.6,643.48h7.21v0.86h-7.21zM38.6,644.34h5.88v0.86h-5.88zM38.6,645.2h7.08v0.86h-7.08zM38.6,646.06h5.29v0.86h-5.29zM38.6,646.92h9.56v0.86h-9.56zM38.6,647.78h7.87v0.86h-7.87zM38.6,648.64h6.71v0.86h-6.71zM38.6,649.5h6.12v0.86h-6.12zM38.6,650.36h8.04v0.86h-8.04zM38.6,651.22h9.69v0.86h-9.69zM38.6,652.08h5.72v0.86h-5.72zM38.6,652.94h6.5v0.86h-6.5zM38.6,653.8h5.37v0.86h-5.37zM38.6,654.66h8.46v0.86h-8.46zM38.6,655.52h8.23v0.86h-8.23zM38.6,656.38h11.46v0.86h-11.46zM38.6,657.24h8.66v0.86h-8.66zM38.6,658.1h7.58v0.86h-7.58zM38.6,658.96h6.99v0.86h-6.99zM38.6,659.82h8.99v0.86h-8.99zM38.6,660.68h5.27v0.86h-5.27zM38.6,661.54h8.54v0.86h-8.54zM38.6,662.4h7.32v0.86h-7.32zM38.6,663.26h5.5v0.86h-5.5zM38.6,664.12h4.85v0.86h-4.85zM38.6,664.98h8.05v0.86h-8.05zM38.6,665.84h8.76v0.86h-8.76zM38.6,666.7h5.93v0.86h-5.93zM38.6,667.56h7.29v0.86h-7.29zM38.6,668.42h8.96v0.86h-8.96z" fill="#97b5f0"/>
<path d="M38.6,628h3.01v0.86h-3.01zM38.6,628.86h4.06v0.86h-4.06zM38.6,629.72h5.02v0.86h-5.02zM38.6,630.58h5.11v0.86h-5.11zM38.6,631.44h4.55v0.86h-4.55zM38.6,632.3h4.05v0.86h-4.05zM38.6,633.16h3.29v0.86h-3.29zM38.6,634.02h5.67v0.86h-5.67zM38.6,634.88h4.65v0.86h-4.65zM38.6,635.74h3.73v0.86h-3.73zM38.6,636.6h1.81v0.86h-1.81zM38.6,637.46h3.21v0.86h-3.21zM38.6,638.32h1.86v0.86h-1.86zM38.6,639.18h5.53v0.86h-5.53zM38.6,640.04h4.44v0.86h-4.44zM38.6,640.9h3.23v0.86h-3.23zM38.6,641.76h4.04v0.86h-4.04zM38.6,642.62h6.51v0.86h-6.51zM38.6,643.48h5.81v0.86h-5.81zM38.6,644.34h2.97v0.86h-2.97zM38.6,645.2h4.55v0.86h-4.55zM38.6,646.06h2.93v0.86h-2.93zM38.6,646.92h2.4v0.86h-2.4zM38.6,647.78h4.81v0.86h-4.81zM38.6,648.64h6.51v0.86h-6.51zM38.6,649.5h6.12v0.86h-6.12zM38.6,650.36h4.36v0.86h-4.36zM38.6,651.22h3.74v0.86h-3.74zM38.6,652.08h4.2v0.86h-4.2zM38.6,652.94h5.57v0.86h-5.57zM38.6,653.8h2.5v0.86h-2.5zM38.6,654.66h2.03v0.86h-2.03zM38.6,655.52h6.25v0.86h-6.25zM38.6,656.38h4.5v0.86h-4.5zM38.6,657.24h5.99v0.86h-5.99zM38.6,658.1h4.37v0.86h-4.37zM38.6,658.96h5.86v0.86h-5.86zM38.6,659.82h3.41v0.86h-3.41zM38.6,660.68h4.75v0.86h-4.75zM38.6,661.54h5.93v0.86h-5.93zM38.6,662.4h5.07v0.86h-5.07zM38.6,663.26h3.17v0.86h-3.17zM38.6,664.12h4.82v0.86h-4.82zM38.6,664.98h3.12v0.86h-3.12zM38.6,665.84h2.18v0.86h-2.18zM38.6,666.7h4.21v0.86h-4.21zM38.6,667.56h5.3v0.86h-5.3zM38.6,668.42h4.78v0.86h-4.78z" fill="#0000fa"/>
<path d="M34.35,628h4.25v0.86h-4.25zM34.49,628.86h4.11v0.86h-4.11zM33.62,629.72h4.98v0.86h-4.98zM33.48,630.58h5.12v0.86h-5.12zM32.27,631.44h6.33v0.86h-6.33zM33.74,632.3h4.86v0.86h-4.86zM34.59,633.16h4.01v0.86h-4.01zM34.57,634.02h4.03v0.86h-4.03zM33.26,634.88h5.34v0.86h-5.34zM32.19,635.74h6.41v0.86h-6.41zM33.4,636.6h5.2v0.86h-5.2zM34.54,637.46h4.06v0.86h-4.06zM33.65,638.32h4.95v0.86h-4.95zM33.96,639.18h4.64v0.86h-4.64zM34.01,640.04h4.59v0.86h-4.59zM35.13,640.9h3.47v0.86h-3.47zM37.04,641.76h1.56v0.86h-1.56zM34.58,642.62h4.02v0.86h-4.02zM32.93,643.48h5.67v0.86h-5.67zM33.76,644.34h4.84v0.86h-4.84zM36.25,645.2h2.35v0.86h-2.35zM33.6,646.06h5v0.86h-5zM35.82,646.92h2.78v0.86h-2.78zM34.11,647.78h4.49v0.86h-4.49zM33.12,648.64h5.48v0.86h-5.48zM34.9,649.5h3.7v0.86h-3.7zM32.59,650.36h6.01v0.86h-6.01zM34.59,651.22h4.01v0.86h-4.01zM33.29,652.08h5.31v0.86h-5.31zM34.15,652.94h4.45v0.86h-4.45zM35.45,653.8h3.15v0.86h-3.15zM33.52,654.66h5.08v0.86h-5.08zM35.99,655.52h2.61v0.86h-2.61zM32.64,656.38h5.96v0.86h-5.96zM34.15,657.24h4.45v0.86h-4.45zM35.39,658.1h3.21v0.86h-3.21zM36.21,658.96h2.39v0.86h-2.39zM33.36,659.82h5.24v0.86h-5.24zM32.45,660.68h6.15v0.86h-6.15zM35.49,661.54h3.11v0.86h-3.11zM32.16,662.4h6.44v0.86h-6.44zM33.87,663.26h4.73v0.86h-4.73zM34.34,664.12h4.26v0.86h-4.26zM34.16,664.98h4.44v0.86h-4.44zM34.56,665.84h4.04v0.86h-4.04zM32.57,666.7h6.03v0.86h-6.03zM34.11,667.56h4.49v0.86h-4.49zM36.33,668.42h2.27v0.86h-2.27z" fill="#fa0000"/>
<line x1="38.6" y1="627.7" x2="38.6" y2="677.3" stroke="#161616" stroke-width="0.95" />
<path d="M69.73,631.2h13.87v0.86h-13.87zM70.21,632.06h13.39v0.86h-13.39zM62.43,632.92h21.17v0.86h-21.17zM68.11,633.78h15.49v0.86h-15.49zM66.35,634.64h17.25v0.86h-17.25zM65.41,635.5h18.19v0.86h-18.19zM65.64,636.36h17.96v0.86h-17.96zM72.23,637.22h11.37v0.86h-11.37zM66.99,638.08h16.61v0.86h-16.61zM66.99,638.94h16.61v0.86h-16.61zM67.65,639.8h15.95v0.86h-15.95zM66.14,640.66h17.46v0.86h-17.46zM70.41,641.52h13.19v0.86h-13.19zM68.35,642.38h15.25v0.86h-15.25zM70.41,643.24h13.19v0.86h-13.19zM66.04,644.1h17.56v0.86h-17.56zM70.3,644.96h13.3v0.86h-13.3zM67.72,645.82h15.88v0.86h-15.88zM71.71,646.68h11.89v0.86h-11.89zM68.91,647.54h14.69v0.86h-14.69zM69.65,648.4h13.95v0.86h-13.95zM68.94,649.26h14.66v0.86h-14.66zM67.19,650.12h16.41v0.86h-16.41zM68.25,650.98h15.35v0.86h-15.35zM68.02,651.84h15.58v0.86h-15.58zM73.42,652.7h10.18v0.86h-10.18zM64.28,653.56h19.32v0.86h-19.32zM69.77,654.42h13.83v0.86h-13.83zM68.51,655.28h15.09v0.86h-15.09zM69.94,656.14h13.66v0.86h-13.66zM65.35,657h18.25v0.86h-18.25zM70.48,657.86h13.12v0.86h-13.12zM66.73,658.72h16.87v0.86h-16.87zM65.34,659.58h18.26v0.86h-18.26zM64.08,660.44h19.52v0.86h-19.52zM64.66,661.3h18.94v0.86h-18.94zM66.75,662.16h16.85v0.86h-16.85zM73.01,663.02h10.59v0.86h-10.59zM65.9,663.88h17.7v0.86h-17.7zM66.73,664.74h16.87v0.86h-16.87zM67.16,665.6h16.44v0.86h-16.44zM66.84,666.46h16.76v0.86h-16.76zM69.02,667.32h14.58v0.86h-14.58zM71.43,668.18h12.17v0.86h-12.17zM66.66,669.04h16.94v0.86h-16.94z" fill="#f6b37a"/>
<path d="M76.51,631.2h7.09v0.86h-7.09zM74.26,632.06h9.34v0.86h-9.34zM75.47,632.92h8.13v0.86h-8.13zM70.49,633.78h13.11v0.86h-13.11zM75.93,634.64h7.67v0.86h-7.67zM73.35,635.5h10.25v0.86h-10.25zM75.25,636.36h8.35v0.86h-8.35zM76.84,637.22h6.76v0.86h-6.76zM70.13,638.08h13.47v0.86h-13.47zM79.1,638.94h4.5v0.86h-4.5zM71.89,639.8h11.71v0.86h-11.71zM78.03,640.66h5.57v0.86h-5.57zM74.94,641.52h8.66v0.86h-8.66zM70.19,642.38h13.41v0.86h-13.41zM80.26,643.24h3.34v0.86h-3.34zM77.89,644.1h5.71v0.86h-5.71zM71.54,644.96h12.06v0.86h-12.06zM74.17,645.82h9.43v0.86h-9.43zM74.84,646.68h8.76v0.86h-8.76zM73.98,647.54h9.62v0.86h-9.62zM76.17,648.4h7.43v0.86h-7.43zM73.58,649.26h10.02v0.86h-10.02zM70.47,650.12h13.13v0.86h-13.13zM75.16,650.98h8.44v0.86h-8.44zM73.91,651.84h9.69v0.86h-9.69zM73.42,652.7h10.18v0.86h-10.18zM70.2,653.56h13.4v0.86h-13.4zM75.9,654.42h7.7v0.86h-7.7zM73.92,655.28h9.68v0.86h-9.68zM75.77,656.14h7.83v0.86h-7.83zM76.08,657h7.52v0.86h-7.52zM75.87,657.86h7.73v0.86h-7.73zM76.54,658.72h7.06v0.86h-7.06zM79.13,659.58h4.47v0.86h-4.47zM79.59,660.44h4.01v0.86h-4.01zM76.77,661.3h6.83v0.86h-6.83zM74.92,662.16h8.68v0.86h-8.68zM73.01,663.02h10.59v0.86h-10.59zM76.52,663.88h7.08v0.86h-7.08zM75.54,664.74h8.06v0.86h-8.06zM73.63,665.6h9.97v0.86h-9.97zM73.25,666.46h10.35v0.86h-10.35zM75.52,667.32h8.08v0.86h-8.08zM74.99,668.18h8.61v0.86h-8.61zM70.13,669.04h13.47v0.86h-13.47z" fill="#0000fa"/>
<path d="M79.48,631.2h4.12v0.86h-4.12zM80.01,632.06h3.59v0.86h-3.59zM80.53,632.92h3.07v0.86h-3.07zM80.3,633.78h3.3v0.86h-3.3zM78.95,634.64h4.65v0.86h-4.65zM79.63,635.5h3.97v0.86h-3.97zM79.47,636.36h4.13v0.86h-4.13zM80.64,637.22h2.96v0.86h-2.96zM79.99,638.08h3.61v0.86h-3.61zM79.1,638.94h4.5v0.86h-4.5zM80.14,639.8h3.46v0.86h-3.46zM79.66,640.66h3.94v0.86h-3.94zM79.77,641.52h3.83v0.86h-3.83zM80.13,642.38h3.47v0.86h-3.47zM80.26,643.24h3.34v0.86h-3.34zM80.66,644.1h2.94v0.86h-2.94zM80.35,644.96h3.25v0.86h-3.25zM81.38,645.82h2.22v0.86h-2.22zM78.95,646.68h4.65v0.86h-4.65zM80.42,647.54h3.18v0.86h-3.18zM80.34,648.4h3.26v0.86h-3.26zM79.3,649.26h4.3v0.86h-4.3zM80.87,650.12h2.73v0.86h-2.73zM80.31,650.98h3.29v0.86h-3.29zM81.14,651.84h2.46v0.86h-2.46zM80.51,652.7h3.09v0.86h-3.09zM80.94,653.56h2.66v0.86h-2.66zM80.07,654.42h3.53v0.86h-3.53zM80.8,655.28h2.8v0.86h-2.8zM81.15,656.14h2.45v0.86h-2.45zM80.78,657h2.82v0.86h-2.82zM80.57,657.86h3.03v0.86h-3.03zM80.94,658.72h2.66v0.86h-2.66zM79.52,659.58h4.08v0.86h-4.08zM79.86,660.44h3.74v0.86h-3.74zM80.39,661.3h3.21v0.86h-3.21zM81.46,662.16h2.14v0.86h-2.14zM80,663.02h3.6v0.86h-3.6zM81.63,663.88h1.97v0.86h-1.97zM80.53,664.74h3.07v0.86h-3.07zM80.65,665.6h2.95v0.86h-2.95zM81.29,666.46h2.31v0.86h-2.31zM81.34,667.32h2.26v0.86h-2.26zM81.15,668.18h2.45v0.86h-2.45zM78.95,669.04h4.65v0.86h-4.65z" fill="#fa0000"/>
<line x1="83.6" y1="630.9" x2="83.6" y2="677.3" stroke="#161616" stroke-width="0.95" />
<path d="M128.5,634h17.5v0.86h-17.5zM128.5,634.86h9.96v0.86h-9.96zM128.5,635.72h14.04v0.86h-14.04zM128.5,636.58h14.06v0.86h-14.06zM128.5,637.44h12.63v0.86h-12.63zM128.5,638.3h15.86v0.86h-15.86zM128.5,639.16h15.16v0.86h-15.16zM128.5,640.02h13.35v0.86h-13.35zM128.5,640.88h14.03v0.86h-14.03zM128.5,641.74h17.11v0.86h-17.11zM128.5,642.6h12.56v0.86h-12.56zM128.5,643.46h13.18v0.86h-13.18zM128.5,644.32h16.34v0.86h-16.34zM128.5,645.18h16.29v0.86h-16.29zM128.5,646.04h18.46v0.86h-18.46zM128.5,646.9h15.58v0.86h-15.58zM128.5,647.76h15.96v0.86h-15.96zM128.5,648.62h12.69v0.86h-12.69zM128.5,649.48h11.35v0.86h-11.35zM128.5,650.34h13.74v0.86h-13.74zM128.5,651.2h6.58v0.86h-6.58zM128.5,652.06h13.8v0.86h-13.8zM128.5,652.92h15.22v0.86h-15.22zM128.5,653.78h13.34v0.86h-13.34zM128.5,654.64h13.28v0.86h-13.28zM128.5,655.5h16.77v0.86h-16.77zM128.5,656.36h14.54v0.86h-14.54zM128.5,657.22h17.15v0.86h-17.15zM128.5,658.08h20.62v0.86h-20.62zM128.5,658.94h17.65v0.86h-17.65zM128.5,659.8h19.11v0.86h-19.11zM128.5,660.66h17v0.86h-17zM128.5,661.52h15.58v0.86h-15.58zM128.5,662.38h15.31v0.86h-15.31zM128.5,663.24h14.12v0.86h-14.12zM128.5,664.1h16.72v0.86h-16.72zM128.5,664.96h9.69v0.86h-9.69zM128.5,665.82h12.36v0.86h-12.36zM128.5,666.68h13.14v0.86h-13.14zM128.5,667.54h9.74v0.86h-9.74z" fill="#97b5f0"/>
<path d="M128.5,634h8.14v0.86h-8.14zM128.5,634.86h8.83v0.86h-8.83zM128.5,635.72h7.42v0.86h-7.42zM128.5,636.58h6.5v0.86h-6.5zM128.5,637.44h5.63v0.86h-5.63zM128.5,638.3h3.67v0.86h-3.67zM128.5,639.16h5.69v0.86h-5.69zM128.5,640.02h8.27v0.86h-8.27zM128.5,640.88h7.69v0.86h-7.69zM128.5,641.74h10.32v0.86h-10.32zM128.5,642.6h6.73v0.86h-6.73zM128.5,643.46h3.76v0.86h-3.76zM128.5,644.32h8.44v0.86h-8.44zM128.5,645.18h8.94v0.86h-8.94zM128.5,646.04h5.14v0.86h-5.14zM128.5,646.9h3.99v0.86h-3.99zM128.5,647.76h7.09v0.86h-7.09zM128.5,648.62h8.18v0.86h-8.18zM128.5,649.48h4.98v0.86h-4.98zM128.5,650.34h6.76v0.86h-6.76zM128.5,651.2h6.04v0.86h-6.04zM128.5,652.06h5.51v0.86h-5.51zM128.5,652.92h5.63v0.86h-5.63zM128.5,653.78h8.62v0.86h-8.62zM128.5,654.64h7.66v0.86h-7.66zM128.5,655.5h6.94v0.86h-6.94zM128.5,656.36h3.42v0.86h-3.42zM128.5,657.22h10.85v0.86h-10.85zM128.5,658.08h6.16v0.86h-6.16zM128.5,658.94h7.53v0.86h-7.53zM128.5,659.8h5.33v0.86h-5.33zM128.5,660.66h7.59v0.86h-7.59zM128.5,661.52h4.35v0.86h-4.35zM128.5,662.38h7.01v0.86h-7.01zM128.5,663.24h6.44v0.86h-6.44zM128.5,664.1h7.94v0.86h-7.94zM128.5,664.96h4.68v0.86h-4.68zM128.5,665.82h5.31v0.86h-5.31zM128.5,666.68h6.13v0.86h-6.13zM128.5,667.54h9.74v0.86h-9.74z" fill="#fa0000"/>
<path d="M128.5,634h2.05v0.86h-2.05zM128.5,634.86h4.03v0.86h-4.03zM128.5,635.72h2.21v0.86h-2.21zM128.5,636.58h3.29v0.86h-3.29zM128.5,637.44h3.92v0.86h-3.92zM128.5,638.3h2.26v0.86h-2.26zM128.5,639.16h2.6v0.86h-2.6zM128.5,640.02h1.84v0.86h-1.84zM128.5,640.88h3.09v0.86h-3.09zM128.5,641.74h2.17v0.86h-2.17zM128.5,642.6h1.53v0.86h-1.53zM128.5,643.46h3.19v0.86h-3.19zM128.5,644.32h3.01v0.86h-3.01zM128.5,645.18h1.62v0.86h-1.62zM128.5,646.04h3.42v0.86h-3.42zM128.5,646.9h2.88v0.86h-2.88zM128.5,647.76h4.03v0.86h-4.03zM128.5,648.62h4.03v0.86h-4.03zM128.5,649.48h2.41v0.86h-2.41zM128.5,650.34h2.64v0.86h-2.64zM128.5,651.2h2.12v0.86h-2.12zM128.5,652.06h2.85v0.86h-2.85zM128.5,652.92h2.54v0.86h-2.54zM128.5,653.78h2.86v0.86h-2.86zM128.5,654.64h2.28v0.86h-2.28zM128.5,655.5h1.14v0.86h-1.14zM128.5,656.36h1.79v0.86h-1.79zM128.5,657.22h3.48v0.86h-3.48zM128.5,658.08h3.29v0.86h-3.29zM128.5,658.94h2.35v0.86h-2.35zM128.5,659.8h2.41v0.86h-2.41zM128.5,660.66h2.43v0.86h-2.43zM128.5,661.52h2.51v0.86h-2.51zM128.5,662.38h1.22v0.86h-1.22zM128.5,663.24h3.17v0.86h-3.17zM128.5,664.1h2.06v0.86h-2.06zM128.5,664.96h2.72v0.86h-2.72zM128.5,665.82h0.73v0.86h-0.73zM128.5,666.68h2.97v0.86h-2.97zM128.5,667.54h3.83v0.86h-3.83z" fill="#0000fa"/>
<line x1="128.5" y1="633.8" x2="128.5" y2="677.3" stroke="#161616" stroke-width="0.95" />
<path d="M166.77,638.3h6.73v0.86h-6.73zM164.1,639.16h9.4v0.86h-9.4zM163.44,640.02h10.06v0.86h-10.06zM164,640.88h9.5v0.86h-9.5zM164.08,641.74h9.42v0.86h-9.42zM165.19,642.6h8.31v0.86h-8.31zM167.76,643.46h5.74v0.86h-5.74zM165.98,644.32h7.52v0.86h-7.52zM167.41,645.18h6.09v0.86h-6.09zM165.11,646.04h8.39v0.86h-8.39zM166.64,646.9h6.86v0.86h-6.86zM164.39,647.76h9.11v0.86h-9.11zM164.83,648.62h8.67v0.86h-8.67zM167.76,649.48h5.74v0.86h-5.74zM163.6,650.34h9.9v0.86h-9.9zM164.21,651.2h9.29v0.86h-9.29zM168.51,652.06h4.99v0.86h-4.99zM165.86,652.92h7.64v0.86h-7.64zM164.76,653.78h8.74v0.86h-8.74zM166.52,654.64h6.98v0.86h-6.98zM164.53,655.5h8.97v0.86h-8.97zM165.64,656.36h7.86v0.86h-7.86zM164.01,657.22h9.49v0.86h-9.49zM166.6,662.2h6.9v0.86h-6.9zM169.13,663.06h4.37v0.86h-4.37zM164.64,663.92h8.86v0.86h-8.86zM164.15,664.78h9.35v0.86h-9.35zM166.87,665.64h6.63v0.86h-6.63zM164.68,666.5h8.82v0.86h-8.82zM164.49,667.36h9.01v0.86h-9.01zM165.31,668.22h8.19v0.86h-8.19zM168.96,669.08h4.54v0.86h-4.54zM167.59,669.94h5.91v0.86h-5.91zM166.85,670.8h6.65v0.86h-6.65zM163.32,671.66h10.18v0.86h-10.18zM167.65,672.52h5.85v0.86h-5.85zM166.5,673.38h7v0.86h-7zM168.35,674.24h5.15v0.86h-5.15zM167.26,675.1h6.24v0.86h-6.24z" fill="#f6b37a"/>
<path d="M173.5,638.3h5.3v0.86h-5.3zM173.5,639.16h6.34v0.86h-6.34zM173.5,640.02h6.49v0.86h-6.49zM173.5,640.88h6.65v0.86h-6.65zM173.5,641.74h7.68v0.86h-7.68zM173.5,642.6h7.04v0.86h-7.04zM173.5,643.46h7.53v0.86h-7.53zM173.5,644.32h5.32v0.86h-5.32zM173.5,645.18h6.33v0.86h-6.33zM173.5,646.04h10.64v0.86h-10.64zM173.5,646.9h9.25v0.86h-9.25zM173.5,647.76h7.25v0.86h-7.25zM173.5,648.62h7.13v0.86h-7.13zM173.5,649.48h7.26v0.86h-7.26zM173.5,650.34h5.19v0.86h-5.19zM173.5,651.2h8.28v0.86h-8.28zM173.5,652.06h5.87v0.86h-5.87zM173.5,652.92h6.09v0.86h-6.09zM173.5,653.78h10.03v0.86h-10.03zM173.5,654.64h4.51v0.86h-4.51zM173.5,655.5h7.76v0.86h-7.76zM173.5,656.36h5.06v0.86h-5.06zM173.5,657.22h6.73v0.86h-6.73zM173.5,662.2h6.87v0.86h-6.87zM173.5,663.06h6.5v0.86h-6.5zM173.5,663.92h5.91v0.86h-5.91zM173.5,664.78h7.41v0.86h-7.41zM173.5,665.64h9.18v0.86h-9.18zM173.5,666.5h7.63v0.86h-7.63zM173.5,667.36h8.89v0.86h-8.89zM173.5,668.22h7.26v0.86h-7.26zM173.5,669.08h10.37v0.86h-10.37zM173.5,669.94h4.94v0.86h-4.94zM173.5,670.8h7.77v0.86h-7.77zM173.5,671.66h7.5v0.86h-7.5zM173.5,672.52h6.88v0.86h-6.88zM173.5,673.38h4.41v0.86h-4.41zM173.5,674.24h4.22v0.86h-4.22zM173.5,675.1h5.7v0.86h-5.7z" fill="#97b5f0"/>
<path d="M173.5,638.3h4.21v0.86h-4.21zM173.5,639.16h3.48v0.86h-3.48zM173.5,640.02h2.07v0.86h-2.07zM173.5,640.88h3.26v0.86h-3.26zM173.5,641.74h2.7v0.86h-2.7zM173.5,642.6h2.05v0.86h-2.05zM173.5,643.46h3.95v0.86h-3.95zM173.5,644.32h5.32v0.86h-5.32zM173.5,645.18h6.33v0.86h-6.33zM173.5,646.04h4.53v0.86h-4.53zM173.5,646.9h5.01v0.86h-5.01zM173.5,647.76h5.61v0.86h-5.61zM173.5,648.62h6.83v0.86h-6.83zM173.5,649.48h5.61v0.86h-5.61zM173.5,650.34h4.55v0.86h-4.55zM173.5,651.2h4.77v0.86h-4.77zM173.5,652.06h5.87v0.86h-5.87zM173.5,652.92h6.09v0.86h-6.09zM173.5,653.78h4.19v0.86h-4.19zM173.5,654.64h2.28v0.86h-2.28zM173.5,655.5h5.88v0.86h-5.88zM173.5,656.36h4.56v0.86h-4.56zM173.5,657.22h4.75v0.86h-4.75zM173.5,662.2h2.59v0.86h-2.59zM173.5,663.06h4.15v0.86h-4.15zM173.5,663.92h5.4v0.86h-5.4zM173.5,664.78h5.04v0.86h-5.04zM173.5,665.64h4.27v0.86h-4.27zM173.5,666.5h0.88v0.86h-0.88zM173.5,667.36h3.55v0.86h-3.55zM173.5,668.22h3.34v0.86h-3.34zM173.5,669.08h3.61v0.86h-3.61zM173.5,669.94h2.39v0.86h-2.39zM173.5,670.8h3.58v0.86h-3.58zM173.5,671.66h3.65v0.86h-3.65zM173.5,672.52h6.82v0.86h-6.82zM173.5,673.38h4.41v0.86h-4.41zM173.5,674.24h4.22v0.86h-4.22zM173.5,675.1h4.51v0.86h-4.51z" fill="#0000fa"/>
<path d="M169.43,638.3h4.07v0.86h-4.07zM169.38,639.16h4.12v0.86h-4.12zM172.16,640.02h1.34v0.86h-1.34zM168.42,640.88h5.08v0.86h-5.08zM168.86,641.74h4.64v0.86h-4.64zM171.97,642.6h1.53v0.86h-1.53zM167.83,643.46h5.67v0.86h-5.67zM168.85,644.32h4.65v0.86h-4.65zM168.31,645.18h5.19v0.86h-5.19zM168.3,646.04h5.2v0.86h-5.2zM169.3,646.9h4.2v0.86h-4.2zM170.13,647.76h3.37v0.86h-3.37zM169.34,648.62h4.16v0.86h-4.16zM169.37,649.48h4.13v0.86h-4.13zM165.75,650.34h7.75v0.86h-7.75zM166.26,651.2h7.24v0.86h-7.24zM169.45,652.06h4.05v0.86h-4.05zM168.95,652.92h4.55v0.86h-4.55zM168.3,653.78h5.2v0.86h-5.2zM168.05,654.64h5.45v0.86h-5.45zM169.81,655.5h3.69v0.86h-3.69zM170.27,656.36h3.23v0.86h-3.23zM166.78,657.22h6.72v0.86h-6.72zM168.71,662.2h4.79v0.86h-4.79zM169.13,663.06h4.37v0.86h-4.37zM166.68,663.92h6.82v0.86h-6.82zM166.44,664.78h7.06v0.86h-7.06zM168.3,665.64h5.2v0.86h-5.2zM168.19,666.5h5.31v0.86h-5.31zM168.35,667.36h5.15v0.86h-5.15zM167.92,668.22h5.58v0.86h-5.58zM169.58,669.08h3.92v0.86h-3.92zM167.59,669.94h5.91v0.86h-5.91zM168.59,670.8h4.91v0.86h-4.91zM167.38,671.66h6.12v0.86h-6.12zM168.6,672.52h4.9v0.86h-4.9zM168.09,673.38h5.41v0.86h-5.41zM170.07,674.24h3.43v0.86h-3.43zM169.03,675.1h4.47v0.86h-4.47z" fill="#fa0000"/>
<line x1="173.5" y1="638.1" x2="173.5" y2="677.3" stroke="#161616" stroke-width="0.95" />
<path d="M215.14,641.5h3.16v0.86h-3.16zM210.74,642.36h7.56v0.86h-7.56zM211.93,643.22h6.37v0.86h-6.37zM212.09,644.08h6.21v0.86h-6.21zM212.8,644.94h5.5v0.86h-5.5zM213.92,645.8h4.38v0.86h-4.38zM212.11,646.66h6.19v0.86h-6.19zM212.43,647.52h5.87v0.86h-5.87zM210.34,648.38h7.96v0.86h-7.96zM213.14,649.24h5.16v0.86h-5.16zM209.26,650.1h9.04v0.86h-9.04zM211.79,650.96h6.51v0.86h-6.51zM210.38,651.82h7.92v0.86h-7.92zM213.86,652.68h4.44v0.86h-4.44zM212.13,653.54h6.17v0.86h-6.17zM210.8,654.4h7.5v0.86h-7.5zM212.39,655.26h5.91v0.86h-5.91zM214.32,656.12h3.98v0.86h-3.98zM205.95,656.9h12.35v0.86h-12.35zM205.19,657.76h13.11v0.86h-13.11zM204.66,658.62h13.64v0.86h-13.64zM207.39,659.48h10.91v0.86h-10.91zM204.27,660.34h14.03v0.86h-14.03zM207.05,661.2h11.25v0.86h-11.25zM207.37,662.06h10.93v0.86h-10.93zM210.1,662.92h8.2v0.86h-8.2zM207.71,663.78h10.59v0.86h-10.59zM207.77,664.64h10.53v0.86h-10.53zM203.99,665.5h14.31v0.86h-14.31zM202.35,666.36h15.95v0.86h-15.95zM207.47,667.22h10.83v0.86h-10.83zM205.45,668.08h12.85v0.86h-12.85zM205.72,668.94h12.58v0.86h-12.58zM208.51,669.8h9.79v0.86h-9.79zM211.13,670.66h7.17v0.86h-7.17zM209.04,671.52h9.26v0.86h-9.26zM210.32,672.38h7.98v0.86h-7.98zM208.1,673.24h10.2v0.86h-10.2zM207.69,674.1h10.61v0.86h-10.61zM208.32,674.96h9.98v0.86h-9.98zM208.19,675.82h10.11v0.86h-10.11z" fill="#f6b37a"/>
<path d="M218.3,641.5h5.79v0.86h-5.79zM218.3,642.36h5.12v0.86h-5.12zM218.3,643.22h6.03v0.86h-6.03zM218.3,644.08h5.6v0.86h-5.6zM218.3,644.94h7.68v0.86h-7.68zM218.3,645.8h8.62v0.86h-8.62zM218.3,646.66h8.89v0.86h-8.89zM218.3,647.52h8.25v0.86h-8.25zM218.3,648.38h7.52v0.86h-7.52zM218.3,649.24h11.18v0.86h-11.18zM218.3,650.1h4.93v0.86h-4.93zM218.3,650.96h9.7v0.86h-9.7zM218.3,651.82h8.73v0.86h-8.73zM218.3,652.68h8.04v0.86h-8.04zM218.3,653.54h6.89v0.86h-6.89zM218.3,654.4h7.12v0.86h-7.12zM218.3,655.26h6v0.86h-6zM218.3,656.12h5.77v0.86h-5.77z" fill="#97b5f0"/>
<path d="M208.23,656.9h10.07v0.86h-10.07zM213.51,657.76h4.79v0.86h-4.79zM213.38,658.62h4.92v0.86h-4.92zM209.96,659.48h8.34v0.86h-8.34zM209.86,660.34h8.44v0.86h-8.44zM215.56,661.2h2.74v0.86h-2.74zM211.5,662.06h6.8v0.86h-6.8zM210.41,662.92h7.89v0.86h-7.89zM213.85,663.78h4.45v0.86h-4.45zM211.1,664.64h7.2v0.86h-7.2zM213.15,665.5h5.15v0.86h-5.15zM214.09,666.36h4.21v0.86h-4.21zM213.01,667.22h5.29v0.86h-5.29zM213.26,668.08h5.04v0.86h-5.04zM214.52,668.94h3.78v0.86h-3.78zM208.51,669.8h9.79v0.86h-9.79zM212.89,670.66h5.41v0.86h-5.41zM213.07,671.52h5.23v0.86h-5.23zM210.57,672.38h7.73v0.86h-7.73zM212.32,673.24h5.98v0.86h-5.98zM209.77,674.1h8.53v0.86h-8.53zM212.21,674.96h6.09v0.86h-6.09zM211.31,675.82h6.99v0.86h-6.99z" fill="#0000fa"/>
<path d="M215.14,641.5h3.16v0.86h-3.16zM214.35,642.36h3.95v0.86h-3.95zM213.37,643.22h4.93v0.86h-4.93zM215.68,644.08h2.62v0.86h-2.62zM214.43,644.94h3.87v0.86h-3.87zM215.26,645.8h3.04v0.86h-3.04zM215.37,646.66h2.93v0.86h-2.93zM214.7,647.52h3.6v0.86h-3.6zM216.17,648.38h2.13v0.86h-2.13zM216.36,649.24h1.94v0.86h-1.94zM214.86,650.1h3.44v0.86h-3.44zM215.35,650.96h2.95v0.86h-2.95zM215.49,651.82h2.81v0.86h-2.81zM215.48,652.68h2.82v0.86h-2.82zM214.77,653.54h3.53v0.86h-3.53zM215.4,654.4h2.9v0.86h-2.9zM214.43,655.26h3.87v0.86h-3.87zM214.84,656.12h3.46v0.86h-3.46z" fill="#0000fa"/>
<path d="M218.3,641.5h4.87v0.86h-4.87zM218.3,642.36h0.82v0.86h-0.82zM218.3,643.22h5.32v0.86h-5.32zM218.3,644.08h3.18v0.86h-3.18zM218.3,644.94h3.13v0.86h-3.13zM218.3,645.8h5.61v0.86h-5.61zM218.3,646.66h3.74v0.86h-3.74zM218.3,647.52h2.51v0.86h-2.51zM218.3,648.38h2.49v0.86h-2.49zM218.3,649.24h4.11v0.86h-4.11zM218.3,650.1h4.93v0.86h-4.93zM218.3,650.96h5.74v0.86h-5.74zM218.3,651.82h3.86v0.86h-3.86zM218.3,652.68h3.35v0.86h-3.35zM218.3,653.54h5.74v0.86h-5.74zM218.3,654.4h3.52v0.86h-3.52zM218.3,655.26h5.52v0.86h-5.52zM218.3,656.12h3.96v0.86h-3.96zM214.73,656.9h3.57v0.86h-3.57zM215.65,657.76h2.65v0.86h-2.65zM216.16,658.62h2.14v0.86h-2.14zM215.37,659.48h2.93v0.86h-2.93zM216.31,660.34h1.99v0.86h-1.99zM216.99,661.2h1.31v0.86h-1.31zM214.78,662.06h3.52v0.86h-3.52zM217.21,662.92h1.09v0.86h-1.09zM215.43,663.78h2.87v0.86h-2.87zM217.05,664.64h1.25v0.86h-1.25zM215.95,665.5h2.35v0.86h-2.35zM216.08,666.36h2.22v0.86h-2.22zM216.41,667.22h1.89v0.86h-1.89zM217.7,668.08h0.6v0.86h-0.6zM216.24,668.94h2.06v0.86h-2.06zM216.05,669.8h2.25v0.86h-2.25zM216.68,670.66h1.62v0.86h-1.62zM215.96,671.52h2.34v0.86h-2.34zM215.2,672.38h3.1v0.86h-3.1zM216.48,673.24h1.82v0.86h-1.82zM215.68,674.1h2.62v0.86h-2.62zM216.58,674.96h1.72v0.86h-1.72zM215.36,675.82h2.94v0.86h-2.94z" fill="#fa0000"/>
<line x1="218.3" y1="641.3" x2="218.3" y2="677.3" stroke="#161616" stroke-width="0.95" />
<path d="M263,642.3h10.99v0.86h-10.99zM263,643.16h14.68v0.86h-14.68zM263,644.02h13.29v0.86h-13.29zM263,644.88h14.08v0.86h-14.08zM263,645.74h13.77v0.86h-13.77zM263,646.6h12.64v0.86h-12.64zM263,647.46h13.2v0.86h-13.2zM263,648.32h16.86v0.86h-16.86zM263,649.18h12.73v0.86h-12.73zM263,650.04h10.79v0.86h-10.79zM263,650.9h15.72v0.86h-15.72zM263,651.76h16.78v0.86h-16.78zM263,652.62h12.84v0.86h-12.84zM263,653.48h13.25v0.86h-13.25zM263,654.34h11.4v0.86h-11.4zM263,655.2h12.87v0.86h-12.87zM263,656.06h16.39v0.86h-16.39zM263,656.92h15.85v0.86h-15.85zM263,657.78h13.8v0.86h-13.8zM263,658.64h13.58v0.86h-13.58zM263,659.5h10.66v0.86h-10.66zM263,660.36h15.58v0.86h-15.58zM263,661.22h16.38v0.86h-16.38zM263,662.08h18.12v0.86h-18.12zM263,662.94h20.44v0.86h-20.44zM263,663.8h16.66v0.86h-16.66zM263,664.66h17.74v0.86h-17.74zM263,665.52h11.03v0.86h-11.03zM263,666.38h17.11v0.86h-17.11zM263,667.24h16.37v0.86h-16.37zM263,669.82h16.71v0.86h-16.71zM263,670.68h15.24v0.86h-15.24zM263,671.54h14.77v0.86h-14.77zM263,672.4h16.36v0.86h-16.36zM263,673.26h11.28v0.86h-11.28zM263,674.12h15.7v0.86h-15.7zM263,674.98h17.28v0.86h-17.28zM263,675.84h11.61v0.86h-11.61z" fill="#97b5f0"/>
<path d="M263,642.3h8.07v0.86h-8.07zM263,643.16h5.23v0.86h-5.23zM263,644.02h8.72v0.86h-8.72zM263,644.88h4.83v0.86h-4.83zM263,645.74h7.97v0.86h-7.97zM263,646.6h12.64v0.86h-12.64zM263,647.46h10.03v0.86h-10.03zM263,648.32h10.03v0.86h-10.03zM263,649.18h10.09v0.86h-10.09zM263,650.04h9.13v0.86h-9.13zM263,650.9h11.23v0.86h-11.23zM263,651.76h6.23v0.86h-6.23zM263,652.62h8.07v0.86h-8.07zM263,653.48h11.26v0.86h-11.26zM263,654.34h7.38v0.86h-7.38zM263,655.2h8.46v0.86h-8.46zM263,656.06h13.04v0.86h-13.04zM263,656.92h13.56v0.86h-13.56zM263,657.78h8.54v0.86h-8.54zM263,658.64h8.13v0.86h-8.13zM263,659.5h10.66v0.86h-10.66zM263,660.36h10.8v0.86h-10.8zM263,661.22h8.83v0.86h-8.83zM263,662.08h12.17v0.86h-12.17zM263,662.94h11.51v0.86h-11.51zM263,663.8h10.66v0.86h-10.66zM263,664.66h14.73v0.86h-14.73zM263,665.52h11.03v0.86h-11.03zM263,666.38h11.41v0.86h-11.41zM263,667.24h12.27v0.86h-12.27zM263,669.82h14.73v0.86h-14.73zM263,670.68h11.85v0.86h-11.85zM263,671.54h7.44v0.86h-7.44zM263,672.4h9.84v0.86h-9.84zM263,673.26h9.21v0.86h-9.21zM263,674.12h8.03v0.86h-8.03zM263,674.98h10.23v0.86h-10.23zM263,675.84h10.23v0.86h-10.23z" fill="#fa0000"/>
<path d="M263,642.3h3.92v0.86h-3.92zM263,643.16h5.06v0.86h-5.06zM263,644.02h2.37v0.86h-2.37zM263,644.88h4.59v0.86h-4.59zM263,645.74h4.15v0.86h-4.15zM263,646.6h3.42v0.86h-3.42zM263,647.46h4.07v0.86h-4.07zM263,648.32h2.78v0.86h-2.78zM263,649.18h4.47v0.86h-4.47zM263,650.04h2.97v0.86h-2.97zM263,650.9h2.51v0.86h-2.51zM263,651.76h5.8v0.86h-5.8zM263,652.62h3.55v0.86h-3.55zM263,653.48h1.95v0.86h-1.95zM263,654.34h5.59v0.86h-5.59zM263,655.2h3.56v0.86h-3.56zM263,656.06h0.8v0.86h-0.8zM263,656.92h4.56v0.86h-4.56zM263,657.78h6v0.86h-6zM263,658.64h5.34v0.86h-5.34zM263,659.5h6.2v0.86h-6.2zM263,660.36h4.51v0.86h-4.51zM263,661.22h5.4v0.86h-5.4zM263,662.08h3.44v0.86h-3.44zM263,662.94h4.54v0.86h-4.54zM263,663.8h5.88v0.86h-5.88zM263,664.66h4.59v0.86h-4.59zM263,665.52h4.06v0.86h-4.06zM263,666.38h1.6v0.86h-1.6zM263,667.24h3.37v0.86h-3.37zM263,669.82h2.18v0.86h-2.18zM263,670.68h4.79v0.86h-4.79zM263,671.54h3.24v0.86h-3.24zM263,672.4h4.67v0.86h-4.67zM263,673.26h3.05v0.86h-3.05zM263,674.12h6.2v0.86h-6.2zM263,674.98h2.8v0.86h-2.8zM263,675.84h4.44v0.86h-4.44z" fill="#0000fa"/>
<line x1="263" y1="642.1" x2="263" y2="677.3" stroke="#161616" stroke-width="0.95" />
<path d="M293.93,651.7h13.67v0.86h-13.67zM297.45,652.56h10.15v0.86h-10.15zM296.54,653.42h11.06v0.86h-11.06zM298.48,654.28h9.12v0.86h-9.12zM297.13,655.14h10.47v0.86h-10.47zM297.04,656h10.56v0.86h-10.56zM297.32,656.86h10.28v0.86h-10.28zM298.95,657.72h8.65v0.86h-8.65zM300.11,658.58h7.49v0.86h-7.49zM297.63,659.44h9.97v0.86h-9.97zM297.89,660.3h9.71v0.86h-9.71zM297.86,661.16h9.74v0.86h-9.74zM296.63,662.02h10.97v0.86h-10.97zM299.14,662.88h8.46v0.86h-8.46zM301.99,663.74h5.61v0.86h-5.61zM297.59,664.6h10.01v0.86h-10.01zM300.79,665.46h6.81v0.86h-6.81zM299.34,667.18h8.26v0.86h-8.26zM294.41,668.04h13.19v0.86h-13.19zM295.02,668.9h12.58v0.86h-12.58zM297.79,669.76h9.81v0.86h-9.81zM297.62,670.62h9.98v0.86h-9.98zM296.66,671.48h10.94v0.86h-10.94zM299.75,672.34h7.85v0.86h-7.85zM295.37,673.2h12.23v0.86h-12.23zM297.74,674.06h9.86v0.86h-9.86zM293.38,674.92h14.22v0.86h-14.22zM299.65,675.78h7.95v0.86h-7.95z" fill="#f6b37a"/>
<path d="M298.75,651.7h8.85v0.86h-8.85zM304.76,652.56h2.84v0.86h-2.84zM304.58,653.42h3.02v0.86h-3.02zM298.99,654.28h8.61v0.86h-8.61zM303.6,655.14h4v0.86h-4zM300.92,656h6.68v0.86h-6.68zM303.51,656.86h4.09v0.86h-4.09zM299.99,657.72h7.61v0.86h-7.61zM300.11,658.58h7.49v0.86h-7.49zM300.35,659.44h7.25v0.86h-7.25zM299.46,660.3h8.14v0.86h-8.14zM300.81,661.16h6.79v0.86h-6.79zM300.29,662.02h7.31v0.86h-7.31zM299.14,662.88h8.46v0.86h-8.46zM301.99,663.74h5.61v0.86h-5.61zM301.87,664.6h5.73v0.86h-5.73zM302.24,665.46h5.36v0.86h-5.36zM301.46,667.18h6.14v0.86h-6.14zM301.28,668.04h6.32v0.86h-6.32zM300.61,668.9h6.99v0.86h-6.99zM301.91,669.76h5.69v0.86h-5.69zM299.85,670.62h7.75v0.86h-7.75zM301.21,671.48h6.39v0.86h-6.39zM300.68,672.34h6.92v0.86h-6.92zM301.53,673.2h6.07v0.86h-6.07zM300.87,674.06h6.73v0.86h-6.73zM303.67,674.92h3.93v0.86h-3.93zM299.65,675.78h7.95v0.86h-7.95z" fill="#0000fa"/>
<path d="M305.06,651.7h2.54v0.86h-2.54zM305.65,652.56h1.95v0.86h-1.95zM304.58,653.42h3.02v0.86h-3.02zM305.93,654.28h1.67v0.86h-1.67zM303.6,655.14h4v0.86h-4zM305.39,656h2.21v0.86h-2.21zM304.49,656.86h3.11v0.86h-3.11zM305.03,657.72h2.57v0.86h-2.57zM305.09,658.58h2.51v0.86h-2.51zM304.08,659.44h3.52v0.86h-3.52zM304.19,660.3h3.41v0.86h-3.41zM305.09,661.16h2.51v0.86h-2.51zM305.4,662.02h2.2v0.86h-2.2zM303.57,662.88h4.03v0.86h-4.03zM303.76,663.74h3.84v0.86h-3.84zM304.82,664.6h2.78v0.86h-2.78zM305.11,665.46h2.49v0.86h-2.49zM304.71,667.18h2.89v0.86h-2.89zM304.84,668.04h2.76v0.86h-2.76zM304,668.9h3.6v0.86h-3.6zM305.95,669.76h1.65v0.86h-1.65zM305.21,670.62h2.39v0.86h-2.39zM305.9,671.48h1.7v0.86h-1.7zM304.13,672.34h3.47v0.86h-3.47zM303.6,673.2h4v0.86h-4zM305.14,674.06h2.46v0.86h-2.46zM304.77,674.92h2.83v0.86h-2.83zM304.16,675.78h3.44v0.86h-3.44z" fill="#fa0000"/>
<line x1="307.6" y1="651.5" x2="307.6" y2="677.3" stroke="#161616" stroke-width="0.95" />
<path d="M342.17,649.2h10.33v0.86h-10.33zM343.75,650.06h8.75v0.86h-8.75zM343.39,650.92h9.11v0.86h-9.11zM343.78,651.78h8.72v0.86h-8.72zM345.16,652.64h7.34v0.86h-7.34zM341.91,653.5h10.59v0.86h-10.59zM344.91,654.36h7.59v0.86h-7.59zM346.76,655.22h5.74v0.86h-5.74zM345.68,656.08h6.82v0.86h-6.82zM347.32,656.94h5.18v0.86h-5.18zM344.64,657.8h7.86v0.86h-7.86zM342.78,658.66h9.72v0.86h-9.72zM345.96,659.52h6.54v0.86h-6.54zM342.12,660.38h10.38v0.86h-10.38zM340.77,661.24h11.73v0.86h-11.73zM343.04,662.1h9.46v0.86h-9.46zM345.4,662.96h7.1v0.86h-7.1zM345.15,663.82h7.35v0.86h-7.35zM344.57,665.54h7.93v0.86h-7.93zM346.03,666.4h6.47v0.86h-6.47zM346.26,667.26h6.24v0.86h-6.24zM344.8,668.12h7.7v0.86h-7.7zM345.04,668.98h7.46v0.86h-7.46zM343.53,669.84h8.97v0.86h-8.97zM346.5,670.7h6v0.86h-6zM341.58,671.56h10.92v0.86h-10.92zM342.76,672.42h9.74v0.86h-9.74zM342.98,673.28h9.52v0.86h-9.52zM345.39,674.14h7.11v0.86h-7.11zM342.07,675h10.43v0.86h-10.43zM345.4,675.86h7.1v0.86h-7.1z" fill="#f6b37a"/>
<path d="M352.5,649.2h6.19v0.86h-6.19zM352.5,650.06h5.96v0.86h-5.96zM352.5,650.92h6.4v0.86h-6.4zM352.5,651.78h6.09v0.86h-6.09zM352.5,652.64h6.75v0.86h-6.75zM352.5,653.5h5.61v0.86h-5.61zM352.5,654.36h6.24v0.86h-6.24zM352.5,655.22h5.05v0.86h-5.05zM352.5,656.08h5.71v0.86h-5.71zM352.5,656.94h6.61v0.86h-6.61zM352.5,657.8h5.07v0.86h-5.07zM352.5,658.66h6.34v0.86h-6.34zM352.5,659.52h4.77v0.86h-4.77zM352.5,660.38h5.43v0.86h-5.43zM352.5,661.24h5.21v0.86h-5.21zM352.5,662.1h7.4v0.86h-7.4zM352.5,662.96h5.12v0.86h-5.12zM352.5,663.82h7.87v0.86h-7.87zM352.5,665.54h4.73v0.86h-4.73zM352.5,666.4h6.52v0.86h-6.52zM352.5,667.26h7.83v0.86h-7.83zM352.5,668.12h7.66v0.86h-7.66zM352.5,668.98h5.8v0.86h-5.8zM352.5,669.84h5.52v0.86h-5.52zM352.5,670.7h7.93v0.86h-7.93zM352.5,671.56h5.3v0.86h-5.3zM352.5,672.42h7.11v0.86h-7.11zM352.5,673.28h5.37v0.86h-5.37zM352.5,674.14h5.73v0.86h-5.73zM352.5,675h8.32v0.86h-8.32zM352.5,675.86h7.65v0.86h-7.65z" fill="#97b5f0"/>
<path d="M349.73,649.2h2.77v0.86h-2.77zM347.79,650.06h4.71v0.86h-4.71zM346.58,650.92h5.92v0.86h-5.92zM350.83,651.78h1.67v0.86h-1.67zM349.96,652.64h2.54v0.86h-2.54zM347.8,653.5h4.7v0.86h-4.7zM346.71,654.36h5.79v0.86h-5.79zM347.98,655.22h4.52v0.86h-4.52zM347.86,656.08h4.64v0.86h-4.64zM347.66,656.94h4.84v0.86h-4.84zM347.61,657.8h4.89v0.86h-4.89zM346.24,658.66h6.26v0.86h-6.26zM347.58,659.52h4.92v0.86h-4.92zM349.92,660.38h2.58v0.86h-2.58zM349.1,661.24h3.4v0.86h-3.4zM348.24,662.1h4.26v0.86h-4.26zM349.69,662.96h2.81v0.86h-2.81zM348.73,663.82h3.77v0.86h-3.77zM348.88,665.54h3.62v0.86h-3.62zM349.14,666.4h3.36v0.86h-3.36zM347.39,667.26h5.11v0.86h-5.11zM348.57,668.12h3.93v0.86h-3.93zM349.24,668.98h3.26v0.86h-3.26zM348.95,669.84h3.55v0.86h-3.55zM347.87,670.7h4.63v0.86h-4.63zM345.99,671.56h6.51v0.86h-6.51zM347.7,672.42h4.8v0.86h-4.8zM346.42,673.28h6.08v0.86h-6.08zM347.44,674.14h5.06v0.86h-5.06zM350.35,675h2.15v0.86h-2.15zM347.3,675.86h5.2v0.86h-5.2z" fill="#0000fa"/>
<path d="M352.5,649.2h3.38v0.86h-3.38zM352.5,650.06h2.27v0.86h-2.27zM352.5,650.92h4.46v0.86h-4.46zM352.5,651.78h2.8v0.86h-2.8zM352.5,652.64h4.11v0.86h-4.11zM352.5,653.5h4.65v0.86h-4.65zM352.5,654.36h1.08v0.86h-1.08zM352.5,655.22h2.29v0.86h-2.29zM352.5,656.08h2.88v0.86h-2.88zM352.5,656.94h3.99v0.86h-3.99zM352.5,657.8h2.35v0.86h-2.35zM352.5,658.66h3.03v0.86h-3.03zM352.5,659.52h1.94v0.86h-1.94zM352.5,660.38h3.16v0.86h-3.16zM352.5,661.24h1.5v0.86h-1.5zM352.5,662.1h3.43v0.86h-3.43zM352.5,662.96h0.6v0.86h-0.6zM352.5,663.82h1.18v0.86h-1.18zM352.5,665.54h4.49v0.86h-4.49zM352.5,666.4h3.18v0.86h-3.18zM352.5,667.26h2.42v0.86h-2.42zM352.5,668.12h4.65v0.86h-4.65zM352.5,668.98h4.14v0.86h-4.14zM352.5,669.84h4.26v0.86h-4.26zM352.5,670.7h2.91v0.86h-2.91zM352.5,671.56h3.65v0.86h-3.65zM352.5,672.42h3.6v0.86h-3.6zM352.5,673.28h1.91v0.86h-1.91zM352.5,674.14h3.82v0.86h-3.82zM352.5,675h3.47v0.86h-3.47zM352.5,675.86h4.65v0.86h-4.65z" fill="#fa0000"/>
<line x1="352.5" y1="649" x2="352.5" y2="677.3" stroke="#161616" stroke-width="0.95" />
<path d="M384.83,657h12.47v0.86h-12.47zM383.78,657.86h13.52v0.86h-13.52zM386.05,658.72h11.25v0.86h-11.25zM386.19,659.58h11.11v0.86h-11.11zM389.36,660.44h7.94v0.86h-7.94zM380.75,661.3h16.55v0.86h-16.55zM387.11,662.16h10.19v0.86h-10.19zM383.42,663.02h13.88v0.86h-13.88zM384.09,663.88h13.21v0.86h-13.21zM386.22,664.74h11.08v0.86h-11.08zM384.02,665.6h13.28v0.86h-13.28zM384.38,666.46h12.92v0.86h-12.92zM386.31,667.32h10.99v0.86h-10.99zM385.41,668.18h11.89v0.86h-11.89zM384.79,669.04h12.51v0.86h-12.51zM388,669.9h9.3v0.86h-9.3zM388.56,670.76h8.74v0.86h-8.74z" fill="#f6b37a"/>
<path d="M394.68,657h2.62v0.86h-2.62zM389.11,657.86h8.19v0.86h-8.19zM389.02,658.72h8.28v0.86h-8.28zM389.07,659.58h8.23v0.86h-8.23zM392,660.44h5.3v0.86h-5.3zM391.44,661.3h5.86v0.86h-5.86zM391.65,662.16h5.65v0.86h-5.65zM389.07,663.02h8.23v0.86h-8.23zM392.32,663.88h4.98v0.86h-4.98zM387.83,664.74h9.47v0.86h-9.47zM390.05,665.6h7.25v0.86h-7.25zM394.85,666.46h2.45v0.86h-2.45zM387.21,667.32h10.09v0.86h-10.09zM390.17,668.18h7.13v0.86h-7.13zM390.98,669.04h6.32v0.86h-6.32zM389.95,669.9h7.35v0.86h-7.35zM393.29,670.76h4.01v0.86h-4.01z" fill="#0000fa"/>
<path d="M396.04,657h1.26v0.86h-1.26zM396.03,657.86h1.27v0.86h-1.27zM393.59,658.72h3.71v0.86h-3.71zM393.52,659.58h3.78v0.86h-3.78zM393.27,660.44h4.03v0.86h-4.03zM392.89,661.3h4.41v0.86h-4.41zM393.4,662.16h3.9v0.86h-3.9zM394.7,663.02h2.6v0.86h-2.6zM395.4,663.88h1.9v0.86h-1.9zM395.8,664.74h1.5v0.86h-1.5zM391.89,665.6h5.41v0.86h-5.41zM394.85,666.46h2.45v0.86h-2.45zM394.95,667.32h2.35v0.86h-2.35zM393.68,668.18h3.62v0.86h-3.62zM392.83,669.04h4.47v0.86h-4.47zM391.41,669.9h5.89v0.86h-5.89zM393.73,670.76h3.57v0.86h-3.57z" fill="#fa0000"/>
<line x1="397.3" y1="656.6" x2="397.3" y2="677.3" stroke="#161616" stroke-width="0.95" />
<path d="M434.49,655.2h7.91v0.86h-7.91zM433.84,656.06h8.56v0.86h-8.56zM434.06,656.92h8.34v0.86h-8.34zM434.73,657.78h7.67v0.86h-7.67zM435.88,658.64h6.52v0.86h-6.52zM434.47,659.5h7.93v0.86h-7.93zM432.3,660.36h10.1v0.86h-10.1zM434.89,661.22h7.51v0.86h-7.51zM435.69,662.08h6.71v0.86h-6.71zM433.94,662.94h8.46v0.86h-8.46zM436.34,663.8h6.06v0.86h-6.06zM434.29,664.66h8.11v0.86h-8.11zM435.24,665.52h7.16v0.86h-7.16zM432.86,666.38h9.54v0.86h-9.54zM434.55,667.24h7.85v0.86h-7.85zM433.04,668.1h9.36v0.86h-9.36zM430.67,668.96h11.73v0.86h-11.73zM434.54,669.82h7.86v0.86h-7.86z" fill="#f6b37a"/>
<path d="M442.4,655.2h6.88v0.86h-6.88zM442.4,656.06h7.78v0.86h-7.78zM442.4,656.92h5.78v0.86h-5.78zM442.4,657.78h5.08v0.86h-5.08zM442.4,658.64h6.67v0.86h-6.67zM442.4,659.5h2.9v0.86h-2.9zM442.4,660.36h5.85v0.86h-5.85zM442.4,661.22h6.09v0.86h-6.09zM442.4,662.08h4.91v0.86h-4.91zM442.4,662.94h6.8v0.86h-6.8zM442.4,663.8h5.94v0.86h-5.94zM442.4,664.66h5.22v0.86h-5.22zM442.4,665.52h4.25v0.86h-4.25zM442.4,666.38h5.9v0.86h-5.9zM442.4,667.24h3.74v0.86h-3.74zM442.4,668.1h4.36v0.86h-4.36zM442.4,668.96h5.88v0.86h-5.88zM442.4,669.82h5.82v0.86h-5.82z" fill="#97b5f0"/>
<path d="M442.4,655.2h4.09v0.86h-4.09zM442.4,656.06h3.04v0.86h-3.04zM442.4,656.92h3.49v0.86h-3.49zM442.4,657.78h3.05v0.86h-3.05zM442.4,658.64h3.01v0.86h-3.01zM442.4,659.5h2.9v0.86h-2.9zM442.4,660.36h2.18v0.86h-2.18zM442.4,661.22h4.03v0.86h-4.03zM442.4,662.08h1.48v0.86h-1.48zM442.4,662.94h3.3v0.86h-3.3zM442.4,663.8h1.72v0.86h-1.72zM442.4,664.66h4.55v0.86h-4.55zM442.4,665.52h3.97v0.86h-3.97zM442.4,666.38h2.44v0.86h-2.44zM442.4,667.24h2.83v0.86h-2.83zM442.4,668.1h2.21v0.86h-2.21zM442.4,668.96h3.33v0.86h-3.33zM442.4,669.82h3.95v0.86h-3.95z" fill="#0000fa"/>
<path d="M437.54,655.2h4.86v0.86h-4.86zM436.82,656.06h5.58v0.86h-5.58zM437.61,656.92h4.79v0.86h-4.79zM439.77,657.78h2.63v0.86h-2.63zM435.88,658.64h6.52v0.86h-6.52zM435.05,659.5h7.35v0.86h-7.35zM436.08,660.36h6.32v0.86h-6.32zM436.99,661.22h5.41v0.86h-5.41zM435.98,662.08h6.42v0.86h-6.42zM435.48,662.94h6.92v0.86h-6.92zM438.64,663.8h3.76v0.86h-3.76zM437.19,664.66h5.21v0.86h-5.21zM437.94,665.52h4.46v0.86h-4.46zM436,666.38h6.4v0.86h-6.4zM436.49,667.24h5.91v0.86h-5.91zM439.32,668.1h3.08v0.86h-3.08zM437.82,668.96h4.58v0.86h-4.58zM434.54,669.82h7.86v0.86h-7.86z" fill="#fa0000"/>
<line x1="442.4" y1="655" x2="442.4" y2="677.3" stroke="#161616" stroke-width="0.95" />
<path d="M477.63,615.9h9.37v0.86h-9.37zM479.16,616.76h7.84v0.86h-7.84zM482.2,617.62h4.8v0.86h-4.8zM482.1,618.48h4.9v0.86h-4.9zM478.91,619.34h8.09v0.86h-8.09zM477.46,620.2h9.54v0.86h-9.54zM476.32,621.06h10.68v0.86h-10.68zM478.63,621.92h8.37v0.86h-8.37zM478.04,622.78h8.96v0.86h-8.96zM477.25,623.64h9.75v0.86h-9.75zM476.19,624.5h10.81v0.86h-10.81zM477.75,625.36h9.25v0.86h-9.25zM479.59,626.22h7.41v0.86h-7.41zM476.31,627.08h10.69v0.86h-10.69zM477.6,627.94h9.4v0.86h-9.4zM477.85,628.8h9.15v0.86h-9.15zM480.38,629.66h6.62v0.86h-6.62zM478.77,630.52h8.23v0.86h-8.23zM481.44,631.38h5.56v0.86h-5.56zM482.16,632.24h4.84v0.86h-4.84zM479.67,633.1h7.33v0.86h-7.33zM479.55,633.96h7.45v0.86h-7.45zM478.22,634.82h8.78v0.86h-8.78zM476.39,635.68h10.61v0.86h-10.61zM478.85,636.54h8.15v0.86h-8.15zM475.71,637.4h11.29v0.86h-11.29zM480.04,638.26h6.96v0.86h-6.96zM477.8,639.12h9.2v0.86h-9.2zM480.7,639.98h6.3v0.86h-6.3zM478.34,640.84h8.66v0.86h-8.66zM478.91,641.7h8.09v0.86h-8.09zM479.33,642.56h7.67v0.86h-7.67zM478.42,643.42h8.58v0.86h-8.58zM482.74,644.28h4.26v0.86h-4.26zM478.64,645.14h8.36v0.86h-8.36zM480.39,646h6.61v0.86h-6.61zM479.03,646.86h7.97v0.86h-7.97zM478.75,647.72h8.25v0.86h-8.25zM480.24,648.58h6.76v0.86h-6.76zM480.07,649.44h6.93v0.86h-6.93zM481.15,661.4h5.85v0.86h-5.85zM481.43,662.26h5.57v0.86h-5.57zM482.77,663.12h4.23v0.86h-4.23zM479.52,663.98h7.48v0.86h-7.48zM476.06,664.84h10.94v0.86h-10.94zM481.25,665.7h5.75v0.86h-5.75zM479.64,666.56h7.36v0.86h-7.36zM481.98,667.42h5.02v0.86h-5.02zM477.34,668.28h9.66v0.86h-9.66zM478.37,669.14h8.63v0.86h-8.63zM478.56,670h8.44v0.86h-8.44zM476.37,670.86h10.63v0.86h-10.63zM476.03,671.72h10.97v0.86h-10.97zM476.88,672.58h10.12v0.86h-10.12zM479.29,673.44h7.71v0.86h-7.71zM480.64,674.3h6.36v0.86h-6.36zM479.92,675.16h7.08v0.86h-7.08z" fill="#f6b37a"/>
<path d="M487,615.9h11.66v0.86h-11.66zM487,616.76h5.57v0.86h-5.57zM487,617.62h6.45v0.86h-6.45zM487,618.48h12.14v0.86h-12.14zM487,619.34h8.16v0.86h-8.16zM487,620.2h8.4v0.86h-8.4zM487,621.06h8.53v0.86h-8.53zM487,621.92h10.49v0.86h-10.49zM487,622.78h11.07v0.86h-11.07zM487,623.64h9.31v0.86h-9.31zM487,624.5h8.38v0.86h-8.38zM487,625.36h8.64v0.86h-8.64zM487,626.22h9.42v0.86h-9.42zM487,627.08h10.71v0.86h-10.71zM487,627.94h8.86v0.86h-8.86zM487,628.8h11.54v0.86h-11.54zM487,629.66h6.76v0.86h-6.76zM487,630.52h9.45v0.86h-9.45zM487,631.38h11.67v0.86h-11.67zM487,632.24h11.08v0.86h-11.08zM487,633.1h9v0.86h-9zM487,633.96h7.19v0.86h-7.19zM487,634.82h7.23v0.86h-7.23zM487,635.68h8.37v0.86h-8.37zM487,636.54h9.08v0.86h-9.08zM487,637.4h7.82v0.86h-7.82zM487,638.26h5.37v0.86h-5.37zM487,639.12h6.29v0.86h-6.29zM487,639.98h8.59v0.86h-8.59zM487,640.84h9.38v0.86h-9.38zM487,641.7h5.69v0.86h-5.69zM487,642.56h7.74v0.86h-7.74zM487,643.42h5.51v0.86h-5.51zM487,644.28h7.03v0.86h-7.03zM487,645.14h13.09v0.86h-13.09zM487,646h8.04v0.86h-8.04zM487,646.86h7.67v0.86h-7.67zM487,647.72h7.45v0.86h-7.45zM487,648.58h6.43v0.86h-6.43zM487,649.44h5.14v0.86h-5.14zM487,661.4h4.67v0.86h-4.67zM487,662.26h7.21v0.86h-7.21zM487,663.12h8.18v0.86h-8.18zM487,663.98h9.04v0.86h-9.04zM487,664.84h5.46v0.86h-5.46zM487,665.7h9.57v0.86h-9.57zM487,666.56h9.6v0.86h-9.6zM487,667.42h8.63v0.86h-8.63zM487,668.28h12.85v0.86h-12.85zM487,669.14h8.25v0.86h-8.25zM487,670h7.42v0.86h-7.42zM487,670.86h9.88v0.86h-9.88zM487,671.72h5.37v0.86h-5.37zM487,672.58h11.31v0.86h-11.31zM487,673.44h10.12v0.86h-10.12zM487,674.3h7.19v0.86h-7.19zM487,675.16h9.16v0.86h-9.16z" fill="#97b5f0"/>
<path d="M487,615.9h1.25v0.86h-1.25zM487,616.76h2.99v0.86h-2.99zM487,617.62h3.23v0.86h-3.23zM487,618.48h1.99v0.86h-1.99zM487,619.34h3.57v0.86h-3.57zM487,620.2h3.68v0.86h-3.68zM487,621.06h3.95v0.86h-3.95zM487,621.92h4.95v0.86h-4.95zM487,622.78h4.19v0.86h-4.19zM487,623.64h2.89v0.86h-2.89zM487,624.5h3.53v0.86h-3.53zM487,625.36h3.9v0.86h-3.9zM487,626.22h2.01v0.86h-2.01zM487,627.08h4.63v0.86h-4.63zM487,627.94h4.24v0.86h-4.24zM487,628.8h3.14v0.86h-3.14zM487,629.66h3v0.86h-3zM487,630.52h5.58v0.86h-5.58zM487,631.38h4.65v0.86h-4.65zM487,632.24h4.96v0.86h-4.96zM487,633.1h5.58v0.86h-5.58zM487,633.96h5.25v0.86h-5.25zM487,634.82h4.44v0.86h-4.44zM487,635.68h4.89v0.86h-4.89zM487,636.54h2.91v0.86h-2.91zM487,637.4h4.61v0.86h-4.61zM487,638.26h2.38v0.86h-2.38zM487,639.12h4.25v0.86h-4.25zM487,639.98h4.49v0.86h-4.49zM487,640.84h2.2v0.86h-2.2zM487,641.7h5.58v0.86h-5.58zM487,642.56h2.83v0.86h-2.83zM487,643.42h5.24v0.86h-5.24zM487,644.28h3.45v0.86h-3.45zM487,645.14h4.13v0.86h-4.13zM487,646h3.19v0.86h-3.19zM487,646.86h5.58v0.86h-5.58zM487,647.72h4.79v0.86h-4.79zM487,648.58h5.34v0.86h-5.34zM487,649.44h4.49v0.86h-4.49zM487,661.4h3.64v0.86h-3.64zM487,662.26h4.14v0.86h-4.14zM487,663.12h2.02v0.86h-2.02zM487,663.98h2.27v0.86h-2.27zM487,664.84h4.62v0.86h-4.62zM487,665.7h3.42v0.86h-3.42zM487,666.56h5.37v0.86h-5.37zM487,667.42h4.29v0.86h-4.29zM487,668.28h2.3v0.86h-2.3zM487,669.14h4.24v0.86h-4.24zM487,670h2.75v0.86h-2.75zM487,670.86h4.13v0.86h-4.13zM487,671.72h5.15v0.86h-5.15zM487,672.58h5.58v0.86h-5.58zM487,673.44h3.62v0.86h-3.62zM487,674.3h4.45v0.86h-4.45zM487,675.16h4.03v0.86h-4.03z" fill="#0000fa"/>
<path d="M483.81,615.9h3.19v0.86h-3.19zM483.32,616.76h3.68v0.86h-3.68zM482.2,617.62h4.8v0.86h-4.8zM483.05,618.48h3.95v0.86h-3.95zM485.01,619.34h1.99v0.86h-1.99zM483.83,620.2h3.17v0.86h-3.17zM482.59,621.06h4.41v0.86h-4.41zM484.11,621.92h2.89v0.86h-2.89zM483.43,622.78h3.57v0.86h-3.57zM483.79,623.64h3.21v0.86h-3.21zM483.1,624.5h3.9v0.86h-3.9zM483.83,625.36h3.17v0.86h-3.17zM483.83,626.22h3.17v0.86h-3.17zM484.64,627.08h2.36v0.86h-2.36zM483.53,627.94h3.47v0.86h-3.47zM484.5,628.8h2.5v0.86h-2.5zM481.6,629.66h5.4v0.86h-5.4zM483.23,630.52h3.77v0.86h-3.77zM483.5,631.38h3.5v0.86h-3.5zM482.67,632.24h4.33v0.86h-4.33zM483.61,633.1h3.39v0.86h-3.39zM483.49,633.96h3.51v0.86h-3.51zM483.25,634.82h3.75v0.86h-3.75zM484.05,635.68h2.95v0.86h-2.95zM484.44,636.54h2.56v0.86h-2.56zM484.16,637.4h2.84v0.86h-2.84zM482.01,638.26h4.99v0.86h-4.99zM483.61,639.12h3.39v0.86h-3.39zM483.17,639.98h3.83v0.86h-3.83zM483.15,640.84h3.85v0.86h-3.85zM482.26,641.7h4.74v0.86h-4.74zM481.42,642.56h5.58v0.86h-5.58zM484.15,643.42h2.85v0.86h-2.85zM482.74,644.28h4.26v0.86h-4.26zM483.35,645.14h3.65v0.86h-3.65zM483.95,646h3.05v0.86h-3.05zM483.19,646.86h3.81v0.86h-3.81zM485.33,647.72h1.67v0.86h-1.67zM482.91,648.58h4.09v0.86h-4.09zM483.46,649.44h3.54v0.86h-3.54zM485.13,661.4h1.87v0.86h-1.87zM483.79,662.26h3.21v0.86h-3.21zM482.77,663.12h4.23v0.86h-4.23zM484.13,663.98h2.87v0.86h-2.87zM484.17,664.84h2.83v0.86h-2.83zM483.85,665.7h3.15v0.86h-3.15zM483.28,666.56h3.72v0.86h-3.72zM483.71,667.42h3.29v0.86h-3.29zM483.01,668.28h3.99v0.86h-3.99zM485.07,669.14h1.93v0.86h-1.93zM481.77,670h5.23v0.86h-5.23zM482.8,670.86h4.2v0.86h-4.2zM484.35,671.72h2.65v0.86h-2.65zM482.03,672.58h4.97v0.86h-4.97zM482.92,673.44h4.08v0.86h-4.08zM481.55,674.3h5.45v0.86h-5.45zM484.41,675.16h2.59v0.86h-2.59z" fill="#fa0000"/>
<line x1="487" y1="609.7" x2="487" y2="677.3" stroke="#5a5a5a" stroke-width="0.95" />
<path d="M17.7,524.91 L24.8,528.6 L17.7,532.29 Z" fill="#fa0000" stroke="none" stroke-width="1" />
<path d="M107.6,521.82 L114.3,525.3 L107.6,528.78 Z" fill="#0000fa" stroke="none" stroke-width="1" />
<path d="M247.1,533.62 L253.8,537.1 L247.1,540.58 Z" fill="#0000fa" stroke="none" stroke-width="1" />
<path d="M331.2,560.96 L338,564.5 L331.2,568.04 Z" fill="#0000fa" stroke="none" stroke-width="1" />
<path d="M331.2,582.56 L338,586.1 L331.2,589.64 Z" fill="#fa0000" stroke="none" stroke-width="1" />
<path d="M514.5,539.52 L521,542.9 L514.5,546.28 Z" fill="#0000fa" stroke="none" stroke-width="1" />
<path d="M199,653.31 L205.9,656.9 L199,660.49 Z" fill="#0000fa" stroke="none" stroke-width="1" />
<line x1="17" y1="591.4" x2="60.2" y2="591.4" stroke="#3a3a3a" stroke-width="0.9" />
<text x="38.6" y="599" font-size="6.6" text-anchor="middle" fill="#111" stroke="#111" stroke-width="0.13">chr1</text>
<line x1="61.86" y1="591.4" x2="105.06" y2="591.4" stroke="#3a3a3a" stroke-width="0.9" />
<text x="83.46" y="599" font-size="6.6" text-anchor="middle" fill="#111" stroke="#111" stroke-width="0.13">chr2</text>
<line x1="106.72" y1="591.4" x2="149.92" y2="591.4" stroke="#3a3a3a" stroke-width="0.9" />
<text x="128.32" y="599" font-size="6.6" text-anchor="middle" fill="#111" stroke="#111" stroke-width="0.13">chr3</text>
<line x1="151.58" y1="591.4" x2="194.78" y2="591.4" stroke="#3a3a3a" stroke-width="0.9" />
<text x="173.18" y="599" font-size="6.6" text-anchor="middle" fill="#111" stroke="#111" stroke-width="0.13">chr4</text>
<line x1="196.44" y1="591.4" x2="239.64" y2="591.4" stroke="#3a3a3a" stroke-width="0.9" />
<text x="218.04" y="599" font-size="6.6" text-anchor="middle" fill="#111" stroke="#111" stroke-width="0.13">chr5</text>
<line x1="241.3" y1="591.4" x2="284.5" y2="591.4" stroke="#3a3a3a" stroke-width="0.9" />
<text x="262.9" y="599" font-size="6.6" text-anchor="middle" fill="#111" stroke="#111" stroke-width="0.13">chr6</text>
<line x1="286.16" y1="591.4" x2="329.36" y2="591.4" stroke="#3a3a3a" stroke-width="0.9" />
<text x="307.76" y="599" font-size="6.6" text-anchor="middle" fill="#111" stroke="#111" stroke-width="0.13">chr7</text>
<line x1="331.02" y1="591.4" x2="374.22" y2="591.4" stroke="#3a3a3a" stroke-width="0.9" />
<text x="352.62" y="599" font-size="6.6" text-anchor="middle" fill="#111" stroke="#111" stroke-width="0.13">chr8</text>
<line x1="375.88" y1="591.4" x2="419.08" y2="591.4" stroke="#3a3a3a" stroke-width="0.9" />
<text x="397.48" y="599" font-size="6.6" text-anchor="middle" fill="#111" stroke="#111" stroke-width="0.13">chr9</text>
<line x1="420.74" y1="591.4" x2="463.94" y2="591.4" stroke="#3a3a3a" stroke-width="0.9" />
<text x="442.34" y="599" font-size="6.6" text-anchor="middle" fill="#111" stroke="#111" stroke-width="0.13">chr10</text>
<line x1="465.6" y1="591.4" x2="508.8" y2="591.4" stroke="#3a3a3a" stroke-width="0.9" />
<text x="487.2" y="599" font-size="6.6" text-anchor="middle" fill="#111" stroke="#111" stroke-width="0.13">chr11</text>
<line x1="510.46" y1="591.4" x2="553.66" y2="591.4" stroke="#3a3a3a" stroke-width="0.9" />
<text x="532.06" y="599" font-size="6.6" text-anchor="middle" fill="#111" stroke="#111" stroke-width="0.13">chr12</text>
<line x1="17" y1="677.3" x2="60.2" y2="677.3" stroke="#3a3a3a" stroke-width="0.9" />
<text x="38.6" y="684.9" font-size="6.6" text-anchor="middle" fill="#111" stroke="#111" stroke-width="0.13">chr13</text>
<line x1="61.86" y1="677.3" x2="105.06" y2="677.3" stroke="#3a3a3a" stroke-width="0.9" />
<text x="83.46" y="684.9" font-size="6.6" text-anchor="middle" fill="#111" stroke="#111" stroke-width="0.13">chr14</text>
<line x1="106.72" y1="677.3" x2="149.92" y2="677.3" stroke="#3a3a3a" stroke-width="0.9" />
<text x="128.32" y="684.9" font-size="6.6" text-anchor="middle" fill="#111" stroke="#111" stroke-width="0.13">chr15</text>
<line x1="151.58" y1="677.3" x2="194.78" y2="677.3" stroke="#3a3a3a" stroke-width="0.9" />
<text x="173.18" y="684.9" font-size="6.6" text-anchor="middle" fill="#111" stroke="#111" stroke-width="0.13">chr16</text>
<line x1="196.44" y1="677.3" x2="239.64" y2="677.3" stroke="#3a3a3a" stroke-width="0.9" />
<text x="218.04" y="684.9" font-size="6.6" text-anchor="middle" fill="#111" stroke="#111" stroke-width="0.13">chr17</text>
<line x1="241.3" y1="677.3" x2="284.5" y2="677.3" stroke="#3a3a3a" stroke-width="0.9" />
<text x="262.9" y="684.9" font-size="6.6" text-anchor="middle" fill="#111" stroke="#111" stroke-width="0.13">chr18</text>
<line x1="286.16" y1="677.3" x2="329.36" y2="677.3" stroke="#3a3a3a" stroke-width="0.9" />
<text x="307.76" y="684.9" font-size="6.6" text-anchor="middle" fill="#111" stroke="#111" stroke-width="0.13">chr19</text>
<line x1="331.02" y1="677.3" x2="374.22" y2="677.3" stroke="#3a3a3a" stroke-width="0.9" />
<text x="352.62" y="684.9" font-size="6.6" text-anchor="middle" fill="#111" stroke="#111" stroke-width="0.13">chr20</text>
<line x1="375.88" y1="677.3" x2="419.08" y2="677.3" stroke="#3a3a3a" stroke-width="0.9" />
<text x="397.48" y="684.9" font-size="6.6" text-anchor="middle" fill="#111" stroke="#111" stroke-width="0.13">chr21</text>
<line x1="420.74" y1="677.3" x2="463.94" y2="677.3" stroke="#3a3a3a" stroke-width="0.9" />
<text x="442.34" y="684.9" font-size="6.6" text-anchor="middle" fill="#111" stroke="#111" stroke-width="0.13">chr22</text>
<line x1="465.6" y1="677.3" x2="508.8" y2="677.3" stroke="#3a3a3a" stroke-width="0.9" />
<text x="487.2" y="684.9" font-size="6.6" text-anchor="middle" fill="#111" stroke="#111" stroke-width="0.13">chrX</text>
<rect x="423.3" y="483.7" width="134.9" height="40.6" rx="2" fill="#fff" stroke="#d0d0d0" stroke-width="0.7"/>
<path d="M429,486.96 L435.8,490.5 L429,494.04 Z" fill="#0000fa" stroke="none" stroke-width="1" />
<path d="M429,499.46 L435.8,503 L429,506.54 Z" fill="#fa0000" stroke="none" stroke-width="1" />
<text x="438.8" y="492.81" font-size="6.6" fill="#111" stroke="#111" stroke-width="0.13">SCE</text>
<text x="438.8" y="505.31" font-size="6.6" fill="#111" stroke="#111" stroke-width="0.13">Inversion</text>
<rect x="477" y="487.8" width="5.8" height="5.8" fill="#8eaeec" />
<rect x="477" y="500.3" width="5.8" height="5.8" fill="#f6ab68" />
<text x="486.2" y="492.81" font-size="6.6" fill="#111" stroke="#111" stroke-width="0.13">Crick</text>
<text x="486.2" y="505.31" font-size="6.6" fill="#111" stroke="#111" stroke-width="0.13">Watson</text>
<rect x="518.2" y="487.8" width="5.8" height="5.8" fill="#0000fa" />
<rect x="518.2" y="500.3" width="5.8" height="5.8" fill="#fa0000" />
<text x="527.5" y="492.81" font-size="6.6" fill="#111" stroke="#111" stroke-width="0.13">Paternal</text>
<text x="527.5" y="505.31" font-size="6.6" fill="#111" stroke="#111" stroke-width="0.13">Maternal</text>
<text x="552.2" y="519.31" font-size="6.6" text-anchor="end" fill="#111" stroke="#111" stroke-width="0.13">Bin width: 2 M</text></svg></body></html>
